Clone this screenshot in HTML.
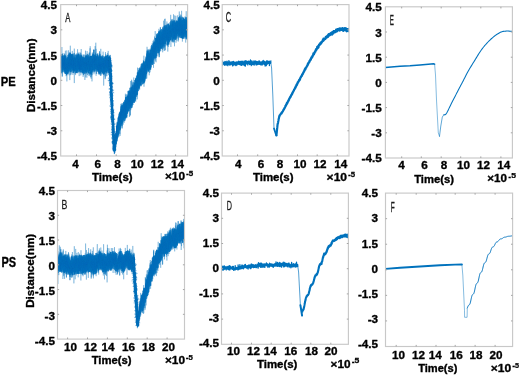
<!DOCTYPE html>
<html><head><meta charset="utf-8"><style>html,body{margin:0;padding:0;background:#fff;overflow:hidden;width:520px;height:376px;}svg{display:block}</style></head>
<body>
<svg width="520" height="376" viewBox="0 0 520 376">
<defs><clipPath id="cA"><rect x="60.7" y="4.6" width="126.9" height="151.4"/></clipPath><clipPath id="cC"><rect x="222.2" y="4.6" width="126.8" height="151.4"/></clipPath><clipPath id="cE"><rect x="385.4" y="6.8" width="127" height="151.2"/></clipPath><clipPath id="cB"><rect x="57.5" y="190.5" width="127" height="148.6"/></clipPath><clipPath id="cD"><rect x="221.5" y="193.1" width="126.9" height="151.2"/></clipPath><clipPath id="cF"><rect x="385.5" y="193.1" width="127.1" height="153.4"/></clipPath></defs>
<rect width="520" height="376" fill="#fff"/>
<g clip-path="url(#cA)"><path d="M60.7 66.5l0.1 2.9 0 -3.1 0 -10.1 0.1 13.6 0 -2.8 0.1 -6.1 0 6.9 0.1 -1.4 0 -0.5 0.1 -1.6 0 3.2 0.1 -8 0 3.5 0.1 -2 0 6.7 0.1 -3.5 0 -2.1 0.1 -3 0 3.2 0.1 1.6 0 -1.8 0.1 9.8 0 -1.9 0.1 -23 0 5 0.1 10.7 0 -1.6 0.1 3.9 0 0 0.1 11.8 0 -20.1 0.1 4.6 0 14.9 0.1 -8.6 0 0 0.1 -7.3 0 -7 0.1 11.2 0 -0.4 0.1 -8.3 0 3.4 0.1 3.7 0 -5.4 0.1 5.2 0 1.2 0.1 -0.4 0 -3.4 0.1 6.8 0 1.8 0.1 -3.5 0 -7.1 0.1 9.6 0 -7.7 0.1 8.6 0 -12.2 0.1 12.3 0 -5.8 0.1 -7.6 0 5.7 0.1 2.3 0 1.4 0.1 -7.7 0 -0.8 0.1 8.2 0 -4.1 0.1 4.4 0 3.3 0.1 -14.9 0 11.9 0.1 6 0 -9.3 0.1 -3.2 0 9.8 0.1 -3.1 0 4 0.1 -7.6 0 -7 0.1 8.6 0 -2.1 0.1 7.6 0 -3.5 0.1 -11.3 0 2.8 0.1 12.9 0 -1.2 0.1 -8.1 0 4 0.1 2.8 0 0.2 0.1 2.5 0 -3.7 0.1 -2.2 0 -0.9 0.1 8.2 0 -20.5 0.1 13.1 0 1.2 0.1 -9 0 10.9 0.1 -6 0 9.4 0.1 -6.1 0 5 0.1 3.4 0 -5.1 0.1 -7.7 0 -4 0.1 20.4 0 -11.6 0.1 -3.5 0 5.2 0.1 -2 0 6.5 0.1 -5 0 -0.1 0.1 -4.5 0 7.4 0.1 -9.2 0 10.5 0.1 5.4 0 -19 0.1 -5.9 0 19.1 0.1 11.9 0 -22 0.1 -1.7 0 11.4 0.1 -8.9 0 2 0.1 0.9 0 5.4 0.1 -5.9 0 4.2 0.1 -2.9 0 -4.2 0.1 3.2 0 -4 0.1 5.9 0 -7.1 0.1 0.2 0 15.7 0.1 -9.4 0 -0.1 0.1 3.5 0 -5.9 0.1 1.2 0 4 0.1 -1 0 -9 0.1 12.3 0 -8.9 0.1 -2.9 0 0.9 0.1 3.1 0 12.4 0.1 -17.4 0 8.2 0.1 -14.3 0 13.2 0.1 5.5 0 -7.1 0.1 -2.5 0 5.3 0.1 2.8 0 -0.3 0.1 8.1 0 -11 0.1 -5 0 2.8 0.1 0.3 0 1 0.1 -0.9 0 1.2 0.1 -11.5 0 15.5 0.1 -8.8 0 -3.8 0.1 11.2 0 4.1 0.1 -5.1 0 -2.1 0.1 -6.7 0 23.6 0.1 -12.3 0 -12.5 0.1 2.2 0 5.4 0.1 -10.1 0 10.7 0.1 -3.9 0 10.5 0.1 -1.6 0 -22.8 0.1 17.1 0 -10.3 0.1 17 0 -5.9 0.1 2.4 0 -10 0.1 18 0 1.2 0.1 -19.1 0 9 0.1 -6.5 0 4 0.1 -7.6 0 19.4 0.1 -17.5 0 4.1 0.1 5 0 -7.1 0.1 2.6 0 -2 0.1 2.7 0 -6.4 0.1 4.5 0 1.5 0.1 -0.8 0 2.5 0.1 -2.2 0 6.5 0.1 -6.6 0 1.2 0.1 -3.3 0 0.9 0.1 -4.6 0 11.1 0.1 -10.3 0 2.5 0.1 6.9 0 0.3 0.1 -5 0 -10 0.1 15.2 0 -1 0.1 -10.3 0 13.5 0.1 -9.1 0 -2.6 0.1 7.6 0 -1.7 0.1 2.4 0 -11.2 0.1 21.2 0 -15 0.1 -5.8 0 13.4 0.1 -6 0 4.2 0.1 -4.1 0 1.7 0.1 1.9 0 -6.1 0.1 8.8 0 -7.1 0.1 -2.5 0 5.9 0.1 2.3 0 -4.2 0.1 -3.9 0 9.2 0.1 -14.7 0 4.5 0.1 6.6 0 -8.6 0.1 8.6 0 -0.5 0.1 5.9 0 -11.2 0.1 1.8 0 5.9 0.1 -17.3 0 34.5 0.1 -23.6 0 -0.1 0.1 9.8 0 -5.5 0.1 -10.8 0 14.9 0.1 1.4 0 -8.1 0.1 1.1 0 4.8 0.1 -8.7 0 8.4 0.1 -1.5 0 -5.4 0.1 -4.4 0 7.2 0.1 -4 0 11.6 0.1 -5.3 0 4 0.1 -4 0 0.8 0.1 -6.5 0 9 0.1 6.9 0 -13 0.1 -1.7 0 2.7 0.1 -2.1 0 -1.3 0.1 5.1 0 -2.6 0.1 10.7 0 -9 0.1 2 0 3.9 0.1 -7.8 0 10.8 0.1 -12.9 0 -1.1 0.1 2.7 0 1.6 0.1 -8 0 8.4 0.1 -10.1 0 18.9 0.1 -9.1 0 -3.5 0.1 -1.7 0 3.2 0.1 1 0 -5.1 0.1 0.7 0 4.6 0.1 -2.1 0 9 0.1 1.2 0 -6.9 0.1 2.8 0 -11.3 0.1 12.2 0 -4.1 0.1 3.2 0 6.9 0.1 -24.1 0 15.7 0.1 -8.4 0 10.4 0.1 -11.8 0 5 0.1 4.4 0 2.5 0.1 -3.4 0 -5.4 0.1 1.5 0 8.9 0.1 -5.6 0 -10.4 0.1 15.7 0 -2.7 0.1 2.8 0 -7.5 0.1 7.2 0 -11.7 0.1 10.1 0 -6.6 0.1 7.2 0 2 0.1 -10.8 0 4.3 0.1 0.5 0 7.2 0.1 -3 0 -12 0.1 10.5 0 1.7 0.1 8.6 0 -23.6 0.1 7.1 0 11.6 0.1 -16.7 0 1 0.1 10.7 0 3.1 0.1 -10.5 0 7.5 0.1 -2.6 0 8.7 0.1 -9.4 0 6.1 0.1 -11.7 0 4.4 0.1 0.6 0 7.7 0.1 -3.5 0 -8.3 0.1 8.9 0 0.6 0.1 -5.5 0 -0.9 0.1 0.4 0 -9.3 0.1 11.7 0 0.3 0.1 -6.8 0 10 0.1 -13.2 0 5.1 0.1 0.5 0 15.3 0.1 -22.2 0 13.4 0.1 2.3 0 -3.5 0.1 5 0 -13.5 0.1 -7.9 0 18.9 0.1 -12.2 0 5.4 0.1 -5.3 0 13.8 0.1 -1.1 0 -9.8 0.1 10 0 -4.8 0.1 -1.6 0 1.2 0.1 -1.6 0 5.1 0.1 -1.9 0 -4 0.1 8.4 0 -10 0.1 5.6 0 0.8 0.1 6.6 0 -12.3 0.1 14 0 -9.7 0.1 -2.3 0 -3 0.1 7.9 0 -3.4 0.1 -7.1 0 -0.1 0.1 3.6 0 -0.8 0.1 11 0 1.8 0.1 -3.1 0 -3.2 0.1 -4.9 0 3.1 0.1 5.1 0 7.8 0.1 -7.6 0 -7.3 0.1 1.9 0 -3.2 0.1 -1.8 0 3.7 0.1 2.4 0 10.2 0.1 -11.1 0 8.1 0.1 2.6 0 -10.4 0.1 9.5 0 -5.6 0.1 -7 0 4.3 0.1 -1.5 0 -1.6 0.1 0.3 0 2.1 0.1 1.8 0 -8.1 0.1 5.4 0 -9.4 0.1 11.1 0 2.3 0.1 -2.9 0 0.8 0.1 1.9 0 -7.7 0.1 2.6 0 4.7 0.1 3 0 -3.8 0.1 13.4 0 -16.4 0.1 6.7 0 1.6 0.1 -8.7 0 -4.2 0.1 -2.3 0 8.3 0.1 5.9 0 -5.2 0.1 -0.6 0 -3.5 0.1 5.8 0 -16.7 0.1 14.7 0 -1.3 0.1 -8.7 0 22 0.1 -22.1 0 1.9 0.1 -0.8 0 14.3 0.1 -12.4 0 9.6 0.1 -0.5 0 -2 0.1 -9.8 0 4.3 0.1 14.2 0 -18.4 0.1 2.8 0 4.2 0.1 6 0 -3.5 0.1 3 0 -11.2 0.1 12.4 0 -2.3 0.1 -13.4 0 19.4 0.1 4.6 0 -19 0.1 5.1 0 8.3 0.1 -17.8 0 -3.2 0.1 4.3 0 4.5 0.1 -0.1 0 7.4 0.1 -2.2 0 -9.4 0.1 11.3 0 8.1 0.1 -4.3 0 -1.3 0.1 -6 0 6 0.1 -12 0 10.7 0.1 -5.2 0 7.6 0.1 -4.1 0 -9.6 0.1 7.6 0 6.8 0.1 -14.5 0 3.6 0.1 -1.3 0 -4.5 0.1 15.3 0 2.2 0.1 -3.1 0 -3.4 0.1 -1.8 0 1.8 0.1 -5.9 0 10.1 0.1 1 0 -0.7 0.1 -9 0 3.8 0.1 -1.5 0 12.2 0.1 -10 0 -12.7 0.1 14.2 0 9.2 0.1 -7.4 0 1.3 0.1 -5.2 0 -12.4 0.1 1 0 3.6 0.1 6.9 0 2.8 0.1 2.4 0 -6.4 0.1 8.1 0 -7.6 0.1 -2.6 0 9.7 0.1 -10.9 0 -11.2 0.1 10.4 0 7.2 0.1 -19.7 0 17 0.1 0.2 0 -6.8 0.1 -0.3 0 6.4 0.1 -0.5 0 11.3 0.1 -5.5 0 -12.1 0.1 4.6 0 9.6 0.1 7.3 0 -9.4 0.1 -0.5 0 9.6 0.1 -11.7 0 -1.9 0.1 -6.9 0 5.6 0.1 16.6 0 -22.3 0.1 8.8 0 -8.9 0.1 9.5 0 4.7 0.1 -7.1 0 6 0.1 -0.1 0 -1.7 0.1 7.8 0 -5.9 0.1 -6.7 0 -2.4 0.1 -1.1 0 8.2 0.1 -5 0 18.8 0.1 -5.5 0 -12.8 0.1 -0.8 0 12.5 0.1 -22.2 0 8.8 0.1 8.7 0 -11.6 0.1 2.6 0 0.8 0.1 6.2 0 -3.3 0.1 1.6 0 1.1 0.1 -3.5 0 6.6 0.1 -11.4 0 -4.4 0.1 -2.2 0 0.9 0.1 6.6 0 9.8 0.1 -5.4 0 -4.8 0.1 -3 0 3.3 0.1 0.7 0 -1 0.1 -5.4 0 5.8 0.1 9.3 0 -19.9 0.1 12 0 -11.7 0.1 14.3 0 -5.8 0.1 -8.3 0 13.6 0.1 10.7 0 -10.6 0.1 6.5 0 -7.6 0.1 -13 0 16.5 0.1 -5.7 0 -6.4 0.1 13.9 0 -3.1 0.1 -5 0 8.6 0.1 -10.8 0 9.4 0.1 -9.8 0 9.2 0.1 -10.2 0 16.1 0.1 -7.6 0 7.3 0.1 -14 0 2.1 0.1 8.2 0 -22.2 0.1 10.4 0 13 0.1 -3.5 0 3.2 0.1 -8 0 5.4 0.1 -8 0 -4 0.1 -2 0 7.1 0.1 0.1 0 -0.5 0.1 -16.6 0 8.1 0.1 9.1 0 5.1 0.1 -5.4 0 -1.8 0.1 -8.9 0 26.8 0.1 -19.3 0 17.3 0.1 -0.8 0 -8 0.1 -5.2 0 4.4 0.1 -8 0 8.8 0.1 -1.6 0 3.3 0.1 2.6 0 4.8 0.1 -13.1 0 8.9 0.1 -11.3 0 -0.6 0.1 1.7 0 -2.2 0.1 12.2 0 -0.3 0.1 2.1 0 -8 0.1 1.9 0 -5.2 0.1 -3.6 0 10 0.1 -1.1 0 -8.5 0.1 10.5 0 -14.4 0.1 9.7 0 -2.7 0.1 0.6 0 -3.4 0.1 12.7 0 -2.4 0.1 3.9 0 -6.5 0.1 -8.9 0 5.8 0.1 -5 0 10.1 0.1 4.7 0 -5.4 0.1 -5.7 0 1.4 0.1 3.6 0 -10.2 0.1 9.9 0 0.3 0.1 -4.5 0 0.8 0.1 3.6 0 -6.1 0.1 0 0 10 0.1 -3.4 0 9 0.1 -16.5 0 -4.9 0.1 16.9 0 0.1 0.1 -10.4 0 -4.5 0.1 8.8 0 -10.6 0.1 8.8 0 -11.4 0.1 12.1 0 -11.7 0.1 11.7 0 10.9 0.1 -11 0 6.4 0.1 -8.8 0 -1.5 0.1 -3.8 0 15.7 0.1 -6.8 0 10.4 0.1 -17.4 0 6 0.1 1.8 0 8.3 0.1 2.5 0 -15.3 0.1 -3 0 -3.8 0.1 19.1 0 -8.8 0.1 -3.5 0 3.7 0.1 -15.6 0 5.2 0.1 16.5 0 -3.4 0.1 -1.5 0 -7.1 0.1 9.8 0 7.4 0.1 -18.6 0 7.7 0.1 -2.8 0 4.9 0.1 -2.2 0 -1 0.1 -4.5 0 5.4 0.1 -3.8 0 2.9 0.1 0.6 0 4.4 0.1 -7.7 0 1.6 0.1 8.7 0 -8 0.1 -0.3 0 7 0.1 -3.7 0 -1.1 0.1 0.8 0 -9 0.1 10.5 0 5.4 0.1 -4.6 0 -13.3 0.1 11.4 0 -7.3 0.1 4.2 0 2.2 0.1 -8.2 0 15.7 0.1 -8.7 0 5.4 0.1 -1 0 4.4 0.1 -0.9 0 -16.5 0.1 9.4 0 -13.5 0.1 10.5 0 7.2 0.1 1.2 0 2.4 0.1 -10.3 0 4.3 0.1 -1.4 0 7.3 0.1 2 0 -12.1 0.1 22.9 0 -20.6 0.1 -2.3 0 6 0.1 1 0 -1.3 0.1 -7.4 0 13.2 0.1 -8.8 0 9.2 0.1 -0.9 0 -16.5 0.1 1.9 0 -0.2 0.1 7.8 0 -1.2 0.1 1.4 0 -6.7 0.1 7.7 0 6 0.1 -16.9 0 7 0.1 2.8 0 -2.3 0.1 -0.4 0 12.2 0.1 -3 0 -2.7 0.1 -10 0 18.6 0.1 -11.6 0 -5.8 0.1 1.5 0 -0.9 0.1 16.1 0 -11.8 0.1 -0.9 0 -13.7 0.1 17.9 0 -11.1 0.1 -0.4 0 10.7 0.1 -9.2 0 10.5 0.1 1.8 0 -18.1 0.1 10.2 0 -8.9 0.1 9.3 0 6 0.1 -14.1 0 19.6 0.1 -13.2 0 -5.4 0.1 6.5 0 5.7 0.1 -13.5 0 8.5 0.1 -8.6 0 16 0.1 -6.6 0 -3.6 0.1 9 0 -14.4 0.1 5.5 0 13.9 0.1 -12.3 0 9.2 0.1 -7.3 0 -5.6 0.1 2.8 0 2 0.1 -3.1 0 -2.6 0.1 0.3 0 -4.4 0.1 9.8 0 1.7 0.1 2.2 0 -15.9 0.1 16.2 0 -5.1 0.1 -8.8 0 9.4 0.1 4.4 0 -1.8 0.1 1.2 0 1.3 0.1 -0.3 0 -5.8 0.1 -12.7 0 8.1 0.1 6.9 0 -5.1 0.1 7.1 0 0.7 0.1 -4.7 0 11.3 0.1 -17.7 0 11.8 0.1 -8.8 0 -1.9 0.1 8.6 0 -7.5 0.1 9.2 0 -12.6 0.1 7.5 0 -5.4 0.1 3.8 0 -0.8 0.1 -4.7 0 11.1 0.1 -11.8 0 1.7 0.1 11.6 0 0.5 0.1 -1.8 0 -2 0.1 12 0 -21.6 0.1 2.9 0 -1.5 0.1 11.7 0 -3.7 0.1 5.1 0 -0.8 0.1 -7.4 0 -3.7 0.1 -1 0 19.8 0.1 -7.6 0 -2.3" fill="none" stroke="#0072BD" stroke-width="0.5" stroke-opacity="0.6" stroke-linejoin="round"/><path d="M60.7 62.7l0 0.6 0.1 -0.7 0 0.1 0 -7.7 0 8.9 0 -1.5 0.1 3.1 0 -0.4 0 3 0 -4 0.1 3.7 0 -12.9 0 4.1 0 13.1 0.1 -13.7 0 4.4 0 4.6 0 -7.4 0.1 7.4 0 -10 0 -2.3 0 2.7 0.1 -1.5 0 7.6 0 -1.4 0 3 0.1 -6.4 0 14.2 0 -9.8 0 0.2 0.1 2.3 0 -3.2 0 -1.9 0 3.4 0.1 3.8 0 -1.2 0 1.3 0 -7 0.1 -1 0 12.9 0 -10.4 0 3.3 0.1 1.2 0 3.2 0 -12.9 0 4 0.1 0.2 0 0.6 0 -7.8 0 8.8 0.1 -8.9 0 10.7 0 1.1 0 0.2 0.1 -8.3 0 10 0 -8.5 0 -1.7 0.1 1.2 0 0.6 0 4.7 0 3 0.1 -13.1 0 6.7 0 6.7 0 -3.2 0.1 1.4 0 -9.3 0 11.4 0 -11.8 0.1 8.2 0 5.4 0 2.4 0 -6.3 0.1 1.7 0 -7 0 0.6 0 7.7 0.1 -5.5 0 -0.6 0 -6 0 7.3 0.1 2.3 0 -6.7 0 1.3 0 9.7 0.1 -6.5 0 -2.2 0 -4 0 2.4 0.1 1.7 0 7.6 0 -9.3 0 11.2 0.1 -12.7 0 2.7 0 5.6 0 -5.1 0.1 -2.8 0 3.3 0 2.7 0 -10.1 0.1 6.8 0 0.6 0 -1.3 0 5.2 0.1 -6 0 0.9 0 1.9 0 3.2 0.1 -4.5 0 8.1 0 -11.3 0 10.2 0.1 -10 0 3.3 0 2.4 0 7.6 0.1 -5.2 0 -6 0 7.9 0 -7 0.1 -2.6 0 5.8 0 -1.7 0 4 0.1 -6.9 0 4.3 0 1.2 0 -1.6 0.1 -1.4 0 -3.1 0 7.5 0 -3.6 0.1 1.7 0 -3.9 0 1.7 0 -4.8 0.1 5.2 0 3.2 0 -3.1 0 3.6 0.1 -2.5 0 4.9 0 -7.2 0 -6.7 0.1 9.6 0 -2.7 0 -3.8 0 7.6 0.1 -1.8 0 0.9 0 -3.6 0 2.5 0.1 0.3 0 7.1 0 -11.4 0 3.1 0.1 1.8 0 -9.7 0 0.6 0 16.8 0.1 -17.5 0 10.9 0 -6.6 0 0.4 0.1 -5.6 0 5 0 7.9 0 -10.1 0.1 9.3 0 -1.3 0 7.8 0 -11.4 0.1 8.1 0 -1.7 0 -5.5 0 -6.4 0.1 14.8 0 -13.3 0 4.1 0 6.4 0.1 1.1 0 -9.1 0 3.8 0 -1 0.1 6.7 0 3.8 0 -17.8 0 12.8 0.1 -13.5 0 9.4 0 -5.2 0 14.4 0.1 -8.4 0 -4.2 0 1.1 0 -0.3 0.1 3.5 0 -1.5 0 3.8 0 4.1 0.1 -3.9 0 -8.9 0 -1.8 0 4 0.1 8.5 0 -6.5 0 -1.5 0 3.8 0.1 -7.2 0 1.3 0 7.7 0 -3.8 0.1 -0.6 0 3.6 0 -4.2 0 -0.5 0.1 1.1 0 5 0 -2.5 0 -5.8 0.1 4.1 0 4.5 0 5.7 0 -14 0.1 6.9 0 -2.7 0 5 0 -1.7 0.1 4.8 0 -4.4 0 -4.9 0 0 0.1 4.4 0 0 0 7.5 0 -1.5 0.1 -13.2 0 7.1 0 -7.9 0 -1.5 0.1 11.1 0 -0.9 0 -7.4 0 12.4 0.1 -12.2 0 -0.9 0 8.4 0 -2 0.1 -1.8 0 0.4 0 1.3 0 -1.7 0.1 -0.2 0 -8 0 2.5 0 9.1 0.1 -6.2 0 5.8 0 3.2 0 -7.5 0.1 3 0 7.9 0 -6.1 0 5.3 0.1 -1.4 0 -3.7 0 -4 0 -3.5 0.1 -1.3 0 7.4 0 -0.1 0 -3 0.1 4.7 0 -6.7 0 7.9 0 -5 0.1 -0.4 0 0.1 0 -0.4 0 9.7 0.1 -16.8 0 8.2 0 5 0 -2.5 0.1 -4.8 0 9.5 0 -13.1 0 -1.1 0.1 8.7 0 -9.5 0 -2.6 0 13.4 0.1 -0.6 0 -0.1 0 -5.7 0 3 0.1 -5.3 0 12.5 0 -4.4 0 -0.3 0.1 -12.5 0 12.8 0 3.1 0 -1.3 0.1 -2 0 -3.7 0 -1.6 0 4.3 0.1 -1 0 -0.7 0 -2.6 0 9.2 0.1 -13.3 0 5.3 0 -2.6 0 7.5 0.1 1.8 0 -0.9 0 -2.3 0 -10.1 0.1 15.8 0 -6.9 0 -2.9 0 0.5 0.1 -1.7 0 3.6 0 -0.6 0 -3.2 0.1 -7.6 0 9.1 0 2.3 0 0.2 0.1 -3.1 0 2.7 0 2.7 0 -7 0.1 9 0 -16 0 3.2 0 1.6 0.1 -5.1 0 4.6 0 10.5 0 -0.1 0.1 -5.3 0 7.5 0 -6.9 0 -3.5 0.1 3.4 0 -1.8 0 4 0 -10.4 0.1 11.6 0 -6.8 0 6.1 0 -11.2 0.1 5.2 0 2.3 0 3.8 0 -9.8 0.1 13.4 0 -5.5 0 -4.7 0 8.1 0.1 -5.1 0 4.9 0 3.9 0 -5.7 0.1 -6 0 0.5 0 4.7 0 -1.4 0.1 -5.2 0 0.8 0 6.2 0 6.2 0.1 -18.6 0 12.7 0 -4.3 0 4.6 0.1 0.4 0 -3.8 0 -4.9 0 -1.8 0.1 -2.2 0 14.4 0 -6.6 0 -1.6 0.1 1.3 0 -4.9 0 7.6 0 4.7 0.1 -0.8 0 -12.6 0 13.7 0 -9.9 0.1 -5.3 0 3.2 0 1.2 0 4.5 0.1 -4.8 0 -2.2 0 5.8 0 10.2 0.1 -12.2 0 5.4 0 -1.7 0 8.9 0.1 -18.1 0 13.9 0 -11 0 3.2 0.1 2.3 0 9.8 0 -12.9 0 -5.2 0.1 14.8 0 -9.9 0 2.8 0 1 0.1 0.6 0 -1.2 0 2 0 0.6 0.1 2.2 0 -6 0 -1.5 0 -1.4 0.1 7.7 0 -3 0 2.8 0 0 0.1 5.3 0 -6.8 0 2.5 0 -9.1 0.1 0.6 0 3.6 0 -4.2 0 8.9 0.1 -9.4 0 6.5 0 -9.6 0 4.2 0.1 3.5 0 0.4 0 -7.1 0 8.9 0.1 4 0 -1.5 0 -6.1 0 0.4 0.1 -2.8 0 8.5 0 3.7 0 -9.1 0.1 -5.4 0 8.8 0 2.4 0 -12.6 0.1 10 0 8.6 0 -5.5 0 -1.2 0.1 -0.7 0 3.1 0 -9.3 0 0.5 0.1 5.8 0 -5.1 0 4.4 0 -10.1 0.1 12.5 0 0.4 0 -3.7 0 0.5 0.1 6.8 0 -12.5 0 0.8 0 -0.9 0.1 3.1 0 -2.7 0 4.9 0 -3.2 0.1 -3.7 0 -0.5 0 12.9 0 -6 0.1 -0.7 0 1.2 0 -0.5 0 3.9 0.1 -0.9 0 -5.4 0 -1.1 0 -1.2 0.1 -0.7 0 12.3 0 -10.8 0 -5 0.1 5.4 0 0.2 0 5.2 0 -5.6 0.1 6.6 0 -0.7 0 4.1 0 3.4 0.1 0 0 -3 0 -11.7 0 3.6 0.1 3 0 8.2 0 -6.2 0 2.5 0.1 -6.4 0 3.5 0 0.6 0 -5.4 0.1 5.7 0 1.4 0 -5.7 0 5.4 0.1 3 0 -7.4 0 -0.3 0 -1.4 0.1 -1.5 0 3.6 0 -2.6 0 0.5 0.1 -2.2 0 -3.5 0 2.8 0 5.9 0.1 -7.1 0 2.5 0 10.7 0 -2.4 0.1 -8.5 0 6.1 0 -5.9 0 10.6 0.1 -10.2 0 3.1 0 6 0 -10.3 0.1 10 0 -9.9 0 4.9 0 -2.5 0.1 1 0 1.2 0 -1.1 0 -4.4 0.1 8.8 0 -0.7 0 2.6 0 0.5 0.1 -12.7 0 12.2 0 0.1 0 -8.5 0.1 7.3 0 2 0 -9.3 0 -3.9 0.1 4.7 0 11 0 -8.2 0 -6.8 0.1 4.5 0 -3.4 0 2.7 0 2.3 0.1 -9.7 0 11 0 4.9 0 -7.5 0.1 -0.9 0 6.9 0 -11 0 0.1 0.1 -0.6 0 5.7 0 2.6 0 -2.3 0.1 3 0 1.3 0 -1.5 0 -6.1 0.1 2.5 0 7.1 0 -10.7 0 3.7 0.1 -0.8 0 1.1 0 -4.1 0 -1.3 0.1 15.5 0 -4.9 0 -7.7 0 3 0.1 3.4 0 -4.7 0 4.4 0 -5.7 0.1 1.2 0 1.3 0 -1.8 0 -7.2 0.1 9.4 0 1.1 0 1 0 -6.8 0.1 6.2 0 -0.6 0 -9.3 0 -1.1 0.1 11.6 0 -6.7 0 9.1 0 4.6 0.1 -12 0 -0.5 0 3.1 0 3.2 0.1 -8.4 0 11 0 -1.2 0 -1.5 0.1 -5.6 0 6.8 0 -0.3 0 -9.6 0.1 14.9 0 -10.7 0 3.1 0 -4.2 0.1 4.2 0 3.6 0 -9.1 0 -4 0.1 5.6 0 -4 0 2.6 0 2.9 0.1 0.3 0 6.3 0 -10.8 0 6.4 0.1 -4 0 8.7 0 2.9 0 -7.9 0.1 6.4 0 -10.3 0 -5 0 1.5 0.1 -1.4 0 2.9 0 3.3 0 6.5 0.1 -2.1 0 -1.2 0 -4.1 0 -1.4 0.1 3.5 0 0.5 0 0.5 0 0.6 0.1 -2.3 0 -8.4 0 3.7 0 1.4 0.1 11.7 0 -9.9 0 5.1 0 3.7 0.1 -5.3 0 -3.4 0 0.5 0 -3.4 0.1 6.1 0 3.8 0 -2.6 0 1 0.1 -0.3 0 6 0 -12.3 0 3.7 0.1 2.5 0 2.5 0 -15.1 0 6.9 0.1 1.4 0 -3.8 0 8.7 0 -2.9 0.1 -2.9 0 -5.8 0 1.5 0 1.5 0.1 6.7 0 -7.8 0 -3.6 0 2.5 0.1 4 0 10.5 0 1.5 0 -11.5 0.1 6.6 0 2.1 0 -0.5 0 -6.5 0.1 -5.6 0 3.8 0 -6.4 0 9.8 0.1 2.5 0 -12.4 0 8.5 0 1.7 0.1 4.4 0 0.6 0 -2.7 0 -6.9 0.1 1.5 0 7.3 0 -8.4 0 2.6 0.1 7.5 0 -6.7 0 -7 0 5 0.1 4.4 0 -3.9 0 6.3 0 0.6 0.1 -9 0 0.7 0 1.8 0 -5.1 0.1 7.4 0 -2.6 0 4.5 0 -6.4 0.1 -1.3 0 12.6 0 -12.6 0 1.3 0.1 -0.6 0 1.9 0 -2.8 0 4.1 0.1 -3.1 0 1.3 0 3.7 0 1.5 0.1 -1.1 0 -5.5 0 5.2 0 -2.4 0.1 0.1 0 -7.5 0 11.1 0 -3.8 0.1 8.6 0 -4.9 0 -8.2 0 -1.2 0.1 11.8 0 -9.5 0 7.3 0 -4.6 0.1 10.7 0 -8.9 0 6.7 0 -0.9 0.1 -8.3 0 0.6 0 8.5 0 -6.9 0.1 -4.1 0 9.7 0 3.6 0 -9.4 0.1 6.7 0 -7.2 0 7.1 0 -7.4 0.1 7.3 0 -3.7 0 -3.3 0 1.9 0.1 -3.6 0 -2.7 0 0.4 0 4.6 0.1 -4.6 0 7 0 0.4 0 -0.3 0.1 -4.5 0 2.6 0 -0.3 0 6.2 0.1 -9.9 0 2 0 0.7 0 0.4 0.1 -2.8 0 0.6 0 7.6 0 -7.6 0.1 7.2 0 4.7 0 -3 0 -14.4 0.1 12 0 -1.3 0 0.3 0 -10.1 0.1 11.1 0 -8.6 0 11.1 0 -1.1 0.1 4 0 -10.8 0 -5.3 0 12 0.1 -0.8 0 -5.8 0 8.1 0 -3.2 0.1 -9.2 0 4.4 0 -0.4 0 1.5 0.1 1.5 0 -4.2 0 2.4 0 3.6 0.1 -3 0 -1 0 -0.1 0 1 0.1 -8.5 0 9.7 0 -5.5 0 5.2 0.1 -7.3 0 11.2 0 -3.2 0 -7.4 0.1 7.4 0 -4.6 0 11.9 0 -6.1 0.1 -6 0 4.8 0 -1.2 0 5.7 0.1 -3.9 0 0.8 0 -7.6 0 8.9 0.1 5.3 0 -6 0 -3.1 0 0.9 0.1 -5.2 0 5.3 0 -5.9 0 5.3 0.1 -2 0 -2 0 6.5 0 -9.6 0.1 6.8 0 -6 0 14.7 0 0.5 0.1 -5.1 0 4.9 0 -6 0 -0.3 0.1 -4.5 0 -2.1 0 4.7 0 -3.1 0.1 0.5 0 5.4 0 -3.9 0 -6.7 0.1 6.3 0 -2.6 0 2.2 0 -3.7 0.1 10.7 0 3.3 0 -14 0 8.1 0.1 -0.2 0 -7.8 0 5.5 0 6.1 0.1 -2.6 0 3.6 0 -13 0 2 0.1 4.8 0 0.3 0 -1.5 0 -1.9 0.1 -0.1 0 -0.9 0 4.9 0 -11.6 0.1 17 0 -9.9 0 -4.2 0 9.2 0.1 -9.1 0 8.3 0 -3.6 0 4.6 0.1 0.9 0 2.4 0 -8.3 0 0.9 0.1 1.3 0 -6.5 0 9.3 0 -2.1 0.1 -6.8 0 11.8 0 0.8 0 -12.5 0.1 8.8 0 3.1 0 -1.9 0 -8.4 0.1 -1.9 0 5.9 0 -1.7 0 2.2 0.1 -0.4 0 2.9 0 -5 0 1.8 0.1 10 0 -9.8 0 4 0 -2 0.1 -0.4 0 -5.2 0 6.7 0 -2.7 0.1 4 0 5.4 0 -8.4 0 2.7 0.1 -8.3 0 5.3 0 6.7 0 -7.5 0.1 -2.7 0 3.9 0 -1.9 0 -0.2 0.1 -0.6 0 10.9 0 -13.3 0 2.1 0.1 -0.7 0 8.4 0 -7.1 0 7.4 0.1 -5.3 0 -0.9 0 -6.7 0 12.4 0.1 -3.1 0 -0.6 0 -2.5 0 -1.4 0.1 -3.9 0 10.3 0 -3.2 0 -2.9 0.1 -1.3 0 3.5 0 -1 0 8 0.1 -4 0 -6.4 0 -2.4 0 4.1 0.1 -3.2 0 4.6 0 1.5 0 1.1 0.1 -1 0 -2.8 0 3.6 0 -6.9 0.1 3.8 0 4.1 0 -2.4 0 -7.3 0.1 0.5 0 -2.1 0 15.9 0 -15.6 0.1 6.5 0 9.2 0 -3.5 0 1.1 0.1 -8.5 0 5.8 0 5.7 0 -9.3 0.1 2.1 0 -3.4 0 1.4 0 1.8 0.1 4.7 0 -10.7 0 -2.4 0 6.7 0.1 0.8 0 5.7 0 -3.3 0 -6.2 0.1 5.5 0 2.6 0 -3.9 0 -2.9 0.1 4.7 0 -4.8 0 -7.1 0 14.9 0.1 -12.2 0 4.4 0 0.1 0 -0.1 0.1 0.2 0 -5.3 0 9.1 0 -2.3 0.1 0 0 4.8 0 0.1 0 1.1 0.1 2.4 0 -6.5 0 -9.3 0 8.1 0.1 -0.9 0 0.3 0 -3.2 0 -1.3 0.1 7.8 0 0.8 0 -9.7 0 7.7 0.1 -3.3 0 -1 0 5 0 -3.5 0.1 -2.3 0 2.8 0 -9.6 0 6.6 0.1 0.7 0 -4.5 0 7.3 0 0.5 0.1 -4.1 0 2.1 0 3.9 0 1.8 0.1 -8.4 0 5.1 0 3.3 0 -5 0.1 -3.4 0 0 0 2.1 0 -3.3 0.1 14.1 0 -11.9 0 4.4 0 -0.9 0.1 2.1 0 -4.7 0 -4.2 0 13.7 0.1 -8 0 0.9 0 0.4 0 5 0.1 -2.3 0 1.9 0 -1.6 0 -3.1 0.1 0.5 0 -4.6 0 -5.6 0 8 0.1 -3.9 0 14.3 0 -2 0 -1.8 0.1 -8 0 11.9 0 -17.2 0 2.3 0.1 2 0 -0.8 0 5.1 0 0.3 0.1 8 0 -4.2 0 1.1 0 -3.8 0.1 -2.6 0 -2.4 0 -3.9 0 3 0.1 2.3 0 5.4 0 -11.4 0 1.5 0.1 7.4 0 -5.9 0 6.5 0 -3.5 0.1 -1.5 0 -2.7 0 5.8 0 -3 0.1 0.6 0 -0.1 0 3.9 0 -0.2 0.1 -8.6 0 7.2 0 2.6 0 3 0.1 -1.2 0 -2.6 0 -6.3 0 1.8 0.1 7.8 0 -7.5 0 8.1 0 1.2 0.1 -10.9 0 7 0 -2.5 0 9.8 0.1 -5.4 0 -6.2 0 4.3 0 -6.2 0.1 3.6 0 1.7 0 -0.2 0 0.7 0.1 -5.6 0 -4.4 0 7 0 -2.5 0.1 0.9 0 12.6 0 -3.8 0 -6.2 0.1 -5.9 0 0.7 0 7.7 0 3.3 0.1 -6.3 0 2 0 0.6 0 3.8 0.1 -13.7 0 9.5 0 1.2 0 2.6 0.1 -2.6 0 -6.9 0 2.4 0 -4.3 0.1 8 0 0 0 1.4 0 -6.9 0.1 -0.8 0 12.4 0 -6.3 0 7.3 0.1 -6.1 0 -8.9 0 10.5 0 2 0.1 -7.9 0 -6.8 0 12 0 -3.8 0.1 1.9 0 -10.6 0 11.4 0 -11.4 0.1 5.2 0 8.1 0 -12.6 0 -0.2 0.1 6.6 0 9.7 0 -0.2 0 -10.4 0.1 7.5 0 -2 0 -1.5 0 0.4 0.1 -5 0 7.1 0 1.1 0 4.4 0.1 -5.1 0 -13.6 0 3.7 0 7.1 0.1 -1.2 0 -9 0 8 0 -1.1 0.1 1.4 0 -0.3 0 4.8 0 2.5 0.1 -3.7 0 -8.3 0 1.1 0 0.9 0.1 2.8 0 -1.7 0 0.3 0 -2.7 0.1 8.7 0 -0.5 0 0.5 0 -4.9 0.1 2.5 0 -6.4 0 -0.5 0 2.2 0.1 5.2 0 -3.4 0 -4.7 0 5.8 0.1 1.5 0 -1.3 0 -3.9 0 3.4 0.1 -2.3 0 0.5 0 1 0 3.9 0.1 5 0 -1.3 0 -4.3 0 -4.8 0.1 0.4 0 0.2 0 6.5 0 -14.6 0.1 10.4 0 -10.5 0 9.3 0 6.1 0.1 -10.4 0 -5.1 0 15.3 0 1 0.1 -4.7 0 3.5 0 -9.6 0 9.1 0.1 2.5 0 -5 0 -1.7 0 4.6 0.1 -0.7 0 -8.8 0 9.8 0 -2.9 0.1 -2.7 0 5.3 0 -1.8 0 -0.8 0.1 -5.9 0 6.2 0 -9 0 4.5 0.1 -7.3 0 -0.1 0 10 0 -2.5 0.1 0.8 0 2.3 0 -1.1 0 -5.8 0.1 4.4 0 -0.7 0 -2.1 0 1.9 0.1 -1.1 0 -1.4 0 1.5 0 2.7 0.1 8.2 0 -13.1 0 6.2 0 -9.2 0.1 14.2 0 -9 0 2.2 0 5.3 0.1 -1.3 0 -11.5 0 9.5 0 -3.7 0.1 4 0 -2.2 0 2.7 0 -2 0.1 -2 0 6.1 0 -12.7 0 5.2 0.1 -2.4 0 3.8 0 -1.4 0 1.3 0.1 -1.5 0 0.1 0 -5.5 0 7.5 0.1 1.6 0 -4.2 0 -0.3 0 0.1 0.1 10.8 0 -7 0 1 0 -3.2 0.1 -1 0 -1.7 0 11.2 0 -15 0.1 9.3 0 -1.5 0 -1.1 0 -6.1 0.1 1.5 0 10.4 0 -7.8 0 7.3 0.1 -1 0 -0.4 0 0.8 0 -9.1 0.1 3.4 0 5.4 0 -9.1 0 13.7 0.1 -10.4 0 2.3 0 -4.4 0 6.4 0.1 -5.1 0 2.3 0 -4.2 0 10.9 0.1 -13.2 0 9.7 0 -1 0 1 0.1 -6.8 0 9.6 0 -0.4 0 -3.7 0.1 0.7 0 -2.2 0 3.8 0 -6.9 0.1 6.5 0 -0.7 0 -8.5 0 -2.7 0.1 8.7 0 -0.2 0 6.5 0 -5.4 0.1 -2.6 0 -4 0 5.9 0 -2.3 0.1 -2.4 0 4.5 0 5.5 0 -4.5 0.1 -5.3 0 6.4 0 -6.6 0 -2.2 0.1 9.6 0 -4.8 0 7.7 0 -3.7 0.1 -5.2 0 4.8 0 5 0 -6.9 0.1 -4.1 0 1.9 0 -0.7 0 -1.7 0.1 -0.6 0 8 0 3.2 0 -6.8 0.1 5.3 0 0.6 0 3.6 0 -8.7 0.1 -0.7 0 3.6 0 -1.5 0 1 0.1 4.6 0 -8 0 3 0 -5.6 0.1 3.9 0 -2.4 0 -0.4 0 2.5 0.1 -1 0 3.8 0 2.1 0 -10.7 0.1 11.6 0 -13.9 0 10.4 0 2.2 0.1 -6.3 0 2 0 -2.6 0 7.8 0.1 -13.4 0 4.8 0 -4.5 0 9.9 0.1 5.2 0 -0.5 0 -2.4 0 -2 0.1 -4.7 0 9.3 0 -2.8 0 -6.8 0.1 -2 0 3 0 8 0 0.8 0.1 1.7 0 -11.1 0 1.9 0 8.2 0.1 -5.4 0 2.5 0 -9.7 0 4.5 0.1 1.6 0 -1.5 0 -0.3 0 -5.6 0.1 15.2 0 -6.9 0 -7.5 0 11.8 0.1 -4.6 0 3 0 -4.2 0 -2.7 0.1 0.1 0 5.2 0 2 0 -1.3 0.1 0.7 0 2.6 0 -4.2 0 3.3 0.1 0.6 0 -3.8 0 -1.7 0 -1.6 0.1 -3.6 0 -1.6 0 13.3 0 -6.1 0.1 -2.5 0 9.9 0 -2.8 0 -4.2 0.1 4.4 0 -5.5 0 2.6 0 6.8 0.1 -3.5 0 -6.2 0 4.5 0 2.3 0.1 -6 0 -1.4 0 10.7 0 -10.1 0.1 -4.7 0 6.9 0 8.3 0 -6 0.1 1.6 0 -14.2 0 7.2 0 8.3 0.1 -7.5 0 8 0 -3.8 0 -0.4 0.1 6 0 -10.1 0 0.2 0 2.7 0.1 0.5 0 -8.9 0 13.7 0 -4.7 0.1 -1.8 0 3.7 0 -4.7 0 7.4 0.1 -5.3 0 3.1 0 -7.5 0 2.9 0.1 3 0 -6.2 0 1.4 0 2.8 0.1 5.4 0 -1.6 0 0.6 0 -2.8 0.1 2.8 0 3 0 -6.4 0 1.2 0.1 0.7 0 -12 0 8.8 0 2.4 0.1 1.6 0 -5 0 6 0 -7.5 0.1 2.1 0 8.7 0 -14.1 0 5.9 0.1 -0.4 0 0.3 0 -2.1 0 5.5 0.1 -8 0 -1.2 0 8.4 0 -7.8 0.1 7.3 0 -1.7 0 -3.3 0 1.6 0.1 1.2 0 2.5 0 -5 0 1.9 0.1 -5.7 0 5.4 0 -7.7 0 8.7 0.1 -1.9 0 11.1 0 -3 0 -6.7 0.1 5.1 0 -3.1 0 -6.7 0 -4.2 0.1 14.7 0 -3.4 0 -10.9 0 12.1 0.1 1.2 0 -7.4 0 6.8 0 -11.6 0.1 6.9 0 1.2 0 3.5 0 -1.8 0.1 -0.8 0 1.5 0 -5.6 0 9.9 0.1 -8.4 0 5.2 0 -3.7 0 -1.1 0.1 3.8 0 -0.6 0 4.2 0 -1.3 0.1 -7.6 0 4.9 0 -1.8 0 -4.2 0.1 -1.4 0 6.3 0 -3.7 0 -3.9 0.1 6 0 1.4 0 -0.5 0 -6.1 0.1 2.9 0 9.1 0 -10 0 2.1 0.1 10.7 0 -7.6 0 -4 0 -6.7 0.1 10.5 0 -7.9 0 6.3 0 -3.9 0.1 -3.7 0 15.4 0 -8.2 0 4.8 0.1 -0.8 0 -6.9 0 3.8 0 -2 0.1 6.1 0 -2.5 0 -3.6 0 9.3 0.1 -5.3 0 -0.2 0 -5.8 0 5.5 0.1 -8.7 0 8.9 0 -6.4 0 5.2 0.1 -2.2 0 2.4 0 0.6 0 -2 0.1 0.1 0 -6.7 0 -1.9 0 14.7 0.1 -3.2 0 -9.5 0 15.7 0 -12.2 0.1 5.7 0 -0.4 0 -1.4 0 2.3 0.1 -9.2 0 6.2 0 -1 0 1.6 0.1 -1.7 0 -1.7 0 -0.4 0 7.5 0.1 -8 0 5.6 0 -0.1 0 -2 0.1 2.4 0 0.5 0 -4.9 0 4 0.1 7.3 0 -13.8 0 3.5 0 -2.1 0.1 12.8 0 -15.8 0 6.6 0 4.3 0.1 -8.4 0 3.5 0 -2.7 0 -2.9 0.1 5.9 0 2.6 0 -4.1 0 2.6 0.1 2.4 0 2.4 0 -11.3 0 8.6 0.1 -5.8 0 -5.8 0 5.1 0 6.6 0.1 -1.5 0 -6.5 0 12.5 0 -5.6 0.1 -2.1 0 -2.2 0 4.4 0 -3.7 0.1 7.1 0 -3.8 0 1.4 0 -4.3 0.1 -5.4 0 9.3 0 -7.2 0 4.2 0.1 0.5 0 -3.6 0 7.8 0 -10.8 0.1 13.6 0 -9.7 0 7.2 0 1.6 0.1 -10 0 0.6 0 7.7 0 -3.5 0.1 -0.4 0 -8.9 0 0.9 0 10.1 0.1 4.1 0 -9.9 0 -0.7 0 5 0.1 1.2 0 0.4 0 -4.6 0 -7 0.1 15.8 0 -9 0 8.1 0 -15 0.1 10.9 0 -4 0 -2.7 0 9.5 0.1 1.4 0 -8.6 0 5.7 0 -8 0.1 2.1 0 1.8 0 -0.5 0 4.6 0.1 -8.6 0 10.1 0 0 0 -5.5 0.1 -4.4 0 -3.9 0 9 0 -3 0.1 3.8 0 -5.4 0 4.9 0 -0.3 0.1 0.3 0 1.2 0 0 0 3.2 0.1 -8.1 0 6.9 0 -2.6 0 -2.7 0.1 -2.7 0 11.3 0 -5.6 0 -3.5 0.1 2.7 0 -0.4 0 -2.4 0 -4 0.1 7.1 0 -1.5 0 -0.5 0 5.8 0.1 -10.6 0 1.6 0 5.1 0 3.1 0.1 -1 0 0.5 0 -12.7 0 11.6 0.1 -0.4 0 1.2 0 -6.3 0 5.5 0.1 2.2 0 2.8 0 -6.2 0 -7.3 0.1 6.3 0 2.7 0 -0.6 0 6.4 0.1 -9.7 0 -3.8 0 1.8 0 5.9 0.1 -6.7 0 -1.2 0 1 0 9.4 0.1 -4.5 0 -2.7 0 5.5 0 -0.8 0.1 -7.7 0 8.3 0 -2.7 0 -10.5 0.1 3.9 0 6.6 0 1.1 0 -3.6 0.1 -3.3 0 5.7 0 -9.5 0 10.9 0.1 -3.2 0 0.5 0 -2.9 0 6.8 0.1 -13.2 0 5.4 0 6.6 0 -5.9 0.1 10 0 -4.8 0 -5.5 0 8.6 0.1 -5.5 0 3.1 0 -5.5 0 0 0.1 6 0 -2.8 0 -3.9 0 -0.6 0.1 7 0 5.1 0 -11.9 0 6.9 0.1 -12.6 0 3.1 0 9.5 0 4.1 0.1 -7 0 2.2 0 -1.3 0 3.4 0.1 -9.6 0 7.9 0 -4.9 0 0.4 0.1 1.5 0 -0.9 0 -2.6 0 2.3 0.1 -3.2 0 11.1 0 -3.6 0 -5.1 0.1 9.2 0 -1.4 0 -3.7 0 -4.7 0.1 3.6 0 1.5 0 3.7 0 -7.2 0.1 -1.7 0 11.6 0 -2.6 0 -5 0.1 -5.6 0 6.5 0 2.9 0 -1.7 0.1 0.3 0 -3.5 0 5 0 -8 0.1 0.8 0 -0.3 0 -0.7 0 12 0.1 -16.8 0 8.9 0 -5.6 0 -1.2 0.1 6.2 0 -7.6 0 6.8 0 9.5 0.1 -9.6 0 2.6 0 -6 0 6.1 0.1 -9 0 7.7 0 -1.5 0 9.8 0.1 -9.6 0 -1.2 0 -1 0 -2.9 0.1 9.1 0 3.1 0 -8.4 0 5 0.1 -4.9 0 3.5 0 0.3 0 -8.7 0.1 3 0 7.9 0 -13.1 0 8.8 0.1 -1.6 0 -2.7 0 4.6 0 1.2 0.1 1.1 0 -11.9 0 17.2 0 -10 0.1 7 0 -5.4 0 -2.1 0 2.4 0.1 9.6" fill="none" stroke="#0072BD" stroke-width="0.45" stroke-opacity="1.0" stroke-linejoin="round"/><path d="M108.8 58l-0.5 0 1.1 0.1 0.6 0 0.7 0.1 -1 0 -0.6 0 -0.2 0.1 1.4 0 0.9 0.1 -1.3 0 -1.5 0 0.3 0.1 2.5 0 -1.4 0.1 -1.8 0 1.6 0 -1.1 0.1 0.5 0 0.2 0.1 -0.2 0 1.2 0 -0.6 0.1 -0.5 0 1 0.1 0.4 0 -2.4 0 1.3 0.1 -0.7 0 0.8 0.1 -1.1 0 1.3 0 0 0.1 -0.3 0 -0.7 0.1 0.6 0 -0.6 0 -0.3 0.1 1.5 0 -1.3 0.1 2.2 0 -0.4 0 -2.6 0.1 2.2 0 -1.3 0.1 1.1 0 0 0 -2 0.1 1.7 0 0 0.1 1.2 0 -2.1 0 1.9 0.1 -1.8 0 0.7 0.1 -0.5 0 2.2 0 -0.8 0.1 1.8 0 -1.7 0.1 0.2 0 0 0 -1.4 0.1 0.5 0 1.4 0.1 -1.7 0 0.6 0 -0.2 0.1 0.6 0 -1 0.1 0.2 0 0.4 0 -0.1 0.1 -0.9 0 1.7 0.1 -2.1 0 0.1 0 -0.1 0.1 2.1 0 -1.2 0.1 -0.6 0 -0.2 0 1.5 0.1 -1.4 0 -0.2 0.1 1.8 0 -1.7 0 0.8 0.1 0.3 0 -0.4 0.1 0.4 0 1.3 0 -1.7 0.1 -0.7 0 -0.6 0.1 1.6 0 -0.2 0 0.6 0.1 -0.7 0 0 0.1 -0.2 0 0.2 0 0.6 0.1 -0.5 0 0.5 0.1 1.7 0 -1.3 0 -2 0.1 3.2 0 -1.4 0.1 -1.2 0 1.8 0 -0.9 0.1 -0.6 0 0 0.1 -0.3 0 1 0 1 0.1 -1.4 0 0.7 0.1 1.4 0 -2.9 0 1.4 0.1 -0.5 0 -0.8 0.1 0.1 0 0.9 0 0.5 0.1 -1 0 0.6 0.1 0.7 0 -0.4 0 0.5 0.1 -0.4 0 0 0.1 1.3 0 -1.1 0 -0.5 0.1 0.6 0 -1.6 0.1 0.6 0 1.1 0 -0.2 0.1 0.9 0 -1.5 0.1 -1.4 0 3.3 0 -0.8 0.1 -2.1 0 2.3 0.1 -1.2 0 -1.8 0 1.3 0.1 -0.1 0 2.1 0.1 -2.3 0 0.5 0 0 0.1 -0.1 0 -0.5 0.1 1.1 0 0.8 0 -0.4 0.1 -1.5 0 -0.2 0.1 1.2 0 -0.8 0 0.1 0.1 -1 0 3.4 0.1 -0.9 0 -1.9 0 1.9 0.1 0.4 0 -3.6 0.1 1.8 0 0.1 0 1 0.1 -0.7 0 -0.1 0.1 0.1 0 1.9 0 0.3 0.1 -2.6 0 -0.4 0.1 3.5 0 -3.5 0 0.4 0.1 0.6 0 0.4 0.1 0.5 0 -0.6 0 -1.2 0.1 1.3 0 -0.2 0.1 1.5 0 -1.8 0 -1.2 0.1 0.3 0 2.3 0.1 -1.9 0 -1.5 0 1.5 0.1 0.6 0 1.1 0.1 -2.1 0 1.6 0 0.1 0.1 -1.4 0 0.5 0.1 1.9 0 -0.1 0 -0.8 0.1 -0.5 0 0.8 0.1 -1.2 0 0 0 -0.7 0.1 0.8 0 -0.1 0.1 2.8 0 -2.9 0 1.4 0.1 0.1 0 -1.5 0.1 1.4 0 -3.3 0 2.2 0.1 0.8 0 -3.2 0.1 1.2 0 2.2 0 -1.3 0.1 -0.8 0 0.7 0.1 -0.2 0 1.3 0 -0.3 0.1 -0.7 0 -0.4 0.1 0.6 0 1.3 0 -0.9 0.1 0.3 0 -0.8 0.1 -1.1 0 0.6 0 1.3 0.1 -0.5 0 -1 0.1 -0.7 0 1.7 0 -0.4 0.1 0 0 0 0.1 0.6 0 0 0 0.6 0.1 0 0 0.4 0.1 -0.5 0 -1.1 0 0.3 0.1 0.5 0 -0.8 0.1 0.9 0 0.5 0 -1.8 0.1 -1 0 2.9 0.1 -1.2 0 0.7 0 -1.9 0.1 2.9 0 -1 0.1 -0.8 0 -0.2 0 0.5 0.1 -0.3 0 -0.1 0.1 -0.8 0 2.3 0 -1.3 0.1 0.1 0 0 0.1 -2.3 0 2.8 0 -0.9 0.1 0.1 0 0.3 0.1 -1 0 1.8 0 -1.5 0.1 -0.2 0 0 0.1 1 0 0.6 0 -1.3 0.1 -0.9 0 2.5 0.1 -2 0 2.1 0 -1.2 0.1 -0.6 0 0.1 0.1 1 0 0.4 0 -1 0.1 1.1 0 1.1 0.1 -2.2 0 -0.9 0 0.1 0.1 -0.3 0 0.7 0.1 -0.1 0 -0.6 0 1.8 0.1 -3 0 1.2 0.1 3.2 0 -0.9 0 -0.5 0.1 0 0 1.2 0.1 -1.2 0 -0.4 0 -1.3 0.1 1.2 0 -0.7 0.1 0.1 0 -0.1 0 0.7 0.1 -0.3 0 1.2 0.1 -2.1 0 1.1 0 1.9 0.1 -1.7 0 1.1 0.1 -0.1 0 0.2 0 -0.5 0.1 -2.1 0 1.1 0.1 -0.1 0 -1.1 0 1 0.1 -0.7 0 -0.4 0.1 1.8 0 -0.3 0 -0.6 0.1 -0.2 0 0.3 0.1 0.2 0 0 0 0.3 0.1 -0.3 0 0.7 0.1 0.2 0 -0.2 0 -1 0.1 0.1 0 1 0.1 -0.6 0 0.1 0 -2.3 0.1 -0.2 0 2.9 0.1 0 0 1 0 -0.6 0.1 -0.5 0 -0.2 0.1 -1.4 0 2.3 0 -1.5 0.1 1.1 0 -0.3 0.1 0.1 0 0.6 0 -1.4 0.1 0.1 0 -0.4 0.1 0.5 0 1.9 0 -1.9 0.1 1.5 0 -0.4 0.1 -0.1 0 0.1 0 -1.7 0.1 1.3 0 1.2 0.1 -2.2 0 0.6 0 -0.6 0.1 0.9 0 -1.3 0.1 2.6 0 -1.9 0 -1.1 0.1 3.2 0 -0.8 0.1 -0.5 0 0.1 0 -0.9 0.1 0.1 0 1 0.1 0.1 0 0.1 0 -0.7 0.1 -0.7 0 0.3 0.1 1.2 0 0.4 0 -1.8 0.1 -0.1 0 1.7 0.1 -0.5 0 -0.1 0 -1.9 0.1 0.9 0 -0.1 0.1 0.7 0 -1.8 0 2.8 0.1 -0.9 0 0.1 0.1 -1.5 0 1.1 0 1.3 0.1 -2.8 0 1.8 0.1 0.4 0 -1.4 0 1.5 0.1 -1.1 0 1.5 0.1 -0.7 0 -0.3 0 1.7 0.1 -1.1 0 0.5 0.1 -2.4 0 0.5 0 1.4 0.1 0.1 0 -0.9 0.1 0.8 0 -1.8 0 1.2 0.1 -1.3 0 1.5 0.1 -0.8 0 -0.2 0 0.7 0.1 1.7 0 -2.7 0.1 0.4 0 1.6 0 -1.5 0.1 2.1 0 -1.4 0.1 -0.2 0 0.3 0 1.3 0.1 -1 0 -0.1 0.1 -0.3 0 -1.7 0 0.6 0.1 2.3 0 -0.6 0.1 -0.3 0 0.1 0 -1.2 0.1 0.9 0 -1.2 0.1 1.2 0 -1 0 0.5 0.1 0.6 0 -0.7 0.1 0.9 0 -0.2 0 -0.1 0.1 1 0 -2.7 0.1 -0.1 0 2.1 0 0.3 0.1 1 0 -1.2 0.1 0.1 0 -1.6 0 1.5 0.1 -0.1 0 -1.6 0.1 0.1 0 0.8 0 0.4 0.1 -3.1 0 2.9 0.1 0.1 0 -0.4 0 0.5 0.1 0.2 0 -1.5 0.1 1.4 0 -0.6 0 -0.7 0.1 1.1 0 1.3 0.1 -2.9 0 -0.2 0 0 0.1 3.5 0 -2.1 0.1 0.2 0 -0.7 0 -0.2 0.1 -1 0 2.1 0.1 0.1 0 -2.1 0 0.8 0.1 0.3 0 0.7 0.1 0.3 0 0.8 0 0.3 0.1 -0.3 0 0.2 0.1 -2.4 0 0.6 0 1.7 0.1 -0.9 0 -0.2 0.1 -1.9 0 0.1 0 2.5 0.1 -0.4 0 -0.6 0.1 -0.1 0 -1.3 0 2 0.1 0.7 0 0.6 0.1 -1.6 0 -0.2 0 -0.9 0.1 2.3 0 0.4 0.1 -2.2 0 0.9 0 -0.2 0.1 -0.7 0 -1.8 0.1 2.1 0 0.9 0 -2 0.1 0.6 0 -2.3 0.1 4.3 0 -0.7 0 -0.4 0.1 -0.3 0 -0.4 0.1 0.5 0 -0.2 0 0.1 0.1 0.2 0 0.1 0.1 1.4 0 -2.9 0 1.7 0.1 -0.9 0 -0.5 0.1 -1.1 0 2.8 0 -1.5 0.1 0.2 0 1.2 0.1 -1.5 0 1.1 0 -0.1 0.1 0.8 0 0.2 0.1 -1.8 0 1.7 0 -0.9 0.1 0.2 0 -0.4 0.1 1 0 -1.9 0 1.4 0.1 0.9 0 -1.4 0.1 2.2 0 -2.6 0 0.9 0.1 -0.7 0 -0.1 0.1 -0.5 0 0.6 0 0.4 0.1 -0.7 0 1.6 0.1 0.6 0 -2.9 0 2.3 0.1 -0.6 0 0 0.1 2.1 0 -1.2 0 -0.8 0.1 -0.1 0 -2.3 0.1 2.8 0 -1.4 0 0.9 0.1 -0.1 0 0.8 0.1 1.1 0 -1 0 0.2 0.1 -1.4 0 0.7 0.1 0.3 0 -2.2 0 3.4 0.1 -2.7 0 -0.5 0.1 2.8 0 0.5 0 -2.7 0.1 0 0 3.6 0.1 -2.9 0 -2 0 1.3 0.1 2.6 0 -1.3 0.1 0.1 0 0.4 0 -0.5 0.1 -1 0 -1.2 0.1 2 0 -1.5 0 1 0.1 1.7 0 -1.1 0.1 -0.5 0 0 0 0.7 0.1 0.1 0 -2.1 0.1 1.4 0 1.5 0 -0.9 0.1 -1.5 0 0.1 0.1 -1.3 0 1.2 0 2.3 0.1 -1.6 0 -0.7 0.1 0.2 0 0.5 0 0 0.1 -0.3 0 -0.3 0.1 1.3 0 0.9 0 -2.1 0.1 0.1 0 1.6 0.1 -2.5 0 0.8 0 0.2 0.1 0.6 0 -0.5 0.1 -0.5 0 1.1 0 -1.4 0.1 -0.6 0 -0.2 0.1 2.6 0 -2.4 0 2.1 0.1 0.3 0 0.1 0.1 -0.9 0 -0.4 0 0.6 0.1 -0.6 0 -0.7 0.1 2.4 0 -2 0 2.6 0.1 -1.3 0 -0.9 0.1 0.9 0 0.7 0 -2.5 0.1 0.5 0 -0.2 0.1 1.2 0 0.2 0 -0.3 0.1 -0.7 0 0.1 0.1 1.7 0 -0.1 0 -0.9 0.1 -1.4 0 1.9 0.1 -0.4 0 0 0 1.4 0.1 -0.8 0 -1.8 0.1 0 0 2.3 0 -1.1 0.1 0.6 0 -0.9 0.1 -0.8 0 1.2 0 1.2 0.1 -1.1 0 -1.4 0.1 0.8 0 -0.2 0 0.6 0.1 0.8 0 1 0.1 -1.7 0 -0.6 0 0.5 0.1 -0.1 0 -0.4 0.1 0.4 0 0 0 -1.1 0.1 1.6 0 -0.8 0.1 -0.6 0 1.4 0 -1 0.1 2.2 0 -1.2 0.1 -0.4 0 -0.8 0 0.3 0.1 1.2 0 -1.5 0.1 1.4 0 -2.7 0 2.2 0.1 0.6 0 -0.5 0.1 -0.3 0 1 0 -1.8 0.1 -0.1 0 1 0.1 1.1 0 -0.8 0 -0.6 0.1 0.5 0 0.1 0.1 -1.6 0 -1.5 0 1.7 0.1 -0.4 0 0.9 0.1 -0.6 0 0.3 0 1.3 0.1 -0.4 0 -0.1 0.1 1.6 0 -2 0 0.1 0.1 1.6 0 -2.3 0.1 -0.5 0 2.8 0 -0.9 0.1 0.2 0 0.1 0.1 0.2 0 -1.3 0 0.4 0.1 -1 0 1.2 0.1 0.1 0 -0.6 0 1 0.1 2.2 0 -3.9 0.1 1.9 0 0.1 0 0.1 0.1 -1.7 0 1.9 0.1 -0.5 0 -0.8 0 -0.2 0.1 0.6 0 0.6 0.1 0 0 1.4 0 -2.6 0.1 1 0 -1 0.1 1.1 0 -0.6 0 -0.7 0.1 -0.7 0 0.5 0.1 1 0 1.2 0 -0.7 0.1 -1.9 0 0.7 0.1 0.5 0 -0.1 0 0.1 0.1 0.7 0 -0.5 0.1 -0.9 0 -1.2 0 1.5 0.1 -1.3 0 1.5 0.1 0.4 0 -1.6 0 1.2 0.1 -0.3 0 2.2 0.1 -1.4 0 -2.3 0 2.3 0.1 -0.1 0 -0.6 0.1 -0.1 0 0.9 0 0.1 0.1 -0.3 0 -1.3 0.1 0.7 0 -1.3 0 0.1 0.1 0.9 0 -0.5 0.1 0.6 0 2.8 0 -1.9 0.1 -1.3 0 -1.3 0.1 1.3 0 -0.6 0 -0.7 0.1 2.8 0 -1.2 0.1 0.9 0 2.6 0 -2.7 0.1 -0.2 0 0.2 0.1 -0.6 0 -0.5 0 0.6 0.1 1.3 0 -1.4 0.1 -1 0 0.1 0 0.2 0.1 1 0 0.5 0.1 0 0 0.7 0 -1.4 0.1 1 0 -0.4 0.1 0.3 0 -2.4 0 3 0.1 -2.7 0 0.4 0.1 1.8 0 -1.1 0 2.1 0.1 -1.5 0 -1.2 0.1 1.2 0 -0.6 0 1.9 0.1 0.1 0 -0.8 0.1 -1.1 0 0.4 0 1 0.1 -1.8 0 0 0.1 1.6 0 -0.1 0 -1 0.1 0 0 -1.6 0.1 3 0 -1.2 0 -1.3 0.1 0.3 0 0.2 0.1 2.5 0 -1 0 -1.9 0.1 3.1 0 -0.5 0.1 -2.3 0 -1.6 0 3.5 0.1 -1.5 0 0.5 0.1 -0.4 0 1.7 0 0.2 0.1 -0.6 0 -0.9 0.1 0.4 0 0.3 0 -2.1 0.1 2.7 0 -1.5 0.1 0.6 0 -0.1 0 0.7 0.1 0.2 0 1.1 0.1 -2.5 0 -0.5 0 1 0.1 -0.8 0 1.5 0.1 -1.6 0 0.9 0 0.8 0.1 0 0 -0.7 0.1 1.1 0 -0.1 0 -2.9 0.1 2 0 -0.1 0.1 -0.5 0 -0.3 0 0.6 0.1 0.4 0 -0.1 0.1 1 0 -0.3 0 -1.6 0.1 -0.1 0 1.5 0.1 -1.5 0 0.9 0 0.3 0.1 0.5 0 -0.5 0.1 0.9 0 -1.8 0 1.1 0.1 -1.3 0 0.8 0.1 -0.1 0 -1 0 -1.6 0.1 3.4 0 -0.5 0.1 -0.2 0 -0.8 0 0.3 0.1 0.8 0 -0.4 0.1 1.1 0 -1 0 -0.9 0.1 1.3 0 -1.2 0.1 0.9 0 -2 0 1.4 0.1 0.9 0 -1.2 0.1 0.6 0 0.6 0 -0.5 0.1 1.7 0 -2 0.1 0.1 0 0 0 -1.7 0.1 0.4 0 2 0.1 -0.9 0 1.7 0 -1.4 0.1 -0.1 0 1.2 0.1 -0.8 0 1.3 0 -2.5 0.1 1.4 0 0.2 0.1 -0.1 0 0.6 0 -0.1 0.1 -1 0 -0.5 0.1 1.4 0 -0.8 0 0.8 0.1 0.4 0 -1.1 0.1 -1 0 0.6 0 1 0.1 -1 0 1.4 0.1 -1.1 0 0.1 0 -0.7 0.1 0.5 0 1.1 0.1 -1.4 0 0.1 0 -0.5 0.1 1.5 0 -2.2 0.1 0.8 0 1.5 0 0.5 0.1 -1.5 0 1.1 0.1 -2.8 0 2.6 0 -0.5 0.1 -1.4 0 -0.5 0.1 1.2 0 0.7 0 0.1 0.1 -0.2 0 0.6 0.1 0 0 -2 0 0.9 0.1 -0.1 0 1.5 0.1 -1.5 0 1.5 0 -0.9 0.1 2.1 0 -2.3 0.1 0.1 0 -0.1 0 0.2 0.1 2.2 0 -2.8 0.1 -0.3 0 0.6 0 0.9 0.1 -1.6 0 1.7 0.1 -0.1 0 -0.8 0 -0.1 0.1 -0.5 0 0.5 0.1 -0.6 0 2 0 0.4 0.1 -1.9 0 0.3 0.1 -1.8 0 1.3 0 0.9 0.1 -0.1 0 -0.2 0.1 0.7 0 -0.7 0 -0.4 0.1 1.9 0 -3.4 0.1 0.7 0 0.4 0 0 0.1 0 0 0.5 0.1 -0.4 0 0.6 0 0.6 0.1 -0.5 0 0.1 0.1 -1.1 0 -0.1 0 0.8 0.1 1.1 0 -0.5 0.1 0.7 0 -0.1 0 0.1 0.1 -1.8 0 1.9 0.1 -0.4 0 1.2 0 -1.4 0.1 -0.2 0 -0.5 0.1 0.3 0 -1.7 0 1.3 0.1 0.2 0 1 0.1 -1.5 0 0.7 0 1.6 0.1 -2.2 0 1.3 0.1 -1.3 0 0.4 0 0.5 0.1 0.4 0 -1.3 0.1 -0.5 0 2.5 0 -1.3 0.1 0.6 0 0.1 0.1 -0.2 0 -0.9 0 0.1 0.1 -1.4 0 1.7 0.1 -0.6 0 0.4 0 1.8 0.1 -1.1 0 -0.6 0.1 -1.4 0 2 0 0.8 0.1 -2.2 0 1.1 0.1 -0.8 0 0.3 0 -0.2 0.1 -1.2 0 1.1 0.1 -1.1 0 2.9 0 -0.4 0.1 -0.9 0 0.2 0.1 -0.2 0 0.2 0 0 0.1 -0.5 0 0.1 0.1 -1.1 0 0.3 0 0.4 0.1 0.8 0 -0.6 0.1 2.2 0 -2 0 -0.1 0.1 0.7 0 0.6 0.1 0.7 0 -0.8 0 -1.4 0.1 0.3 0 1.2 0.1 -0.7 0 0.5 0 -0.9 0.1 1.6 0 -0.1 0.1 -0.3 0 -0.9 0 -1.7 0.1 0.3 0 1.5 0.1 0.4 0 -3.4 0 2.3 0.1 1.5 0 -0.1 0.1 -1.4 0 1.1 0 -0.6 0.1 -0.2 0 1.2 0.1 0 0 -1.5 0 -0.4 0.1 -0.4 0 -0.1 0.1 2.6 0 0.5 0 -1.5 0.1 0.8 0 -1.6 0.1 0.5 0 1 0 -0.6 0.1 -0.3 0 -1.6 0.1 0.2 0 1 0 -0.1 0.1 0.4 0 -0.5 0.1 0.4 0 0.3 0 0.4 0.1 -0.4 0 -0.6 0.1 0.3 0 1.1 0 -1.1 0.1 -0.7 0 0 0.1 1.2 0 0.3 0 0.6 0.1 -1.5 0 1.6 0.1 -1.6 0 0.1 0 -0.3 0.1 1 0 0.5 0.1 -1 0 -0.4 0 -1 0.1 1.6 0 -0.5 0.1 0.2 0 -0.4 0 -0.3 0.1 0.5 0 0.8 0.1 0.5 0 -0.9 0 0.3 0.1 -0.5 0 0.1 0.1 -1.2 0 2.1 0 -0.3 0.1 0.8 0 -1.9 0.1 0.7 0 -1 0 1.1 0.1 -0.3 0 0.7 0.1 -0.7 0 0.7 0 -1.1 0.1 1.1 0 -0.9 0.1 -0.1 0 0.5 0 0.3 0.1 -1.7 0 -0.1 0.1 1.6 0 -0.2 0 -1.9 0.1 0.3 0 0.9 0.1 1 0 -0.1 0 0.8 0.1 0.1 0 1.1 0.1 -3.5 0 1.3 0 1 0.1 -2.1 0 -0.2 0.1 1.5 0 0.9 0 0.1 0.1 -2.8 0 0.5 0.1 1.1 0 -0.4 0 0.8 0.1 -0.2 0 1.5 0.1 -1.7 0 0.3 0 -0.1 0.1 0.9 0 -2 0.1 1.4 0 -1.1 0 -0.6 0.1 2.4 0 -0.6 0.1 0.8 0 -1.1 0 0.4 0.1 -0.5 0 0.5 0.1 -1 0 2 0 -2.4 0.1 2.4 0 -1.7 0.1 1 0 -0.7 0 0.3 0.1 0.9 0 -1.2 0.1 -1 0 1.1 0 0.4 0.1 -2.9 0 3.2 0.1 0.1 0 -2.7 0 1.5 0.1 0.9 0 -1.8 0.1 0.7 0 0.1 0 0.8 0.1 0.5 0 -1 0.1 0.1 0 0.8 0 -0.4 0.1 -0.6 0 1.4 0.1 -2.6 0 1.4 0 -0.5 0.1 -0.1 0 0.7 0.1 -0.2 0 2.3 0 -1.7 0.1 -0.3 0 1.3 0.1 -0.6 0 -2.7 0 1.8 0.1 0.6 0 -1.2 0.1 0.8 0 -0.7 0 0.8 0.1 -1.9 0 -0.3 0.1 1.3 0 0.7 0 1.1 0.1 -1.5 0 -0.5 0.1 1.6 0 -0.8 0 1.7 0.1 -1.8 0 -1.8 0.1 1.1 0 -0.2 0 -0.4 0.1 0.6 0 0.1 0.1 0.4 0 -0.3 0 0.9 0.1 0.1 0 -0.3 0.1 0 0 -1.9 0 0.2 0.1 0.7 0 1.1 0.1 -1.6 0 1 0 0.6 0.1 1.7 0 -1.7 0.1 -0.7 0 1.5 0 -0.8 0.1 -0.5 0 1.3 0.1 -1.9 0 1.1 0 -0.1 0.1 0.7 0 -1.9 0.1 -0.1 0 0.8 0 0.1 0.1 0.3 0 -0.4 0.1 0.8 0 0.2 0 -0.4 0.1 -1.2 0 2.1 0.1 -2.6 0 1.3 0 1 0.1 -1.4 0 1.8 0.1 0.6 0 -0.3 0 -1.1 0.1 0.5 0 -1.4 0.1 0.9 0 0 0 -0.3 0.1 0.1 0 -0.4 0.1 -1.6 0 2.2 0 -0.1 0.1 1.7 0 -1.3 0.1 -0.6 0 0.8 0 -0.3 0.1 -0.6 0 -0.3 0.1 -1.1 0 1.6 0 1.4 0.1 -3.3 0 0.8 0.1 1.7 0 -0.6 0 0.3 0.1 -2.2 0 1.2 0.1 1 0 0.1 0 -0.2 0.1 -1.2 0 1.4 0.1 -1.7 0 0.3 0 -0.2 0.1 2.5 0 -1.8 0.1 0.4 0 -2.1 0 3.1 0.1 -0.6 0 -2 0.1 0.1 0 3.1 0 -2.5 0.1 2.7 0 -2.2 0.1 -2 0 3.5 0 -0.6 0.1 0.2 0 -1.2 0.1 0.3 0 1.1 0 -1.7 0.1 -1.1 0 2.8 0.1 -1.5 0 1.8 0 -1.6 0.1 0 0 0.2 0.1 -2 0 3.4 0 -1.8 0.1 0.5 0 1.5 0.1 -1.2 0 0.7 0 -0.5 0.1 0.4 0 -0.5 0.1 0.9 0 -1.3 0 0.6 0.1 -1.1 0 1.8 0.1 -3.2 0 2.2 0 0.2 0.1 0 0 -0.3 0.1 1.3 0 0.7 0 -2.6 0.1 -1.2 0 0.7 0.1 0.3 0 0.7 0 0 0.1 1.1 0 -1.4 0.1 0.4 0 0.1 0 -0.9 0.1 0.5 0 3 0.1 -2.8 0 -0.8 0 -1.2 0.1 3.1 0 -1.3 0.1 -0.3 0 3 0 -1 0.1 -3 0 1.3 0.1 1.3 0 -0.2 0 -1.8 0.1 2.7 0 0.1 0.1 -2.8 0 -0.7 0 0.4 0.1 2 0 0.4 0.1 -0.9 0 -0.7 0 0.5 0.1 0.6 0 -1.7 0.1 -0.5 0 1.6 0 1.2 0.1 -1 0 0.1 0.1 -0.9 0 1.6 0 -2.6 0.1 1.6 0 -0.5 0.1 0.4 0 -0.7 0 1.6 0.1 -0.8 0 -0.5 0.1 1.1 0 -0.6 0 -0.4 0.1 -0.1 0 1.3 0.1 -1.6 0 0.7 0 -0.1 0.1 0.6 0 -0.5 0.1 2.3 0 -3.8 0 2.3 0.1 -0.6 0 1.1 0.1 -2.7 0 2.8 0 -2.5 0.1 2 0 -0.2 0.1 -0.5 0 -0.7 0 -0.1 0.1 0.9 0 -0.8 0.1 -1.1 0 0.1 0 2.5 0.1 0 0 -0.3 0.1 -0.4 0 0.3 0 0.1 0.1 -0.2 0 -1 0.1 0.1 0 -0.4 0 1.2 0.1 -1.1 0 0.8 0.1 1.4 0 -1.6 0 1.3 0.1 0.6 0 -3.3 0.1 0.4 0 1.8 0 -1.1 0.1 1.2 0 0.2 0.1 -1.2 0 1.3 0 0.9 0.1 -0.8 0 -1.7 0.1 0.7 0 -0.4 0 2 0.1 -1.7 0 -0.4 0.1 0.7 0 0.4 0 -0.8 0.1 0.4 0 -0.1 0.1 0.8 0 0.2 0 -0.7 0.1 -0.7 0 0.9 0.1 -1.3 0 1.9 0 -0.7 0.1 -0.1 0 -2.5 0.1 4.6 0 -0.9 0 -0.2 0.1 -1.1 0 0.5 0.1 2.1 0 -3.3 0 1.3 0.1 -0.1 0 -0.4 0.1 0.2 0 -1.3 0 1.6 0.1 -1.9 0 3 0.1 -1 0 -1.6 0 -1.1 0.1 2.1 0 0.4 0.1 -1.5 0 2.6 0 -1.4 0.1 -0.7 0 -0.9 0.1 1.3 0 -0.1 0 0.8 0.1 0.4 0 -1 0.1 0.5 0 0.9 0 -0.8 0.1 -0.8 0 0.8 0.1 -1.1 0 1 0 -0.4 0.1 -1.1 0 1.6 0.1 -0.5 0 0.6 0 -1.9 0.1 2.3 0 0 0.1 -1.4 0 0.2 0 0.2 0.1 -0.1 0 0.8 0.1 -1.4 0 -0.5 0 0.9 0.1 2.1 0 -2.2 0.1 -0.6 0 0.1 0 1 0.1 1 0 -1.9 0.1 0.9 0 0 0 0.3 0.1 -0.3 0 0.9 0.1 -0.4 0 -1.2 0 2.9 0.1 -3.7 0 0.1 0.1 2.3 0 -0.9 0 -0.4 0.1 0.5 0 0.4 0.1 -1 0 -0.2 0 -0.4 0.1 0.1 0 0.1 0.1 1.9 0 -0.9 0 0.3 0.1 -1.1 0 1.6 0.1 -2.5 0 1.9 0 0.2 0.1 -1.2 0 -0.4 0.1 1.5 0 -1.2 0 -0.2 0.1 0.9 0 -1.1 0.1 1 0 2 0 -2.3 0.1 1.3 0 -1.9 0.1 1.1 0 -0.4 0 0.1 0.1 0.9 0 1.4 0.1 -2.2 0 1.4 0 -0.9 0.1 0.3 0 -1.1 0.1 -0.3 0 0.5 0 -0.5 0.1 0.7 0 -1 0.1 1 0 0.2 0 1.6 0.1 -0.1 0 -1.2 0.1 -0.9 0 1 0 0.2 0.1 -0.9 0 -0.7 0.1 -0.9 0 1.7 0 1.9 0.1 -2 0 0.5 0.1 0 0 0.1 0 0.3 0.1 -2.7 0 1.8 0.1 0.5 0 -0.4 0 1.3 0.1 -1.6 0 1.3 0.1 0.8 0 -1.9 0 0.2 0.1 -0.3 0 1 0.1 -2.7 0 0.6 0 1.1 0.1 1.2 0 -0.3 0.1 -1.4 0 2.4 0 -1.5 0.1 -0.7 0 1.1 0.1 0.8 0 -1.3 0 -1.4 0.1 0.9 0 0.6 0.1 0.9 0 -1.9 0 1.2 0.1 -1.4 0 1.2 0.1 -1.3 0 0.8 0 -1 0.1 0.5 0 -0.6 0.1 -0.3 0 3.1 0 -0.1 0.1 -0.7 0 -0.8 0.1 1.8 0 -1.7 0 0.7 0.1 0.7 0 -0.9 0.1 1.2 0 -1.5 0 0 0.1 0.2 0 -1.2 0.1 0.1 0 1.8 0 -2.4 0.1 2.7 0 -0.8 0.1 0.9 0 -0.4 0 -0.2 0.1 1.1 0 -1.7 0.1 0 0 1.1 0 -1.7 0.1 1.8 0 -0.5 0.1 -1.1 0 -0.8 0 -0.7 0.1 3.8 0 -3.3 0.1 0.3 0 2 0 -0.4 0.1 -0.2 0 -0.1 0.1 -0.5 0 -0.5 0 0.2 0.1 1.3 0 0.4 0.1 0.1 0 -1.1 0 -2.2 0.1 2.7 0 -0.6 0.1 -2.5 0 3.9 0 -1.1 0.1 -0.2 0 0.2 0.1 -0.1 0 0.1 0 -0.1 0.1 -0.1 0 0.6 0.1 -0.2 0 2 0 -2.2 0.1 -0.7 0 0 0.1 0.9 0 -0.2 0 0.1 0.1 -0.4 0 0 0.1 0.9 0 0.6 0 -1 0.1 -0.4 0 -1 0.1 0 0 1.1 0 -0.3 0.1 0.2 0 -1 0.1 1 0 -1.8 0 0.7 0.1 0.4 0 1.3 0.1 -1.1 0 -0.3 0 1.1 0.1 -0.3 0 1 0.1 -0.6 0 -0.1 0 -0.4 0.1 0.8 0 -1.3 0.1 -0.8 0 2.3 0 -1.3 0.1 0.5 0 0.6 0.1 0.3 0 -3.7 0 1.8 0.1 2.2 0 -2.9 0.1 2.1 0 -0.8 0 -0.5 0.1 0.8 0 -1.5 0.1 2 0 0.7 0 -2.5 0.1 0.7 0 1.8 0.1 -0.7 0 -0.7 0 1.7 0.1 -3 0 1.3 0.1 0.4 0 -0.4 0 1.1 0.1 -2.4 0 1.7 0.1 -0.8 0 1.9 0 -0.2 0.1 -1.7 0 -0.3 0.1 1 0 -0.8 0 0.3 0.1 0.9 0 -0.8 0.1 2.2 0 -1.7 0 -0.6 0.1 -0.5 0 0.5 0.1 1.6 0 -0.5 0 0.8 0.1 -0.1 0 -0.7 0.1 -1.2 0 0.5 0 0.2 0.1 -1.6 0 1.9 0.1 -1.3 0 0.9 0 -0.4 0.1 1 0 2 0.1 -3.7 0 1.2 0 2 0.1 -2.9 0 0.7 0.1 0.1 0 0.4 0 -1.9 0.1 1.9 0 0.3 0.1 1.9 0 -2.6 0 -0.4 0.1 0.6 0 -2.6 0.1 2.8 0 1.2 0 -1.5 0.1 0 0 -0.2 0.1 0.4 0 -1.4 0 2.7 0.1 -1.9 0 0 0.1 2.1 0 -1.6 0 -0.4 0.1 2 0 -1.5 0.1 0.8 0 -1.5 0 -1.1 0.1 1.9 0 1.2 0.1 -1.9 0 0.8 0 0.4 0.1 -0.4 0 -0.2 0.1 0.7 0 -0.6 0 -0.7 0.1 1.5 0 -0.2 0.1 -0.4 0 0.3 0 -3.2 0.1 2.8 0 -0.2 0.1 -2 0 3.9 0 -1.6 0.1 -0.8 0 0.1 0.1 0.6 0 -0.3 0 -1.5 0.1 1.2 0 0.8 0.1 0.2 0 0.2 0 -1.9 0.1 0.5 0 0.9 0.1 -0.9 0 0.8 0 -1 0.1 1.4 0 -0.5 0.1 0.5 0 -0.6 0 -0.7 0.1 -0.5 0 1.3 0.1 -0.7 0 -0.8 0 0.9 0.1 1.3 0 0.4 0.1 -0.4 0 0.6 0 -1.7 0.1 0.2 0 -0.8 0.1 0.2 0 2.3 0 -1.1 0.1 0.2 0 1.9 0.1 -0.7 0 -2.7 0 1.8 0.1 -1.6 0 1.6 0.1 -2.7 0 0.9 0 0 0.1 2.8 0 -3.6 0.1 2.8 0 -0.1 0 -0.9 0.1 0.7 0 1.7 0.1 -2.2 0 -0.5 0 1.5 0.1 -0.5 0 -1.9 0.1 1.3 0 0.1 0 -1.4 0.1 0.2 0 0.3 0.1 -0.5 0 1.6 0 -0.2 0.1 -2.4 0 1.7 0.1 0.6 0 -1.5 0 1.1 0.1 0.5 0 -1.9 0.1 1.3 0 -2 0 3.1 0.1 -1.5 0 -0.7 0.1 -0.4 0 0.2 0 2.9 0.1 -2.1 0 0.3 0.1 0.1 0 -1 0 2.2 0.1 -3.2 0 3.3 0.1 -1.6 0 0.8 0 0.2 0.1 0.5 0 -2 0.1 1.8 0 -0.6 0 -0.1 0.1 -0.1 0 1.3 0.1 -0.6 0 0.8 0 -0.4 0.1 -2.8 0 1.8 0.1 1.1 0 -1.8 0 -0.8 0.1 -0.6 0 4.2 0.1 -2.9 0 1.1 0 -1.2 0.1 1.5 0 1.2 0.1 -3.1 0 1.4 0 -0.7 0.1 -1.1 0 1 0.1 0.9 0 1.2 0 0 0.1 -1.2 0 -1.6 0.1 2.2 0 -0.6 0 0 0.1 -1.1 0 0.9 0.1 2.1 0 -0.4 0 -0.2 0.1 -0.6 0 -1.1 0.1 0.4 0 0.2 0 0.2 0.1 -0.7 0 -0.5 0.1 1.9 0 -1.4 0 1.2 0.1 -1 0 0.8 0.1 -0.2 0 0.3 0 -0.1 0.1 -1.6 0 -0.4 0.1 1.3 0 1.7 0 -2.5 0.1 -0.1 0 3.2 0.1 -3.8 0 1 0 0.2 0.1 -0.3 0 0 0.1 1.7 0 -0.8 0 0 0.1 -1.8 0 2.4 0.1 -0.7 0 0 0 0.7 0.1 -0.5 0 -0.3 0.1 0.4 0 -1.1 0 -0.2 0.1 -0.4 0 2.2 0.1 -1.5 0 0.8 0 0.9 0.1 0.7 0 -2.1 0.1 0.5 0 -0.1 0 -1.4 0.1 0.9 0 3.2 0.1 -2.8 0 1.8 0 -1 0.1 1 0 -0.5 0.1 -1 0 -1.5 0 2.6 0.1 -0.7 0 -0.2 0.1 0.4 0 -1.6 0 0.9 0.1 -0.1 0 -1.5 0.1 0.3 0 1 0 -2 0.1 2.9 0 0 0.1 -0.8 0 0.3 0 -2 0.1 1.9 0 0.6 0.1 -0.2 0 0.4 0 -1 0.1 2 0 -1.5 0.1 0.4 0 0.3 0 -1.9 0.1 -0.3 0 1.9 0.1 -2 0 0.6 0 1.6 0.1 -2.1 0 0.2 0.1 -0.3 0 0.2 0 2.8 0.1 -1.2 0 0.4 0.1 -2.9 0 -0.4 0 1.2 0.1 2.1 0 0.2 0.1 -3.1 0 0.2 0 2.4 0.1 -0.4 0 0.2 0.1 0.2 0 -1.7 0 1.2 0.1 -0.4 0 1.4 0.1 -1.5 0 -1.5 0 3.1 0.1 0.5 0 -0.8 0.1 -1.3 0 -0.6 0 1.9 0.1 -1.5 0 1.1 0.1 0.2 0 -0.9 0 -1.8 0.1 2.5 0 -1.5 0.1 -0.6 0 1.5 0 0.2 0.1 -0.2 0 0.7 0.1 -2.5 0 2.4 0 1.1 0.1 -1.7 0 -0.4 0.1 0.3 0 1.4 0 -1.4 0.1 -0.6 0 -0.9 0.1 3.1 0 0 0 -1.4 0.1 2 0 -2.4 0.1 1.1 0 -2 0 0.3 0.1 1 0 0.5 0.1 0.1 0 -1.4 0 0.3 0.1 0.4 0 -0.1 0.1 0 0 1 0 0.4 0.1 -2.9 0 3 0.1 -1.1 0 0.2 0 0 0.1 0.6 0 -0.2 0.1 -2.2 0 2.3 0 -1.9 0.1 1.5 0 -0.2 0.1" fill="none" stroke="#0072BD" stroke-width="0.45" stroke-opacity="0.5" stroke-linejoin="round"/><path d="M108.7 58l0.9 0 -0.2 0.1 -0.2 0 1.6 0.1 -1.1 0 -0.3 0 1.3 0.1 -1.1 0 -0.1 0.1 -1.1 0 1.6 0 0.2 0.1 0.6 0 -1.8 0.1 1.3 0 0.2 0 -0.4 0.1 -0.4 0 -1.1 0.1 1.2 0 -0.5 0 -0.7 0.1 1.4 0 -0.4 0.1 -0.1 0 1.4 0 -1.6 0.1 -0.9 0 0 0.1 1.6 0 -0.5 0 -0.3 0.1 -0.8 0 0.8 0.1 -0.2 0 0.6 0 -0.4 0.1 0 0 0.5 0.1 -0.5 0 0.7 0 -1.5 0.1 0.6 0 1.4 0.1 -0.6 0 -0.7 0 0.5 0.1 -0.2 0 0.1 0.1 1.1 0 -1.1 0 0.4 0.1 -0.7 0 0.1 0.1 -0.5 0 0.5 0 0.2 0.1 0.1 0 0.2 0.1 0 0 0.3 0 -0.5 0.1 1 0 -0.5 0.1 0.5 0 -0.9 0 0.8 0.1 -0.7 0 -1 0.1 1 0 -0.1 0 -0.8 0.1 0.3 0 0.2 0.1 1.7 0 -1.1 0 0.9 0.1 -0.5 0 0.1 0.1 -0.2 0 -1.4 0 1.7 0.1 -1.4 0 0.9 0.1 -0.3 0 1 0 -0.2 0.1 0.3 0 -0.8 0.1 -0.3 0 0.5 0 0.9 0.1 -1 0 -0.3 0.1 -0.8 0 0.3 0 0.4 0.1 0.5 0 -0.1 0.1 -0.4 0 0.2 0 0.8 0.1 0.2 0 -0.4 0.1 0.2 0 -0.2 0 0.4 0.1 -1.9 0 0.5 0.1 0.5 0 0 0 0.6 0.1 -1.9 0 1.2 0.1 0.1 0 -0.6 0 0.3 0.1 0.7 0 -0.3 0.1 -0.3 0 0.2 0 -0.2 0.1 0.6 0 -0.6 0.1 0.6 0 -0.9 0 0.3 0.1 -0.6 0 0.5 0.1 0.7 0 -1.1 0 0.4 0.1 0.2 0 -0.2 0.1 0.7 0 -1.3 0 1.3 0.1 0.3 0 0.2 0.1 -1 0 -0.5 0 -0.4 0.1 1.3 0 0.1 0.1 -0.3 0 0 0 0.2 0.1 -0.6 0 -0.7 0.1 0.1 0 0.4 0 -0.1 0.1 -0.4 0 0.7 0.1 -0.4 0 1 0 -0.4 0.1 0.5 0 -1.2 0.1 0.1 0 -0.3 0 1.1 0.1 1.2 0 -1.2 0.1 -0.4 0 0.4 0 -0.1 0.1 0.6 0 -0.6 0.1 -0.5 0 -0.7 0 1.4 0.1 0.4 0 -0.5 0.1 -0.6 0 0.2 0 0.1 0.1 0.6 0 -0.4 0.1 0.7 0 -0.8 0 -0.3 0.1 1.5 0 -1.7 0.1 0.2 0 1.7 0 -1.1 0.1 0.9 0 -2.4 0.1 2.1 0 -0.8 0 0.1 0.1 0.3 0 -1.7 0.1 0.8 0 0.8 0 1.1 0.1 -1.8 0 1.8 0.1 -0.9 0 0.2 0 -1.2 0.1 1 0 -0.9 0.1 -0.2 0 1.5 0 -1.2 0.1 0.1 0 0.7 0.1 -0.9 0 -0.3 0 0.9 0.1 0.1 0 0.7 0.1 -1.6 0 1.2 0 0 0.1 -0.7 0 0.1 0.1 0.1 0 -0.6 0 -0.2 0.1 1.3 0 -1.1 0.1 0 0 1.1 0 -0.8 0.1 0.1 0 -0.6 0.1 0.1 0 -0.1 0 0 0.1 1.6 0 -1.3 0.1 -0.8 0 0.7 0 1.1 0.1 -1.1 0 0.6 0.1 -0.5 0 -0.5 0 0.7 0.1 -0.3 0 0.8 0.1 0.3 0 -0.5 0 1.4 0.1 -2 0 1.5 0.1 -0.6 0 0.6 0 -0.5 0.1 -1.6 0 1.1 0.1 0.8 0 -0.6 0 -0.8 0.1 0.5 0 0.5 0.1 0.5 0 -1.1 0 0.4 0.1 -0.6 0 -0.1 0.1 0.4 0 1.1 0 -0.4 0.1 -0.6 0 0.2 0.1 0.3 0 -0.4 0 -0.2 0.1 0.1 0 0.6 0.1 -0.6 0 0.7 0 -1.6 0.1 0.6 0 0.2 0.1 0.7 0 -1 0 0.3 0.1 0.5 0 -0.3 0.1 -0.3 0 0.2 0 -0.4 0.1 1.1 0 -0.2 0.1 0.2 0 0.9 0 -0.6 0.1 -0.5 0 -0.3 0.1 1.4 0 -1.2 0 -0.3 0.1 0.9 0 -0.5 0.1 -0.4 0 0.4 0 1 0.1 -1.1 0 0.1 0.1 -0.7 0 0.2 0 0.9 0.1 -0.6 0 0.1 0.1 0.6 0 -0.8 0 1.1 0.1 -1.3 0 -0.1 0.1 0 0 -0.4 0 1.2 0.1 -0.3 0 0.8 0.1 -1.3 0 0.9 0 0.4 0.1 -1 0 0.1 0.1 -1.3 0 2.5 0 -1.2 0.1 0.5 0 -0.7 0.1 0.5 0 -0.9 0 1.1 0.1 -0.4 0 -0.3 0.1 0.5 0 -1.3 0 1.2 0.1 -0.4 0 1.1 0.1 -0.4 0 -0.5 0 -0.1 0.1 1.5 0 -1.9 0.1 1.7 0 -0.6 0 -0.1 0.1 -1.6 0 1.7 0.1 -0.8 0 -0.3 0 0.9 0.1 -0.7 0 0.7 0.1 -0.9 0 0.9 0 -0.1 0.1 -0.7 0 -0.1 0.1 0.2 0 0.1 0 -0.1 0.1 1.5 0 -0.9 0.1 -0.4 0 0 0 -0.3 0.1 0.7 0 -0.3 0.1 -0.3 0 0 0 0.1 0.1 -0.3 0 0.7 0.1 -0.7 0 0.9 0 -0.5 0.1 0.5 0 -0.6 0.1 -0.8 0 0.3 0 0.6 0.1 0.4 0 0.1 0.1 0 0 0.1 0 -0.2 0.1 0.1 0 -0.4 0.1 0.5 0 -0.4 0 0 0.1 0.2 0 1.2 0.1 -2.2 0 0.6 0 0.1 0.1 0.4 0 -0.2 0.1 0.9 0 -1.9 0 2 0.1 -1.8 0 0.3 0.1 0.8 0 -0.3 0 0 0.1 0 0 0.2 0.1 0.4 0 -0.4 0 -1 0.1 0.3 0 1.3 0.1 0.3 0 -0.6 0 0.1 0.1 -0.4 0 1 0.1 -1.6 0 0.2 0 -0.3 0.1 1.4 0 -1.2 0.1 0.6 0 -1.1 0 -0.1 0.1 1.5 0 -0.2 0.1 0.1 0 -0.4 0 -0.3 0.1 0 0 -0.4 0.1 0.4 0 1 0 -0.9 0.1 -0.7 0 0.7 0.1 -0.5 0 -0.1 0 0.7 0.1 -0.4 0 -0.3 0.1 1.6 0 0.2 0 -1 0.1 0.8 0 -1.1 0.1 0.2 0 0.8 0 -0.6 0.1 0.3 0 -1.8 0.1 1.5 0 -0.4 0 0.2 0.1 -0.9 0 0.5 0.1 0.8 0 0 0 0.1 0.1 0.1 0 0.1 0.1 -0.4 0 -0.4 0 -0.2 0.1 0.1 0 -0.3 0.1 0 0 0.5 0 -1.3 0.1 0.6 0 0.3 0.1 0.8 0 0.3 0 -0.4 0.1 -0.3 0 -0.2 0.1 0.9 0 -0.2 0 -0.8 0.1 0.4 0 0.2 0.1 0.3 0 -0.7 0 1.1 0.1 -0.2 0 -1 0.1 0.2 0 -0.4 0 0 0.1 0.7 0 0.7 0.1 0 0 -0.8 0 -0.3 0.1 -0.2 0 0.7 0.1 -0.5 0 0.7 0 -0.5 0.1 0.2 0 -0.5 0.1 1.6 0 -0.6 0 -0.6 0.1 -0.6 0 0.9 0.1 0.1 0 -1.1 0 0.7 0.1 1.2 0 -1.1 0.1 -0.4 0 0.6 0 0.8 0.1 -1.4 0 0 0.1 0.1 0 0.2 0 0.7 0.1 -0.5 0 -1.5 0.1 1.6 0 -0.1 0 0.2 0.1 -0.2 0 -0.3 0.1 0.4 0 -0.7 0 -0.6 0.1 0.8 0 -0.4 0.1 1.6 0 -1 0 1 0.1 -1.8 0 0.1 0.1 1 0 -1.3 0 0.6 0.1 -0.7 0 1.4 0.1 -1.3 0 0.9 0 -0.9 0.1 1.3 0 0.4 0.1 -0.6 0 -0.7 0 0.9 0.1 0.3 0 -0.1 0.1 0.3 0 0.4 0 -1 0.1 -0.3 0 -0.3 0.1 0.4 0 -0.1 0 -0.2 0.1 0.5 0 1 0.1 -1.6 0 0.1 0 0.1 0.1 -0.4 0 1.3 0.1 -0.8 0 0.5 0 -1.3 0.1 1.3 0 -0.4 0.1 -0.8 0 1.3 0 0.1 0.1 -0.4 0 0.1 0.1 -0.8 0 1.2 0 -0.8 0.1 0.4 0 0.1 0.1 -0.1 0 -0.7 0 0.6 0.1 -0.1 0 0.7 0.1 -1.2 0 1 0 -0.3 0.1 -0.2 0 1.1 0.1 -0.6 0 -0.9 0 0.6 0.1 -0.7 0 -0.2 0.1 0.4 0 0 0 1.3 0.1 -0.5 0 -1.8 0.1 1.2 0 -0.3 0 0.3 0.1 0.2 0 -0.1 0.1 0.2 0 -0.7 0 1.3 0.1 -0.9 0 0.8 0.1 -0.8 0 0.4 0 -0.9 0.1 1.3 0 -0.5 0.1 -0.4 0 0.4 0 0.1 0.1 -1.2 0 0.5 0.1 -0.2 0 1.1 0 -0.4 0.1 -0.5 0 0 0.1 0.4 0 -1.3 0 1.2 0.1 1.1 0 -1.8 0.1 0.1 0 0 0 1 0.1 -0.7 0 1.6 0.1 -1.3 0 -0.2 0 -0.3 0.1 1 0 0.3 0.1 -0.6 0 0.7 0 0 0.1 -0.5 0 -0.2 0.1 -0.4 0 0.5 0 -0.3 0.1 1 0 -0.4 0.1 -0.5 0 -0.2 0 0.5 0.1 0.4 0 -0.5 0.1 0.5 0 -0.9 0 0.4 0.1 0.3 0 -0.3 0.1 0.1 0 0.4 0 -0.6 0.1 0.6 0 -0.9 0.1 0.6 0 -0.5 0 0 0.1 0.6 0 0.4 0.1 -0.8 0 0.1 0 0.7 0.1 -1.2 0 1 0.1 -1.2 0 -0.5 0 1.4 0.1 -0.4 0 -0.2 0.1 -1 0 1.6 0 -0.5 0.1 -0.4 0 0.6 0.1 -0.7 0 0.3 0 0 0.1 1 0 -0.6 0.1 0.8 0 -1.2 0 -0.3 0.1 1.8 0 -1.9 0.1 1.6 0 -1.4 0 1.1 0.1 -0.9 0 1.4 0.1 0.3 0 -0.6 0 -0.4 0.1 -0.4 0 0.7 0.1 0.7 0 -1.5 0 -0.4 0.1 1.8 0 -1.2 0.1 0.5 0 -0.3 0 0.1 0.1 -0.4 0 0.1 0.1 -0.9 0 0.7 0 -0.2 0.1 1.2 0 -0.9 0.1 0.3 0 -1.1 0 1.1 0.1 0.8 0 -0.8 0.1 0.5 0 -0.8 0 -0.1 0.1 0.9 0 -0.8 0.1 -0.4 0 0.6 0 -0.2 0.1 0.9 0 -0.2 0.1 -1.3 0 1.2 0 -1.2 0.1 1 0 0.2 0.1 -0.7 0 0 0 0.8 0.1 -0.6 0 -0.5 0.1 1.6 0 -0.4 0 -0.2 0.1 -0.1 0 0.4 0.1 -0.6 0 0.5 0 -0.3 0.1 -0.6 0 1 0.1 -0.5 0 -0.6 0 0.2 0.1 -1.1 0 0.4 0.1 0.1 0 1.3 0 0 0.1 0.3 0 -0.5 0.1 0.8 0 -1.3 0 -0.2 0.1 -0.1 0 0.7 0.1 -0.5 0 -0.2 0 0.3 0.1 0.4 0 -0.9 0.1 0.8 0 0 0 1 0.1 -0.9 0 -0.9 0.1 0.9 0 0 0 -0.9 0.1 -0.5 0 1.7 0.1 -0.5 0 -0.3 0 0.3 0.1 0.9 0 0.2 0.1 -1.3 0 1.2 0 -0.9 0.1 0 0 -0.1 0.1 0.1 0 -0.1 0 -0.3 0.1 0.4 0 -0.6 0.1 0.9 0 -0.7 0 0.7 0.1 -0.4 0 -1 0.1 1.8 0 -0.5 0 -0.2 0.1 -0.2 0 1.3 0.1 -1.2 0 0.7 0 -0.5 0.1 -0.9 0 1.3 0.1 -1.4 0 1.2 0 0 0.1 -0.1 0 -0.6 0.1 1.3 0 0.2 0 -1.6 0.1 0.3 0 1.2 0.1 -1.2 0 0.8 0 -1.1 0.1 0.2 0 0.5 0.1 0.1 0 -1.1 0 0.2 0.1 1 0 0.4 0.1 -0.4 0 -0.1 0 0 0.1 -1 0 1 0.1 0.3 0 -0.2 0 -1 0.1 0.1 0 1.2 0.1 -1.5 0 0.2 0 1.6 0.1 -1.5 0 0.1 0.1 0.9 0 0.1 0 -0.6 0.1 -0.8 0 0.6 0.1 0.4 0 -0.7 0 0 0.1 1.3 0 -0.4 0.1 0.2 0 0 0 -1.1 0.1 0.9 0 0.4 0.1 -0.3 0 -1.1 0 -0.2 0.1 0.4 0 0.8 0.1 -0.4 0 0.3 0 -0.9 0.1 1.2 0 -0.9 0.1 1.1 0 -0.7 0 -1.3 0.1 1.2 0 -0.4 0.1 0 0 0.4 0 0.8 0.1 -0.2 0 0.4 0.1 -0.9 0 -1.1 0 0.8 0.1 -0.2 0 0.1 0.1 1.8 0 -0.9 0 -1 0.1 1.3 0 -0.9 0.1 -0.7 0 1.6 0 -1 0.1 0.3 0 1.3 0.1 -1.9 0 1.2 0 -0.8 0.1 -0.5 0 0.5 0.1 0.3 0 0 0 -1 0.1 1.4 0 -1 0.1 0.7 0 -0.1 0 -0.5 0.1 0.7 0 -0.7 0.1 -0.2 0 -0.3 0 -0.2 0.1 0.7 0 -0.9 0.1 1.1 0 -0.1 0 1.3 0.1 -1.7 0 1.4 0.1 -0.5 0 0 0 -0.6 0.1 -0.1 0 0.3 0.1 0.2 0 0.4 0 -0.7 0.1 1.2 0 0.1 0.1 -2.3 0 1.4 0 -0.2 0.1 -0.5 0 -0.7 0.1 0.3 0 0.9 0 0.5 0.1 -0.1 0 0 0.1 -0.4 0 0.7 0 -0.3 0.1 0.4 0 -0.7 0.1 -0.4 0 -0.5 0 1.9 0.1 -1.3 0 -0.3 0.1 -0.6 0 1.6 0 -1.2 0.1 0.9 0 0.1 0.1 0.7 0 -1.3 0 -0.7 0.1 1.7 0 -0.4 0.1 -0.5 0 0.3 0 1.2 0.1 -1.1 0 -0.4 0.1 0.3 0 0.4 0 -0.1 0.1 0 0 0 0.1 -0.9 0 1.1 0 0.2 0.1 -0.2 0 -0.4 0.1 -0.1 0 0.2 0 -0.1 0.1 -1 0 0.9 0.1 0.9 0 -1 0 -0.1 0.1 0.7 0 -0.3 0.1 -0.5 0 0.5 0 1 0.1 0 0 -1 0.1 -0.2 0 0.9 0 -0.5 0.1 0.1 0 -0.4 0.1 -0.7 0 -0.1 0 0.8 0.1 -0.6 0 1.1 0.1 0.1 0 0.3 0 -0.8 0.1 1.1 0 -0.4 0.1 -0.5 0 0.2 0 -0.8 0.1 -1 0 2 0.1 -0.3 0 0.7 0 -0.7 0.1 -0.4 0 -0.2 0.1 -0.1 0 0.5 0 -1.2 0.1 0.4 0 1.2 0.1 -1.7 0 0.3 0 0.5 0.1 0.1 0 0.3 0.1 0.5 0 -0.3 0 0.2 0.1 -0.8 0 0.4 0.1 -0.4 0 0.3 0 0.5 0.1 -0.1 0 -1.4 0.1 0.4 0 1.9 0 -2.4 0.1 1.3 0 -0.8 0.1 0.6 0 -0.2 0 0.4 0.1 -0.7 0 1.3 0.1 0.6 0 -2.6 0 0.8 0.1 -0.4 0 1 0.1 0.8 0 0 0 -0.1 0.1 -0.6 0 -0.5 0.1 1 0 -1 0 -0.1 0.1 0.5 0 -0.8 0.1 0.6 0 -0.4 0 0.6 0.1 0.5 0 -0.9 0.1 0.7 0 0.2 0 -1 0.1 0.4 0 -0.1 0.1 1.3 0 -1.4 0 0.4 0.1 -1 0 0.3 0.1 0.9 0 -0.5 0 0.6 0.1 -0.4 0 1.3 0.1 -1.4 0 0.7 0 -1 0.1 0.1 0 -0.6 0.1 2.2 0 -2.5 0 1.3 0.1 -0.3 0 0.7 0.1 -0.8 0 1.5 0 -0.5 0.1 -0.3 0 -0.1 0.1 0.4 0 -0.4 0 0.7 0.1 -0.4 0 -0.6 0.1 0.3 0 -0.1 0 0.6 0.1 -0.9 0 0.3 0.1 -0.9 0 1.2 0 -0.2 0.1 -0.6 0 1.4 0.1 -1 0 -0.7 0 1.4 0.1 -0.8 0 -1.3 0.1 1.6 0 -0.2 0 0.1 0.1 -0.2 0 -0.4 0.1 0.6 0 -1.1 0 0.9 0.1 0.7 0 0 0.1 -0.9 0 1.5 0 -1 0.1 -0.4 0 0.3 0.1 -0.5 0 1 0 -1.1 0.1 0.1 0 -0.2 0.1 0.2 0 0.3 0 1.3 0.1 -1 0 0.6 0.1 -0.7 0 0.5 0 -1.2 0.1 0 0 1.8 0.1 -0.9 0 -1.2 0 1.3 0.1 -0.4 0 -0.1 0.1 0.7 0 -1.2 0 1.4 0.1 -0.5 0 -0.5 0.1 -0.5 0 1.9 0 -1.3 0.1 -0.6 0 0.7 0.1 0.4 0 0.1 0 0.5 0.1 -0.6 0 -0.3 0.1 1.3 0 -0.1 0 -1.9 0.1 1.3 0 -0.9 0.1 1.2 0 -1.4 0 0.7 0.1 0.8 0 -0.8 0.1 0.5 0 -1.1 0 -0.3 0.1 0 0 1.1 0.1 -0.7 0 1.2 0 -1.1 0.1 1.1 0 -0.6 0.1 -0.9 0 0.7 0 0.3 0.1 0 0 -0.4 0.1 0.7 0 0 0 -0.1 0.1 -1 0 -0.8 0.1 1.6 0 -0.8 0 0.2 0.1 0.1 0 0.4 0.1 -1.3 0 1 0 0.9 0.1 -1.7 0 0.7 0.1 1.1 0 -0.4 0 -0.1 0.1 -0.3 0 -0.9 0.1 0.9 0 -0.7 0 0.7 0.1 -0.5 0 -0.3 0.1 0.7 0 0.7 0 -1 0.1 0.4 0 0.4 0.1 -0.2 0 -1 0 0.4 0.1 0.6 0 -0.2 0.1 1 0 -0.7 0 -0.9 0.1 1 0 0.2 0.1 -0.2 0 -0.1 0 -1.2 0.1 0.8 0 0.4 0.1 -0.6 0 0.1 0 0.4 0.1 -0.6 0 -0.2 0.1 0.5 0 0 0 0.6 0.1 -0.6 0 -0.6 0.1 1 0 -0.8 0 0.9 0.1 -0.8 0 0.7 0.1 -0.1 0 -0.3 0 -0.7 0.1 0.6 0 1 0.1 -0.7 0 0.6 0 -0.7 0.1 0 0 -0.6 0.1 0.8 0 -0.7 0 0 0.1 1.1 0 -1.2 0.1 1.9 0 -1.3 0 -0.3 0.1 1.1 0 -1.4 0.1 0.7 0 0 0 0.5 0.1 0.5 0 -0.9 0.1 -0.9 0 -0.1 0 0.5 0.1 0.8 0 -0.4 0.1 0.1 0 -0.3 0 1 0.1 -1.5 0 1.8 0.1 -0.4 0 -0.3 0 -0.4 0.1 -0.2 0 0.2 0.1 -0.4 0 0.1 0 -0.2 0.1 0.9 0 -0.4 0.1 0.2 0 -0.7 0 -0.3 0.1 0.2 0 0.7 0.1 -0.8 0 1 0 -0.9 0.1 0.3 0 0.4 0.1 -0.8 0 -0.6 0 2 0.1 -0.8 0 -0.3 0.1 1.4 0 0.3 0 -1.3 0.1 0.2 0 1.1 0.1 -1.7 0 1.1 0 -0.1 0.1 -0.9 0 -0.3 0.1 0.2 0 0.5 0 0.1 0.1 1.1 0 -1.9 0.1 0.7 0 -0.5 0 1 0.1 -0.3 0 -1 0.1 0.5 0 0.3 0 0.4 0.1 -0.1 0 0.1 0.1 -0.4 0 0.3 0 -0.3 0.1 0.6 0 -0.3 0.1 -0.9 0 0.6 0 -0.5 0.1 0.4 0 0.4 0.1 -0.3 0 -0.1 0 -0.3 0.1 1.3 0 -0.9 0.1 -0.6 0 0.3 0 0.9 0.1 0.6 0 -0.4 0.1 -1 0 0.7 0 -1.5 0.1 1.5 0 -0.6 0.1 0.3 0 -0.9 0 1 0.1 -1 0 -0.2 0.1 1.8 0 -1.6 0 1.3 0.1 -0.9 0 0.3 0.1 0 0 0.7 0 -0.4 0.1 -0.8 0 0.2 0.1 1.1 0 0.1 0 -1.1 0.1 0.8 0 -0.6 0.1 0.7 0 -1.2 0 1.1 0.1 -0.9 0 -0.4 0.1 1.1 0 0 0 -1.2 0.1 -0.5 0 1.3 0.1 0.3 0 -0.5 0 0.3 0.1 -0.3 0 -0.1 0.1 0.6 0 0.5 0 -0.4 0.1 -0.5 0 -0.2 0.1 0.5 0 -1.4 0 1.4 0.1 -0.2 0 0.1 0.1 -0.2 0 0.1 0 -0.8 0.1 1.3 0 -0.6 0.1 0.2 0 -0.3 0 -0.6 0.1 1.3 0 -0.5 0.1 0 0 0.3 0 0.8 0.1 -1 0 0.4 0.1 0.7 0 -1.3 0 1 0.1 -0.7 0 0.5 0.1 -0.5 0 0.5 0 -1 0.1 0.2 0 -0.1 0.1 0.2 0 0.8 0 -0.4 0.1 0.2 0 -0.6 0.1 0.2 0 0.2 0 0 0.1 -0.6 0 0.1 0.1 -0.4 0 1.1 0 0.2 0.1 0.5 0 -2.5 0.1 1.9 0 -0.2 0 1 0.1 -1.6 0 -0.2 0.1 0.6 0 -1 0 0.1 0.1 1.1 0 -1.3 0.1 0.3 0 1.4 0 -0.3 0.1 -1.2 0 1.6 0.1 -0.7 0 -0.3 0 0.3 0.1 -0.1 0 0.7 0.1 -0.3 0 -0.9 0 0.2 0.1 0.8 0 -0.8 0.1 -0.3 0 -0.7 0 1.8 0.1 -0.5 0 -0.1 0.1 -0.4 0 0.2 0 0.3 0.1 -0.6 0 0.7 0.1 1 0 -1.4 0 0.4 0.1 0.9 0 -0.9 0.1 0.9 0 -0.3 0 -0.1 0.1 -0.6 0 -0.2 0.1 1.1 0 -0.7 0 -0.2 0.1 -1.2 0 1.2 0.1 1.4 0 -0.9 0 0.7 0.1 -1 0 -0.9 0.1 0.9 0 1 0 -1 0.1 -0.3 0 0.1 0.1 -0.6 0 0.5 0 0.3 0.1 0.5 0 -0.1 0.1 -1.1 0 -0.5 0 0.9 0.1 -0.2 0 0.9 0.1 -1.1 0 1 0 -0.6 0.1 0.9 0 -0.6 0.1 -1.2 0 -0.2 0 1.5 0.1 -0.8 0 1.2 0.1 -0.6 0 1.1 0 -1.1 0.1 -0.4 0 -0.8 0.1 1.5 0 -0.4 0 0 0.1 1.5 0 -0.9 0.1 -1 0 1 0 -1.4 0.1 0.6 0 0.9 0.1 -1.3 0 0.8 0 0 0.1 0.1 0 -0.7 0.1 -0.3 0 0.9 0 0.4 0.1 -1 0 1.1 0.1 0.2 0 -0.5 0 0.4 0.1 0 0 0.1 0.1 -0.5 0 0 0 0 0.1 0.5 0 -1 0.1 1.2 0 -1.4 0 1.7 0.1 -0.8 0 0.9 0.1 -1.1 0 0.3 0 -1.4 0.1 0.8 0 0.3 0.1 0.1 0 0.2 0 -0.4 0.1 -0.1 0 0.6 0.1 -1.4 0 0.6 0 0.7 0.1 -0.5 0 0.8 0.1 -1.1 0 0.1 0 0.7 0.1 0.7 0 -1.9 0.1 -0.2 0 0.3 0 -0.1 0.1 0.9 0 0.5 0.1 -0.6 0 0.1 0 0.3 0.1 -0.2 0 0 0.1 -0.1 0 0.6 0 -1.4 0.1 0.4 0 0.5 0.1 1.1 0 -1.8 0 1 0.1 -0.9 0 0.3 0.1 -0.3 0 1.6 0 -0.9 0.1 -0.6 0 0.9 0.1 -1 0 0.6 0 -1 0.1 0.7 0 0.4 0.1 0 0 -0.8 0 0.1 0.1 -0.6 0 -0.2 0.1 1.1 0 0.8 0 -0.4 0.1 0.1 0 -0.3 0.1 0 0 -0.1 0 1.1 0.1 -1.2 0 0.9 0.1 -1.6 0 0.2 0 0.6 0.1 -0.8 0 1.8 0.1 -0.8 0 0.2 0 -0.6 0.1 0.6 0 -0.7 0.1 1.2 0 0 0 -1.2 0.1 -0.1 0 -0.4 0.1 0.1 0 1.6 0 -0.3 0.1 0.5 0 -0.6 0.1 0.2 0 -0.1 0 -0.7 0.1 0.4 0 0.5 0.1 -0.5 0 -0.7 0 0 0.1 1.8 0 -1.7 0.1 0.1 0 0.5 0 -0.1 0.1 0.6 0 -0.8 0.1 0.6 0 -0.3 0 0 0.1 -0.2 0 -0.4 0.1 0.2 0 -0.3 0 0.4 0.1 0.3 0 0.1 0.1 -0.8 0 0.2 0 0.2 0.1 1 0 -0.6 0.1 0.1 0 0.5 0 -0.4 0.1 -0.6 0 1.3 0.1 -1.1 0 0.8 0 -0.5 0.1 0.2 0 0.4 0.1 -1.1 0 -0.6 0 1.1 0.1 -0.3 0 -0.1 0.1 0.2 0 -1 0 1 0.1 -0.2 0 0.4 0.1 -0.3 0 -0.1 0 0.6 0.1 0.2 0 -0.7 0.1 -0.4 0 0.1 0 1.1 0.1 -1.7 0 1 0.1 0.1 0 0.1 0 -1.5 0.1 1.4 0 -1.5 0.1 1 0 -0.3 0 -0.6 0.1 2.2 0 -1.2 0.1 -0.8 0 0.3 0 0.6 0.1 0.5 0 -0.4 0.1 -0.8 0 1.7 0 -0.7 0.1 0.8 0 -0.2 0.1 -0.6 0 0.6 0 -0.8 0.1 0.7 0 -1.6 0.1 -0.1 0 0.4 0 1 0.1 -0.3 0 -0.5 0.1 0.1 0 0 0 0.4 0.1 0.6 0 0 0.1 -0.7 0 0.1 0 0.3 0.1 -1 0 0.7 0.1 0.3 0 0 0 -0.6 0.1 -0.2 0 0 0.1 1.4 0 -0.9 0 -0.7 0.1 -0.5 0 1.2 0.1 0.9 0 -1 0 -0.4 0.1 1 0 -0.7 0.1 0.2 0 0.2 0 -0.4 0.1 0.6 0 0.1 0.1 -0.5 0 -0.3 0 0.5 0.1 -1.5 0 1.1 0.1 -0.1 0 0.8 0 -1.1 0.1 1.3 0 -0.7 0.1 0.3 0 0.5 0 -0.6 0.1 -0.5 0 0.5 0.1 0.1 0 0.9 0 -1.1 0.1 0.5 0 0.3 0.1 -0.1 0 -0.8 0 -0.6 0.1 1.3 0 0.4 0.1 -0.6 0 0.3 0 -0.6 0.1 0.5 0 0.3 0.1 -0.8 0 0.7 0 -0.7 0.1 -0.6 0 0.8 0.1 -0.3 0 0.4 0 0 0.1 -0.4 0 0.3 0.1 -0.5 0 0.8 0 -1 0.1 -0.3 0 1.4 0.1 -1.8 0 1 0 0.1 0.1 0.6 0 -0.6 0.1 0 0 -1 0 1.7 0.1 -1.2 0 0.6 0.1 -0.5 0 1.2 0 -1.3 0.1 -0.2 0 1.6 0.1 -1.2 0 0.5 0 0.1 0.1 -1.1 0 1.5 0.1 -1.2 0 0.6 0 0.3 0.1 -0.3 0 -0.5 0.1 1.1 0 -1.1 0 -0.3 0.1 1.5 0 0.1 0.1 -1.9 0 1 0 0.1 0.1 -1.3 0 1 0.1 1 0 -1.3 0 1.4 0.1 0.4 0 -1.3 0.1 -0.3 0 0.5 0 -0.9 0.1 1.6 0 -0.4 0.1 -1.2 0 0.4 0 0.3 0.1 0.8 0 -0.1 0.1 -0.9 0 0.5 0 -0.4 0.1 0.6 0 -0.5 0.1 1.5 0 -1 0 -0.5 0.1 -0.5 0 -0.2 0.1 1.3 0 0.1 0 0.4 0.1 -1.5 0 1.1 0.1 -1.2 0 1.1 0 0 0.1 -0.2 0 -0.4 0.1 -0.1 0 0.1 0 -0.9 0.1 1.5 0 -1.1 0.1 0.8 0 -0.1 0 0.5 0.1 -0.4 0 0 0.1 0.1 0 0.4 0 -0.8 0.1 -0.3 0 0.6 0.1 -0.1 0 0.5 0 -0.2 0.1 -0.1 0 0.6 0.1 -0.5 0 0.2 0 -0.6 0.1 1.1 0 -0.5 0.1 -1 0 0.1 0 1.6 0.1 -0.9 0 0.9 0.1 0.2 0 -1.2 0 0.1 0.1 0.3 0 -1 0.1 -0.5 0 2.2 0 -1.6 0.1 0.4 0 1 0.1 -0.9 0 0.5 0 -0.3 0.1 -1 0 0.3 0.1 0.5 0 -0.6 0 1.2 0.1 -0.4 0 -1.2 0.1 1.3 0 -0.6 0 0.1 0.1 0.6 0 -1.5 0.1 0.5 0 0.8 0 -1.1 0.1 1.7 0 -2.2 0.1 2 0 -0.2 0 -0.8 0.1 0.4 0 -0.5 0.1 1.6 0 -1.1 0 0.3 0.1 -0.1 0 -1 0.1 -0.4 0 1.3 0 0.8 0.1 -0.5 0 -0.5 0.1 0.4 0 -0.5 0 1 0.1 -0.4 0 -0.2 0.1 1.1 0 -1.6 0 -0.2 0.1 0.4 0 -0.2 0.1 0 0 0.7 0 0 0.1 -1.4 0 0.6 0.1 0.1 0 -0.8 0 1.5 0.1 -0.3 0 0.2 0.1 -0.7 0 0.1 0 0.5 0.1 -0.1 0 -0.3 0.1 0.5 0 -0.7 0 1 0.1 -0.3 0 -0.6 0.1 -0.4 0 0.9 0 0.5 0.1 -0.6 0 0.8 0.1 -0.4 0 0.3 0 -1.6 0.1 0.5 0 0.4 0.1 0.1 0 -0.2 0 -0.2 0.1 -1 0 2 0.1 -0.3 0 -0.7 0 0.3 0.1 -0.4 0 1 0.1 -0.7 0 0.8 0 -1 0.1 -0.3 0 -0.4 0.1 1.3 0 -0.7 0 0.7 0.1 0.4 0 -0.5 0.1 0.7 0 -1.1 0 -0.3 0.1 0.7 0 -0.3 0.1 1.1 0 -2 0 0.4 0.1 1.4 0 -1.2 0.1 0.3 0 -0.2 0 0.3 0.1 1.3 0 -0.6 0.1 -0.6 0 1.1 0 -1.7 0.1 0.7 0 1 0.1 -1.9 0 0.2 0 0 0.1 0.4 0 0.6 0.1 0.5 0 -0.2 0 0.1 0.1 -0.6 0 -0.5 0.1 -0.3 0 0.6 0 -0.5 0.1 -0.2 0 1 0.1 -0.8 0 0.3 0 1.5 0.1 -1 0 0 0.1 -0.4 0 -0.4 0 0.9 0.1 -0.6 0 0.1 0.1 -0.3 0 0.7 0 -0.1 0.1 -1.5 0 0.7 0.1 0.5 0 1.2 0 -1.7 0.1 0.8 0 0.5 0.1 0 0 -1 0 0.9 0.1 -0.4 0 -0.1 0.1 -0.3 0 -0.8 0 0.7 0.1 -0.6 0 1.5 0.1 -0.3 0 0.8 0 -1.9 0.1 -0.1 0 0.8 0.1 0.3 0 0.4 0 -1.2 0.1 -0.4 0 0.4 0.1 2 0 -2 0 0.3 0.1 0.9 0 -0.2 0.1 -0.6 0 -1 0 1.6 0.1 -0.7 0 1.1 0.1 -0.7 0 0.3 0 -1.5 0.1 1.2 0 -0.1 0.1 -0.2 0 0.5 0 0.1 0.1 -0.6 0 0.7 0.1 0.5 0 -0.6 0 -0.4 0.1 0.3 0 -0.3 0.1 0.3 0 0.3 0 -0.7 0.1 0.7 0 0.6 0.1 -1.2 0 -0.3 0 0.2 0.1 0.7 0 -0.2 0.1 -0.6 0 -0.9 0 1.6 0.1 -0.1 0 0 0.1 -0.6 0 -0.9 0 1.1 0.1 -0.3 0 0.8 0.1 0.6 0 -0.4 0 -0.7 0.1 0.7 0 -0.8 0.1 0.8 0 -0.4 0 -0.4 0.1 0.6 0 -0.2 0.1 0.8 0 -0.9 0 0 0.1 0.9 0 -0.6 0.1 -0.1 0 1.1 0 -2.6 0.1 0.5 0 0.5 0.1 1.2 0 0.2 0 -0.8 0.1 -0.5 0 -0.5 0.1 1.2 0 -0.1 0 -0.5 0.1 0.9 0 0.4 0.1 -1.5 0 0.7 0 -0.9 0.1 0.9 0 -0.9 0.1 0.8 0 1.1 0 -1.5 0.1 1.2 0 0 0.1 -0.1 0 -1 0 -0.6 0.1 0.9 0 0.3 0.1 -0.7 0 -0.2 0 -0.2 0.1 1.9 0 -2.4 0.1 1.7 0 -0.8 0 1 0.1 0.1 0 -1.4 0.1 0.6 0 -0.2 0 0.6 0.1 -0.4 0 0.5 0.1 -0.2 0 -0.6 0 1 0.1 -0.4 0 0.1 0.1 -0.6 0 0.7 0 -0.7 0.1 1 0 -0.5 0.1 -1.6 0 1.7 0 0 0.1 -0.3 0 0.5 0.1 -1.4 0 1.1 0 -0.7 0.1 0.6 0 -0.6 0.1 -0.3 0 0.6 0 -0.8 0.1 1 0 0.4 0.1 0.4 0 -0.6 0 -0.5 0.1 0.2 0 0 0.1 0.8 0 -1.3 0 0.3 0.1 -0.9 0 1.9 0.1 -1.4 0 -0.1 0 -0.4 0.1 1.4 0 -0.4 0.1 0 0 -0.6 0 0.5 0.1 1 0 -1.6 0.1 1 0 0.7 0 -1.5 0.1 1.1 0 0 0.1 -0.9 0 0.4 0 0.5 0.1 0.1 0 -0.9 0.1 -0.5 0 1 0 0 0.1 0.3 0 0.4 0.1 -0.1 0 -0.2 0 -0.7 0.1 1 0 -0.1 0.1 -0.9 0 -0.1 0 -0.5 0.1 0.6 0 0.3 0.1 -0.2 0 0.5 0 -0.3 0.1 -0.6 0 1.3 0.1 -1.7 0 1.6 0 -0.6 0.1 0.1 0 -0.5 0.1 0.5 0 0.9 0 -1.4 0.1 0.6 0 -0.1 0.1 -1.5 0 1 0 0.6 0.1 -0.6 0 0.3 0.1 -0.6 0 1.7 0 -0.8 0.1 -0.3 0 -0.3 0.1 1 0 -0.5 0 0.4 0.1 -0.1 0 -1.2 0.1 1.1 0 -1.7 0 0.1 0.1 1.1 0 1.2 0.1 -0.7 0 0 0 -0.8 0.1 0.4 0 0.4 0.1 -1.6 0 0.8 0 0.2 0.1 0.8 0 0.2 0.1" fill="none" stroke="#0072BD" stroke-width="0.45" stroke-opacity="1.0" stroke-linejoin="round"/><path d="M114.3 149.8l0.1 3.9 0 -0.6 0 -6 0.1 0.4 0 -1.1 0.1 3.5 0 -2.5 0.1 2.7 0 -10.1 0.1 12.7 0 -6.7 0.1 2.8 0 -3.6 0.1 -1.3 0 3.2 0.1 1.3 0 -4.7 0.1 -0.1 0 3.4 0.1 -7.3 0 -3.3 0.1 8.5 0 -5.4 0.1 -6.3 0 4.9 0.1 1.4 0 -4 0.1 -2 0 7.5 0.1 4.2 0 -6.3 0.1 -3 0 5.7 0.1 1.6 0 -5.9 0.1 4.3 0 2.4 0.1 -7.2 0 -3.7 0.1 6.2 0 -0.9 0.1 4.4 0 -13.6 0.1 3.2 0 -1.3 0.1 -5.4 0 10.2 0.1 1.9 0 -7.4 0.1 11.6 0 -3.4 0.1 -1.5 0 -1.5 0.1 2.8 0 -13.3 0.1 10.7 0 -0.3 0.1 -13.9 0 11.8 0.1 -3.7 0 5.6 0.1 -7.2 0 2.2 0.1 1.8 0 -7.3 0.1 8.3 0 -4.3 0.1 3.2 0 -6.1 0.1 9.1 0 -3.1 0.1 -4.8 0 4.5 0.1 3.5 0 2.9 0.1 -19.9 0 14.2 0.1 -2.6 0 -3.5 0.1 -5.6 0 13.3 0.1 -15.2 0 10.7 0.1 4.2 0 -17.5 0.1 7.6 0 -6.2 0.1 9.1 0 7.4 0.1 2.9 0 -23 0.1 7 0 7.6 0.1 5.1 0 -7.2 0.1 -7.2 0 6.1 0.1 -2.1 0 -1.3 0.1 -3.4 0 6.6 0.1 -0.6 0 -2.7 0.1 -0.9 0 -6.7 0.1 4.7 0 10.2 0.1 -8.8 0 -7.9 0.1 17 0 -5.1 0.1 9.6 0 -12.9 0.1 -3.4 0 -6.4 0.1 17.1 0 7.6 0.1 -21.3 0 0.9 0.1 7.6 0 -9.1 0.1 3.3 0 -0.7 0.1 3.2 0 5.5 0.1 -7 0 5.5 0.1 -8.7 0 4.6 0.1 -15.9 0 4.2 0.1 14.1 0 -9 0.1 7.3 0 -0.4 0.1 5 0 -3.4 0.1 1.3 0 -7.3 0.1 -3.8 0 -0.3 0.1 1.5 0 -4.2 0.1 3.6 0 2.9 0.1 2.1 0 -3.8 0.1 -10.3 0 11.8 0.1 1.8 0 5.5 0.1 -3.3 0 -7.9 0.1 -0.6 0 17.4 0.1 -8.1 0 6.8 0.1 1.9 0 -19 0.1 7.7 0 0.4 0.1 0.5 0 -0.2 0.1 -2.2 0 -0.3 0.1 -10.7 0 8.4 0.1 -3.8 0 5.6 0.1 -3.9 0 6.9 0.1 1.2 0 -3.4 0.1 0 0 -1.5 0.1 -3.5 0 1.7 0.1 -2.2 0 5.6 0.1 -2.4 0 3.5 0.1 -12.4 0 14.1 0.1 -10.7 0 0.1 0.1 3.3 0 -2.4 0.1 5.3 0 -5.6 0.1 -3.3 0 1.3 0.1 13.7 0 -8.2 0.1 -7.9 0 7.4 0.1 -10.1 0 21.3 0.1 -21.3 0 12.7 0.1 0.3 0 -12.9 0.1 11.1 0 4.3 0.1 -3.5 0 -1.4 0.1 4.3 0 -5.2 0.1 1 0 -3 0.1 4.7 0 -10.2 0.1 11 0 -8.4 0.1 -3.9 0 9.2 0.1 8.4 0 -4.8 0.1 -9.5 0 7.6 0.1 -7.5 0 2 0.1 1.3 0 -15.5 0.1 15.9 0 -7.9 0.1 2 0 -5.1 0.1 -0.4 0 3.6 0.1 11.2 0 5.2 0.1 -10.9 0 7 0.1 -8.7 0 -10.7 0.1 13.1 0 1.8 0.1 -5.7 0 4.5 0.1 1.6 0 -9.3 0.1 -4 0 7.9 0.1 0 0 -1 0.1 8.4 0 4.6 0.1 -13.8 0 7 0.1 1.5 0 -1.6 0.1 2 0 -9.3 0.1 7.1 0 8.1 0.1 -7.9 0 -9.2 0.1 7.8 0 4 0.1 -5.8 0 -6 0.1 13.3 0 -17.9 0.1 11 0 -3.4 0.1 -7.6 0 15.3 0.1 -5.7 0 -9.8 0.1 11.2 0 -6.7 0.1 -9.5 0 7.6 0.1 6 0 2.3 0.1 -3.2 0 -0.8 0.1 2.6 0 -4.5 0.1 8.8 0 -6.7 0.1 0.8 0 1.5 0.1 -10.3 0 2.1 0.1 14.1 0 -7.7 0.1 -4 0 3.8 0.1 -5.3 0 4.7 0.1 -6.1 0 5.9 0.1 -12 0 18.5 0.1 -11.9 0 -7 0.1 8.6 0 -1.1 0.1 3.2 0 -8.3 0.1 9.7 0 14.7 0.1 -25.5 0 10.3 0.1 -4.2 0 3.1 0.1 -12.8 0 4.1 0.1 10.2 0 -3.2 0.1 10.6 0 -15 0.1 5.6 0 16 0.1 -22.2 0 -0.9 0.1 5.5 0 -0.2 0.1 5.6 0 -4.6 0.1 -5.7 0 6.1 0.1 15.4 0 -8.7 0.1 -25.4 0 16.2 0.1 -4.7 0 9.5 0.1 -5.2 0 13.4 0.1 -6.5 0 -0.3 0.1 -4.5 0 -1.5 0.1 2.3 0 6 0.1 -4.9 0 -5.7 0.1 10.3 0 -6.9 0.1 -1.8 0 -4.6 0.1 1.4 0 -0.6 0.1 -13.2 0 23.6 0.1 -2.9 0 -5 0.1 7.9 0 -3.9 0.1 -0.5 0 -18.2 0.1 14.2 0 4.9 0.1 6.8 0 1.4 0.1 -2.7 0 -16.6 0.1 -6.6 0 17.5 0.1 -3.6 0 5.8 0.1 -7 0 2.1 0.1 -11.1 0 12.3 0.1 -5.8 0 4.9 0.1 0.6 0 -3.8 0.1 2.6 0 -2.2 0.1 4.8 0 -1.7 0.1 -6.8 0 -0.4 0.1 14.7 0 -11.8 0.1 6.8 0 -3.9 0.1 -6.2 0 -1.3 0.1 5.5 0 0.7 0.1 2.2 0 -12.1 0.1 4.2 0 3.1 0.1 10.6 0 -25.3 0.1 17.7 0 -6.3 0.1 6.1 0 -6 0.1 5.3 0 7.6 0.1 -7.8 0 0.4 0.1 -0.5 0 -7.3 0.1 8.1 0 -4.9 0.1 -3.9 0 4.8 0.1 -1.3 0 6.1 0.1 -5.1 0 -3.2 0.1 12.5 0 -3.1 0.1 1.7 0 -4.3 0.1 -4.7 0 -2.1 0.1 0.8 0 7.7 0.1 -5.4 0 -10.3 0.1 9.1 0 -8.9 0.1 9.9 0 -8.8 0.1 -0.5 0 8.7 0.1 -1.4 0 -10.2 0.1 15.2 0 8.8 0.1 -23.3 0 20.9 0.1 -16.1 0 1.1 0.1 1.9 0 -8.2 0.1 17.3 0 -5.2 0.1 -8.1 0 2.9 0.1 -8 0 7.3 0.1 8 0 -16.9 0.1 8 0 3.5 0.1 5.6 0 1.8 0.1 -11.6 0 -1.9 0.1 7.4 0 -5.3 0.1 0.2 0 8.7 0.1 3.8 0 -9.2 0.1 -3 0 4.7 0.1 -15.8 0 11.8 0.1 -6.8 0 21.8 0.1 -10.7 0 -3.8 0.1 -2.3 0 -14.9 0.1 20.4 0 5.7 0.1 -15.1 0 8.8 0.1 0.1 0 -14.5 0.1 15.6 0 2.6 0.1 -7.3 0 -2 0.1 5.3 0 -14.9 0.1 10.2 0 6 0.1 -14.7 0 14 0.1 -9 0 -10.7 0.1 12.4 0 -5.6 0.1 8.1 0 -9.6 0.1 14 0 -11.5 0.1 6.9 0 -6.2 0.1 1.6 0 9.5 0.1 -6.3 0 -4 0.1 -5.5 0 15.2 0.1 -2.9 0 -6.8 0.1 3.5 0 -8.2 0.1 0 0 1.1 0.1 7.3 0 -0.5 0.1 -6.7 0 9.3 0.1 0.2 0 -4 0.1 5.4 0 -8.5 0.1 0.9 0 3.6 0.1 -3.3 0 5.1 0.1 -13 0 16.8 0.1 -14.1 0 3.8 0.1 -7.8 0 12.4 0.1 4.2 0 -1.4 0.1 -1.6 0 -15.3 0.1 4.8 0 1.9 0.1 -3.1 0 12.9 0.1 -6.1 0 -1.4 0.1 3.1 0 -9.2 0.1 0.2 0 0 0.1 8.7 0 -1.1 0.1 1.3 0 3.1 0.1 -15.5 0 5 0.1 4.4 0 -9.5 0.1 5.1 0 9.8 0.1 0.5 0 -0.2 0.1 -6.6 0 -1.7 0.1 8.1 0 -9.2 0.1 4.4 0 6.3 0.1 -10.8 0 -1.6 0.1 3.8 0 3.8 0.1 -0.8 0 -2.1 0.1 2.5 0 -13.7 0.1 4.6 0 6.4 0.1 -6.9 0 -2.7 0.1 0.8 0 1.8 0.1 4.6 0 -5.4 0.1 8 0 9.2 0.1 -11.8 0 9 0.1 -6.3 0 -9 0.1 5.5 0 -4.7 0.1 11.1 0 -12.3 0.1 15.7 0 -4.8 0.1 -16.5 0 17.7 0.1 4.9 0 -14.9 0.1 11.2 0 -17.7 0.1 12.9 0 -12.1 0.1 13.5 0 -14.4 0.1 -5.4 0 19.1 0.1 11.9 0 -18.3 0.1 9 0 -4.6 0.1 -2.8 0 5.9 0.1 6.5 0 -18.4 0.1 11.2 0 -1.6 0.1 -11.3 0 19 0.1 2 0 -18.6 0.1 16.9 0 -10.8 0.1 -1.6 0 10.4 0.1 -8.3 0 0.4 0.1 7.4 0 -1.6 0.1 -2.7 0 -14.7 0.1 -1.2 0 16.9 0.1 -13.2 0 6.6 0.1 -7.9 0 5.5 0.1 -7.1 0 18.2 0.1 -16.9 0 5.5 0.1 -0.6 0 8.6 0.1 -16.8 0 8.6 0.1 -1.3 0 4.5 0.1 -0.5 0 -6.1 0.1 4.3 0 -4.1 0.1 5.2 0 -3.8 0.1 -3.7 0 3.8 0.1 2.3 0 11.9 0.1 -17.6 0 4.8 0.1 7.2 0 -22.6 0.1 2 0 3.3 0.1 6.6 0 16 0.1 -13.2 0 5 0.1 -9.2 0 -14.3 0.1 0.7 0 20.9 0.1 -5.4 0 -9.6 0.1 15.1 0 -16.8 0.1 16.9 0 1.9 0.1 -14 0 -2.2 0.1 12.3 0 -12.3 0.1 12.3 0 -13 0.1 12.6 0 -4.5 0.1 -3.4 0 -2.9 0.1 7.1 0 -13.5 0.1 10.2 0 -0.8 0.1 6.7 0 -12.2 0.1 18.7 0 -12.8 0.1 -5.3 0 15.9 0.1 1.7 0 -11.7 0.1 -4.5 0 5.7 0.1 -4.5 0 2.4 0.1 11.8 0 -7.4 0.1 -1.6 0 1.2 0.1 -2.6 0 5.7 0.1 0.2 0 -8 0.1 3 0 14.5 0.1 -12.6 0 -3.9 0.1 14.1 0 -12.9 0.1 -7 0 11.1 0.1 -10 0 2.5 0.1 5.2 0 -2.9 0.1 -4.1 0 1.3 0.1 -0.3 0 11.1 0.1 -12 0 0.9 0.1 16.5 0 -16.4 0.1 12.8 0 -1.1 0.1 -9.3 0 -8.1 0.1 11.7 0 1.2 0.1 1.8 0 -5.8 0.1 7 0 1.1 0.1 -15.5 0 15.5 0.1 -8 0 -4.8 0.1 1.4 0 13.8 0.1 -5.8 0 -17.6 0.1 11.7 0 -1.5 0.1 -0.3 0 -2.3 0.1 -6.1 0 14.6 0.1 -11.5 0 3.5 0.1 -1.6 0 -0.9 0.1 9.1 0 -2.3 0.1 -6.8 0 -1.9 0.1 2.9 0 9 0.1 -5.4 0 0.5 0.1 -3.6 0 0.3 0.1 2.9 0 -13.1 0.1 21.7 0 -15.3 0.1 1.3 0 11.9 0.1 -7.1 0 -1.3 0.1 -4 0 -6.3 0.1 10.9 0 6.3 0.1 -13.3 0 14.1 0.1 -15.8 0 2.4 0.1 7.7 0 -3.3 0.1 4.3 0 -9.2 0.1 -1.9 0 -5.4 0.1 4.1 0 0.7 0.1 -2.3 0 10.8 0.1 -6.2 0 -8.5 0.1 28.1 0 -21.1 0.1 -2.7 0 15.6 0.1 -0.6 0 -14.7 0.1 -2.2 0 2.9 0.1 13.3 0 -9.2 0.1 -3.2 0 4.8 0.1 7.6 0 -16.4 0.1 6.2 0 -6.4 0.1 22.3 0 -2.4 0.1 -5.6 0 -6.9 0.1 4.9 0 -17.5 0.1 14.8 0 -10.2 0.1 -0.1 0 3.8 0.1 2.1 0 5.7 0.1 0.7 0 -2.9 0.1 -7.7 0 10.1 0.1 -5.1 0 8.1 0.1 -13.4 0 -11.3 0.1 13.9 0 16.4 0.1 -10.7 0 -4.3 0.1 6.7 0 -2.5 0.1 -0.4 0 -6.3 0.1 3.6 0 0.7 0.1 -5.4 0 -3.1 0.1 7.8 0 5.1 0.1 -2.1 0 -1.1 0.1 -0.1 0 13 0.1 -14.7 0 4.8 0.1 5.6 0 -12.1 0.1 1.3 0 4.8 0.1 4 0 -8.8 0.1 0.3 0 -1.8 0.1 -8.3 0 14.6 0.1 -8.7 0 -9.3 0.1 9.8 0 -10.1 0.1 4.5 0 6.4 0.1 -6 0 12.4 0.1 -16 0 10.8 0.1 1.8 0 5.6 0.1 -3.5 0 -4.4 0.1 -1.1 0 -0.9 0.1 7.4 0 -11.3 0.1 7.3 0 -4 0.1 2.1 0 -3.3 0.1 15 0 -17.6 0.1 5.6 0 0.1 0.1 2 0 -1 0.1 -0.2 0 3.4 0.1 -15.7 0 9.5 0.1 -7.9 0 9.2 0.1 -8.9 0 1.3 0.1 5.6 0 9.1 0.1 -5.2 0 -1.8 0.1 6.9 0 -14.8 0.1 -7.3 0 10.5 0.1 0.8 0 9.5 0.1 5.6 0 -21.8 0.1 23.9 0 -5.8 0.1 -4.6 0 -3 0.1 12.9 0 -14.8 0.1 -3.5 0 3.8 0.1 -9.5 0 11.5 0.1 -3.7 0 2.8 0.1 0.1 0 -9 0.1 14.9 0 -14.6 0.1 11.9 0 -15.6 0.1 12.3 0 -7.6 0.1 5.4 0 -4.4 0.1 -9.6 0 6.7 0.1 7.4 0 3.4 0.1 -13.2 0 -4.1 0.1 7.8 0 4.1 0.1 -2.7 0 -1.1 0.1 10.4 0 0.7 0.1 -1.5 0 -10.6 0.1 6.4 0 -1.8 0.1 -7.7 0 14.4 0.1 -5 0 -3.6 0.1 11.9 0 -4.2 0.1 0.6 0 2.1 0.1 -3.1 0 -12.4 0.1 5.4 0 8.7 0.1 -11.1 0 5 0.1 2.2 0 6.5 0.1 -0.9 0 -2.5 0.1 -6.9 0 6.9 0.1 -2.5 0 -4.3 0.1 9.5 0 -5.5 0.1 -7.9 0 12.6 0.1 -9.6 0 5.3 0.1 -13.4 0 9.4 0.1 -5.9 0 -0.2 0.1 -6 0 25.4 0.1 -14.5 0 2.4 0.1 5.4 0 -7.8 0.1 3.9 0 -11.8 0.1 9.7 0 -3.9 0.1 5.6 0 -2 0.1 -9.9 0 -3 0.1 5.2 0 10.9 0.1 -2 0 -0.2 0.1 -15.3 0 -4.3 0.1 12.9 0 1.8 0.1 -1.8 0 5.9 0.1 -3.3 0 -6.5 0.1 1.9 0 6.3 0.1 -0.5 0 -1 0.1 14.6 0 -15.9 0.1 2.3 0 -7 0.1 3.9 0 5.4 0.1 0.2 0 -4.6 0.1 3.4 0 -2.2 0.1 -12.2 0 -5.2 0.1 31.4 0 -9.4 0.1 -5.6 0 -10.6 0.1 2.8 0 16.4 0.1 -25.5 0 14.9 0.1 7.4 0 -4.7 0.1 3.8 0 -5.6 0.1 15.8 0 -21.5 0.1 -2.1 0 10.2 0.1 7.2 0 -9.3 0.1 6.9 0 -9.9 0.1 -4.2 0 16.2 0.1 1 0 -0.2 0.1 -12.4 0 -4.5 0.1 -0.1 0 5.9 0.1 5.1 0 -0.5 0.1 -12.2 0 10.2 0.1 -1.1 0 0.5 0.1 -0.8 0 -1.1 0.1 5 0 -2.9 0.1 0.6 0 -5.8 0.1 6.8 0 -3.2 0.1 -12.5 0 16.3 0.1 -4.7 0 7.4 0.1 -6.8 0 0.4 0.1 2 0 -1.4 0.1 -2.8 0 -8.4 0.1 22.8 0 -21.5 0.1 7.8 0 6.2 0.1 -1.7 0 1.1 0.1 1.3 0 3.1 0.1 -6.1 0 15.1 0.1 -23.3 0 7.8 0.1 -3.7 0 -1.2 0.1 5.3 0 7.3 0.1 -13.6 0 0 0.1 9 0 -1.2 0.1 8.8 0 -5.9 0.1 -5.1 0 -3.5 0.1 3.3 0 -2.5 0.1 -7.5 0 8.5 0.1 -1.2 0 -0.4 0.1 -1.3 0 13.2 0.1 -6.3 0 1.5 0.1 -9.7 0 -2.7 0.1 4.6 0 3.2 0.1 -3.7 0 0.9 0.1 7.1 0 -4.2 0.1 -8.1 0 3.4 0.1 -1.5 0 5.2 0.1 -8.5 0 6.1 0.1 5.4 0 -4.2 0.1 -5.9 0 1.8 0.1 4.5 0 2.2 0.1 2.2 0 -6.2 0.1 -7.4 0 17.1 0.1 -7.1 0 0.6 0.1 -0.7 0 -8.5 0.1 4.5 0 3.5 0.1 4.8 0 -6.2 0.1 -17.3 0 15.3 0.1 3.7 0 5.8 0.1 -3.7 0 11.1 0.1 -6.8 0 -0.5 0.1 -2.6 0 -14.6 0.1 13.9 0 -1.6 0.1 -7.1 0 6.9 0.1 -1 0 -5.5 0.1 2.1 0 -0.9 0.1 3.1 0 -4.1 0.1 6.1 0 -15.4 0.1 10.2 0 -8.7 0.1 7.5 0 6.2 0.1 -3.1 0 -0.8 0.1 1.1 0 9.4 0.1 -16.7 0 12.4 0.1 -15 0 6.6 0.1 3.9 0 -6.3 0.1 6.6 0 3.2 0.1 -12 0 7 0.1 -1.9 0 -9.7 0.1 10.9 0 -3.8 0.1 13.4 0 -13.9 0.1 16.1 0 -13.9 0.1 15.4 0 -8.7 0.1 -0.6 0 2.2 0.1 0.6 0 3.2 0.1 2 0 -13 0.1 -5.6 0 -8.9 0.1 14.3 0 7.2 0.1 -2.4 0 -1.7 0.1 -2.9 0 -1.8 0.1 2.2 0 4.2 0.1 -13.4 0 15.6 0.1 -13.6 0 8.1 0.1 -2.9 0 1.6 0.1 -4.2 0 -0.7 0.1 5.7 0 -5.4 0.1 22.1 0 -18 0.1 -1.5 0 0.6 0.1 -3.3 0 -8.7 0.1 13.7 0 3.5 0.1 -11.3 0 9.3 0.1 -7.6 0 7.3 0.1 2.4 0 0.8 0.1 -0.4 0 -7.1 0.1 9.8 0 -8.3 0.1 4.9 0 2.2 0.1 -6.4 0 -6.1 0.1 11.8 0 -10.8 0.1 1.3 0 -1.3 0.1 12.1 0 -6.4 0.1 -13 0 18.6 0.1 8.3 0 -1.8 0.1 -14.8 0 4 0.1 2.6 0 2.4 0.1 -5.4 0 -7.1 0.1 11.5 0 -0.9 0.1 -12.2 0 6 0.1 3.9 0 -1.7 0.1 3.2 0 1.7 0.1 -1.6 0 -4.2 0.1 -7.7 0 12.2 0.1 4.9 0 3.5 0.1 -12.6 0 0 0.1 9.2 0 -0.1 0.1 -6.9 0 2.3 0.1 -9.2 0 8.3 0.1 -8.8 0 4.3 0.1 0.1 0 -2.2 0.1 -10.3 0 8 0.1 7.2 0 -2.5 0.1 -2.1 0 5.1 0.1 1.6 0 1 0.1 -10.3 0 5.1 0.1 -2.2 0 -3.4 0.1 -3.9 0 8.7 0.1 -4.9 0 18.8 0.1 -14 0 -0.8 0.1 -1.1 0 14.1 0.1 -17.5 0 4.8 0.1 -3.8 0 4 0.1 0.5 0 7.1 0.1 -15.7 0 8.6 0.1 10.2 0 -13.3 0.1 2.1 0 -4.4 0.1 -10.8 0 15.6 0.1 7.9 0 -10.2 0.1 -8.6 0 13.1 0.1 -1.2 0 5.7 0.1 -0.6 0 -7.3 0.1 4.1 0 -13.7 0.1 18.1 0 -5.8 0.1 5.6 0 -0.2 0.1 -8.4 0 0.8 0.1 -4.5 0 -7.4 0.1 12 0 1.8 0.1 -7.7 0 11.1 0.1 -3.8 0 2.3 0.1 -7.6 0 -6.2 0.1 15.8 0 -1 0.1 -4.5 0 -1.9 0.1 0.9 0 0.8 0.1 -2.3 0 -9.3 0.1 17.4 0 -14.2 0.1 7.3 0 0.1 0.1 3.6 0 -11.7 0.1 17.6 0 -3.5 0.1 0.8 0 3.1 0.1 -12.9 0 -11.7 0.1 18.8 0 6.1 0.1 -0.9 0 -10.6 0.1 2.8 0 2.4 0.1 -13 0 7.1 0.1 0.2 0 13.8 0.1 -13.9 0 13.9 0.1 -9.7 0 -10.5 0.1 24.3 0 -19.8 0.1 9.9 0 6.8 0.1 -13.9 0 -4.3 0.1 14.1 0 -6 0.1 -8.1 0 1 0.1 4.3 0 8.4 0.1 -7.7 0 5.8 0.1 6.3 0 -2.4 0.1 1.1 0 -1.3 0.1 -17.6 0 17.6 0.1 -5.6 0 -2.8 0.1 -6 0 -3.1 0.1 3 0 6.7 0.1 -7.2 0 2.3 0.1 1.2 0 8 0.1 -6 0 0.9 0.1 9.2 0 -10.3 0.1 5.7 0 -10.3 0.1 8.7 0 -1.3 0.1 0.3 0 -4 0.1 -3.5 0 4.5 0.1 -1 0 9.3 0.1 -0.8 0 -13.1 0.1 11.4 0 -6.9 0.1 5.8 0 -5.8 0.1 -6.2 0 15.5 0.1 -3.5 0 -10.5 0.1 -4.1 0 8.4 0.1 -4 0 5.1 0.1 6.1 0 5.3 0.1 -11.4 0 10.8 0.1 -1.3 0 -10 0.1 -7.6 0 15.6 0.1 -1.5 0 10.8 0.1 -5.7 0 -4 0.1 5.6 0 -17 0.1 7.7 0 -2.9 0.1 12.5 0 -7.3 0.1 -20.3 0 25.3 0.1 -14.1 0 10.5 0.1 -7.8 0 4.5 0.1 2.4 0 -2.7 0.1 -7.1 0 14.6 0.1 -6.2 0 -2.5 0.1 4.5 0 -7.7 0.1 15.1 0 -10.3 0.1 0.9 0 -0.1 0.1 -7.8 0 -1.6 0.1 8.6 0 0.9 0.1 6.1 0 -5.5 0.1 -9.5 0 10 0.1 1.9 0 1.1 0.1 -4.1 0 -9.7 0.1 14.8 0 -11.7 0.1 8.1" fill="none" stroke="#0072BD" stroke-width="0.5" stroke-opacity="0.6" stroke-linejoin="round"/><path d="M114.3 145.5l0 6.1 0.1 -4.3 0 5 0 1.8 0 -1.8 0.1 -6.8 0 0.5 0 0 0 4.3 0.1 -1 0 -0.7 0 0.3 0 0.7 0.1 0.1 0 3.1 0 -5.6 0 0.6 0.1 -6.7 0 1.5 0 1.9 0 -1.8 0.1 4.5 0 2.6 0 -5.1 0 -0.4 0.1 -0.2 0 2 0 -2.5 0 3.3 0.1 -0.6 0 0 0 1.4 0 -2.8 0.1 0.2 0 5.8 0 -6.8 0 3 0.1 -2.9 0 -2.1 0 -0.2 0 -1.6 0.1 3.1 0 -2.6 0 0.5 0 6.4 0.1 -5.5 0 5 0 -3.7 0 2.3 0.1 -6.3 0 3 0 7.7 0 -5.1 0.1 0.6 0 -3.4 0 2.5 0 -8.9 0.1 1.2 0 5.4 0 1.6 0 -5.6 0.1 0.8 0 -1 0 0.7 0 -4.8 0.1 -1.3 0 6.1 0 -8 0 3.4 0.1 1.4 0 -2 0 5.8 0 -3.3 0.1 1.5 0 -4.5 0 1.1 0 5.7 0.1 -0.8 0 -4.1 0 3.8 0 -1 0.1 -0.3 0 6.6 0 -9.6 0 3.7 0.1 -0.1 0 -3.3 0 -4.6 0 8.7 0.1 -2.2 0 -1.2 0 -0.3 0 -0.1 0.1 -4.6 0 5.5 0 -10.2 0 8.4 0.1 -7.2 0 5.3 0 4.9 0 -4.8 0.1 -1.2 0 4.6 0 -3.9 0 -0.9 0.1 0 0 9 0 -4.3 0 -1 0.1 -8.3 0 8.6 0 -9.4 0 8.4 0.1 -7.9 0 14.8 0 -17.8 0 13.9 0.1 -2.2 0 -12.7 0 7.3 0 8.1 0.1 -1.6 0 -13.8 0 5.5 0 -3.4 0.1 0.6 0 1.8 0 12 0 -8.5 0.1 -1.8 0 -0.7 0 4.8 0 0 0.1 -8.1 0 11.7 0 -12.7 0 3.8 0.1 3.5 0 6.1 0 -10.3 0 3 0.1 5 0 -3.5 0 2.4 0 -0.6 0.1 -4 0 1.7 0 1.3 0 -4.8 0.1 8.1 0 -17.8 0 5 0 11.7 0.1 -5.1 0 -5.5 0 5 0 3.5 0.1 -8.4 0 6.6 0 -4.5 0 -0.1 0.1 0.1 0 5.9 0 -11.3 0 3.7 0.1 5.1 0 -9.6 0 -2 0 10.8 0.1 -2.9 0 -0.9 0 1.4 0 -5.8 0.1 15.4 0 -15.6 0 2.7 0 -5.1 0.1 5 0 9.8 0 -7.8 0 2.9 0.1 -5.6 0 11.6 0 -8.5 0 -7.3 0.1 10.2 0 -5.9 0 4.9 0 -2.5 0.1 0.6 0 -0.8 0 -5.4 0 -3.2 0.1 12.7 0 -5.8 0 2.1 0 -4 0.1 -7.7 0 3.3 0 13.8 0 -11.4 0.1 2 0 -5.8 0 4.8 0 0.7 0.1 0.7 0 0.7 0 -3 0 0.2 0.1 2.8 0 1.7 0 -2.5 0 9.7 0.1 -8.1 0 -0.3 0 -4.4 0 8.8 0.1 -10.9 0 -3.2 0 3.3 0 8.3 0.1 -9.4 0 12.7 0 -7 0 -8 0.1 6.7 0 10.6 0 -14.1 0 -2.5 0.1 9.6 0 4.1 0 -1.6 0 -7.2 0.1 2.6 0 0.7 0 4.4 0 4.7 0.1 -11.7 0 7.4 0 -8.9 0 4.9 0.1 -8.2 0 0.8 0 6.2 0 -7.1 0.1 9.4 0 -7.8 0 3.3 0 -0.9 0.1 -1.5 0 2.4 0 5 0 5.3 0.1 -17.7 0 7.9 0 -2.6 0 -4.1 0.1 6.4 0 -6.4 0 4.2 0 7 0.1 -17.2 0 11.7 0 1 0 -7.7 0.1 7.9 0 -1 0 -3.9 0 8.4 0.1 -13.7 0 10.5 0 -4.8 0 -4.5 0.1 4.8 0 -1 0 6.3 0 -12.6 0.1 7 0 -1.4 0 11 0 -14.7 0.1 11.8 0 -15.3 0 11.3 0 -2.6 0.1 2.8 0 -6 0 -6.6 0 2 0.1 15.5 0 -6 0 -5.9 0 9.5 0.1 -9 0 0 0 -2.6 0 13 0.1 4.2 0 -16 0 6.8 0 3.7 0.1 6 0 -21.8 0 11.1 0 2.7 0.1 -11.5 0 10.2 0 -1.2 0 2.8 0.1 -7.1 0 5.4 0 -5.6 0 6.5 0.1 -2.4 0 -3 0 -5.7 0 16.6 0.1 -2.9 0 -1.3 0 -8.4 0 1.6 0.1 11 0 -5.1 0 -8.7 0 4.9 0.1 0.4 0 -1.9 0 -4 0 11.9 0.1 -3.7 0 -4.3 0 -7.5 0 5.4 0.1 3.1 0 4.7 0 -6.8 0 8 0.1 -5.3 0 -4.8 0 -6.4 0 4 0.1 -1.7 0 7.2 0 2.6 0 5.7 0.1 -7.6 0 -6.3 0 17.6 0 -9.7 0.1 -3.1 0 -0.1 0 -5.9 0 10.8 0.1 -1.5 0 6.6 0 -2.7 0 -1.3 0.1 2.1 0 -8.4 0 -0.9 0 2.1 0.1 -6.6 0 6 0 -1.1 0 5.4 0.1 -3.8 0 -10.3 0 10.4 0 7.5 0.1 -17.7 0 5.8 0 4.2 0 -7.4 0.1 4.2 0 3.2 0 -7.5 0 8.7 0.1 0.6 0 -9.2 0 7 0 5.7 0.1 -6.9 0 3.3 0 1 0 -4.8 0.1 6.6 0 -3.3 0 -7.5 0 8.1 0.1 1.8 0 -0.3 0 -8 0 6 0.1 4.9 0 -6.3 0 5.2 0 0.5 0.1 -7.3 0 3.8 0 -5.2 0 7.3 0.1 -6.4 0 -2.5 0 2.8 0 -0.3 0.1 2.4 0 0.4 0 -8.9 0 2.7 0.1 5.5 0 0.6 0 -2.2 0 10.4 0.1 -4.9 0 -6.6 0 4.4 0 3.2 0.1 -5.3 0 -11.5 0 9.9 0 -0.3 0.1 10.6 0 -20.9 0 18.3 0 -9.3 0.1 5.9 0 -6.7 0 2.5 0 5.1 0.1 -5.7 0 5.2 0 -6.2 0 -1.9 0.1 1 0 -1.6 0 2 0 8 0.1 -13.8 0 -2.7 0 8.9 0 9.2 0.1 -3.5 0 1.4 0 -0.4 0 -10.8 0.1 4.5 0 -11.6 0 7.6 0 6.5 0.1 -11.8 0 -2.5 0 3.8 0 8.2 0.1 5.1 0 4.3 0 -3 0 -16 0.1 -2.8 0 11.7 0 4.9 0 -14.5 0.1 5.9 0 0.3 0 2.6 0 -1.2 0.1 3.7 0 2.9 0 -5.4 0 3.7 0.1 6.4 0 -16.2 0 -0.1 0 8.4 0.1 7.2 0 -9.2 0 5 0 -7.7 0.1 6.6 0 -8.4 0 7 0 -1.5 0.1 -0.1 0 5.3 0 -1.7 0 -9.1 0.1 8 0 -14.1 0 14.6 0 4.9 0.1 -7.5 0 -0.2 0 -2.4 0 4.1 0.1 -7 0 6.1 0 -5.2 0 -0.9 0.1 3 0 -1.1 0 -9.1 0 19.6 0.1 -9.5 0 -10 0 15 0 -6.1 0.1 1.2 0 2.7 0 -8.8 0 -6.7 0.1 10.9 0 1.8 0 4.1 0 -9.6 0.1 2.6 0 3.6 0 -4 0 0.3 0.1 2.7 0 -6.8 0 13.9 0 -13.6 0.1 5.1 0 -2 0 -2.1 0 6.7 0.1 2.5 0 2.3 0 -4.8 0 -5.6 0.1 7 0 -12.5 0 8 0 2.5 0.1 0.2 0 -9.4 0 -1.9 0 17.1 0.1 -11.9 0 -6.2 0 2.1 0 6.8 0.1 6.2 0 -6.5 0 6.5 0 -5.3 0.1 1.2 0 2.7 0 -7.4 0 3.6 0.1 -3.8 0 -1.4 0 6.9 0 -8 0.1 4.8 0 -4.8 0 3.7 0 -2.4 0.1 8.7 0 -5.5 0 -0.1 0 8.4 0.1 -20.2 0 5.1 0 -5.2 0 11.1 0.1 2.3 0 1.1 0 -2.1 0 -6.3 0.1 14.2 0 -7.9 0 -3.2 0 -4.7 0.1 8.3 0 -5 0 0.1 0 3.5 0.1 0 0 -5.7 0 11.2 0 -12.3 0.1 -0.7 0 7.7 0 -1 0 -0.4 0.1 -2.7 0 2.4 0 -3.3 0 -6 0.1 12.9 0 -9.6 0 4.2 0 5.2 0.1 -3.9 0 10.5 0 -18.4 0 3.5 0.1 4.4 0 6.8 0 -8.7 0 -6.5 0.1 13.9 0 -11.2 0 3.9 0 5.8 0.1 -8.4 0 1.1 0 5.1 0 -3.8 0.1 2.6 0 -6.7 0 4.5 0 -5.3 0.1 -2.6 0 17.9 0 -7.1 0 2.5 0.1 -10.2 0 5 0 -1 0 -6.6 0.1 10.6 0 -6.9 0 2.8 0 -7.2 0.1 13.6 0 -1.3 0 -2 0 -7.1 0.1 2 0 9.5 0 -8.2 0 3 0.1 -0.8 0 -6.8 0 14.3 0 -19.1 0.1 12 0 -1.8 0 -8.3 0 10.6 0.1 0.9 0 -2.5 0 -4.8 0 6.9 0.1 3.5 0 -4.8 0 8.1 0 -4.7 0.1 -0.6 0 3.4 0 -11.2 0 0.8 0.1 5.5 0 0 0 5.4 0 -2 0.1 -5.3 0 0.2 0 -2.7 0 -0.5 0.1 -0.5 0 7.3 0 -7.5 0 0.6 0.1 2.8 0 -3.7 0 1.5 0 -9.7 0.1 13 0 -3.7 0 2.6 0 1 0.1 -12.1 0 20.7 0 -9.8 0 0.1 0.1 -10.6 0 13.1 0 -1.1 0 -4.2 0.1 3.3 0 5.6 0 -8.7 0 -3.1 0.1 12.1 0 -5.7 0 -2.4 0 11 0.1 -9.3 0 -1.8 0 2.4 0 -3.7 0.1 3.3 0 -0.4 0 -4.4 0 2.1 0.1 3.1 0 0.3 0 1.1 0 1 0.1 -2.9 0 1.4 0 -4.9 0 0.6 0.1 7 0 -16.3 0 12.6 0 8.1 0.1 -20.2 0 18.1 0 -17.7 0 11.4 0.1 6.8 0 -0.9 0 -13 0 -2.2 0.1 -0.8 0 11.6 0 -6 0 2.1 0.1 1.3 0 0.7 0 0.6 0 -2.3 0.1 -9.4 0 16.5 0 -19 0 17.7 0.1 -10.1 0 2.2 0 -1.9 0 0.8 0.1 1.8 0 -1.4 0 -4.5 0 10.4 0.1 -7.7 0 10.3 0 -8.2 0 -3 0.1 6.1 0 2.4 0 -9.9 0 3.4 0.1 9.2 0 -13.2 0 0.8 0 5.4 0.1 -7.5 0 -4.5 0 1.9 0 11 0.1 1.5 0 -0.4 0 -1.1 0 -8.9 0.1 10.3 0 2.5 0 -10 0 8.8 0.1 -7.2 0 3 0 0.9 0 -10.1 0.1 16 0 -12.7 0 4.1 0 -2.2 0.1 5.1 0 -0.2 0 -2.3 0 7.5 0.1 -6.2 0 -3.7 0 -8.9 0 9.4 0.1 -0.1 0 -3.2 0 0 0 7.8 0.1 2.4 0 4.6 0 -4.1 0 -10.1 0.1 5.2 0 -8.9 0 11.3 0 -2.1 0.1 -5.2 0 2.6 0 -0.8 0 -2.1 0.1 10.5 0 3.4 0 -6.2 0 1.2 0.1 -4.9 0 -2.8 0 12.4 0 -12.6 0.1 4.1 0 -2.9 0 3.8 0 -3.5 0.1 3.4 0 -10.1 0 6.3 0 7.9 0.1 -13.1 0 1.9 0 11 0 -5.3 0.1 3.6 0 -16.9 0 11.8 0 -7.8 0.1 -0.7 0 9.7 0 4.1 0 -14.5 0.1 2 0 2.8 0 2.4 0 -6.5 0.1 17.7 0 -7.5 0 -5.1 0 -1 0.1 13.4 0 -0.1 0 -13.3 0 4.5 0.1 4.9 0 -13.3 0 3.2 0 10.4 0.1 -11.1 0 1.3 0 -5 0 3.1 0.1 7.8 0 -8.3 0 -2.7 0 3.7 0.1 12.9 0 -8.7 0 -4.1 0 3.8 0.1 1.5 0 -1.8 0 -10.5 0 11.3 0.1 -2.8 0 5.6 0 -12 0 13 0.1 -8.4 0 -6.7 0 16.4 0 -10.1 0.1 4.8 0 -3 0 6.8 0 0 0.1 0 0 -2.3 0 -12.7 0 -0.5 0.1 10.2 0 -6.3 0 7.6 0 -1.7 0.1 -8.6 0 1.9 0 -0.6 0 1.3 0.1 3.7 0 4.7 0 3.5 0 -12.6 0.1 2.1 0 11.5 0 -3.6 0 -3.7 0.1 -12.1 0 5.2 0 6.3 0 -4.2 0.1 14 0 -10.4 0 1 0 -7.6 0.1 0.2 0 2 0 0.2 0 2.1 0.1 3.2 0 -0.8 0 4.1 0 -12.9 0.1 8.5 0 0 0 7.3 0 -9.9 0.1 2.9 0 -6.3 0 6.7 0 -0.2 0.1 -5.6 0 0.9 0 2.2 0 3.3 0.1 -9.5 0 11 0 -6.7 0 12.1 0.1 -2.5 0 -10.2 0 -1.3 0 14.2 0.1 -7.5 0 -0.4 0 -5.4 0 1.5 0.1 5 0 -1.1 0 -7.9 0 11.2 0.1 -5.1 0 -7 0 10.6 0 -6.5 0.1 5.2 0 -7.3 0 4.9 0 -10.9 0.1 10.8 0 -10.4 0 9.1 0 -11.7 0.1 10.4 0 4.2 0 -1.4 0 3.8 0.1 -12.4 0 14.3 0 0.2 0 -15.4 0.1 2.2 0 1.1 0 2.9 0 1.1 0.1 -11.8 0 13.9 0 -4.7 0 -4.2 0.1 10.6 0 -7.1 0 8 0 -3.3 0.1 -4.7 0 8 0 -2 0 -7.2 0.1 -6.1 0 5.8 0 6.2 0 -4.7 0.1 10.9 0 -8.3 0 -0.4 0 1.1 0.1 -7.1 0 4.1 0 -3 0 -7.2 0.1 1 0 13.6 0 -6.4 0 1.7 0.1 -7.5 0 4.8 0 7.4 0 -3.8 0.1 -3.4 0 11.1 0 -8.7 0 -1.7 0.1 8.1 0 -15.7 0 12.4 0 -9.1 0.1 1.7 0 0.5 0 4.3 0 -0.1 0.1 1 0 -0.6 0 6.4 0 1.5 0.1 -5.3 0 0.2 0 -6.3 0 -3.9 0.1 9.1 0 -3.1 0 4.4 0 -14.6 0.1 20.7 0 -17.8 0 7 0 5.2 0.1 -13 0 4.5 0 -7.9 0 3 0.1 -2.8 0 11 0 1 0 -3.4 0.1 8.5 0 0.6 0 -7.6 0 -1.2 0.1 -0.4 0 -1 0 9.5 0 -5.8 0.1 -3.2 0 0.5 0 4.2 0 -5.2 0.1 3.8 0 -2 0 7.5 0 -1.1 0.1 -14 0 6.7 0 4.7 0 -6.4 0.1 6.8 0 -2.6 0 1.3 0 -3.6 0.1 1.9 0 1.2 0 -10.9 0 3 0.1 -0.7 0 14.6 0 -7.5 0 0.3 0.1 -1.1 0 -3.8 0 -1.3 0 8.6 0.1 -6.7 0 10.5 0 -7.5 0 -0.7 0.1 -1.7 0 0.7 0 0.6 0 8 0.1 2.4 0 -17.1 0 7.6 0 2.4 0.1 -8.8 0 1.5 0 0.9 0 -8.4 0.1 14.2 0 -3.8 0 -0.3 0 0.9 0.1 0.9 0 9.3 0 -9.8 0 3.5 0.1 -7.4 0 4.7 0 -3.6 0 0.9 0.1 -4.1 0 0.4 0 6.9 0 1.5 0.1 -1.5 0 -6.2 0 5.4 0 -12.6 0.1 15.9 0 -5.3 0 1.6 0 4.8 0.1 -8.6 0 7.5 0 -7.6 0 5.3 0.1 -5.2 0 3.9 0 6.1 0 -11.3 0.1 0.2 0 1.5 0 3.4 0 9 0.1 -13.8 0 -7.8 0 7.3 0 -5 0.1 5.5 0 3.1 0 -5.3 0 1.5 0.1 -6.5 0 11.1 0 -5.1 0 9.9 0.1 -0.2 0 -10.4 0 2.7 0 2.3 0.1 3.8 0 -13.2 0 8.6 0 10.5 0.1 -10.6 0 1.7 0 -1.2 0 -6.5 0.1 11.5 0 -3.7 0 -0.5 0 3 0.1 0.3 0 -14.5 0 12.8 0 -5.8 0.1 4 0 -4.7 0 -0.9 0 9.8 0.1 -5.2 0 -1.5 0 0 0 2 0.1 -0.6 0 -11 0 6.4 0 3.4 0.1 5.3 0 3.3 0 -12.4 0 15.4 0.1 -9.9 0 2.1 0 -5.5 0 -0.4 0.1 11 0 -9 0 0.6 0 6.8 0.1 3.1 0 -17.4 0 7 0 1 0.1 9.8 0 0.5 0 -10.6 0 2.3 0.1 2.6 0 1.5 0 -7.9 0 6.3 0.1 -8.4 0 -7.5 0 3.8 0 8.6 0.1 3 0 -15.5 0 1.5 0 9.6 0.1 -11.2 0 14.4 0 2.5 0 -16.9 0.1 15.5 0 -5.2 0 8.6 0 -6.1 0.1 -2.8 0 1.9 0 4.4 0 -4 0.1 -0.9 0 -8 0 10.4 0 -2.5 0.1 9.6 0 -10 0 -0.5 0 -3 0.1 7.2 0 -5.1 0 -2.8 0 12.4 0.1 0.9 0 -12.2 0 -3.1 0 11.5 0.1 -10.7 0 14.4 0 -10.8 0 5.9 0.1 -12.3 0 6.7 0 6 0 -3.6 0.1 -5.3 0 12.7 0 -6 0 -5.3 0.1 -2.1 0 1.7 0 8.6 0 -11.5 0.1 4.2 0 -4.6 0 11.1 0 -7.8 0.1 5.5 0 -1.7 0 -6.3 0 6.8 0.1 1.3 0 -11.4 0 9.9 0 6 0.1 -11.6 0 5 0 -10.8 0 9.7 0.1 -5.8 0 7.2 0 -4.5 0 -6.1 0.1 12.2 0 -7.2 0 -4.4 0 5.7 0.1 -5.6 0 7.2 0 -2.5 0 -1.8 0.1 5.5 0 -10.6 0 12.1 0 -16.2 0.1 19.5 0 -7.8 0 -2.5 0 -2.7 0.1 6.9 0 -3.9 0 -0.2 0 6.5 0.1 -8.1 0 1 0 3.5 0 3.4 0.1 -6.7 0 1.6 0 -0.7 0 3.7 0.1 4 0 -13.3 0 4.3 0 0.4 0.1 3.3 0 4.9 0 -8.3 0 1.1 0.1 4.9 0 -13 0 2.5 0 1.7 0.1 2.3 0 1.2 0 -4.2 0 12.3 0.1 -13.5 0 2.7 0 6.9 0 -1.8 0.1 -4.4 0 2.1 0 2.3 0 -4.6 0.1 3.5 0 -8.6 0 5.3 0 -9.5 0.1 4 0 -1.4 0 12.9 0 -9.4 0.1 4 0 -6.7 0 3.8 0 -0.5 0.1 -3.2 0 9.2 0 -13.8 0 12.4 0.1 6.5 0 -14.6 0 4.5 0 -8.7 0.1 8.4 0 -9.4 0 12.9 0 -6.2 0.1 -7.4 0 3 0 -1.7 0 7.1 0.1 6.2 0 -6.9 0 -4.3 0 1.9 0.1 5.1 0 -11.8 0 14.3 0 -1 0.1 -13.4 0 17.6 0 -15.5 0 7.8 0.1 7.6 0 -15.5 0 -1.2 0 4 0.1 0.1 0 5.2 0 -2.1 0 0.1 0.1 0 0 1.7 0 -3.8 0 6.5 0.1 -1.8 0 -5.6 0 15.6 0 -17 0.1 11 0 -8.2 0 6.1 0 0.9 0.1 1.8 0 3.1 0 -12.4 0 15 0.1 -8.2 0 -6.7 0 -3 0 17.9 0.1 -1.4 0 -9.2 0 4.3 0 3 0.1 -6.6 0 -2.9 0 2.1 0 4.8 0.1 -4.5 0 -6.9 0 10.9 0 -13.7 0.1 5.4 0 10.9 0 -5.5 0 -0.1 0.1 -0.7 0 5.1 0 -6 0 -10.4 0.1 12 0 -12.5 0 0 0 19.8 0.1 -3 0 -8.3 0 2.1 0 0.9 0.1 5 0 -9.8 0 -0.6 0 1.4 0.1 4.2 0 0.6 0 -3.6 0 6.3 0.1 -9.8 0 5.2 0 -3.4 0 -1.8 0.1 12.3 0 -8.6 0 -3.7 0 5.7 0.1 -5.8 0 8.8 0 1.4 0 0.9 0.1 -11.4 0 4.9 0 10.9 0 -11.3 0.1 8.1 0 1.4 0 -15.9 0 14.2 0.1 -2.6 0 0.7 0 4.4 0 -6.7 0.1 -2.1 0 2.9 0 -5.3 0 4.6 0.1 -13.8 0 20.5 0 -12.4 0 5.9 0.1 -1.3 0 -1.2 0 0 0 -0.3 0.1 -9.4 0 6 0 9.4 0 -12.2 0.1 -0.2 0 16.1 0 -3.8 0 1.9 0.1 -8.7 0 1.5 0 2.6 0 -1.2 0.1 -3.6 0 -7.6 0 4 0 -4.3 0.1 16.8 0 -10.9 0 1.1 0 2.5 0.1 -1.5 0 2.7 0 -6.4 0 -5 0.1 17.9 0 -13.5 0 1.2 0 -1.8 0.1 1.3 0 3 0 3.9 0 -9.9 0.1 7.3 0 -5.3 0 10.1 0 -13.3 0.1 7.2 0 3.3 0 -11.4 0 8 0.1 0.1 0 -5.2 0 3.1 0 6.5 0.1 -4.1 0 -3.7 0 1.1 0 3.5 0.1 4.4 0 -2.6 0 -0.4 0 4.4 0.1 -16.9 0 0.5 0 -3.1 0 15.3 0.1 -15.4 0 10.5 0 4.3 0 -11.7 0.1 3.9 0 2.1 0 5.3 0 -12.2 0.1 9.8 0 2 0 -3 0 0 0.1 5.8 0 -5.6 0 -1.4 0 -1.7 0.1 5.3 0 -5.2 0 5.1 0 -3.1 0.1 5.5 0 -10.4 0 4.6 0 1.4 0.1 0.3 0 3.9 0 -4.1 0 2.7 0.1 5.7 0 -6.1 0 -10.3 0 -2 0.1 11.2 0 -5.7 0 3.5 0 -2.5 0.1 7.9 0 -0.6 0 -12.6 0 7.5 0.1 -3.2 0 -5.4 0 10.4 0 -4.3 0.1 3.1 0 8.3 0 -3.6 0 -1.3 0.1 -8.2 0 -4.2 0 13 0 -8.4 0.1 1.9 0 -2.4 0 2.5 0 10.2 0.1 -12.5 0 0.1 0 2.6 0 0.4 0.1 -8.1 0 -3.1 0 6.3 0 2 0.1 -3.2 0 -1.2 0 0.2 0 2.9 0.1 1.4 0 -8.2 0 5.8 0 4.8 0.1 -2.7 0 -6.7 0 5.3 0 1.8 0.1 4.2 0 -12.9 0 12.3 0 -6.2 0.1 3.5 0 2.5 0 -8.4 0 0.3 0.1 3.6 0 4.5 0 -6.9 0 -4.7 0.1 3.8 0 5.7 0 4.1 0 -9 0.1 0.9 0 0.7 0 0.2 0 -4.4 0.1 2.6 0 3.5 0 -0.7 0 -0.5 0.1 -5.5 0 2.4 0 -1 0 9.4 0.1 2.1 0 -6 0 6.6 0 -10.1 0.1 0 0 -5.5 0 8.1 0 -3.7 0.1 2.9 0 2 0 -3.9 0 -4.8 0.1 5.7 0 -0.2 0 0.5 0 3.4 0.1 -4.8 0 -0.3 0 10.6 0 -3.6 0.1 -6.2 0 -4.6 0 2.6 0 4.3 0.1 2.4 0 6.3 0 -12.2 0 2.1 0.1 -2.7 0 2.2 0 -2.5 0 -3.7 0.1 11.1 0 -4.8 0 6.1 0 -9.6 0.1 4 0 2.1 0 -13.5 0 2.9 0.1 10.9 0 -3.5 0 -10.3 0 5.8 0.1 -1.7 0 2.9 0 10.7 0 -11.2 0.1 13.6 0 -12 0 -2.6 0 12.1 0.1 -3.3 0 2.2 0 2.9 0 -4.7 0.1 0.8 0 -15.6 0 4.7 0 6.6 0.1 -1.3 0 2.7 0 -6.3 0 8.3 0.1 4.6 0 -7.5 0 1.3 0 -1.8 0.1 2.2 0 -3.8 0 -3.9 0 3.7 0.1 -0.5 0 -8.7 0 9.2 0 -1.1 0.1 0.9 0 -4.1 0 5.4 0 0.7 0.1 -7.1 0 5.4 0 2.4 0 -0.2 0.1 -8.9 0 -0.6 0 5.5 0 -5.7 0.1 16 0 -14.9 0 0 0 7.6 0.1 -6 0 -8.3 0 9.9 0 -4.5 0.1 2.4 0 -5.9 0 3.7 0 3.9 0.1 0.4 0 -5.6 0 2.1 0 -0.8 0.1 5.2 0 -1.6 0 -5.9 0 9.9 0.1 -7.1 0 5.7 0 -6.9 0 6.3 0.1 -2.2 0 0.8 0 2.3 0 -0.3 0.1 -1.5 0 -0.1 0 -7.6 0 6.3 0.1 -10.1 0 0 0 8.7 0 0.4 0.1 9 0 -4.4 0 2.3 0 -7.5 0.1 3.9 0 3.8 0 -3.4 0 -0.9 0.1 -1.4 0 -5.4 0 0.1 0 -2.9 0.1 9.7 0 -3.6 0 -2.2 0 5.4 0.1 -4.9 0 8.5 0 4.5 0 -7.7 0.1 -6.1 0 -4.3 0 18.5 0 -8.2 0.1 -8.6 0 11.8 0 -14.5 0 6.5 0.1 1 0 -0.7 0 -4.1 0 16.8 0.1 -12.9 0 4.1 0 -1.9 0 -8.7 0.1 5.6 0 4 0 3.8 0 -6.8 0.1 3.7 0 -3.7 0 4.8 0 -13.7 0.1 13.8 0 -6.5 0 0.2 0 -7.6 0.1 5 0 8.8 0 7.5 0 -14.5 0.1 0.2 0 6.1 0 -1.1 0 -4.7 0.1 2.2 0 -1.1 0 5.2 0 0.9 0.1 5.2 0 -4.5 0 -1.4 0 -2.7 0.1 4.1 0 -10.2 0 15.9 0 -9.2 0.1 5.9 0 -11.7 0 9.7 0 -3.4 0.1 -3.1 0 -2.6 0 -1.2 0 14.2 0.1 -3.1 0 -5.8 0 0.4 0 -5 0.1 -5.9 0 0.3 0 6.2 0 2.4 0.1 -5.4 0 10.4 0 -1.5 0 -1.9 0.1 -10.2 0 8.2 0 1 0 -6.6 0.1 -4 0 20.9 0 -6.9 0 -5.4 0.1 10.5 0 -2.6 0 -3.5 0 -1.2 0.1 2.9 0 3.6 0 -7.4 0 -1.6 0.1 4.3 0 -13.8 0 11.1 0 -2.7 0.1 2.1 0 -0.9 0 2.8 0 -1.3 0.1 -0.2 0 -1.1 0 3.1 0 -5.1 0.1 7.9 0 -14.2 0 10 0 1.3 0.1 -9.2 0 4.5 0 9.3 0 -7.8 0.1 -4 0 -6 0 12.5 0 -1.3 0.1 2.7 0 7.4 0 -10.7 0 0.7 0.1 -4.4 0 3.3 0 0.2 0 4.2 0.1 -1.1 0 -7.1 0 1.5 0 9.9 0.1 -12.5 0 9.1 0 4.7 0 -5.2 0.1 -2.2 0 5.9 0 -5.4 0 -1.9 0.1 -1.1 0 7.2 0 -2.4 0 4.5 0.1 -10.1 0 0.1 0 -0.6 0 3.8 0.1 -5.2 0 8.6 0 -3.2 0 -7 0.1 -5.5 0 0.9 0 17.4 0 -8 0.1 1.1 0 -3.1 0 4.4 0 -12.4 0.1 -0.4 0 1.9 0 9 0 3.4 0.1 -1.2 0 -3.2 0 -6.2 0 11 0.1 -5.7 0 1.4 0 -0.4 0 -2.1 0.1 -1.4 0 0.7 0 -3.7 0 8.2 0.1 -2.3 0 6.3 0 -15.1 0 15.9 0.1 -6.6 0 -0.5 0 -3.5 0 -0.1 0.1 -3.6 0 12.8 0 -6 0 4.9 0.1 0.6 0 -7.1 0 1.3 0 -0.6 0.1 7.3 0 -4.8 0 0.2 0 2.9 0.1 -4.3 0 11.1 0 -15.7 0 11.6 0.1 0.8 0 -13.6 0 10.6 0 -3.1 0.1 3.1 0 -11.1 0 7.7 0 -6.6 0.1 3.5 0 9.3 0 -8.4 0 -9.9 0.1 3.1 0 1.4 0 11.4 0 -9.1 0.1 -4.7 0 14.3 0 -4.7 0 0.5 0.1 -6.1 0 11.8 0 -8.3 0 -9.9 0.1 4.4 0 1.6 0 3.6 0 4.9 0.1 -8 0 0.6 0 13.8 0 -10.2 0.1 -3.3 0 2.9 0 -6.8 0 9.5 0.1 2.2 0 -8.3 0 8.4 0 -6.9 0.1 3.1 0 -5.6 0 -0.3 0 -3.8 0.1 9.2 0 -2.8 0 0.2 0 -4.7 0.1 -0.3 0 2.9 0 5.8 0 -0.9 0.1 -5.3 0 5.2 0 7.7 0 -8.8 0.1 10 0 -8.3 0 4.7 0 -9.9 0.1 9 0 -12.6 0 7.6 0 -3.1 0.1 -8.9 0 3.3 0 13.3 0 -3.5 0.1 4.3 0 -5.9 0 -11.7 0 11.9 0.1 -4.4 0 0.3 0 0.3 0 -1.8 0.1 -1 0 11.7 0 -4.3 0 -5.9 0.1 1.2 0 7.4 0 -3.2 0 -1 0.1 -7.6 0 4.2 0 -3.8 0 -4.2 0.1 14.9 0 -6.5 0 -0.5 0 -3 0.1 9.2 0 6.6 0 -7.6 0 1.8 0.1 -11.7 0 7.6 0 0.2 0 6.7 0.1 -7.9 0 -5.1 0 4.6 0 -2 0.1 10 0 -4.2 0 -1.8 0 -0.8 0.1 3.5 0 -7.1 0 -2.3 0 -5.2 0.1 16.3 0 -3.6 0 0.7 0 -3.2 0.1 8.6 0 -14.1 0 11.6 0 -10.9 0.1 2.1 0 -4.1 0 6.9 0 -2 0.1 3.8 0 -5.4 0 -4.4 0 10.5 0.1 3.8 0 -3 0 -4.2 0 2.4 0.1 -11.2 0 7.3 0 7.9 0 -3.7 0.1 -7 0 9.1 0 -5.3 0 4.6 0.1 -11.4 0 4.7 0 4.5 0 -0.1 0.1 1.3 0 -3 0 -1 0 3.6 0.1 2.1 0 -12.7 0 6.4 0 0.6 0.1 1.9 0 4.6 0 -12.5 0 9.9 0.1 -12 0 5.2 0 1.2 0 1.3 0.1 -1.8 0 0.5 0 0.9 0 0.4 0.1 -8.3 0 2.3 0 5.1 0 5.1 0.1 2.6 0 5.4 0 -10.2 0 -4.7 0.1 5.1 0 2.6 0 -2.8 0 -6.4 0.1 5.1 0 0.3 0 -7.2 0 1 0.1 12.8 0 -16.9 0 11.4 0 -2.3 0.1 8.8 0 -4.2 0 -7.8 0 11.3 0.1 -9.7 0 13.5 0 -1.7 0 -9.2 0.1 4.5 0 -3.1 0 -5.8 0 10.4 0.1 -3.3 0 2.2 0 1.2 0 1.8 0.1 -2 0 -5.9 0 0.9 0 1.7 0.1 -2.8 0 -0.6 0 11.1 0 -7.3 0.1 7.4 0 -14 0 3.8 0 -2.1 0.1 0.3 0 0.5 0 0.9 0 -1.7 0.1 11.8 0 -5.9 0 -7.5 0 1.1 0.1 6.8 0 -1.1 0 -6.1 0 8.1 0.1 -12.4 0 5 0 11.6 0 -19.7 0.1 9.5 0 6.2 0 -6 0 -3.3 0.1 -0.6 0 -6 0 3.6 0 7.3 0.1 -3.4 0 2.9 0 -0.7 0 2.2 0.1 -10.2 0 7 0 -0.1 0 0.1 0.1 -3.1 0 -6 0 13.9 0 1 0.1 6.3 0 -6.8 0 4.7 0 -5.5 0.1 -5.2 0 4.6 0 -8.8 0 7.4 0.1 -1.9 0 -5 0 12 0 -0.6 0.1 -3.5 0 1.9 0 4.3 0 -9.4 0.1 -6.4 0 2 0 8.7 0 -2.5 0.1 -9.1 0 14.8 0 -5.9 0 7.4 0.1 -2.6 0 -8.3 0 2.8 0 -4.4 0.1 -0.6 0 2.8 0 4.2 0 4.6 0.1 -12 0 8.4 0 -3.5 0 -1.4 0.1 7.1 0 -7.9 0 9.2 0 -9.1 0.1 -3.1 0 8.9 0 -11.8 0 1.4 0.1 5.3 0 0.9 0 -1.4 0 -9.1 0.1 3.4 0 9.7 0 0.1 0 -8.2 0.1 6.7 0 -0.3 0 4.2 0 -9.2 0.1 11.5 0 -9.3 0 9.2 0 -2.8 0.1 -10.2 0 3.6 0 3.2 0 3.8 0.1 -12.7 0 4.6 0 5.9 0 -0.8 0.1 -8.1 0 0.8 0 7 0 -7.7 0.1 6.6 0 3.6 0 -4.8 0 -11 0.1 17 0 -0.1 0 1.4 0 -3 0.1 -13.5 0 16.4 0 -5.7 0 3.1 0.1 -5.9 0 -0.4 0 0 0 9.6 0.1 -7 0 -2.5 0 -5.8 0 9.3 0.1 -2.5 0 0.7 0 4.4 0 -1.4 0.1 -3.9 0 1.1 0 -0.7 0 3.4 0.1 -0.2 0 -2.9 0 -5.3 0 9 0.1 0.3 0 -10.4 0 7.7 0 -4.1 0.1 -8.7 0 10.5 0 5.3 0 -8.9 0.1 0.1 0 9.1 0 -11.2 0 0.8 0.1 3.3 0 5 0 0 0 -6.1 0.1 1.2 0 2.1 0 -2.6 0 -2.5 0.1 -1.2 0 9.6 0 -5 0 11.7 0.1 -7.2 0 -7.3 0 4 0 1.8 0.1 0.3 0 0.3 0 0 0 -3.1 0.1 4.1 0 7.1 0 -12.8 0 0.3 0.1 5.8 0 2.8 0 -2.3 0 2.1 0.1 -6.7 0 -0.9 0 4.7 0 0.1 0.1 5.3 0 -0.6 0 -17.9 0 13.7 0.1 -7.6 0 -7.2 0 12.8 0 -3 0.1 -0.9 0 -5 0 1.4 0 4.2 0.1 -6.7 0 7.3 0 1.2 0 -1.4 0.1 2.3 0 -1.9 0 -5.8 0 0.7 0.1 6.2 0 4.4 0 -4.4 0 -3.4 0.1 3.5 0 -10.4 0 4.3 0 3.2 0.1 1.7 0 -1.4 0 0.3 0 -4.9 0.1 3.3 0 4.3 0 -11 0 3.4 0.1 4.5 0 9.7 0 -4.3 0 4.7 0.1 -1.2 0 -9.5 0 2 0 -5.8 0.1 12.4 0 -2.3 0 -0.8 0 0.4 0.1 -1 0 -1.4 0 0.4 0 4.9 0.1 -10.5 0 -1.4 0 5.5 0 6.2 0.1 -4.9 0 -2.4 0 5.5 0 -3.8 0.1 -10.6 0 4.7 0 -5.2 0 9.4 0.1 -1.2 0 4.7 0 8.3 0 -13.7 0.1 3.2 0 -2 0 -8.7 0 6.6 0.1 0.2 0 5.3 0 -5.9 0 -2.4 0.1 9.9 0 -3.5 0 -4.4 0 0.7 0.1 2.4 0 5.9 0 3.2 0 -14.5 0.1 13.1 0 -5.9 0 1.6 0 3.2 0.1 -10.3 0 9.7 0 -11.5 0 4.4 0.1 -2 0 13.3 0 -0.2 0 -4.7 0.1 -1.3 0 -5.5 0 11.9 0 -1.8 0.1 -2.6 0 -5.4 0 -1.3 0 1.4 0.1 7.5 0 -12 0 5.5 0 8 0.1 -3.9 0 4.5 0 -7 0 0 0.1 5 0 -3.8 0 -1.7 0 -4.5 0.1 -5.1 0 15.6 0 -10 0 -1.8 0.1 8.5 0 -9.2 0 -2.5 0 4.1 0.1 2.7 0 1.7 0 1.3 0 2.3 0.1 -5.7 0 2.5 0 -2.5 0 -2.8 0.1 5.5 0 -0.3 0 7.9 0 -6.6 0.1 -6.9 0 6.8 0 -4.5 0 9.6 0.1 -17.2 0 5.4 0 0 0 4.1 0.1 -1.3 0 -7.7 0 -1.5 0 10.7 0.1 6.7 0 0 0 -9.8 0 4.5 0.1 -6.9 0 -3.1 0 14 0 -2.9 0.1 -5.3 0 -0.3 0 6.8 0 -3.2 0.1 -3.4 0 3.2 0 -1.5 0 -2.1 0.1 -1.7 0 8.6 0 -7.3 0 -3.8 0.1 15.6 0 -2.9 0 -3.8 0 -3.1 0.1 1.3 0 -8.6 0 7.5 0 1.5 0.1 -2.5 0 3.3 0 -6.3 0 4.9 0.1 -9.2 0 8.1 0 -3.1 0 -3.8 0.1 4.8 0 2.2 0 -3.2 0 7.9 0.1 -8.5 0 8.5 0 -1.1 0 -7 0.1 10.6 0 -14.6 0 9.9 0 -2.5 0.1 3.7 0 -12.2 0 2 0 1.8 0.1 4.4 0 0.3 0 -0.4 0 -1.4 0.1 -2.4 0 -3.4 0 4.9 0 4.9 0.1 2.5 0 -7.9 0 8.2 0 -12.6 0.1 11 0 -9.7 0 6.9 0 -6.2 0.1 -0.1 0 2.2 0 10.2 0 -10.9 0.1 6.7 0 -2.4 0 0.7 0 0.1 0.1 1.6 0 -9.5 0 6.4 0 1.6 0.1 -4.8 0 4.8 0 -7.1 0 9 0.1 -7.4 0 2.2 0 5.5 0 1.5 0.1 -8.5 0 -0.4 0 8.4 0 -15.8 0.1 17.6 0 -0.3 0 -12.2 0 11.7 0.1 -4.3 0 0.5 0 -13.1 0 8.1 0.1 1.6 0 -1.2 0 0.1 0 0.5 0.1 -9.1 0 9.6 0 -2.6 0 3.1 0.1 -2.1 0 2.5 0 1.5 0 7.7 0.1 -13.5 0 13 0 -10 0 -3.4 0.1 -2.8 0 11.9 0 -12.3 0 12.5 0.1 -2.9 0 -4.8 0 -0.5 0 6 0.1 -1.7 0 3 0 -3.9 0 -2.6 0.1 5.4 0 -9 0 10.6 0 -4.2 0.1 -6 0 0.5 0 3.5 0 -7.7 0.1 16.6 0 -2.2 0 -10.7 0 5.1 0.1 9.4 0 -6.8 0 -7.3 0 -5.4 0.1 2.1 0 14.7 0 -4.6 0 -8.4 0.1 10.4 0 -5.5 0 -1.6 0 0.7 0.1 0.3 0 11.1 0 -13.6 0 2.8 0.1 9 0 0.9 0 -13 0 15.7 0.1 -4.8 0 -13.5 0 17.1 0 -17.1 0.1 11.3 0 -9.6 0 -3.3 0 13.8 0.1 -2.3 0 -2.6 0 1.4 0 -1.5 0.1 -0.8 0 -4.2 0 8.6 0 -2.9 0.1 -1.4 0 -1.7 0 1.5 0 -6.5 0.1 6.4 0 -3.6 0 11.9 0 -11.7 0.1 2.6 0 2.5 0 4.1 0 -1.8 0.1 -2.3 0 10.5 0 -10.7 0 1.8 0.1 8.9 0 -15.2 0 9.7 0 -2.7 0.1 -9.3 0 3.7 0 7.6 0 -12 0.1 6.7 0 5.8 0 -6.1 0 2.7 0.1 -5 0 0.3 0 0 0 1.4 0.1 5.2 0 -2.9 0 9.9 0 -7.4 0.1 -1.5 0 9.1 0 -11.1 0 -3.6 0.1 5 0 -6.5 0 8.4 0 4.5 0.1 -3.9 0 -5.4 0 1.4 0 3.2 0.1 3.7 0 -8.3 0 -0.1 0 7.9 0.1 -4.5 0 0.6 0 0.8 0 -6.6 0.1 3.3 0 6.3 0 -6.3 0 -0.2 0.1 2.6 0 0.5 0 8.5 0 -14.8 0.1 5 0 9.8 0 -10.3 0 1.8 0.1 -9.6 0 12.7 0 -0.5 0 -0.3 0.1 -5.2 0 2.9 0 -2.3 0 4.8 0.1 -4.5 0 4.2 0 -11.1 0 5.3 0.1 -8.9 0 9.9 0 4.8 0 -5.4 0.1 11.9 0 -15.7 0 3.4 0 -3 0.1 2.2 0 0.2 0 -5.3 0 2.6 0.1 15.7 0 -11.9 0 6.2 0 -11.5 0.1 6.1 0 3.4 0 -3.7 0 -1.8 0.1 1.8 0 1.1 0 4.2 0 2 0.1 -13.2 0 -3.7 0 9.6 0 1 0.1 3.7 0 1.9 0 -9.1 0 14 0.1 -9.2 0 -10.6 0 14.3 0 -3.6 0.1 0.1 0 -9.9 0 6.8 0 2.4 0.1 -1.6 0 4.4 0 3 0 1.4 0.1 -1.5 0 -7.3 0 9.8 0 -7.7 0.1 3.1 0 -5.7 0 -6.1 0 -3.2 0.1 11.5 0 -4.5 0 3.5 0 4.7 0.1 -12.7 0 -1.2 0 10.6 0 0.6 0.1 -3.4 0 -1.3 0 -5.6 0 7.9 0.1 -3.5 0 6.2 0 2.7 0 -7.9 0.1 5.1 0 -1.2 0 2.7 0 4.4 0.1 -4.6 0 0.2 0 0.5 0 -6.4 0.1 2.2 0 1.8 0 4.7 0 0.3 0.1 3.7 0 -16.2 0 5.5 0 -8.9 0.1 6.3 0 -5.8 0 14.7 0 -2.2 0.1 -9.6 0 7.4 0 2.2 0 5.2 0.1 -4.8 0 -3.7 0 -1.1 0 3.8 0.1 -1.7 0 -4.1 0 -3.9 0 11.9 0.1 -9.3 0 2.3 0 5.7 0 -4.5 0.1 6.2 0 -11.8 0 9.9 0 -11 0.1 -0.9 0 2.4 0 6.1 0 -4.2 0.1 -3.7 0 13.5 0 -11.3 0 4.4 0.1 2 0 -3.9 0 4.4 0 1.4 0.1 -3.8 0 6 0 -8.6 0 -2.4 0.1 6.6 0 -6.2 0 7.1 0 -2.5 0.1 -1.9 0 5.5 0 -0.3 0 -13.4 0.1 8.9 0 2.4 0 1.9 0 -5.5 0.1 -3.1 0 6.6 0 3 0 -14.2 0.1 2.7 0 4.8 0 -7.5 0 7.4 0.1 7.5 0 -9.9 0 6.3 0 -5.4 0.1 6.9 0 1.2 0 3.4 0 -6.4 0.1 5.1 0 -3.4 0 -4.6 0 10.3 0.1 -10.9 0 4 0 9.7 0 -6 0.1 -8.8 0 5.8 0 -4.4 0 2.1 0.1 -7.1 0 9.1 0 -9.3 0 10.1 0.1 0 0 2.5 0 6.1 0 -19.2 0.1 2.4 0 1 0 2.3 0 7.6 0.1 -6.4 0 -1.3 0 -2.8 0 2.6 0.1 1 0 1.8 0 -7 0 7.1 0.1 3.4 0 -1.1 0 -8.4 0 10.9 0.1 -0.1 0 -2.6 0 -8.1 0 -1.2 0.1 7.9 0 -5.6 0 -1.6 0 11.7 0.1 0.1 0 -1.4 0 3.6 0 -2.2 0.1 -10.8 0 12.1 0 -5.4 0 1.7 0.1 5.9 0 -5.9 0 6" fill="none" stroke="#0072BD" stroke-width="0.45" stroke-opacity="1.0" stroke-linejoin="round"/></g>
<g clip-path="url(#cC)"><path d="M222.2 63.6l0.1 -0.8 0.1 0.1 0.1 -2.1 0.1 4.4 0.1 -0.7 0.1 -1.5 0.1 1.1 0.1 -0.5 0.1 -0.9 0.1 1.6 0.1 -1.3 0.1 -0.1 0.1 -0.5 0.1 1.4 0.1 -0.6 0.1 0.6 0.1 -1.2 0.1 0.8 0.1 -1.1 0.1 1.8 0.1 -0.7 0.1 0.2 0.1 0.1 0.1 -1.5 0.1 1.8 0.1 1.4 0.1 -3.9 0.1 -0.1 0.1 0.2 0.1 2.5 0.1 -0.8 0.1 1 0.1 -0.3 0.1 -0.6 0.1 0.1 0.1 -0.5 0.1 1.1 0.1 -2.1 0.1 0.7 0.1 0.7 0.1 1.7 0.1 -2.7 0.1 -0.4 0.1 0.6 0.1 1.6 0.1 -1.3 0.1 1.7 0.1 -3.4 0.1 3.1 0.1 -0.1 0.1 -2.5 0.1 1.6 0.1 1.1 0.1 -1.1 0.1 0.9 0.1 1.5 0.1 -2.2 0.1 -0.6 0.1 -0.5 0.1 1.4 0.1 -0.8 0.1 0 0.1 0.1 0.1 0.8 0.1 -1.8 0.1 -0.5 0.1 -1 0.1 3.8 0.1 -1.1 0.1 1.5 0.1 -1.6 0.1 -0.8 0.1 1.3 0.1 -0.6 0.1 -1.2 0.1 0.4 0.1 2.8 0.1 -1.5 0.1 0 0.1 -0.7 0.1 -0.4 0.1 1.7 0.1 -1.1 0.1 -0.7 0.1 0.7 0.1 -0.8 0.1 1.1 0.1 1 0.1 -2 0.1 2.3 0.1 -2.2 0.1 0.9 0.1 -1 0.1 0.6 0.1 0.3 0.1 -0.5 0.1 -0.3 0.1 0.1 0.1 -0.2 0.1 -0.8 0.1 1.4 0.1 0.7 0.1 0.6 0.1 -0.3 0.1 1.9 0.1 -2.3 0.1 -0.8 0.1 2.5 0.1 -3.1 0.1 2.1 0.1 -2 0.1 1.4 0.1 -2.4 0.1 3 0.1 -1.1 0.1 -0.9 0.1 2.8 0.1 -0.9 0.1 -0.8 0.1 -0.8 0.1 0.7 0.1 -0.1 0.1 0.9 0.1 0.1 0.1 -1.5 0.1 0.1 0.1 0 0.1 -0.8 0.1 0.8 0.1 0.5 0.1 0.8 0.1 0.7 0.1 -2.2 0.1 1.4 0.1 -1 0.1 2.6 0.1 -2.2 0.1 0.6 0.1 -1.6 0.1 0.2 0.1 1 0.1 -0.6 0.1 0.8 0.1 -2 0.1 2.3 0.1 -1.6 0.1 2.7 0.1 -2.1 0.1 1.5 0.1 -2.6 0.1 1.9 0.1 -1.4 0.1 0.4 0.1 0.6 0.1 -0.4 0.1 0.6 0.1 0.5 0.1 -0.1 0.1 -0.8 0.1 -1.3 0.1 0.6 0.1 0.6 0.1 -2 0.1 3 0.1 -1 0.1 0 0.1 1.2 0.1 -0.3 0.1 -0.4 0.1 -1.3 0.1 1.3 0.1 0.1 0.1 -1.3 0.1 2 0.1 -0.6 0.1 -2.6 0.1 2.2 0.1 -1.4 0.1 2.5 0.1 -0.4 0.1 -2 0.1 0.3 0.1 1 0.1 -0.4 0.1 1.9 0.1 -0.9 0.1 -1 0.1 0.9 0.1 -2.8 0.1 2.5 0.1 0.5 0.1 -1.1 0.1 -0.5 0.1 1.3 0.1 1.5 0.1 -1.9 0.1 -1.4 0.1 2.7 0.1 -3.5 0.1 2.5 0.1 -1.1 0.1 1.6 0.1 -1.9 0.1 2.3 0.1 -1.1 0.1 -2.2 0.1 -0.2 0.1 1.7 0.1 1.7 0.1 -1.2 0.1 -0.1 0.1 -0.3 0.1 1 0.1 -0.4 0.1 -0.1 0.1 -1.4 0.1 2.3 0.1 0.2 0.1 -2.8 0.1 3.8 0.1 -1.7 0.1 -1.3 0.1 -1.5 0.1 2.7 0.1 -0.1 0.1 -1.2 0.1 -1.3 0.1 3.1 0.1 -1.8 0.1 0.1 0.1 3.5 0.1 -0.8 0.1 -1.2 0.1 -1.5 0.1 1.1 0.1 -3.1 0.1 2.5 0.1 -0.9 0.1 -0.5 0.1 -0.3 0.1 2.2 0.1 -0.5 0.1 0.1 0.1 0.7 0.1 -1.8 0.1 -0.4 0.1 -0.6 0.1 1.5 0.1 1.2 0.1 -1 0.1 0.8 0.1 -1.9 0.1 0.8 0.1 -0.4 0.1 -0.5 0.1 3.3 0.1 -1.1 0.1 -1.7 0.1 0 0.1 0.7 0.1 -1.4 0.1 2 0.1 -1.9 0.1 1 0.1 -0.7 0.1 0.6 0.1 -0.9 0.1 -0.3 0.1 0.7 0.1 0.3 0.1 0.4 0.1 0.3 0.1 1.6 0.1 -0.8 0.1 -1.1 0.1 1 0.1 -1.5 0.1 2.3 0.1 -1 0.1 -2 0.1 2.2 0.1 0.1 0.1 -3.7 0.1 2.1 0.1 0.2 0.1 -1.5 0.1 0.9 0.1 0.1 0.1 1.6 0.1 -0.2 0.1 2.4 0.1 -3.2 0.1 1.6 0.1 -1.1 0.1 0.2 0.1 -1.5 0.1 -0.8 0.1 1.2 0.1 1.6 0.1 0.9 0.1 -1 0.1 -0.1 0.1 -1.4 0.1 2.5 0.1 -0.2 0.1 -2 0.1 0.5 0.1 -1 0.1 2.6 0.1 -1.1 0.1 -0.5 0.1 0.5 0.1 0 0.1 -0.9 0.1 -0.8 0.1 -0.1 0.1 -0.5 0.1 2.4 0.1 1.8 0.1 -4.1 0.1 1.9 0.1 0.3 0.1 -1.4 0.1 1.2 0.1 -1.4 0.1 2.5 0.1 -1.9 0.1 0.7 0.1 0.6 0.1 -1.1 0.1 -1.5 0.1 1.4 0.1 1.3 0.1 -0.9 0.1 0.4 0.1 -1.4 0.1 1.3 0.1 0.6 0.1 -0.7 0.1 2 0.1 -2.3 0.1 -0.8 0.1 -0.6 0.1 2.9 0.1 -1.3 0.1 1.1 0.1 -0.5 0.1 1.2 0.1 -0.4 0.1 -1.7 0.1 0.7 0.1 0.8 0.1 -2.4 0.1 2.8 0.1 -0.2 0.1 -0.3 0.1 -1.2 0.1 0.5 0.1 -1.5 0.1 1.3 0.1 -0.7 0.1 0.7 0.1 -0.6 0.1 0.8 0.1 1 0.1 -2.6 0.1 2.3 0.1 -3 0.1 -0.2 0.1 2.1 0.1 0.2 0.1 0.4 0.1 -2.2 0.1 1.7 0.1 0.2 0.1 1.2 0.1 -1.5 0.1 0.7 0.1 -1.6 0.1 0.9 0.1 -0.3 0.1 1.2 0.1 -1.8 0.1 0.2 0.1 1.5 0.1 1.2 0.1 -1.4 0.1 -0.1 0.1 -0.7 0.1 1.5 0.1 -0.6 0.1 1.3 0.1 -1.5 0.1 -1.4 0.1 0.4 0.1 -0.4 0.1 -0.3 0.1 2.7 0.1 -0.5 0.1 -2.2 0.1 3.2 0.1 -1.6 0.1 -1.3 0.1 1.4 0.1 -0.5 0.1 -0.7 0.1 -1.2 0.1 2.1 0.1 0.2 0.1 -3 0.1 3.3 0.1 0 0.1 -1.1 0.1 0.6 0.1 -0.4 0.1 -0.6 0.1 0.5 0.1 1.8 0.1 -3 0.1 1.8 0.1 0 0.1 -1 0.1 0.3 0.1 -1 0.1 0.5 0.1 0.9 0.1 0.4 0.1 -1.3 0.1 4.1 0.1 -3.8 0.1 0.7 0.1 -0.4 0.1 -0.1 0.1 1.7 0.1 -1.8 0.1 1.9 0.1 -0.3 0.1 -2.3 0.1 2.2 0.1 -1.8 0.1 3.6 0.1 -3.3 0.1 -0.6 0.1 -1 0.1 0.6 0.1 0.7 0.1 -0.4 0.1 -0.3 0.1 0.6 0.1 0.5 0.1 1.7 0.1 -3.3 0.1 1.2 0.1 -0.4 0.1 -0.6 0.1 0.2 0.1 0.4 0.1 1.7 0.1 -1 0.1 -0.4 0.1 1.2 0.1 -0.4 0.1 -0.5 0.1 0.6 0.1 -1.3 0.1 1.6 0.1 -0.2 0.1 -1 0.1 -0.8 0.1 2.8 0.1 -1.5 0.1 3.1 0.1 -3.9 0.1 1.6 0.1 -1.4 0.1 0.7 0.1 0.6 0.1 -1.7 0.1 0.7 0.1 0.3 0.1 -0.1 0.1 0.5 0.1 0.4 0.1 -0.2 0.1 -0.6 0.1 -0.7 0.1 -0.8 0.1 0.4" fill="none" stroke="#0072BD" stroke-width="1.3" stroke-opacity="1.0" stroke-linejoin="round"/><path d="M270.8 62.5 L271.6 68 L272.8 95 L274 128.5" fill="none" stroke="#0072BD" stroke-width="0.9" stroke-opacity="0.75" stroke-linejoin="round" stroke-linecap="round"/><path d="M274 128.5 L276.4 135.7" fill="none" stroke="#0072BD" stroke-width="1.8" stroke-opacity="1.0" stroke-linejoin="round" stroke-linecap="round"/><path d="M276.4 135.9l0.1 -0.8 0.1 -1.6 0.1 -0.3 0.1 -1.3 0.1 -1.1 0.1 -1 0.1 -1 0.1 -0.8 0.1 -0.8 0.1 -1 0.1 -1 0.1 -0.9 0.1 -0.5 0.1 0.1 0.1 -0.6 0.1 -0.2 0.1 -0.7 0.1 -1 0.1 0 0.1 -0.6 0.1 -0.6 0.1 -0.7 0.1 -0.4 0.1 -0.5 0.1 -0.3 0.1 -0.6 0.1 -0.2 0.1 -1 0.1 -0.3 0.1 -0.1 0.1 -0.4 0.1 -0.3 0.1 0.4 0.1 -0.3 0.1 -0.3 0.1 0 0.1 -0.4 0.1 0.1 0.1 -0.3 0.1 0 0.1 0 0.1 -0.4 0.1 0.1 0.1 -0.6 0.1 0.1 0.1 -0.4 0.1 0.2 0.1 -0.1 0.1 -0.1 0.1 -0.2 0.1 0.3 0.1 -0.1 0.1 -0.7 0.1 0.4 0.1 -0.8 0.1 0.1 0.1 0.1 0.1 -0.1 0.1 -0.5 0.1 -0.1 0.1 0 0.1 -0.3 0.1 -0.2 0.1 0.1 0.1 -0.1 0.1 -0.4 0.1 -0.2 0.1 -0.2 0.1 -0.3 0.1 -0.2 0.1 -0.3 0.1 0.2 0.1 -0.3 0.1 -0.2 0.1 -0.1 0.1 -0.2 0.1 0.1 0.1 -0.6 0.1 -0.3 0.1 0 0.1 -0.4 0.1 0.3 0.1 -0.3 0.1 -0.2 0.1 -0.4 0.1 0 0.1 -0.1 0.1 -0.3 0.1 -0.4 0.1 -0.6 0.1 0.5 0.1 -0.5 0.1 -0.3 0.1 0.3 0.1 -0.4 0.1 -0.6 0.1 0.1 0.1 -0.2 0.1 0.2 0.1 -1 0.1 0.2 0.1 -0.1 0.1 0.2 0.1 -0.8 0.1 -0.7 0.1 0.2 0.1 0.3 0.1 -0.1 0.1 0.1 0.1 -0.6 0.1 -0.5 0.1 0.3 0.1 -0.5 0.1 -0.2 0.1 -0.1 0.1 0.1 0.1 -0.8 0.1 -0.2 0.1 0.1 0.1 -0.2 0.1 -0.4 0.1 -0.2 0.1 0.2 0.1 0.1 0.1 -0.4 0.1 -0.2 0.1 0 0.1 -1.1 0.1 -0.1 0.1 0 0.1 -0.3 0.1 -0.1 0.1 0.1 0.1 -0.6 0.1 0.1 0.1 -0.7 0.1 0.1 0.1 0.5 0.1 -0.7 0.1 0 0.1 0 0.1 -0.6 0.1 0.2 0.1 -0.3 0.1 -0.1 0.1 -0.6 0.1 -0.4 0.1 -0.1 0.1 0 0.1 0.1 0.1 -0.4 0.1 -0.2 0.1 -0.2 0.1 0.2 0.1 -0.7 0.1 0.5 0.1 -1 0.1 0 0.1 0.2 0.1 -0.3 0.1 -0.6 0.1 0 0.1 -0.3 0.1 0.3 0.1 -0.3 0.1 -0.6 0.1 0.2 0.1 -0.5 0.1 -0.1 0.1 -0.1 0.1 -0.4 0.1 0.1 0.1 -0.2 0.1 -0.2 0.1 0.1 0.1 -0.7 0.1 -0.5 0.1 0.1 0.1 0 0.1 -0.2 0.1 -0.1 0.1 -0.1 0.1 -0.5 0.1 -0.1 0.1 -0.5 0.1 0.4 0.1 -0.6 0.1 -0.4 0.1 -0.2 0.1 0 0.1 0.5 0.1 -0.5 0.1 -0.9 0.1 0.3 0.1 -0.1 0.1 0 0.1 -0.3 0.1 -0.5 0.1 0.1 0.1 -0.5 0.1 -0.7 0.1 0.3 0.1 -0.2 0.1 0.4 0.1 -0.2 0.1 -0.9 0.1 0.3 0.1 -0.3 0.1 -0.7 0.1 -0.3 0.1 0.4 0.1 -0.1 0.1 -0.4 0.1 -0.9 0.1 0.7 0.1 -0.4 0.1 -0.3 0.1 0 0.1 -0.4 0.1 0.4 0.1 -0.4 0.1 -0.4 0.1 0.1 0.1 -0.3 0.1 -0.7 0.1 0.3 0.1 -0.3 0.1 -0.6 0.1 0.2 0.1 0.2 0.1 -0.6 0.1 0.5 0.1 -0.1 0.1 -0.8 0.1 0.1 0.1 0.3 0.1 -1 0.1 -0.4 0.1 0 0.1 -0.5 0.1 -0.2 0.1 0.4 0.1 -0.5 0.1 0.1 0.1 -0.1 0.1 -0.6 0.1 0 0.1 -0.2 0.1 -0.4 0.1 -0.2 0.1 0.2 0.1 -0.3 0.1 0 0.1 0 0.1 -0.2 0.1 -0.9 0.1 -0.1 0.1 0 0.1 0 0.1 0.1 0.1 -0.9 0.1 0 0.1 0.1 0.1 0.1 0.1 -0.1 0.1 -1 0.1 0.1 0.1 -0.4 0.1 0.4 0.1 -0.4 0.1 -0.4 0.1 -0.3 0.1 0.1 0.1 0.1 0.1 -0.8 0.1 -0.1 0.1 0 0.1 -0.2 0.1 -0.1 0.1 -0.7 0.1 0 0.1 -0.7 0.1 0.6 0.1 0.2 0.1 -1.4 0.1 0.4 0.1 0.4 0.1 -0.6 0.1 -0.9 0.1 1 0.1 -1.2 0.1 0.9 0.1 -0.9 0.1 -0.2 0.1 0 0.1 -0.2 0.1 0.1 0.1 -0.2 0.1 -0.5 0.1 0.4 0.1 -0.4 0.1 -0.4 0.1 -0.2 0.1 -0.3 0.1 -0.1 0.1 0.1 0.1 -0.3 0.1 -0.4 0.1 0.2 0.1 -0.6 0.1 0 0.1 0 0.1 -0.9 0.1 0.1 0.1 0.6 0.1 -1.2 0.1 0.6 0.1 -1 0.1 0.4 0.1 -0.8 0.1 0 0.1 -0.1 0.1 -0.3 0.1 0.5 0.1 -0.3 0.1 -0.2 0.1 -0.4 0.1 0.4 0.1 -0.4 0.1 -0.5 0.1 -0.7 0.1 0.5 0.1 -0.2 0.1 -0.4 0.1 0 0.1 -0.1 0.1 -0.7 0.1 0.2 0.1 -0.3 0.1 -0.1 0.1 -0.5 0.1 -0.2 0.1 0.1 0.1 0.3 0.1 0.2 0.1 -1.3 0.1 -0.4 0.1 0.1 0.1 -0.4 0.1 0 0.1 0.2 0.1 -0.7 0.1 0.4 0.1 -0.1 0.1 0.2 0.1 -0.1 0.1 -0.5 0.1 0.4 0.1 -1.4 0.1 0.2 0.1 -0.2 0.1 -0.1 0.1 0.1 0.1 -0.7 0.1 0.6 0.1 -0.3 0.1 -0.6 0.1 -0.1 0.1 -0.8 0.1 -0.8 0.1 0.8 0.1 0 0.1 -0.2 0.1 -0.7 0.1 0.1 0.1 0.8 0.1 -0.6 0.1 -0.3 0.1 -0.5 0.1 0.2 0.1 0.1 0.1 -0.4 0.1 -0.6 0.1 0.1 0.1 -0.7 0.1 0.1 0.1 0.2 0.1 -0.7 0.1 0 0.1 0.5 0.1 -0.8 0.1 0.2 0.1 -0.6 0.1 -0.6 0.1 0.4 0.1 -0.4 0.1 -0.8 0.1 0.1 0.1 0.2 0.1 0.6 0.1 -1 0.1 0 0.1 0.2 0.1 -0.4 0.1 -0.4 0.1 0.7 0.1 -0.3 0.1 -1.8 0.1 1.4 0.1 -0.3 0.1 0 0.1 -0.5 0.1 0.2 0.1 0.4 0.1 -0.3 0.1 -0.1 0.1 -0.4 0.1 -0.2 0.1 -0.1 0.1 -1.1 0.1 1.4 0.1 -1 0.1 -0.1 0.1 -0.3 0.1 0.1 0.1 -1.3 0.1 0.9 0.1 -0.8 0.1 0 0.1 -0.5 0.1 -0.1 0.1 0.9 0.1 -0.6 0.1 0 0.1 -0.1 0.1 -0.6 0.1 0 0.1 -0.3 0.1 0.3 0.1 -1 0.1 0.7 0.1 0.4 0.1 0 0.1 -0.1 0.1 -0.5 0.1 -0.8 0.1 0.7 0.1 -0.3 0.1 -0.2 0.1 -0.8 0.1 0.6 0.1 0.3 0.1 -0.4 0.1 -0.6 0.1 0.2 0.1 -0.4 0.1 0 0.1 0.2 0.1 -0.4 0.1 -0.3 0.1 0 0.1 -0.6 0.1 -0.3 0.1 0.6 0.1 -0.6 0.1 0.4 0.1 -1.2 0.1 1.3 0.1 -0.7 0.1 0.8 0.1 -2.1 0.1 0.3 0.1 1.4 0.1 -0.7 0.1 0 0.1 -0.2 0.1 -0.1 0.1 0.1 0.1 -0.8 0.1 0.3 0.1 0.6 0.1 -0.6 0.1 -0.5 0.1 0.3 0.1 0.3 0.1 -0.7 0.1 -0.1 0.1 0.3 0.1 0.1 0.1 0.2 0.1 -0.9 0.1 0.1 0.1 0.3 0.1 -1.5 0.1 0.9 0.1 0 0.1 -0.3 0.1 -0.5 0.1 0.6 0.1 0.2 0.1 -0.7 0.1 -0.3 0.1 0.1 0.1 0.7 0.1 -0.2 0.1 -0.7 0.1 -0.6 0.1 -0.2 0.1 0.4 0.1 -0.1 0.1 0.2 0.1 -0.8 0.1 0.4 0.1 0.2 0.1 -1.1 0.1 1.8 0.1 -0.9 0.1 -0.1 0.1 -1 0.1 0 0.1 1 0.1 -0.2 0.1 -1.7 0.1 1.6 0.1 -0.3 0.1 -0.1 0.1 -0.9 0.1 0.6 0.1 -0.5 0.1 0.6 0.1 0.5 0.1 -0.6 0.1 0.1 0.1 -0.7 0.1 -0.4 0.1 0.4 0.1 0.5 0.1 0.2 0.1 -0.9 0.1 0.1 0.1 -0.4 0.1 -0.7 0.1 0.9 0.1 0 0.1 -0.4 0.1 0.1 0.1 -0.9 0.1 0.9 0.1 0.6 0.1 -0.8 0.1 0.3 0.1 -0.2 0.1 -0.6 0.1 0.4 0.1 -0.6 0.1 1.9 0.1 -1.5 0.1 -0.7 0.1 -0.3 0.1 1.5 0.1 -0.5 0.1 -0.2 0.1 -0.9 0.1 0.3 0.1 -0.4 0.1 1.1 0.1 -0.8 0.1 1.2 0.1 -0.8 0.1 -0.5 0.1 0.8 0.1 -1.9 0.1 0.6 0.1 0.2 0.1 0.7 0.1 0 0.1 -0.5 0.1 -1.1 0.1 0.6 0.1 -0.4 0.1 1.2 0.1 -1 0.1 0.5 0.1 0.6 0.1 -1.1 0.1 0.4 0.1 -0.6 0.1 0.1 0.1 0 0.1 -0.1 0.1 0 0.1 -0.3 0.1 1.1 0.1 -1.4 0.1 0.5 0.1 -0.4 0.1 -1.1 0.1 1.7 0.1 -0.5 0.1 -0.9 0.1 0.3 0.1 -0.5 0.1 0.9 0.1 0.7 0.1 -0.3 0.1 -1.4 0.1 -0.3 0.1 1.2 0.1 0.6 0.1 -1 0.1 0.5 0.1 -1.4 0.1 0.7 0.1 0.2 0.1 -0.5 0.1 0 0.1 0.5 0.1 -0.8 0.1 -0.2 0.1 0.8 0.1 -0.3 0.1 -0.7 0.1 0.8 0.1 -0.5 0.1 0.6 0.1 -0.3 0.1 -0.2 0.1 -0.3 0.1 0.6 0.1 -0.2 0.1 1.1 0.1 -1.1 0.1 -0.7 0.1 1.9 0.1 -2.3 0.1 2 0.1 -1.4 0.1 1.3 0.1 -0.9 0.1 0.4 0.1 -0.3 0.1 -0.1 0.1 0.4 0.1 -0.7 0.1 0.6 0.1 -0.9 0.1 0.2 0.1 0.2 0.1 0.2 0.1 0.7 0.1 -1.1 0.1 -0.1 0.1 -0.1 0.1 0.4 0.1 0.5 0.1 -0.7 0.1 0.2 0.1 -0.2 0.1 0.4 0.1 -1.2 0.1 1.5 0.1 0.2 0.1 -1 0.1 0.4 0.1 -0.5 0.1 1.1 0.1 -0.2 0.1 1.3 0.1 -1.8 0.1 -0.4 0.1 0.3 0.1 -0.5 0.1 0.9 0.1 0 0.1 0.4 0.1 -0.3 0.1 -0.4 0.1 0.9 0.1 -0.4 0.1 0.2 0.1 -1.2 0.1 0.2 0.1 0.2 0.1 0.1 0.1 -1 0.1 2 0.1 -0.9 0.1 0.7 0.1 -0.1 0.1 0.5 0.1 -0.6 0.1 -0.1 0.1 -0.6 0.1 0.5 0.1 0.9 0.1 -2 0.1 0.6 0.1 0.6 0.1 0.8 0.1 -1.6 0.1 0.4 0.1 0.4 0.1 1.7 0.1 -2.3 0.1 0.4 0.1 0.5 0.1 -0.8 0.1 0.6 0.1 0.1 0.1 -0.5 0.1 0.5 0.1 0.8 0.1 -1 0.1 -0.3 0.1 -0.2 0.1 0.6 0.1 0.5 0.1 -0.5 0.1 0.1 0.1 1.4 0.1 -2 0.1 -0.2 0.1 0.8 0.1 -0.3 0.1 0.5 0.1 0.4 0.1 -0.5 0.1 -0.4 0.1 0.5 0.1 0 0.1 -0.4" fill="none" stroke="#0072BD" stroke-width="2.2" stroke-opacity="1.0" stroke-linejoin="round"/></g>
<g clip-path="url(#cE)"><path d="M385.4 67.4 L400 66.3 L410 65.8 L420 65 L433.8 63.8 L434.6 64.2" fill="none" stroke="#0072BD" stroke-width="1.5" stroke-opacity="1.0" stroke-linejoin="round" stroke-linecap="round"/><path d="M434.6 64.2 L435.5 75 L436.5 100 L438.3 133 L439.5 136.3" fill="none" stroke="#0072BD" stroke-width="0.8" stroke-opacity="0.6" stroke-linejoin="round" stroke-linecap="round"/><path d="M439.5 136.3 L440.8 126 L442.3 117.1 L443.9 114.7" fill="none" stroke="#0072BD" stroke-width="0.9" stroke-opacity="0.7" stroke-linejoin="round" stroke-linecap="round"/><path d="M443.9 114.7 L444.06 114.68 L444.25 114.74 L444.48 114.82 L444.74 114.86 L445.05 114.81 L445.41 114.62 L445.83 114.23 L446.3 113.6 L446.85 112.68 L447.48 111.51 L448.17 110.14 L448.91 108.63 L449.68 107.04 L450.46 105.41 L451.24 103.82 L452 102.3 L452.76 100.81 L453.55 99.28 L454.35 97.72 L455.16 96.16 L455.96 94.62 L456.74 93.11 L457.49 91.67 L458.2 90.3 L458.87 89.03 L459.49 87.84 L460.09 86.7 L460.67 85.61 L461.25 84.53 L461.82 83.45 L462.4 82.35 L463 81.2 L463.6 80.02 L464.2 78.85 L464.79 77.66 L465.39 76.46 L466 75.25 L466.63 74.02 L467.3 72.77 L468 71.5 L468.75 70.19 L469.54 68.85 L470.35 67.49 L471.19 66.11 L472.05 64.72 L472.91 63.33 L473.76 61.96 L474.6 60.6 L475.43 59.24 L476.27 57.87 L477.11 56.49 L477.94 55.12 L478.78 53.77 L479.62 52.46 L480.46 51.2 L481.3 50 L482.14 48.86 L482.98 47.77 L483.82 46.72 L484.66 45.71 L485.49 44.74 L486.33 43.8 L487.17 42.89 L488 42 L488.83 41.14 L489.66 40.31 L490.48 39.52 L491.31 38.75 L492.13 38.02 L492.95 37.31 L493.78 36.64 L494.6 36 L495.43 35.38 L496.28 34.79 L497.13 34.22 L497.98 33.68 L498.81 33.19 L499.63 32.74 L500.43 32.34 L501.2 32 L501.93 31.73 L502.62 31.53 L503.29 31.38 L503.94 31.28 L504.58 31.21 L505.24 31.17 L505.9 31.13 L506.6 31.1 L507.36 31.08 L508.2 31.1 L509.07 31.14 L509.94 31.19 L510.76 31.26 L511.51 31.32 L512.13 31.37 L512.6 31.4" fill="none" stroke="#0072BD" stroke-width="1.05" stroke-opacity="1.0" stroke-linejoin="round" stroke-linecap="round"/></g>
<g clip-path="url(#cB)"><path d="M57.5 276.5l0.1 -28.5 0 18.4 0 -6.2 0.1 0.7 0 1.5 0.1 -11.3 0 11.1 0.1 -3.9 0 25.7 0.1 -19 0 -3.7 0.1 0.5 0 -2.5 0.1 -2.4 0 4.1 0.1 5.4 0 -4.5 0.1 7.4 0 -7.2 0.1 1.3 0 9.4 0.1 -6.2 0 -6.5 0.1 1.9 0 4.5 0.1 8.6 0 -13.7 0.1 0.1 0 7.7 0.1 -11.7 0 3.7 0.1 7.2 0 -1.9 0.1 -3.1 0 3.6 0.1 -21.7 0 23.8 0.1 -12.3 0 -4.4 0.1 12 0 2.6 0.1 -7.1 0 -3.9 0.1 6.8 0 -0.6 0.1 9.1 0 -4.2 0.1 -3.4 0 5.7 0.1 -8.2 0 -4.5 0.1 9.3 0 0 0.1 -5 0 -3.6 0.1 6.3 0 -16.9 0.1 19.7 0 -1.3 0.1 -13.2 0 10.6 0.1 -6.4 0 10.7 0.1 -17.3 0 7 0.1 10.1 0 2.8 0.1 -20.6 0 10.4 0.1 5.1 0 -5.8 0.1 13.7 0 -17.2 0.1 9.6 0 -8.7 0.1 15.2 0 -8.8 0.1 -2.2 0 -8.3 0.1 21.1 0 -5.7 0.1 0 0 2.4 0.1 -4.9 0 -6.1 0.1 -0.9 0 0 0.1 13.5 0 -17.6 0.1 5.4 0 1.7 0.1 3.5 0 2.1 0.1 -11.2 0 -3 0.1 10.7 0 7.6 0.1 -2.8 0 -3.3 0.1 -3.3 0 3.8 0.1 -3.3 0 6.6 0.1 -10 0 5.8 0.1 -1.5 0 4.1 0.1 -2 0 14.4 0.1 -6.4 0 0 0.1 -21.9 0 10.5 0.1 -1.6 0 7.1 0.1 -17.4 0 21.4 0.1 -0.6 0 -14.7 0.1 2 0 1.1 0.1 5.3 0 3.7 0.1 8.7 0 -13.9 0.1 6 0 -3.8 0.1 10 0 -6.3 0.1 3.8 0 -15.1 0.1 5.5 0 -3.9 0.1 14.4 0 -5.2 0.1 -6 0 -0.9 0.1 5.8 0 -7.3 0.1 -1.4 0 8.7 0.1 12.3 0 -16.8 0.1 -1.9 0 -3.8 0.1 -1 0 11.5 0.1 2.1 0 -5.2 0.1 2 0 -1.4 0.1 0.2 0 -10.3 0.1 6.6 0 3.5 0.1 -5.5 0 1.9 0.1 -2.1 0 3 0.1 7.4 0 -7.8 0.1 1.5 0 6.1 0.1 -1.1 0 6.5 0.1 -23.4 0 18.2 0.1 -8.2 0 3.8 0.1 4.4 0 1.5 0.1 -0.3 0 -5.5 0.1 9.1 0 -11.8 0.1 0.9 0 5.9 0.1 -8.4 0 16.8 0.1 -7 0 7.2 0.1 -13.7 0 -2.1 0.1 3.4 0 3.6 0.1 -8.2 0 6 0.1 -2.4 0 10.2 0.1 -14.1 0 10.6 0.1 -10.5 0 -1.9 0.1 1.6 0 -2.9 0.1 8.3 0 5.5 0.1 -5.3 0 2.8 0.1 6.3 0 -8.4 0.1 -0.4 0 -2.9 0.1 -8.2 0 14.7 0.1 -15.6 0 15 0.1 -4.1 0 7.1 0.1 -7.4 0 -4.6 0.1 7.3 0 -5.6 0.1 2.3 0 1.5 0.1 -1.1 0 -0.3 0.1 -4 0 4.1 0.1 -12.1 0 12.3 0.1 -6.4 0 14.4 0.1 1 0 -20 0.1 13.1 0 -1.7 0.1 -5.7 0 9.9 0.1 -6.2 0 -8 0.1 9.3 0 0.8 0.1 1.6 0 -8.3 0.1 11.5 0 0.8 0.1 -11.6 0 3 0.1 3.6 0 -3 0.1 14.3 0 -9.5 0.1 -7.5 0 1.3 0.1 4.6 0 14.6 0.1 -15.4 0 1.9 0.1 2.4 0 -3.4 0.1 14.4 0 -17.5 0.1 7.9 0 -3.6 0.1 2.9 0 -11.2 0.1 18.3 0 -11.7 0.1 0.9 0 -6 0.1 1.3 0 8 0.1 2.6 0 -1.4 0.1 2.8 0 -3 0.1 -4.3 0 5 0.1 -1.5 0 -4.3 0.1 5.1 0 3.5 0.1 -6.5 0 -3.7 0.1 6.7 0 7.3 0.1 -13.1 0 0.8 0.1 -0.3 0 8.4 0.1 -19 0 13.7 0.1 5.1 0 -12.4 0.1 14.3 0 -5.9 0.1 -6.8 0 4.7 0.1 -10.8 0 6 0.1 14.9 0 -16.9 0.1 17 0 -12 0.1 6.7 0 -5.9 0.1 -14.2 0 10.4 0.1 4.7 0 -8.3 0.1 -1.3 0 10.6 0.1 -6.3 0 -6.5 0.1 6.3 0 9.5 0.1 -8.3 0 8.7 0.1 3.7 0 -9.3 0.1 -7.2 0 -1.1 0.1 7.9 0 5.6 0.1 -3.8 0 1.7 0.1 -6.2 0 4.6 0.1 -4.8 0 0.9 0.1 -6 0 -1.8 0.1 6.8 0 -3.9 0.1 0.9 0 10.1 0.1 -4.9 0 18.7 0.1 -12.3 0 -9.7 0.1 8.7 0 -2.6 0.1 -6.5 0 11.1 0.1 -11.7 0 -14.2 0.1 23.9 0 -8.8 0.1 13 0 -13.2 0.1 -3.3 0 16.9 0.1 -16.3 0 7.9 0.1 7.7 0 -8.3 0.1 -1.2 0 1.1 0.1 4.5 0 -10.2 0.1 8.8 0 -0.2 0.1 10.8 0 -16.6 0.1 -3.6 0 10.3 0.1 -7.1 0 4.2 0.1 -0.9 0 6.4 0.1 -11.3 0 3.5 0.1 -15.3 0 10.3 0.1 15.1 0 -13.8 0.1 -0.1 0 -3.2 0.1 11.1 0 -2.5 0.1 -8.4 0 11.5 0.1 -2.6 0 3.1 0.1 -8.6 0 14.7 0.1 -8.2 0 -3.3 0.1 -2.5 0 1.7 0.1 6.9 0 -7 0.1 8.3 0 -3.1 0.1 4.8 0 -3.3 0.1 -5.5 0 -11.4 0.1 13.7 0 3 0.1 -3.9 0 2.5 0.1 -6.4 0 0.6 0.1 -3.5 0 14.3 0.1 -7.5 0 -4 0.1 -5.2 0 7.3 0.1 9.9 0 -6.1 0.1 -7.4 0 13.4 0.1 0 0 -2.8 0.1 -1.2 0 2.3 0.1 -3.8 0 1.4 0.1 -9.6 0 14.1 0.1 -7.8 0 11.1 0.1 -25.2 0 17 0.1 1.7 0 -8.2 0.1 4.9 0 1.9 0.1 -1.1 0 -6.9 0.1 2.4 0 7.2 0.1 1.6 0 -7.3 0.1 -0.1 0 0.7 0.1 5.2 0 -13 0.1 -1.7 0 9 0.1 -7.6 0 3.2 0.1 4.2 0 2.4 0.1 -9.6 0 11.6 0.1 -16 0 14.4 0.1 -13.2 0 1.9 0.1 11.9 0 -6.5 0.1 -2.5 0 2.2 0.1 5.7 0 -3.3 0.1 0.2 0 6.7 0.1 -11 0 1.5 0.1 -0.3 0 10.5 0.1 -1.1 0 1.8 0.1 -8.2 0 -0.8 0.1 6.3 0 -7.8 0.1 7.6 0 -0.7 0.1 -8.8 0 3.8 0.1 -0.2 0 11.5 0.1 5.3 0 -16.7 0.1 0.7 0 -14.3 0.1 15.5 0 -1.4 0.1 -6.6 0 11.5 0.1 -14.6 0 8.4 0.1 2.2 0 -8.6 0.1 13 0 1.3 0.1 -15.2 0 -0.1 0.1 12.5 0 -4 0.1 -7.3 0 5.7 0.1 1.2 0 -0.3 0.1 6.1 0 -2.8 0.1 8.6 0 -2.5 0.1 -4.3 0 2.5 0.1 1.5 0 -3.8 0.1 -12 0 13 0.1 -4.9 0 9.6 0.1 -9.5 0 2.7 0.1 -1.2 0 8.3 0.1 -9.3 0 -2.7 0.1 3.5 0 -4.6 0.1 3.7 0 -1 0.1 1.7 0 10.3 0.1 -14.5 0 2.8 0.1 -1.5 0 5.4 0.1 -11.5 0 3 0.1 4.1 0 3.6 0.1 -3.7 0 -2.8 0.1 -2.2 0 8.5 0.1 5.8 0 -7 0.1 -0.8 0 1.6 0.1 -8.6 0 3.9 0.1 0.3 0 3.5 0.1 -2.1 0 -7.3 0.1 14.5 0 3.5 0.1 -12.1 0 4.1 0.1 -0.8 0 3.2 0.1 -14.1 0 19.2 0.1 -12.9 0 10.7 0.1 -7.4 0 -2.9 0.1 1.5 0 6.4 0.1 -10.9 0 3 0.1 -0.7 0 -7.6 0.1 18.6 0 -4.4 0.1 -3.8 0 7.3 0.1 -13.1 0 5.4 0.1 11.2 0 -4.7 0.1 -19.9 0 -6.6 0.1 14 0 13 0.1 -9.6 0 1.6 0.1 5.1 0 -9.3 0.1 6.8 0 3.6 0.1 -2 0 -0.5 0.1 -6.2 0 6.9 0.1 -5.9 0 10.8 0.1 7.8 0 -20.6 0.1 -8.9 0 10.9 0.1 4.9 0 4.2 0.1 0.1 0 -11.5 0.1 -0.1 0 12.7 0.1 -14.6 0 13.5 0.1 -8.2 0 6.2 0.1 -0.4 0 0.4 0.1 0.3 0 -11.3 0.1 8 0 -1.8 0.1 1.8 0 5.7 0.1 -9.3 0 -2.8 0.1 -0.1 0 2.6 0.1 6.5 0 -9.7 0.1 12.2 0 -5.4 0.1 -3.2 0 -6.9 0.1 9.8 0 2.7 0.1 -15.2 0 18.3 0.1 2.8 0 -8.2 0.1 1 0 11.9 0.1 -7.4 0 -13.2 0.1 5.4 0 -0.9 0.1 0.1 0 -13.8 0.1 19.4 0 -8.7 0.1 4.9 0 -1.8 0.1 6.2 0 -7.3 0.1 -3.1 0 8.2 0.1 5.4 0 -10.7 0.1 10.4 0 -6.8 0.1 -5 0 12.7 0.1 -14.5 0 11.3 0.1 -9.4 0 5.9 0.1 -10.5 0 2.5 0.1 11.7 0 -5.4 0.1 -1 0 -2.9 0.1 5.4 0 -11.4 0.1 1.7 0 5.9 0.1 -4.2 0 0.8 0.1 3.9 0 -0.4 0.1 -0.6 0 11.7 0.1 -4.1 0 1.4 0.1 -7.9 0 -2.9 0.1 -5.8 0 6.9 0.1 -10.7 0 9.4 0.1 8.4 0 5.4 0.1 -4 0 -11.3 0.1 8.5 0 -7.9 0.1 10 0 -5.7 0.1 6.1 0 10.6 0.1 -10.1 0 8.8 0.1 -13.3 0 -3.1 0.1 10.4 0 2.4 0.1 -14 0 3.9 0.1 -9.3 0 7.7 0.1 6.8 0 -5.9 0.1 -3 0 -5.1 0.1 11.1 0 2.7 0.1 -1.2 0 -2.1 0.1 -9.4 0 18.9 0.1 -11.2 0 -0.5 0.1 5.5 0 -17.9 0.1 13.1 0 -0.4 0.1 3.2 0 6.1 0.1 -5.4 0 -14.2 0.1 9.3 0 3.5 0.1 -0.3 0 -8.8 0.1 -2.4 0 13.8 0.1 -1.2 0 -2.2 0.1 -10.5 0 21.8 0.1 -29 0 15.8 0.1 15.3 0 -13.9 0.1 2.5 0 -8.8 0.1 15.7 0 -16.5 0.1 9.6 0 -0.8 0.1 -7.4 0 12 0.1 -14.3 0 4.5 0.1 4 0 -2.4 0.1 5.5 0 2.7 0.1 -7.5 0 -1.6 0.1 0.1 0 0.9 0.1 7.3 0 -6.4 0.1 3.8 0 -3.1 0.1 -4.7 0 10.5 0.1 -11.8 0 6.5 0.1 9.1 0 -16 0.1 6.4 0 -9.5 0.1 6.6 0 -6.1 0.1 6.9 0 -1.1 0.1 4.1 0 9 0.1 -8.1 0 2.3 0.1 -4.4 0 -1.3 0.1 -3.6 0 -6.1 0.1 11.6 0 9.6 0.1 -7.2 0 -6.3 0.1 13.5 0 -12.9 0.1 -1.2 0 -3.7 0.1 1.5 0 4.4 0.1 13.9 0 -13.7 0.1 -5.1 0 2.6 0.1 2.3 0 -9.3 0.1 11.4 0 3.5 0.1 -2.4 0 1.7 0.1 -11.7 0 -2.6 0.1 18.4 0 -1.2 0.1 -16.4 0 10.8 0.1 -1.2 0 3.1 0.1 -2.1 0 -4.5 0.1 4.3 0 -0.3 0.1 -1.3 0 -11.3 0.1 -7.1 0 13.6 0.1 -5.3 0 11.7 0.1 2.8 0 -2.9 0.1 -3.9 0 2.6 0.1 6.8 0 -11.8 0.1 10.1 0 -1.3 0.1 -2.9 0 7.4 0.1 -13.5 0 10.2 0.1 -11.7 0 1 0.1 -1.9 0 9.3 0.1 -8.7 0 6.1 0.1 -7.4 0 13.6 0.1 4.7 0 -10 0.1 8.7 0 -6.7 0.1 9.9 0 -12.9 0.1 -10.4 0 18.9 0.1 -10.1 0 -5.7 0.1 2.3 0 -6 0.1 9 0 -5.7 0.1 15.8 0 -5.2 0.1 -14.4 0 0.9 0.1 5.7 0 -8.4 0.1 11.2 0 0.4 0.1 -4.5 0 1.5 0.1 6.5 0 5.7 0.1 0.5 0 -9 0.1 5.1 0 -9.8 0.1 7.1 0 -8.5 0.1 10.6 0 -12.2 0.1 1.7 0 6 0.1 3.5 0 -12.3 0.1 5.6 0 4.2 0.1 0.6 0 -6.6 0.1 5.9 0 -2.3 0.1 10.4 0 -5.2 0.1 -11.6 0 -5.4 0.1 14.3 0 6.7 0.1 -6.2 0 4.4 0.1 -8.4 0 -5.4 0.1 13.1 0 -4 0.1 3.6 0 -12.7 0.1 9.7 0 -5 0.1 8.9 0 -8.5 0.1 -0.2 0 0.2 0.1 11.5 0 -7.6 0.1 -4.9 0 -1.6 0.1 -0.1 0 15.6 0.1 -20.3 0 6 0.1 9.3 0 3.4 0.1 -8.2 0 5.8 0.1 -0.1 0 1.4 0.1 -5.8 0 10 0.1 -8.9 0 8.3 0.1 -16.3 0 12.7 0.1 -13.6 0 -1.5 0.1 12.5 0 -8.2 0.1 7.9 0 -9.4 0.1 16.7 0 -9.9 0.1 -7 0 8.1 0.1 4.4 0 -10.2 0.1 8 0 9.5 0.1 -7.3 0 -5.4 0.1 -3.4 0 7.1 0.1 -12.9 0 -9.4 0.1 14.7 0 -2.6 0.1 17.6 0 -9.9 0.1 -7 0 -1.1 0.1 10.4 0 -8.2 0.1 1.5 0 3.1 0.1 1.1 0 0.1 0.1 0.2 0 7.3 0.1 2.6 0 -20.8 0.1 26.2 0 -15.1 0.1 6.9 0 -12.3 0.1 6.7 0 -0.7 0.1 -0.6 0 4.6 0.1 -1.3 0 -10.2 0.1 5.6 0 5.2 0.1 -0.2 0 -6.3 0.1 0.3 0 0.9 0.1 -5.9 0 -1.1 0.1 17.7 0 -12.2 0.1 3.1 0 -5.2 0.1 12.6 0 2.8 0.1 -12.3 0 4.6 0.1 -7.9 0 15.6 0.1 -5.3 0 -10.9 0.1 12.9 0 -5.5 0.1 0.3 0 -0.4 0.1 -6.4 0 0.8 0.1 7.1 0 -4.2 0.1 -5.6 0 18.5 0.1 -13.9 0 -2.2 0.1 -0.9 0 8.6 0.1 1.7 0 -4.6 0.1 3.9 0 -14.7 0.1 6.9 0 -0.6 0.1 2.9 0 3 0.1 -15.7 0 32 0.1 -24.8 0 7.5 0.1 2.9 0 0.1 0.1 -3.8 0 -19.6 0.1 11.3 0 11.4 0.1 -10.4 0 -0.9 0.1 -8.1 0 22.1 0.1 -4.4 0 -8.8 0.1 4.7 0 0.2 0.1 -6.4 0 5.2 0.1 3.3 0 1.8 0.1 4.4 0 -7.7 0.1 -3.1 0 5.3 0.1 -6.4 0 -3.9 0.1 14.8 0 -9.5 0.1 3.1 0 3.3 0.1 -10.9 0 10.8 0.1 -1.2 0 -3.4 0.1 3 0 -7.1 0.1 -9 0 11.9 0.1 -3.9 0 11 0.1 -3.7 0 -5 0.1 3.6 0 8.1 0.1 -1.4 0 -4.7 0.1 0.3 0 -4.4 0.1 0.9 0 4.5 0.1 -4.4 0 2.6 0.1 -8.8 0 -3.5 0.1 -0.2 0 7.8 0.1 11 0 -0.9 0.1 -13.6 0 -3.4 0.1 14.5 0 -2 0.1 -11.4 0 15 0.1 -5.5 0 7.2 0.1 -6.1 0 3.3 0.1 -3.5 0 -7.9 0.1 4.4 0 -2.7 0.1 9.3 0 -11.3 0.1 -3.4 0 13.8 0.1 2.8 0 1.9 0.1 -2.2 0 -16.2 0.1 5.1 0 0.9 0.1 3.2 0 -13.2 0.1 13.3 0 1.7 0.1 -7.6 0 6.6 0.1 6.7 0 -7.2 0.1 6.3 0 -0.3 0.1 -3.7 0 -0.2 0.1 -4.7 0 10 0.1 -10.7 0 -1.4 0.1 8.7 0 -8.9 0.1 7.1 0 3.9 0.1 -6 0 0.1 0.1 5.1 0 -1.1 0.1 -14.2 0 1.4 0.1 16.4 0 -5.9 0.1 -15.3 0 4.5 0.1 8.5 0 -6.2 0.1 9 0 -2.5 0.1 2.6 0 -10.3 0.1 11.1 0 8.2 0.1 -17 0 13 0.1 -2 0 -2.2 0.1 -4.4 0 -6.8 0.1 1.8 0 10.1 0.1 1.4 0 1.5 0.1 -1.7 0 -0.3 0.1 -8.3 0 -4.9 0.1 8.8 0 1.8 0.1 -2.6 0 -9.9 0.1 6.1 0 -5.9 0.1 10 0 -7.4 0.1 5.5 0 3 0.1 -1.2 0 7.7 0.1 -15.4 0 -6.6 0.1 19.4 0 2.9 0.1 0.3 0 -7.1 0.1 1.6 0 -2.5 0.1 -8.7 0 4.5 0.1 6.7 0 -6.6 0.1 15.4 0 -21.3 0.1 6.9 0 9.6 0.1 -10.5 0 -3.3 0.1 -1.3 0 4 0.1 13.9 0 -6.8 0.1 0.7 0 -6.3 0.1 8.5 0 -4.6 0.1 -6.3 0 3 0.1 4.1 0 6.1 0.1 -7.6 0 3.5 0.1 9.5 0 -17.4 0.1 -2.7 0 13.8 0.1 -3.3 0 -3.3 0.1 2.3 0 -3.6 0.1 5.3 0 -5.3 0.1 7.1 0 -12.1 0.1 2.2 0 5.8 0.1 -3.5 0 7.2 0.1 -4.5 0 -3 0.1 4.7 0 -4.5 0.1 -6.4 0 2.7 0.1 2.1 0 2.1 0.1 3.6 0 5.1 0.1 -2.2 0 7.7 0.1 -3.1 0 -9.1 0.1 11.4 0 -3 0.1 -10.2 0 4.7 0.1 4.8 0 -5.4 0.1 4.8 0 -3.9 0.1 1.8 0 -6.4 0.1 4.3 0 -4.7 0.1 6.4 0 -14.7 0.1 12.5 0 5.6 0.1 -4.2 0 -3.8 0.1 3.4 0 -8.6 0.1 0 0 2.9 0.1 1.2 0 6.9 0.1 -11.6 0 11.7 0.1 -16.1 0 4.9 0.1 4.5 0 7.4 0.1 -11.1 0 -9.5 0.1 15.8 0 -2.8 0.1 -6.6 0 0.2 0.1 2.1 0 4.8 0.1 3.5 0 -13.4 0.1 23.3 0 -14.4 0.1 -2.2 0 6.4 0.1 -3.5 0 13.7 0.1 -7.7 0 -9.2 0.1 -0.2 0 -0.7 0.1 0.9 0 6.3 0.1 -8.3 0 14 0.1 -10.6 0 -0.5 0.1 6.8 0 -18.3 0.1 6.5 0 9.5 0.1 -3.6 0 0 0.1 2.5 0 -6.1 0.1 2.7 0 -7.3 0.1 -3.1 0 19.5 0.1 -13.6 0 1.4 0.1 13.2 0 -2 0.1 -9.8 0 0 0.1 2.9 0 -5.4 0.1 9.4 0 -2.5 0.1 0 0 3.9 0.1 -0.1 0 7 0.1 -2 0 -19.9 0.1 16.2 0 -12.4 0.1 -1.9 0 13.3 0.1 -8.7 0 2.5 0.1 8.6 0 -10.7 0.1 -1.3 0 7.6 0.1 5.6 0 -4.2 0.1 -12.9 0 5.7 0.1 3.1 0 13 0.1 -6.4 0 -0.2 0.1 2.3 0 -9.4 0.1 5 0 0.1 0.1 -9 0 6 0.1 3.6 0 -10.1 0.1 11.8 0 -0.3 0.1 1.8 0 -11.2 0.1 5.6 0 8.4 0.1 -4.1 0 -9.7 0.1 6.3 0 7.4 0.1 -9.4 0 2.8 0.1 13.5 0 -16.2 0.1 -0.5 0 -5.7 0.1 2.1 0 13.2 0.1 -10.1 0 -6.6 0.1 1.6 0 5.7 0.1 4.6 0 -9.4 0.1 9 0 -7.5 0.1 5.1 0 1 0.1 0.4 0 -6.5 0.1 1.6 0 4.1 0.1 -11.2 0 9 0.1 2 0 3.2 0.1 -6.8 0 -0.9 0.1 1.9 0 -5.5 0.1 3.2 0 3.7 0.1 -0.8 0 -8.3 0.1 4.4 0 -11.2 0.1 18 0 -8.3 0.1 4.7 0 -8.4 0.1 6.2 0 3.3 0.1 3.2 0 -14.6 0.1 13.6 0 -6.3 0.1 -3.9 0 7.7 0.1 -4.8 0 -0.1 0.1 -2.6 0 5.7 0.1 -1.3 0 -1.3 0.1 -4.9 0 2.6 0.1 5.6 0 5.4 0.1 -8.2 0 9 0.1 -8.8 0 -6.7 0.1 10.7 0 -9.9 0.1 8.5 0 4.2 0.1 -8.6 0 1.4 0.1 15.9 0 -13.8 0.1 0.1 0 3.3 0.1 -5.5 0 0.1 0.1 2.9 0 -17.1 0.1 23.6 0 -15.4 0.1 0 0 10 0.1 -3.2 0 -7.9 0.1 9.1 0 -8.3 0.1 2.7 0 -5 0.1 4.2 0 7.6 0.1 -1.6 0 1.1 0.1 3.8 0 -5.9 0.1 -3.8 0 2.3 0.1 12 0 -10 0.1 1.8 0 -2.6 0.1 2.2 0 1.1 0.1 -2.7 0 -0.9 0.1 -3.8 0 -0.4 0.1 7.8 0 2.1 0.1 1.1 0 -5.4 0.1 -5.4 0 9 0.1 -0.1 0 -13.1 0.1 14.3 0 -1.3 0.1 6.7 0 -17.3 0.1 -0.9 0 12.8 0.1 -15.9 0 6.6 0.1 -2.2 0 0.5 0.1 -5.5 0 10.3 0.1 7.6 0 -3.3 0.1 0.1 0 -5 0.1 11.2 0 -5.6 0.1 3.2 0 -16 0.1 11.7 0 -9.1 0.1 9.2 0 -0.9 0.1 -8.1 0 8.1 0.1 6.1 0 -4.1 0.1 0.6 0 -8.9 0.1 1.1 0 -2.6 0.1 7.7 0 6.6 0.1 -4.7 0 -2.6 0.1 -6.9 0 9.7 0.1 -4.2 0 -10.3 0.1 1.2 0 8.6 0.1 -3.4 0 15.7 0.1 -9.9 0 -6.6 0.1 3.4 0 12.9 0.1 -15.7 0 10.7 0.1 -2.1 0 6.4 0.1 -5.7 0 -5.8 0.1 5.8 0 -2.8 0.1 5.6 0 -6.3 0.1 12.6 0 -12.8 0.1 3.4 0 -6.8 0.1 4.9 0 -0.6 0.1 0.9 0 4.6 0.1 -8.9 0 -1.9 0.1 12.1 0 -8.6 0.1 -2.4 0 11.3 0.1 -2.3 0 -21.2 0.1 14 0 7.2 0.1 0.3 0 -8.3 0.1 12.8 0 -14.5 0.1 3.4 0 2.3 0.1 -0.9 0 5 0.1 1.4 0 -6.6 0.1 8.9 0 -12.9 0.1 3 0 11.9 0.1 -10 0 6 0.1 -9.3 0 1.1 0.1 0.9 0 1.7 0.1 -3.1 0 2.2 0.1 4 0 3.3 0.1 -6.7 0 3.3 0.1 1.6" fill="none" stroke="#0072BD" stroke-width="0.5" stroke-opacity="0.6" stroke-linejoin="round"/><path d="M57.5 259l0 -2.3 0.1 14.7 0 -1.3 0 -5.9 0 1.4 0 -6 0.1 -2.1 0 7.8 0 -8.3 0 11.1 0.1 -7.4 0 4.5 0 7.6 0 -0.3 0.1 -10 0 6.2 0 -9.7 0 2 0.1 4.4 0 4.7 0 -9.1 0 5.2 0.1 -2.1 0 -6.3 0 5.2 0 7.5 0.1 -7.3 0 2.7 0 1.5 0 -7.3 0.1 9.1 0 1.3 0 0.4 0 -1.3 0.1 -8.3 0 -0.6 0 -0.9 0 -0.6 0.1 0.5 0 8.3 0 2.2 0 -9.8 0.1 6.7 0 -9.6 0 4.3 0 -3.1 0.1 -3 0 7.8 0 0.1 0 -2.3 0.1 -0.5 0 -2.2 0 4 0 -2.2 0.1 3.8 0 -6.7 0 6.7 0 1.3 0.1 3.3 0 -0.9 0 -4 0 -4.1 0.1 -5.3 0 8.5 0 6.5 0 1.2 0.1 -17.1 0 5.8 0 1.9 0 -3.2 0.1 5.6 0 -0.7 0 -2.6 0 2.3 0.1 -7.3 0 2.9 0 0.3 0 8.3 0.1 -11.7 0 6.6 0 4.5 0 -3.8 0.1 4 0 -6.8 0 5 0 2.2 0.1 5 0 -5.9 0 3.3 0 -6.6 0.1 0.4 0 6.8 0 -4.6 0 3.9 0.1 -3.3 0 5.9 0 0 0 -13.2 0.1 12.6 0 -6.7 0 0.2 0 -2.8 0.1 3.9 0 -8.5 0 1.8 0 -0.2 0.1 4.9 0 2.9 0 -0.9 0 -1.7 0.1 -4.5 0 -5.4 0 10.1 0 -1.3 0.1 1 0 5 0 -7.5 0 -0.1 0.1 -8.5 0 12 0 -2.8 0 -3.2 0.1 5.2 0 -6.6 0 2.3 0 11.7 0.1 -5.6 0 0.8 0 -0.8 0 -0.5 0.1 -2.1 0 8.3 0 -9.5 0 3.7 0.1 -4.4 0 -0.6 0 -7.8 0 0.5 0.1 16.2 0 -0.3 0 -8.9 0 1.8 0.1 3.1 0 -7.5 0 12.8 0 -13 0.1 1.5 0 -6 0 16.4 0 -6.8 0.1 7.3 0 -12.2 0 6.3 0 -1.3 0.1 0.6 0 8.3 0 0.1 0 -2.8 0.1 -8.3 0 6 0 2.1 0 -3.6 0.1 0 0 -0.4 0 -6.4 0 5.4 0.1 6.3 0 -12.1 0 5 0 3.5 0.1 -10.2 0 5.7 0 -7.2 0 5.1 0.1 -3.7 0 2.3 0 1.9 0 1 0.1 0.4 0 -8.4 0 16.7 0 -8.6 0.1 -3.8 0 2.1 0 4.4 0 -6.1 0.1 2.8 0 -0.3 0 4.7 0 -6 0.1 5.6 0 -0.4 0 -2.3 0 6.4 0.1 -5.6 0 -5.6 0 6.9 0 -0.8 0.1 -0.8 0 1.3 0 8.2 0 -8.2 0.1 1.1 0 -3.3 0 7.3 0 -6.4 0.1 -3.4 0 -2 0 8.2 0 1 0.1 -10.8 0 4 0 6.4 0 1.8 0.1 -10.9 0 4.2 0 5.8 0 -6.3 0.1 0.3 0 -0.4 0 -3.5 0 6.3 0.1 1.2 0 -7.9 0 7 0 4.7 0.1 -4.2 0 3.4 0 -6.9 0 8.9 0.1 -10 0 12.5 0 -10.9 0 -1.2 0.1 -0.8 0 2.2 0 -0.4 0 -0.9 0.1 1.7 0 4.7 0 1 0 -5.7 0.1 7.3 0 -10.4 0 -0.1 0 -0.5 0.1 8.1 0 -10 0 0.7 0 12.5 0.1 2 0 -1.7 0 -13.2 0 7 0.1 3.8 0 -3.4 0 -8 0 5.9 0.1 -6.3 0 2.2 0 15.1 0 -6.2 0.1 -10 0 -0.1 0 9.1 0 -5 0.1 5.5 0 -5.7 0 2.1 0 2.1 0.1 -5.9 0 -4.2 0 3.4 0 2.3 0.1 2.3 0 0.7 0 0 0 2.7 0.1 -6.6 0 10.7 0 2.8 0 -7.6 0.1 -0.8 0 4.9 0 -2.8 0 -2.1 0.1 -1.7 0 -2.6 0 -2 0 8.5 0.1 2.4 0 -10.4 0 4.6 0 1.3 0.1 -3 0 -1.5 0 1.7 0 -7.3 0.1 8.8 0 -1 0 10.7 0 -5 0.1 -6 0 1.6 0 8 0 -0.5 0.1 -6.6 0 -1.4 0 -6.2 0 5.2 0.1 0.8 0 -2.6 0 11.4 0 -16.7 0.1 8.1 0 2.5 0 0.1 0 5.8 0.1 -14.3 0 3 0 4 0 0.1 0.1 -2.4 0 -1.7 0 8.5 0 -9.9 0.1 2.3 0 9.3 0 1.4 0 -4 0.1 -8.1 0 0.1 0 -0.2 0 -1.1 0.1 3.3 0 7.9 0 -4.9 0 -4.6 0.1 -0.1 0 -1.8 0 11.1 0 -14.8 0.1 10.4 0 -7.9 0 1.7 0 -2 0.1 11.4 0 -4.8 0 9.8 0 -14.3 0.1 -0.2 0 7.8 0 -0.1 0 -3.9 0.1 -7.9 0 15.9 0 -4.1 0 -0.8 0.1 -4.6 0 5.7 0 -5.5 0 2.8 0.1 -1.1 0 6.8 0 -8.1 0 0.6 0.1 6.8 0 -4.1 0 -1.1 0 -1 0.1 5.5 0 -7.4 0 5.2 0 7.3 0.1 -7.6 0 -5.5 0 -1.9 0 6.3 0.1 -6.4 0 -1.7 0 3.9 0 -1.6 0.1 9.2 0 -10.8 0 14.1 0 -10.8 0.1 4 0 2.6 0 -2 0 2.3 0.1 -8 0 -4.3 0 8 0 -6.9 0.1 5.2 0 7.1 0 -5.3 0 -1.8 0.1 -2.5 0 3.9 0 0.6 0 -6.6 0.1 8.8 0 -6.4 0 6 0 -3.1 0.1 6.7 0 -0.6 0 -3.9 0 -0.5 0.1 2.6 0 4.4 0 -1.5 0 -4.2 0.1 0.8 0 5.9 0 -14.9 0 10.2 0.1 -6.7 0 10.5 0 -8.6 0 1.8 0.1 -4.5 0 5.2 0 3.6 0 4.2 0.1 -13.7 0 3.9 0 11.5 0 -5 0.1 -4.4 0 2.5 0 -11.7 0 16.8 0.1 -6.7 0 -7.4 0 12.1 0 -8.3 0.1 -1.9 0 7.3 0 -0.6 0 -3.9 0.1 1.8 0 -5.9 0 -0.5 0 10.9 0.1 2 0 -4.1 0 -0.2 0 -3.6 0.1 1.2 0 -3.7 0 12.6 0 -10.8 0.1 4.5 0 -1.9 0 -6.5 0 15.6 0.1 -10.8 0 -1.8 0 4.1 0 -4.6 0.1 4.3 0 -4.6 0 7.1 0 -2.3 0.1 -6.6 0 11.2 0 -3.9 0 -6.1 0.1 6.9 0 0.3 0 6.7 0 -12.7 0.1 8.1 0 -4.4 0 3.3 0 -4.1 0.1 1 0 2.6 0 -7.9 0 -3.8 0.1 9.3 0 -2 0 2.5 0 2.6 0.1 -4 0 6.6 0 -5.8 0 0.7 0.1 3.4 0 -1.1 0 -3.2 0 1 0.1 -4.1 0 0.7 0 3.3 0 3.4 0.1 -5.9 0 6 0 5.1 0 0.1 0.1 -9 0 4.8 0 -2 0 0.8 0.1 0.2 0 -1.4 0 1.4 0 -2.9 0.1 -2.1 0 2.4 0 1.1 0 3.4 0.1 -4 0 1.7 0 3.2 0 -11 0.1 3.2 0 3.7 0 -2.4 0 -4.8 0.1 9.3 0 -4.9 0 -4.4 0 13.5 0.1 -14.8 0 5.9 0 -3.1 0 3.7 0.1 2.1 0 -6.4 0 3.3 0 -0.1 0.1 -4.1 0 10.1 0 -4.6 0 -2.2 0.1 -1.8 0 1.6 0 2.2 0 -2.8 0.1 8 0 -15.4 0 0 0 8.3 0.1 -7.4 0 8.3 0 -2.7 0 5.7 0.1 -0.7 0 4.1 0 -1.8 0 1.6 0.1 -3.4 0 2.5 0 -2.6 0 -5.1 0.1 -3.1 0 0.2 0 7.9 0 -11.8 0.1 10.4 0 -4.4 0 7 0 -2.5 0.1 -4.5 0 3.6 0 -9.6 0 10.8 0.1 0.9 0 -10.7 0 12.5 0 -4.5 0.1 1.4 0 -7.5 0 9.5 0 -0.1 0.1 -2.8 0 -4.5 0 8.1 0 2.3 0.1 -4 0 2.8 0 -7.3 0 3.4 0.1 1.1 0 -1.1 0 8.3 0 -7 0.1 -4.6 0 6.5 0 -8.9 0 6.8 0.1 1.9 0 -5.9 0 0.8 0 -2.8 0.1 4.9 0 -3.7 0 11.2 0 -5 0.1 -4.1 0 -5.6 0 15.5 0 -2.8 0.1 -3.9 0 -1.3 0 -0.1 0 -3 0.1 11 0 -7.8 0 -7.7 0 3.6 0.1 -6.7 0 12.8 0 0.5 0 4.7 0.1 0.5 0 -12.4 0 5.7 0 2.5 0.1 -0.9 0 -6.1 0 6.1 0 -1.5 0.1 4.1 0 -6.5 0 -1 0 -1.3 0.1 0.6 0 -1.8 0 1.9 0 4 0.1 -0.3 0 4 0 -1 0 -2.2 0.1 -8.3 0 8 0 2.7 0 -11.5 0.1 0.9 0 0.7 0 -0.4 0 3.5 0.1 -3.1 0 6.2 0 -7.5 0 5 0.1 -1.7 0 -2.2 0 9.3 0 -4.7 0.1 2.4 0 -4.1 0 4.8 0 -0.4 0.1 -3.6 0 -7.6 0 12.1 0 -0.6 0.1 -2.4 0 0.3 0 -0.6 0 0.3 0.1 -5.5 0 4.4 0 1.7 0 -4.3 0.1 -1.7 0 13.1 0 -5.8 0 -4.3 0.1 -0.8 0 -7.3 0 2.9 0 5.5 0.1 7.1 0 -15.6 0 6.3 0 12.2 0.1 -5.8 0 -1.2 0 3.6 0 -6.1 0.1 -0.3 0 4.2 0 0.6 0 -8.9 0.1 12 0 -15.2 0 4.9 0 12.2 0.1 -11.4 0 5.4 0 -7.7 0 3.2 0.1 -1.9 0 1.5 0 4.9 0 5 0.1 -4 0 3.1 0 -9.6 0 9.2 0.1 -4.2 0 3.7 0 -8.3 0 0.8 0.1 7.5 0 -3.6 0 -2.3 0 -3.7 0.1 2.7 0 2.7 0 1.1 0 -6 0.1 1 0 3.5 0 -7.1 0 9.5 0.1 -4.4 0 -0.6 0 -8.9 0 2 0.1 2.6 0 2.1 0 -2.4 0 6.8 0.1 -1.1 0 -1.9 0 -8.1 0 15.8 0.1 -7.8 0 4.1 0 -5.9 0 3.1 0.1 3.3 0 -2.2 0 3.4 0 -5.3 0.1 10.1 0 -18.1 0 6.2 0 7.2 0.1 -5.8 0 -0.9 0 -6.2 0 13.9 0.1 -14.4 0 11.1 0 -1.4 0 3.1 0.1 2.8 0 -10.1 0 -0.5 0 2.3 0.1 -6.5 0 11.8 0 -5.7 0 2.6 0.1 -6 0 5.3 0 -3 0 2.5 0.1 -4.7 0 9.9 0 -7.8 0 -6.2 0.1 12.2 0 -4.4 0 -2.8 0 13.6 0.1 -9.7 0 -6 0 3.4 0 4.6 0.1 -2.8 0 6.8 0 -0.8 0 -8.6 0.1 3.8 0 2.8 0 -4.9 0 -0.2 0.1 6.2 0 -2 0 -8.6 0 4 0.1 0.6 0 1.4 0 -2.8 0 9.6 0.1 -10.8 0 -0.5 0 6 0 -10.1 0.1 4.3 0 7.7 0 -9 0 2.2 0.1 9 0 -2.9 0 -1.9 0 0.9 0.1 -4.3 0 4.6 0 -2.4 0 10.4 0.1 -6.9 0 -4.1 0 1.3 0 0.5 0.1 -6.6 0 2.6 0 10.9 0 -13.6 0.1 3.8 0 7.5 0 2.2 0 -11.7 0.1 11.5 0 -8.5 0 9.4 0 -5.3 0.1 -3.7 0 4.7 0 -0.8 0 -6.1 0.1 12.9 0 -10.9 0 6.9 0 -7.6 0.1 -6.2 0 3.2 0 4.8 0 3.6 0.1 5.1 0 -7.9 0 -1.7 0 -4.4 0.1 5.5 0 1.6 0 -10.6 0 15.3 0.1 -0.8 0 4.1 0 -13.6 0 4.4 0.1 -0.1 0 -6.3 0 2.3 0 -0.7 0.1 7 0 -0.4 0 4.3 0 -8.2 0.1 -4.6 0 8.5 0 -0.3 0 1.4 0.1 2.7 0 -8.6 0 6.5 0 -8.4 0.1 5.4 0 2.5 0 -3.8 0 1.6 0.1 -7.6 0 3.5 0 3.7 0 -6.3 0.1 1.6 0 13.4 0 -8.2 0 -5 0.1 -1 0 11.2 0 -15.6 0 7.4 0.1 4.4 0 -5.5 0 5 0 -7.4 0.1 4.8 0 0.3 0 -0.2 0 0.6 0.1 -0.5 0 5 0 -6.4 0 -1.5 0.1 1.4 0 -0.1 0 -5.7 0 -1.6 0.1 2.4 0 7.6 0 -4.5 0 1.2 0.1 11.8 0 -4.6 0 -6.3 0 -1.9 0.1 9.3 0 -10 0 9.4 0 -3.1 0.1 3.7 0 -9.8 0 7.6 0 -12.7 0.1 7.7 0 5.8 0 -1.8 0 -11.8 0.1 11.7 0 -1 0 -2.5 0 -3 0.1 2 0 -1.4 0 7.1 0 -2.2 0.1 2.8 0 -1.8 0 -9.2 0 6.6 0.1 9.3 0 -15.1 0 6.5 0 -5 0.1 -0.5 0 5.1 0 3.3 0 -0.7 0.1 -1.4 0 2.3 0 -12 0 11.3 0.1 -1.9 0 -2.7 0 0.8 0 -4 0.1 9.4 0 -8.9 0 -3.4 0 6.9 0.1 -2.7 0 2.4 0 7.3 0 -7.7 0.1 1.3 0 9.3 0 -16.5 0 8.3 0.1 3.7 0 1.6 0 2.9 0 -13 0.1 5.9 0 -3.3 0 -1.6 0 -1.3 0.1 -3.4 0 8.4 0 1.9 0 -8.5 0.1 8.6 0 -6.2 0 -2.1 0 -4 0.1 13.9 0 -1.8 0 -4.8 0 -0.4 0.1 -4.3 0 8.5 0 -2.7 0 2.9 0.1 -1.7 0 -7.4 0 -0.7 0 9.2 0.1 -9.8 0 9.2 0 2.9 0 -10.2 0.1 9.2 0 -3 0 2.4 0 -5.5 0.1 2.9 0 2.1 0 6.6 0 -5.1 0.1 -1.1 0 -8.4 0 7.7 0 -4.8 0.1 2.9 0 1.6 0 3.3 0 -1.8 0.1 -1.9 0 -1.1 0 6.6 0 -10.5 0.1 4.4 0 6.3 0 -7.4 0 4.8 0.1 0.3 0 5.1 0 -4 0 -13 0.1 7.7 0 1.4 0 2.5 0 -2.1 0.1 7 0 -3.7 0 -10.7 0 2.6 0.1 -6.1 0 17.1 0 -8.7 0 -0.1 0.1 -6.8 0 5.3 0 4 0 -3.9 0.1 0 0 -1.1 0 12.2 0 -11.9 0.1 -4.3 0 4.4 0 0.7 0 1.2 0.1 -0.7 0 -4.2 0 4.3 0 2.8 0.1 -8.4 0 15.9 0 -1.3 0 -16.5 0.1 6.7 0 6.5 0 1.6 0 2.1 0.1 -16.9 0 3.2 0 2.8 0 5 0.1 -7.6 0 7.1 0 0.1 0 1.3 0.1 -9.5 0 7 0 -0.5 0 -2.3 0.1 8.1 0 -7.5 0 8.3 0 -9.7 0.1 10.9 0 -0.2 0 -11.7 0 5.5 0.1 -0.1 0 -6.1 0 8.4 0 -0.9 0.1 -6.9 0 4.6 0 3.7 0 -4.9 0.1 -2.6 0 11.1 0 -12.4 0 6.3 0.1 3.7 0 -1.6 0 -12.4 0 7.1 0.1 1 0 -0.4 0 4 0 -0.4 0.1 -1.9 0 0.6 0 3.5 0 1.2 0.1 -14.9 0 18.5 0 -12.1 0 6.3 0.1 -11.4 0 5.3 0 -3.5 0 11 0.1 -0.9 0 -4.2 0 -0.8 0 2.6 0.1 -6.3 0 1.6 0 -0.8 0 7.5 0.1 -3.7 0 -6.2 0 7.7 0 0.8 0.1 4.1 0 -9.2 0 4.5 0 7.5 0.1 -11 0 -0.1 0 4.1 0 -4.8 0.1 2.3 0 -2.4 0 -1.3 0 7.8 0.1 -5.9 0 -3 0 3.4 0 0.7 0.1 2.1 0 2.9 0 4 0 -14.2 0.1 4.6 0 -7.4 0 9.6 0 1.4 0.1 -5.6 0 -1.2 0 -0.4 0 -2.4 0.1 10 0 6 0 -14.4 0 13.1 0.1 -8.3 0 -6 0 9.2 0 0.9 0.1 -1.8 0 -3.1 0 9.1 0 -9.2 0.1 4.3 0 0 0 -7.2 0 -4.6 0.1 0.6 0 6.2 0 3.6 0 -10.1 0.1 5 0 10.6 0 -15.7 0 10.6 0.1 -0.5 0 2 0 -10.7 0 8.6 0.1 -8.2 0 12.8 0 -10.4 0 5.9 0.1 -5.6 0 4.4 0 -7.9 0 8.6 0.1 1.5 0 -2.9 0 7.6 0 -5.8 0.1 1.9 0 -1.3 0 6.4 0 -11.9 0.1 1.8 0 0.2 0 4 0 -1.7 0.1 2.7 0 -2.5 0 -3.9 0 2.2 0.1 2.3 0 -10.9 0 15.4 0 -9.2 0.1 1 0 2.9 0 -2.4 0 -5.7 0.1 5.8 0 7.6 0 -1.6 0 0.9 0.1 -8.5 0 1.6 0 6 0 2.1 0.1 -6.9 0 -4.7 0 -4.5 0 15.8 0.1 -13.9 0 9.2 0 2.2 0 5.2 0.1 -8.5 0 -1.5 0 2.8 0 0.2 0.1 4 0 -3.1 0 -7 0 -5.6 0.1 10.7 0 -4.6 0 9.9 0 -13 0.1 7.2 0 -4.4 0 -0.7 0 12.1 0.1 -7.2 0 -1.6 0 4.4 0 -7.3 0.1 1.9 0 -1.3 0 12.4 0 -7.7 0.1 1.4 0 2.3 0 -6.2 0 0.1 0.1 -7.1 0 10.1 0 -1.1 0 -3.2 0.1 7.8 0 -14.4 0 10.6 0 -8.7 0.1 1.1 0 4.5 0 7.4 0 -12.1 0.1 0.9 0 -1.1 0 15.2 0 -6.8 0.1 -0.6 0 7.3 0 -8.1 0 -10.5 0.1 6.9 0 -3.4 0 15.1 0 -16.2 0.1 8.3 0 -3.9 0 0.3 0 2.2 0.1 -0.7 0 -2.7 0 -2.7 0 2.8 0.1 -1.9 0 0.7 0 4.9 0 -1.3 0.1 3 0 -3.5 0 10.5 0 -12.9 0.1 -1.3 0 9.8 0 -8.4 0 4 0.1 4.1 0 -5.2 0 -1.2 0 6.4 0.1 -3.1 0 -4.2 0 -3.2 0 3.9 0.1 -6.2 0 3.8 0 -1.1 0 6.7 0.1 2.3 0 -6.9 0 1 0 -3.2 0.1 -1.4 0 4.6 0 4.8 0 -0.5 0.1 0.6 0 -4.2 0 -7.9 0 13.7 0.1 1.9 0 -2 0 0 0 1 0.1 4.1 0 -7.8 0 6 0 -3.5 0.1 -0.6 0 -3.9 0 -1 0 -3.8 0.1 8.3 0 -4.3 0 -4.2 0 2.1 0.1 -2 0 13.5 0 -8.9 0 1.7 0.1 -6.3 0 0.9 0 10.1 0 -6.2 0.1 2.2 0 7.9 0 0.4 0 -5.9 0.1 -1 0 -1.1 0 -2.5 0 10.7 0.1 -15.2 0 5.5 0 -8.8 0 3.2 0.1 8.1 0 0.3 0 -0.6 0 -3.1 0.1 -1.9 0 0.9 0 0.8 0 7.1 0.1 1.8 0 -4.9 0 -4.7 0 -1.9 0.1 6.1 0 -2.6 0 -7.7 0 15.5 0.1 -6.6 0 -1.5 0 -2.6 0 0 0.1 8.6 0 -8.9 0 5.1 0 2.6 0.1 5.9 0 -6 0 -3.1 0 -1.9 0.1 6.3 0 0.8 0 -6.9 0 4.9 0.1 -3.5 0 -7.1 0 3 0 8.8 0.1 3.1 0 -3.7 0 -4.2 0 -2.5 0.1 6.1 0 -1 0 -9.3 0 11 0.1 -6.6 0 6.7 0 -0.6 0 0.9 0.1 1.7 0 -1.7 0 -8.5 0 0.2 0.1 10 0 -2.7 0 -9.9 0 -1.6 0.1 13.6 0 5 0 -5.2 0 -5.2 0.1 2.5 0 -10.6 0 4.6 0 9.7 0.1 -0.7 0 -13.4 0 15 0 -3.1 0.1 2 0 -5.5 0 1 0 -5.2 0.1 6.8 0 2.8 0 -8.8 0 6.3 0.1 -4.3 0 7.7 0 -0.3 0 -14 0.1 11.5 0 2.8 0 -7.6 0 1.7 0.1 0.3 0 -4.8 0 5 0 8 0.1 -5.2 0 5.1 0 -2.6 0 1 0.1 -5.3 0 3.2 0 5.5 0 -2.2 0.1 -5.6 0 -4.9 0 -1.1 0 5.6 0.1 0.9 0 -11 0 9.9 0 0.6 0.1 -0.2 0 -4.1 0 11.9 0 -5.1 0.1 -10.8 0 3.1 0 7.3 0 -1.4 0.1 -1.9 0 -0.8 0 -0.9 0 -1.1 0.1 -2.9 0 7.8 0 -12.1 0 5.7 0.1 9.5 0 -9.8 0 -2 0 14.8 0.1 -4.1 0 -5.8 0 -2.1 0 1.7 0.1 -0.6 0 0.5 0 -2.4 0 6.1 0.1 -5.3 0 -6.1 0 2.5 0 6.2 0.1 -4.9 0 -4.2 0 16.3 0 -4.9 0.1 -4.7 0 -0.3 0 5 0 4.1 0.1 -9.6 0 4.9 0 -5 0 4.6 0.1 -7.1 0 -3.4 0 9.3 0 -0.8 0.1 3.8 0 -6.7 0 9.8 0 -6.2 0.1 7 0 -9.1 0 8.9 0 -7.6 0.1 0.9 0 4 0 -13.2 0 3.4 0.1 13.9 0 -16.1 0 4.9 0 5 0.1 4.4 0 -9.5 0 3 0 -6.1 0.1 3.6 0 6.8 0 -3.4 0 -1.7 0.1 2.2 0 -1.4 0 0.1 0 -2.5 0.1 -3 0 7.9 0 -8.8 0 10.5 0.1 4.6 0 -2.3 0 2.3 0 -14.6 0.1 6.2 0 -5.2 0 0.4 0 -4.7 0.1 2.4 0 10 0 -0.8 0 2.4 0.1 -0.4 0 -1.6 0 -7.6 0 3.3 0.1 4 0 2.5 0 -7.8 0 -0.6 0.1 0.3 0 9.7 0 -4.9 0 -4.3 0.1 -2.2 0 5.8 0 -10.2 0 7 0.1 -1.7 0 -0.1 0 3.7 0 1 0.1 7.4 0 -8.9 0 2.8 0 -7.2 0.1 -4.1 0 13.4 0 3.8 0 -14.1 0.1 4.4 0 5.7 0 -4.9 0 -9.8 0.1 14.1 0 -5.5 0 4.1 0 -8.1 0.1 8.8 0 0.7 0 -8.4 0 5.8 0.1 -5.5 0 0.6 0 -1.9 0 2.2 0.1 -1.2 0 8.8 0 -6.7 0 -4.3 0.1 11.9 0 -4 0 2.1 0 -5 0.1 3.6 0 -3.8 0 -4.1 0 5 0.1 0.2 0 -0.1 0 3.3 0 -12.3 0.1 9.7 0 -5.3 0 2.5 0 3.4 0.1 -1.8 0 -3.5 0 6.8 0 -3.9 0.1 4.7 0 1.4 0 -7.6 0 -3.6 0.1 5.6 0 3.5 0 -2.4 0 -7.1 0.1 -2.5 0 3.5 0 0 0 7.4 0.1 -2.6 0 3.8 0 -4.6 0 8.3 0.1 -7.9 0 2.6 0 -4.6 0 4 0.1 3 0 -1.5 0 2.4 0 -9 0.1 5.1 0 5.9 0 -7 0 -2 0.1 -0.3 0 -1.4 0 3.1 0 5.9 0.1 -4.5 0 -2.3 0 -3.6 0 -1.7 0.1 14.3 0 -11.2 0 2.7 0 -2.8 0.1 3 0 -2.8 0 2.5 0 6.3 0.1 -10.4 0 6 0 -2.9 0 3.7 0.1 -6.7 0 5.1 0 -6.6 0 -4 0.1 2.4 0 1.7 0 -0.9 0 3.7 0.1 6.7 0 -10.6 0 7.4 0 -1.4 0.1 -4.1 0 -1.1 0 6.4 0 0.3 0.1 -3.9 0 0.9 0 0.7 0 -6.1 0.1 6.7 0 0.9 0 6.9 0 -14.3 0.1 1.9 0 4.5 0 -3.1 0 0.9 0.1 1.9 0 -1.4 0 1.3 0 2.2 0.1 -9.6 0 10.2 0 -11.9 0 17.3 0.1 -3.6 0 -7.2 0 7.6 0 -5.4 0.1 2.7 0 1.6 0 -1.9 0 -1.6 0.1 2.9 0 -3.8 0 -0.8 0 -2.7 0.1 -4 0 15.9 0 -3.7 0 -10.2 0.1 8.4 0 -0.9 0 -10.3 0 5.5 0.1 3.4 0 8.6 0 -2.9 0 0.8 0.1 -4.4 0 3.2 0 -10.1 0 8.3 0.1 0.6 0 -9.3 0 7.1 0 5.9 0.1 2 0 -2.4 0 -9.9 0 2.9 0.1 -2 0 8.2 0 -9.6 0 -1 0.1 -2.6 0 8.5 0 1.1 0 -4.8 0.1 -0.7 0 2.7 0 7.1 0 -12.5 0.1 6.1 0 1.2 0 0.8 0 4.1 0.1 -2 0 -2.5 0 5.5 0 -1.4 0.1 -4 0 -0.2 0 -6.6 0 6.1 0.1 -4.2 0 -1.7 0 4.1 0 -6.8 0.1 3.9 0 1.8 0 3.9 0 -3 0.1 3.3 0 5.6 0 -3.6 0 -9.2 0.1 -2.9 0 4 0 0.2 0 -5.1 0.1 1.2 0 0 0 5.2 0 9.4 0.1 1.3 0 -12.7 0 2.6 0 -4.3 0.1 -1.2 0 7.2 0 0.6 0 -3.2 0.1 5.9 0 -4.5 0 6.6 0 -7.4 0.1 6.3 0 -4.9 0 1.5 0 2.4 0.1 -9.2 0 2.8 0 3.2 0 -1 0.1 2.5 0 -5 0 -2.4 0 5.7 0.1 1.9 0 -5.1 0 9.4 0 -2.4 0.1 0.7 0 -0.2 0 -7.6 0 13.6 0.1 -12.9 0 5.1 0 1.7 0 -1.8 0.1 -0.6 0 -4.6 0 2 0 2 0.1 6 0 -9.1 0 6.3 0 -1.1 0.1 -1.6 0 -2.9 0 1.9 0 -7.3 0.1 8.5 0 1.1 0 -3.9 0 4.9 0.1 -0.9 0 -4.9 0 7.3 0 -6.3 0.1 11.4 0 -13.7 0 1.1 0 0.8 0.1 4.1 0 4.3 0 -5 0 -2.3 0.1 10.7 0 -4.1 0 -6 0 0.8 0.1 -6.6 0 7.3 0 7.8 0 -13.4 0.1 -1.2 0 7.2 0 -10.2 0 16.1 0.1 -13.5 0 3.6 0 2.6 0 6.4 0.1 -3.8 0 -10.7 0 1 0 8.8 0.1 -10.4 0 8 0 -2.5 0 7.6 0.1 1.8 0 -14.9 0 11.3 0 1 0.1 -6.5 0 0.7 0 -2.8 0 4 0.1 3.5 0 4.3 0 0.5 0 -8 0.1 -2.6 0 8.6 0 -13.8 0 2.6 0.1 9.5 0 6.5 0 -13.1 0 4.1 0.1 -5.6 0 4.8 0 0 0 -3.1 0.1 5.3 0 -2.6 0 3.2 0 -3.3 0.1 -4.6 0 6.3 0 3.3 0 -7.6 0.1 9.9 0 -4.1 0 -3.8 0 1.9 0.1 -2.1 0 -2.2 0 8.4 0 0 0.1 -6.3 0 1.3 0 -0.2 0 4.3 0.1 3.6 0 -9.9 0 4.5 0 -1.5 0.1 2.7 0 4.1 0 -10.7 0 -5.3 0.1 8.5 0 -6.7 0 15.3 0 -11.1 0.1 2 0 2.4 0 -0.2 0 -2.9 0.1 1.9 0 4.4 0 -5.8 0 10 0.1 -6.9 0 -11.1 0 13.5 0 -12.3 0.1 9.8 0 7.6 0 -4.2 0 -10.3 0.1 1.5 0 3.8 0 6.7 0 -10.2 0.1 8.6 0 -3.8 0 -1.9 0 -0.3 0.1 8.6 0 -14.9 0 1.8 0 9.4 0.1 0.4 0 -10.7 0 1.8 0 -1.1 0.1 7.9 0 -5.6 0 9.7 0 -3.1 0.1 -2.4 0 -0.3 0 1.6 0 1.4 0.1 -3.9 0 1.1 0 2.5 0 -4 0.1 4.9 0 -5.3 0 -2.9 0 4.4 0.1 6.8 0 -0.7 0 -14.5 0 8.9 0.1 -3.8 0 0.8 0 -0.1 0 0.5 0.1 -1.4 0 1.1 0 2.4 0 -6.7 0.1 -0.2 0 0.6 0 -0.1 0 8 0.1 -7.9 0 4.7 0 0.7 0 3 0.1 -3.2 0 4.8 0 -5.2 0 1.4 0.1 2.3 0 -10.3 0 8.6 0 5.2 0.1 -6.5 0 -1.7 0 10 0 -8.4 0.1 5.2 0 -15 0 9.8 0 -2.9 0.1 4.1 0 3.7 0 -6.2 0 -0.3 0.1 -8.3 0 12.9 0 2.6 0 -5.5 0.1 -3 0 3.9 0 3.1 0 -1.8 0.1 6.3 0 -11.9 0 -3.7 0 8.5 0.1 3.7 0 -8.1 0 2.1 0 -3 0.1 -2.9 0 2.5 0 -5.9 0 10.5 0.1 0.9 0 1.9 0 -8 0 0.9 0.1 -4.9 0 1.1 0 10.9 0 5.2 0.1 -14.3 0 3.1 0 6.1 0 -7.5 0.1 5.9 0 -4.1 0 0 0 5.6 0.1 -5.4 0 -4.7 0 9.7 0 -3.7 0.1 -2.7 0 -1.2 0 6.4 0 -6 0.1 3.9 0 4.1 0 -5.2 0 5.6 0.1 -11.5 0 9.2 0 -0.3 0 6.2 0.1 -8.6 0 4.1 0 -4.9 0 -4.2 0.1 0.8 0 0.8 0 6.9 0 -7.3 0.1 3.9 0 3.9 0 1.6 0 -1.4 0.1 2.6 0 -12.2 0 3 0 3.7 0.1 3.7 0 -2.8 0 -5.9 0 2.6 0.1 -6.8 0 11.5 0 -12.1 0 9.3 0.1 4 0 -0.8 0 -11.7 0 8.5 0.1 -2.6 0 0.2 0 9 0 -6.3 0.1 -8 0 1.6 0 8.3 0 -2.2 0.1 -6.4 0 -2.5 0 5.2 0 0.5 0.1 5.9 0 -6.7 0 6 0 2.5 0.1 -13.1 0 4.7 0 9.9 0 -9.3 0.1 2 0 4.6 0 -8.1 0 1.6 0.1 -5.8 0 10.3 0 -4.9 0 0.6 0.1 -7.5 0 13.7 0 -1.3 0 -7 0.1 9.4 0 -14.8 0 8.8 0 -7.6 0.1 17.4 0 -18.6 0 3.3 0 2.2 0.1 7.2 0 0.1 0 -2 0 -3 0.1 10.7 0 -12.9 0 4.8 0 6.7 0.1 -14 0 2 0 8.9 0 -3 0.1 -8.3 0 6.3 0 8.8 0 -10.2 0.1 5 0 -3.2 0 -3.8 0 10.7 0.1 -3 0 1.1 0 -6.3 0 1.2 0.1 0.5 0 1 0 -3.7 0 -0.7 0.1 8.4 0 -11.2 0 3 0 0.3 0.1 -0.6 0 -3.3 0 2.1 0 7.3 0.1 -5.4 0 -1.8 0 11.2 0 -14 0.1 11.1 0 -3.2 0 -8 0 4.4 0.1 0.1 0 7.8 0 -1.8 0 -5.5 0.1 -4.2 0 -2.5 0 7.1 0 -5.7 0.1 5.7 0 -0.1 0 2.7 0 2.9 0.1 -4.2 0 1.7 0 -3 0 5.6 0.1 -1 0 3.6 0 -1 0 -9.9 0.1 -3.4 0 9.8 0 2.4 0 -8.5 0.1 10.1 0 -6.5 0 -0.9 0 2 0.1 -8.2 0 -1.1 0 6 0 -3.9 0.1 5.4 0 0.1 0 -8.8 0 5 0.1 6.2 0 -11.3 0 7.2 0 -4.7 0.1 -2.5 0 13.9 0 -0.1 0 -7.1 0.1 -0.3 0 8.8 0 -0.9 0 -5.7 0.1 4.1 0 -3.6 0 -1.9 0 4.3 0.1 -4.9 0 4.8 0 -4 0 -0.9 0.1 -0.6 0 4.8 0 2.2 0 -2.4 0.1 -6 0 6.9 0 -7.1 0 -1 0.1 4.3 0 4.7 0 -0.6 0 -0.6 0.1 3.8 0 -2.4 0 -5.6 0 5.3 0.1 -4.9 0 3.1 0 0.9 0 -3.1 0.1 -6.5 0 6.2 0 -0.7 0 0.9 0.1 -1.5 0 -3.2 0 -2.2 0 10.5 0.1 0.6 0 -1.9 0 -2 0 9.3 0.1 -6 0 -3 0 3.8 0 -4.2 0.1 3.6 0 -2 0 1.2 0 -2.2 0.1 -2.3 0 4.4 0 2.8 0 -9.4 0.1 1.8 0 -2.6 0 9.1 0 -5 0.1 5.2 0 -7.8 0 7.5 0 -6.4 0.1 0.5 0 4.7 0 -4.3 0 -0.9 0.1 6.9 0 -4.4 0 6.1 0 3.8 0.1 -12.1 0 1.1 0 -5.5 0 1.6 0.1 8.3 0 -1.4 0 -0.1 0 0.9 0.1 -6 0 -3.8 0 12.8 0 -3.9 0.1 4.2 0 -5.4 0 3.7 0 -5.9 0.1 2.4 0 -0.7 0 2.5 0 4.8 0.1 -3.5 0 -12.1 0 8.7 0 0.6 0.1 3.7 0 -3.1 0 -3.8 0 -0.4 0.1 2.1 0 -1.7 0 9.9 0 -3.8 0.1 -2.5 0 4.3 0 5 0 -10.4 0.1 0.9 0 -1.3 0 -4.2 0 2.8 0.1 -1.4 0 6.5 0 -0.1 0 2 0.1 -7.5 0 8.1 0 -9 0 3.7 0.1 6.8 0 -0.3 0 -0.6 0 4.4 0.1 -4.5 0 -6 0 0.2 0 -2.5 0.1 4.7 0 -4.6 0 0.7 0 -1.7 0.1 -3.2 0 17.2 0 -5.3 0 -13.3 0.1 11.3 0 -4.5 0 -6.7 0 8.3 0.1 2 0 1.7 0 2.4 0 -8.9 0.1 3.7 0 3.3 0 -0.5 0 -0.7 0.1 -1.3 0 5.2 0 -11.4 0 -1.1 0.1 14.9 0 -6 0 3.2 0 -4 0.1 -2.7 0 -0.4 0 2.8 0 -2.8 0.1 1.9 0 0 0 4.2 0 -0.1 0.1 3.7 0 -10.6 0 3.1 0 4.7 0.1 -2.8 0 -11 0 11.2 0 -1.7 0.1 -2.1 0 0.3 0 -1.4 0 8.7 0.1 -2.1 0 -2.2 0 4.2 0 -0.9 0.1 -8.1 0 -1 0 0.1 0 8.1 0.1 -3.5 0 5.6 0 -3.2 0 -3.3 0.1 -4.9 0 4.5 0 10.1 0 -12 0.1 -0.7 0 2.8 0 7.1 0 -6.4 0.1 -4.9 0 2.3 0 2.1 0 1 0.1 4.2 0 4.2 0 -2.7 0 -3.3 0.1 -3.1 0 -3.6 0 6.3 0 3.2 0.1 -2.1 0 -4.4 0 3.6 0 -4.1 0.1 0.3 0 -0.4 0 1.4 0 -0.8 0.1 5 0 -4.7 0 -0.5 0 5.2 0.1 -1.6 0 1.9 0 -8.6 0 9.4 0.1 -6.1 0 -4.8 0 4.1 0 -5 0.1 1.1 0 2.6 0 6.1 0 -10.4 0.1 7.3 0 -2.5 0 8.2 0 -6.2 0.1 1.8 0 3.6 0 -11.4 0 3.4 0.1 -5.2 0 2.9 0 5.2 0 -2.3 0.1 2.6 0 -3.7 0 -1.4 0 2.5 0.1 -3.4 0 -1.1 0 -2.2 0 6.5 0.1 2.5 0 -7.5 0 3.3 0 -7.2 0.1 3.8 0 5.6 0 -6.2 0 7.8 0.1 -3.8 0 3.4 0 -4.2 0 -4 0.1 6.3 0 3.3 0 -5.6 0 4 0.1 -4.9 0 1.6 0 7.1 0 -5.7 0.1 -4.2 0 6.7 0 -2.3 0 -2.6 0.1 5.5 0 -12.2 0 11.6 0 5.9 0.1 -7.2 0 -9.9 0 14.6 0 3.4 0.1 -7 0 -7.4 0 1.8 0 2.4 0.1 1.4 0 4.4 0 -2.8 0 -11.6 0.1 7.7 0 0.7 0 9 0 -11 0.1 -3.7 0 4.8 0 2.7 0 -9.5 0.1 13.2 0 -5.5 0 4.4 0 -0.6 0.1 -0.7 0 4 0 1.2 0 -9.3 0.1 1.5 0 5.1 0 -4 0 -3.3 0.1 3.1 0 -4.2 0 1.6 0 -6.9 0.1 9.8 0 7.8 0 -5 0 -0.1 0.1 -2.3 0 -4.2 0 5.7 0 -2 0.1 -0.8 0 1.7 0 -3.6 0 3.2 0.1 2.4 0 1.6 0 -3.8 0 3 0.1 -2.8 0 -10.1 0 0.6 0 7.8 0.1 -4.1 0 7.7 0 -8.5 0 4.1 0.1 -0.6 0 -0.8 0 0.7 0 2.6 0.1 0.5 0 -2.7 0 3.2 0 1.6 0.1 -3.2 0 -2.2 0 0 0 1 0.1 -0.2 0 2.8 0 9 0 -4.2 0.1 -4.9 0 2.5 0 0.1 0 3.1 0.1 0.7 0 -10.8 0 13.7 0 -13.1 0.1 4.3 0 -4.1 0 -3.9 0 -0.4 0.1 17.1 0 -2.1 0 -11.2 0 -0.6 0.1 11.9 0 -11.1 0 6.5 0 7.1 0.1 -5.7 0 3.4 0 -5.8 0 -8.7 0.1 4.1 0 -4.4 0 9.6 0 -7.4 0.1 6.5 0 -2.8 0 -0.9 0 5.5 0.1 -4.4 0 -1.6 0 8.3 0 -4.7 0.1 -6.5 0 12.2 0 -11.9 0 7.5 0.1 1.4 0 -3.6 0 -2.5 0 2.3 0.1 -0.1 0 -3.4 0 9 0 -6.7 0.1 -0.5 0 9.6 0 -9.6 0 -3.6 0.1 6.7 0 0.4 0 0.1 0 9.2 0.1 -11.8 0 8.7 0 -2.1 0 2.7 0.1 -7.1 0 -0.9 0 0.5 0 2.3 0.1 3 0 3.1 0 -15.7 0 13 0.1 -3.2 0 -1.5 0 -5 0 6.3 0.1 -10 0 14 0 -10 0 3.7 0.1 -0.2 0 3.4 0 -8.8 0 9.9 0.1 -2 0 5.2 0 -5.8 0 -2 0.1 -8.1 0 7 0 9.2 0 -9.7 0.1 -0.2 0 1.6 0 4.5 0 -12 0.1 16.3 0 -5.6 0 0.6 0 -3.4 0.1 9 0 -11 0 5.7 0 -3.3 0.1 -6.3 0 5.1 0 3.9 0 -4.6 0.1 -0.6 0 1.7 0 -3.9 0 -1.1 0.1 5.4 0 -4.7 0 6.9 0 0.6 0.1 2.6 0 -1.5 0 -5.7 0 3.1 0.1 -7.2 0 7.2 0 -4.3 0 8.5 0.1 -9.5 0 4 0 -4.3 0 6.3 0.1 0 0 -7.5 0 13.5 0 -6.7 0.1 -8.8 0 2.3 0 -4.3 0 -0.8 0.1 8.5 0 -8.8 0 11.1 0 -9.3 0.1 5.7 0 9.6 0 -9.5 0 1.4 0.1 5.8 0 -7.1 0 3.8 0 -6.2 0.1 2 0 2.3 0 -0.6 0 -3.6 0.1 4.5 0 1.7 0 0.1 0 -2.8 0.1 -4.5 0 7.4 0 0.8 0 -8.5 0.1 -4.9 0 8.5 0 5.5 0 -0.7 0.1 -9.5 0 11.5 0 -10.3 0 8.4 0.1 -6.3 0 6.4 0 -2.2 0 -3.4 0.1 4.3 0 -6.4 0 1.3 0 0.2 0.1 -2.5 0 8.2 0 0 0 -4.3 0.1 -4.5 0 6.5 0 -0.9 0 1.6 0.1 -3 0 -1 0 7.4 0 -9.2 0.1 2 0 -7.4 0 6.5 0 -0.5 0.1 0.7 0 4.2 0 -5.5 0 4.8 0.1 -3.7 0 -0.3 0 -6.5 0 10.4 0.1 1 0 -7.4 0 1.8 0 -5.6 0.1 6.6 0 -3.4 0 6.8 0 -2.4 0.1 3.3 0 -6.6 0 -3.9 0 7.4 0.1 -2.3 0 11 0 -7.3 0 5.5 0.1 -4.1 0 -3.9 0 -5.5 0 5.9 0.1 4 0 -2.5 0 1.2 0 -0.1 0.1 -7.5 0 7.5 0 -5.1 0 3.5 0.1 6.4 0 -15 0 7.6 0 2.8 0.1 3.4 0 -4.6 0 -4.1 0 7.4 0.1 -1 0 -10.7 0 8.4 0 -8.1 0.1 -1 0 4.3 0 0.3 0 -4.6 0.1 17.5 0 -14.6 0 7.8 0 1.6 0.1 6.3 0 -11.1 0 9 0 -12.6 0.1 5.1 0 -1.6 0 -2.8 0 6.2 0.1 7.3 0 0.6 0 -6.3 0 -8.3 0.1 1.5 0 6.5 0 -0.1 0 0 0.1 -3.9 0 -2.9 0 6.3 0 -2.2 0.1 6.7 0 -9.8 0 7.2 0 2.3 0.1 2.9 0 -0.1 0 -13.8 0 -0.7 0.1 6.2 0 -4.7 0 -5.2 0 16.1 0.1 -4.5 0 2.4 0 -3.9 0 4.6 0.1 -4.2 0 -0.5 0 8.2 0 -14.2 0.1 7.9 0 -9.9 0 14.3 0 -8 0.1 -4.5 0 -2.9 0 7.5 0 10.1 0.1 -6.8 0 -9.6 0 -2 0 18.6 0.1 -12 0 -4.2 0 7.6 0 2 0.1 4.7 0 -8.3 0 -2.4 0 6.5 0.1 -6.9 0 5.4 0 -0.8 0 3.8 0.1 -7.9 0 0.1 0 4.6 0 0.8 0.1 -9 0 3.1 0 4.6 0 -2.6 0.1 11.2 0 -6 0 2.5 0 -6.2 0.1 0.7 0 0.2 0 4.4 0 -6.4 0.1 8.9 0 -10.8 0 8.1 0 -3.4 0.1 -2.9 0 9.1 0 -2.8 0 -5.4 0.1 -2.8 0 7.5 0 -7.6 0 6.3 0.1 -6.7 0 4.7 0 -4.5 0 3.1 0.1 8.7 0 0.4 0 -10.3 0 0.9 0.1 -6.5 0 9.2 0 3.9 0 -9.2 0.1 -0.3 0 5.9 0 -4.3 0 3.6 0.1 6.4 0 -5.1 0 1 0 5.7 0.1 -7.6 0 2.1 0 -3 0 -3.8 0.1 11.1 0 -14 0 6.9 0 -5.8 0.1 1.6 0 -2.2 0 4.9 0 3.4 0.1 3.9 0 -14.9 0 9.9 0 -2.9 0.1 -1 0 2.3 0 1.5 0 -1.4 0.1 0.5 0 9.4 0 -8.8 0 1.1 0.1 -7 0 10.5 0 -7.5 0 2 0.1 -3.2 0 3.2 0 -3.9 0 -1.6 0.1 -0.5 0 4.7 0 1.9 0 3.3 0.1 4.4 0 0.9 0 -11.5 0 -0.4 0.1 6.9 0 -7.6 0 9.3 0 -0.3 0.1 -9.3 0 8 0 3.2 0 -4.5 0.1 -3.5 0 0.6 0 3 0 -5.6 0.1 5 0 -2.6 0 -2.3 0 -1.1 0.1 7.1 0 -6.7 0 5.2 0 -9.6 0.1 7.7 0 1.4 0 1.2 0 2.7 0.1 -1.9 0 0.2 0 -3.9 0 -3.5 0.1 -0.6 0 1.9 0 4.6 0 3.6 0.1 -3.1 0 -0.7 0 2.6 0 -5 0.1 2.3 0 -1.3 0 1.5 0 -2 0.1 -5 0 4.2 0 -2 0 11.8 0.1 -1.4 0 -9.5 0 -1.1 0 4 0.1 -7 0 12.7 0 -6 0 -2 0.1 7 0 1.1 0 -5.2 0 3.9 0.1 -12.3 0 4.1 0 -0.3 0 -3.6 0.1 11.4 0 5.2 0 -15.3 0 3.5 0.1 7.5 0 -6.3 0 1.3 0 -3.6 0.1 5.2 0 -6 0 7.9 0 -1 0.1 -0.7 0 -5.3 0 2.6 0 3.1 0.1 -6.3 0 -0.4 0 -4.8 0 6.9 0.1 1.7 0 5.1 0 -9.9 0 -1.2 0.1 12.2 0 -0.5 0 -10.2 0 2.9 0.1 -6.1 0 8.1 0 6.2 0 -2.3 0.1 -8.5 0 6.2 0 -4.6 0 4.7 0.1 -3.9 0 5.4" fill="none" stroke="#0072BD" stroke-width="0.45" stroke-opacity="1.0" stroke-linejoin="round"/><path d="M134.3 258l0.8 0 -4.5 0.1 2.5 0 1.2 0.1 0.3 0 -0.7 0 0.9 0.1 -1.3 0 0.3 0.1 -0.4 0 -1.3 0 0.3 0.1 1.2 0 -1 0.1 2 0 0 0 0.5 0.1 -1.9 0 1.5 0.1 -2.4 0 0.1 0 1 0.1 0.2 0 -2 0.1 -0.1 0 2.2 0 -1.3 0.1 2.1 0 -0.8 0.1 -0.1 0 -0.1 0 0.7 0.1 -1.1 0 1.3 0.1 -1.6 0 0.3 0 -0.5 0.1 1.3 0 -0.5 0.1 -1 0 3 0 -2.4 0.1 0.2 0 0.6 0.1 1.4 0 -2 0 0.9 0.1 -0.6 0 -1.7 0.1 2.4 0 0.2 0 -1.3 0.1 0.3 0 -1.6 0.1 0 0 1.2 0 1 0.1 -1.1 0 0.8 0.1 0.7 0 -0.9 0 0.5 0.1 0.9 0 -2.8 0.1 2.1 0 -2.7 0 2.4 0.1 -0.3 0 -0.7 0.1 -0.6 0 1.1 0 -0.4 0.1 0.5 0 -1 0.1 1.5 0 -1.6 0 0.7 0.1 -0.1 0 1.8 0.1 -2.9 0 1.1 0 1.7 0.1 -1.9 0 -0.6 0.1 1.6 0 -0.6 0 1.1 0.1 -1.8 0 1.2 0.1 0.5 0 0.4 0 -2.3 0.1 2.7 0 -2.4 0.1 -0.7 0 0.6 0 1.2 0.1 -0.5 0 0.8 0.1 0 0 -0.1 0 -0.6 0.1 2.1 0 -4.2 0.1 0.5 0 1.3 0 -0.8 0.1 -1.3 0 1.8 0.1 0.1 0 -1.8 0 3.5 0.1 0.4 0 -0.1 0.1 -1.8 0 0.7 0 -1.3 0.1 1.4 0 -0.9 0.1 1.1 0 -0.8 0 1.5 0.1 -0.2 0 0.4 0.1 -3 0 -0.2 0 2.3 0.1 -1 0 1 0.1 -0.1 0 -0.1 0 0.8 0.1 -0.4 0 -0.1 0.1 -1.4 0 2.7 0 -1.6 0.1 1 0 -0.8 0.1 1 0 -1.2 0 0.1 0.1 -0.1 0 -0.9 0.1 0.2 0 0.4 0 0 0.1 -0.8 0 3.4 0.1 -3.4 0 0.7 0 2.8 0.1 -3.2 0 1.5 0.1 -0.1 0 -0.9 0 -1.3 0.1 -0.1 0 1.6 0.1 0.4 0 -2.6 0 2.4 0.1 -0.9 0 1.7 0.1 -0.8 0 -1 0 0.4 0.1 0.5 0 1.3 0.1 1.8 0 -2.8 0 -0.2 0.1 0.6 0 -0.7 0.1 0.7 0 -0.2 0 -0.4 0.1 -0.9 0 1 0.1 0.8 0 -0.8 0 1.5 0.1 -0.6 0 -1.1 0.1 1.9 0 -3 0 2.4 0.1 0.7 0 -2.2 0.1 0.2 0 1.1 0 0.5 0.1 -1 0 -0.2 0.1 0.7 0 -0.7 0 -1.5 0.1 1.1 0 0.1 0.1 -1.5 0 2 0 -1.2 0.1 1.5 0 -2.3 0.1 0.6 0 -0.5 0 2.8 0.1 0 0 0.2 0.1 0 0 -0.6 0 0 0.1 -2.7 0 2.1 0.1 -0.8 0 0.2 0 -1 0.1 2.7 0 -1.2 0.1 -1.7 0 2.1 0 -0.7 0.1 -1 0 0.8 0.1 -0.5 0 -1.6 0 0.8 0.1 2.1 0 -0.2 0.1 -0.1 0 -1.5 0 0.6 0.1 0.7 0 0.7 0.1 -1.6 0 -0.2 0 2.2 0.1 -1.1 0 -0.4 0.1 -0.4 0 0.1 0 2.3 0.1 -0.6 0 -1.5 0.1 -0.8 0 3 0 -0.1 0.1 -0.4 0 -0.3 0.1 -2.9 0 0.7 0 1.9 0.1 -0.9 0 0.6 0.1 -0.8 0 -0.2 0 1.3 0.1 -1 0 0.4 0.1 0.3 0 0 0 0.9 0.1 0.3 0 -2.9 0.1 1.2 0 -0.4 0 1.4 0.1 -1.9 0 2 0.1 -0.1 0 -0.1 0 -1.7 0.1 0.8 0 -0.9 0.1 1.6 0 0.6 0 -2.6 0.1 0.7 0 0.7 0.1 -0.4 0 2.1 0 -1.7 0.1 0.4 0 -1.4 0.1 2.8 0 -1.4 0 0.6 0.1 -0.7 0 -2.3 0.1 0.5 0 0.4 0 1.8 0.1 -1 0 1 0.1 -0.2 0 0 0 0.7 0.1 -0.8 0 -1.9 0.1 1 0 2.5 0 -2.9 0.1 2.6 0 0.3 0.1 -2.4 0 1 0 -1.8 0.1 2.3 0 -1.7 0.1 -0.5 0 1 0 -0.1 0.1 -0.1 0 0.8 0.1 -0.4 0 -0.5 0 1.7 0.1 1.5 0 -2.4 0.1 -0.8 0 -0.3 0 1.6 0.1 -0.9 0 0.3 0.1 -2.1 0 0.9 0 0 0.1 2.2 0 -1.3 0.1 -2.3 0 3.1 0 0.7 0.1 0.2 0 -4.3 0.1 3.1 0 0.7 0 -0.2 0.1 -0.9 0 -1.6 0.1 1.4 0 0.1 0 0.9 0.1 0.1 0 -0.9 0.1 1.1 0 -1.9 0 0.3 0.1 0.7 0 0.7 0.1 -1 0 1.6 0 -0.8 0.1 -1.4 0 1.1 0.1 -1 0 -0.1 0 -0.5 0.1 2.9 0 -0.5 0.1 -2.6 0 2.9 0 -0.2 0.1 -1.4 0 0.9 0.1 1.8 0 -2 0 0.2 0.1 0.7 0 -2.3 0.1 -0.2 0 -0.1 0 1.3 0.1 1 0 -1.8 0.1 -0.5 0 1.7 0 -0.6 0.1 1 0 -0.8 0.1 0 0 0.1 0 0.1 0.1 -1 0 -0.2 0.1 2.9 0 1.5 0 -2 0.1 -2.9 0 1.8 0.1 1.2 0 -3 0 1.2 0.1 0.1 0 -0.5 0.1 0.1 0 1.9 0 -1.5 0.1 0.2 0 2 0.1 -2.6 0 -1.1 0 2.6 0.1 1.5 0 -1.9 0.1 0.1 0 -1.7 0 0.4 0.1 2.5 0 -0.2 0.1 -0.7 0 -1.3 0 -0.6 0.1 0.2 0 -0.1 0.1 1.8 0 -1.4 0 0.3 0.1 1.2 0 0 0.1 -0.7 0 0.5 0 -0.5 0.1 -2 0 1.9 0.1 -0.4 0 0.1 0 0.6 0.1 -0.8 0 1.9 0.1 -1.5 0 0.4 0 0.1 0.1 -0.5 0 0.9 0.1 0.1 0 -0.1 0 -1.4 0.1 -0.2 0 0.3 0.1 0.6 0 -2 0 1.1 0.1 -0.3 0 0.5 0.1 -0.3 0 1.8 0 -0.3 0.1 0.5 0 -2 0.1 0.2 0 0.5 0 2 0.1 0.1 0 -2.4 0.1 1.3 0 1.6 0 -3.3 0.1 0.8 0 1.6 0.1 -0.6 0 -1.8 0 2.6 0.1 -0.5 0 -0.3 0.1 -2 0 1.1 0 1.5 0.1 -0.8 0 0.3 0.1 -1.1 0 1.9 0 -1.9 0.1 1.3 0 -0.7 0.1 -1.3 0 2.5 0 -2.8 0.1 0.5 0 1 0.1 -1.7 0 -0.4 0 1.8 0.1 -0.3 0 0.1 0.1 0.8 0 1.9 0 -2.8 0.1 3 0 -2.3 0.1 -0.4 0 -2.7 0 1.2 0.1 1.9 0 0.3 0.1 -1.4 0 1.1 0 0.7 0.1 -1.6 0 -1.1 0.1 0.7 0 0.7 0 0.6 0.1 0.5 0 -1.7 0.1 1 0 -0.3 0 0.3 0.1 1.1 0 0.2 0.1 -1.8 0 -0.2 0 -0.1 0.1 0.2 0 0.1 0.1 0.3 0 -0.4 0 -0.5 0.1 -0.1 0 1.2 0.1 2.5 0 -1.9 0 0.1 0.1 -0.3 0 -0.6 0.1 2.3 0 -2.4 0 -0.7 0.1 -0.3 0 1.5 0.1 -1.2 0 0.1 0 0 0.1 -0.4 0 1.5 0.1 -1.9 0 4.1 0 -5.2 0.1 1.4 0 1.5 0.1 0.4 0 -0.8 0 0.7 0.1 -0.2 0 0 0.1 0.5 0 -0.4 0 -0.3 0.1 -0.1 0 1.1 0.1 -1.1 0 0.8 0 1.1 0.1 -1.3 0 0.9 0.1 -1.7 0 0.7 0 0.3 0.1 -0.3 0 0.2 0.1 1 0 -1.8 0 -0.4 0.1 1.1 0 -1.9 0.1 1.5 0 1.3 0 -1.3 0.1 0.6 0 -0.1 0.1 0.8 0 -0.7 0 -0.3 0.1 -3.6 0 2.8 0.1 1.3 0 -0.9 0 -0.6 0.1 1.7 0 -1.9 0.1 0.6 0 1.1 0 -1.3 0.1 0.7 0 -0.2 0.1 -1.2 0 0.7 0 0.2 0.1 -0.3 0 1.8 0.1 -1.2 0 -0.6 0 -0.8 0.1 1.1 0 1.7 0.1 -1.7 0 1.1 0 -0.3 0.1 -1 0 -0.4 0.1 1.5 0 -2.3 0 2.4 0.1 -1.9 0 2.2 0.1 -1.3 0 0.3 0 1.2 0.1 -2.1 0 1.1 0.1 -0.4 0 0.8 0 0.3 0.1 -0.5 0 -0.1 0.1 -0.6 0 1.1 0 -0.9 0.1 0.4 0 0 0.1 -1.6 0 0.3 0 1.4 0.1 -0.3 0 1.4 0.1 -3.9 0 2.8 0 0.9 0.1 -1 0 0.7 0.1 -0.8 0 -0.1 0 1 0.1 -2.3 0 -0.9 0.1 2.8 0 -0.4 0 0 0.1 0.2 0 0.4 0.1 -1.2 0 1 0 -0.2 0.1 -1.5 0 1.1 0.1 0.4 0 -1.1 0 1.9 0.1 -1.4 0 1.2 0.1 0.6 0 -3 0 0.2 0.1 2 0 -0.8 0.1 0.7 0 1.3 0 -2.3 0.1 1.4 0 -1.2 0.1 -0.4 0 1.2 0 -0.2 0.1 0.8 0 -0.8 0.1 0.6 0 -0.4 0 -2.3 0.1 1.4 0 0.1 0.1 1.2 0 -2 0 1.3 0.1 -0.6 0 -1.5 0.1 1.8 0 0.8 0 -1 0.1 1.3 0 -0.6 0.1 0 0 -0.9 0 0.4 0.1 0.6 0 -0.4 0.1 -1.3 0 1.1 0 0.6 0.1 0.7 0 -0.3 0.1 -1.8 0 1.7 0 -2.4 0.1 1 0 -0.2 0.1 2.5 0 -0.9 0 -0.4 0.1 -0.9 0 1.9 0.1 -1.6 0 0.8 0 0.7 0.1 -1.5 0 0.9 0.1 -2.6 0 2.6 0 -2.3 0.1 2.2 0 -0.2 0.1 0.2 0 1.9 0 -4.9 0.1 3 0 -0.9 0.1 1.2 0 -0.4 0 -0.2 0.1 -0.7 0 -0.2 0.1 1.1 0 -1.9 0 2.7 0.1 -1.7 0 1.1 0.1 -1.7 0 1.7 0 -0.7 0.1 1 0 0.5 0.1 -1.9 0 0.7 0 0.2 0.1 1.2 0 -2.8 0.1 1.9 0 -0.6 0 -1.2 0.1 0.9 0 -0.4 0.1 1.9 0 -2.1 0 2 0.1 -1.5 0 1.2 0.1 -2.5 0 1 0 0.9 0.1 -1.1 0 -0.6 0.1 1.6 0 0.8 0 -0.8 0.1 -0.2 0 0.6 0.1 -0.9 0 1.4 0 0.2 0.1 -2.4 0 2.4 0.1 -0.4 0 -0.4 0 0.4 0.1 0.8 0 0.5 0.1 -0.3 0 -1.9 0 1.6 0.1 -3.1 0 2.7 0.1 -0.2 0 0.3 0 -2 0.1 2.5 0 -0.2 0.1 -1.1 0 -1.7 0 1.8 0.1 -1.2 0 -0.8 0.1 0.9 0 3.2 0 -4 0.1 1.2 0 0.6 0.1 0.7 0 -2 0 0 0.1 2 0 -0.7 0.1 1 0 -2.5 0 1.1 0.1 1.1 0 -0.8 0.1 -1.3 0 1.3 0 -2.1 0.1 1.2 0 1.6 0.1 0.1 0 -0.5 0 0.3 0.1 -2.3 0 0.9 0.1 1.7 0 1.3 0 -1.9 0.1 -1.4 0 0 0.1 2.2 0 -0.1 0 -2.4 0.1 1.4 0 1.3 0.1 0.1 0 -2 0 0.3 0.1 0.7 0 -1.6 0.1 -0.6 0 1 0 2 0.1 -0.2 0 -0.6 0.1 -1.7 0 -0.8 0 0.9 0.1 1.1 0 1.1 0.1 -2 0 1 0 -2 0.1 -0.3 0 2.2 0.1 -1.3 0 0.2 0 -1.3 0.1 3.2 0 -2.7 0.1 1.9 0 -1.6 0 1.2 0.1 1.7 0 -1.1 0.1 -0.1 0 0.8 0 -0.4 0.1 0.9 0 -3 0.1 3 0 -1.4 0 -1.1 0.1 1.7 0 -0.1 0.1 -0.5 0 0.9 0 -2.3 0.1 -0.3 0 1.1 0.1 1.8 0 -0.6 0 -0.6 0.1 -0.6 0 0.6 0.1 1.3 0 -1.8 0 0 0.1 1 0 0.2 0.1 -0.5 0 1.4 0 -1.3 0.1 -1.2 0 -1.3 0.1 3.5 0 -1.3 0 0.5 0.1 0.1 0 1 0.1 -0.4 0 0 0 -0.7 0.1 -0.5 0 0.5 0.1 -1.1 0 1.2 0 0.7 0.1 -0.3 0 -0.6 0.1 -1.1 0 0 0 0.2 0.1 0.3 0 0.9 0.1 0 0 0.1 0 0.5 0.1 -2.1 0 0.8 0.1 0.8 0 0.3 0 -1.5 0.1 -0.1 0 1.9 0.1 -0.4 0 -0.3 0 -0.7 0.1 -0.7 0 0.9 0.1 0.4 0 0.2 0 0.4 0.1 -0.8 0 1.2 0.1 -1.7 0 0.7 0 -0.2 0.1 -2 0 0.5 0.1 0.9 0 0.7 0 0.1 0.1 1 0 -1.3 0.1 -0.3 0 0.6 0 -1.5 0.1 1 0 -0.8 0.1 1.1 0 -0.8 0 0.3 0.1 2.4 0 -0.8 0.1 1.4 0 -2.4 0 -0.4 0.1 -0.6 0 0.8 0.1 -1.8 0 1.9 0 -0.7 0.1 -0.8 0 -0.4 0.1 0.9 0 0.5 0 0.4 0.1 -1.6 0 1.6 0.1 0.4 0 1.9 0 -1.9 0.1 0.6 0 -1.7 0.1 0.8 0 -0.8 0 -0.1 0.1 1.4 0 -0.8 0.1 1.8 0 -1.5 0 0.4 0.1 -1.7 0 0.3 0.1 1.7 0 -1.4 0 2 0.1 -2.1 0 -0.1 0.1 2.9 0 -3.7 0 1.2 0.1 1.1 0 0 0.1 -1.7 0 3.4 0 -2.7 0.1 -1.5 0 2.9 0.1 -1.5 0 0.6 0 0.7 0.1 -1.7 0 0.2 0.1 0.7 0 0.9 0 -2.2 0.1 2.9 0 -1.2 0.1 -1.5 0 1.2 0 0.6 0.1 0.7 0 -0.4 0.1 0.2 0 -1.3 0 0.9 0.1 -3.5 0 3.8 0.1 -1 0 1.7 0 -2.3 0.1 0.1 0 0.6 0.1 0.8 0 -0.5 0 0.7 0.1 -1 0 1 0.1 1.8 0 -1.6 0 -0.6 0.1 -2.2 0 2.2 0.1 0.5 0 -1.3 0 1.2 0.1 -3.3 0 1.6 0.1 -0.3 0 1.5 0 -1.4 0.1 -0.1 0 2.5 0.1 -3 0 2 0 0.6 0.1 -1.4 0 -0.7 0.1 0.8 0 -0.4 0 -0.2 0.1 1 0 -0.2 0.1 3.2 0 -1.8 0 -1.2 0.1 0.4 0 1.2 0.1 -0.6 0 -1.1 0 -0.9 0.1 2.7 0 -1.9 0.1 0.3 0 1.2 0 -1.3 0.1 1.2 0 -1.6 0.1 0.5 0 -0.4 0 2.3 0.1 -3.6 0 1.3 0.1 -0.8 0 0.2 0 -0.6 0.1 0.5 0 2.1 0.1 0.3 0 -2.2 0 -0.6 0.1 0.8 0 2.2 0.1 -1.8 0 -2.2 0 3.1 0.1 -1 0 0.8 0.1 -0.2 0 -1.8 0 2.4 0.1 -0.3 0 -1.4 0.1 -1.7 0 1.2 0 0 0.1 1.9 0 -1.3 0.1 0.1 0 0.5 0 -0.5 0.1 0.9 0 -0.1 0.1 0.7 0 -2.3 0 1.7 0.1 -0.7 0 2.5 0.1 -0.7 0 -1.9 0 1.4 0.1 -2.8 0 0.7 0.1 0.8 0 0.6 0 -1.4 0.1 1.2 0 1.2 0.1 -2.9 0 0.2 0 -0.5 0.1 3.1 0 -2.3 0.1 0.7 0 -0.5 0 0.9 0.1 -0.3 0 0.5 0.1 0 0 1.5 0 -2.6 0.1 1.1 0 -0.2 0.1 -0.9 0 1.8 0 1.1 0.1 -3.1 0 3.7 0.1 -2.7 0 0.1 0 -2.6 0.1 2.7 0 -0.2 0.1 -0.1 0 1 0 -0.9 0.1 0.6 0 -1.1 0.1 -0.5 0 1.3 0 0.5 0.1 0.1 0 -0.6 0.1 -0.9 0 0.8 0 -0.3 0.1 -1 0 1.6 0.1 -0.5 0 -0.9 0 0.8 0.1 0.9 0 1 0.1 -3.5 0 1.5 0 1 0.1 0.6 0 -0.8 0.1 -1.4 0 0.5 0 0.5 0.1 -0.8 0 -0.3 0.1 -0.2 0 4 0 -2.6 0.1 -0.3 0 1 0.1 -0.7 0 -0.2 0 0.4 0.1 -1 0 0.4 0.1 1.3 0 -0.3 0 -1.7 0.1 2.7 0 -2 0.1 -1.2 0 2.4 0 -0.1 0.1 -0.3 0 -1.4 0.1 2.3 0 -0.7 0 -0.2 0.1 -0.1 0 0.1 0.1 2 0 -2.9 0 0.9 0.1 0.9 0 -0.4 0.1 -1.6 0 0.7 0 -0.3 0.1 -1.1 0 1.3 0.1 1.2 0 -0.7 0 0.9 0.1 -0.7 0 -1.2 0.1 1.3 0 -2.4 0 3.1 0.1 -1.7 0 2.2 0.1 -3.2 0 0.4 0 0.6 0.1 0.2 0 -1.4 0.1 0.3 0 1.8 0 -1.3 0.1 1.7 0 0.8 0.1 -3.2 0 1.1 0 2.2 0.1 -0.6 0 -2.6 0.1 1.8 0 1.4 0 -4 0.1 2.6 0 0.8 0.1 -1.6 0 -0.2 0 1.5 0.1 -2.5 0 2.3 0.1 0.7 0 -1.2 0 -1.7 0.1 3.3 0 -1.7 0.1 0.6 0 -1.5 0 0.8 0.1 1.3 0 -2.8 0.1 0.2 0 -0.8 0 2.7 0.1 0 0 -1.4 0.1 1.3 0 -0.4 0 2 0.1 -3.2 0 1.5 0.1 -0.7 0 2.3 0 -1.4 0.1 -1.7 0 1.7 0.1 -0.6 0 -0.9 0 1.4 0.1 -0.2 0 -1.4 0.1 0.8 0 1.6 0 -0.1 0.1 -1.2 0 -0.2 0.1 0.6 0 -0.4 0 -1.1 0.1 1.9 0 -1.5 0.1 2.4 0 -0.9 0 0.1 0.1 -1.1 0 0.5 0.1 -0.7 0 0.2 0 -0.7 0.1 2.6 0 -2.7 0.1 3 0 -1 0 -1.8 0.1 2.4 0 -1 0.1 -1.2 0 1.1 0 -0.6 0.1 -0.5 0 0.8 0.1 0.3 0 -0.6 0 0.3 0.1 0.9 0 -1 0.1 -0.2 0 -1 0 1.3 0.1 -0.4 0 0.2 0.1 1.1 0 0.1 0 -0.9 0.1 -0.6 0 0.7 0.1 0.2 0 -0.1 0 -1.7 0.1 1.8 0 -1.4 0.1 1.4 0 0.1 0 -0.2 0.1 1 0 -1.2 0.1 0.3 0 -1.2 0 0.8 0.1 -0.1 0 0.3 0.1 -0.3 0 -2.2 0 3.3 0.1 -0.2 0 -2.8 0.1 2.4 0 0.8 0 -0.3 0.1 0 0 -1 0.1 -0.3 0 2.5 0 -1.5 0.1 1.3 0 -1.8 0.1 1 0 -0.1 0 0 0.1 -2.1 0 3.7 0.1 -2.1 0 -0.6 0 0.6 0.1 -2.1 0 3.2 0.1 -1.8 0 0.7 0 -0.1 0.1 -2 0 1.5 0.1 1.6 0 -2.1 0 1.1 0.1 0.8 0 0.6 0.1 -2.5 0 1.9 0 -0.3 0.1 -0.2 0 0.5 0.1 -0.2 0 -1.8 0 1.5 0.1 -1.1 0 1 0.1 -0.8 0 2 0 -0.6 0.1 -0.5 0 -1.2 0.1 1.2 0 -1.6 0 0.2 0.1 -0.8 0 2.7 0.1 -1.5 0 1.5 0 0.2 0.1 -0.1 0 -1.5 0.1 2 0 -0.3 0 -2.5 0.1 1.7 0 -1.2 0.1 0.7 0 1.3 0 -0.9 0.1 1.3 0 -1 0.1 0.2 0 0.9 0 -0.4 0.1 -0.5 0 0.6 0.1 -0.1 0 -2.7 0 0.4 0.1 1.1 0 1.1 0.1 -1.9 0 -1 0 1.7 0.1 -0.6 0 2.2 0.1 -4 0 3.3 0 -0.2 0.1 -3.4 0 1.7 0.1 0.8 0 0.6 0 -0.4 0.1 0.7 0 -0.5 0.1 -1 0 2.6 0 -1.5 0.1 -1.1 0 1.4 0.1 -0.7 0 -0.3 0 -0.2 0.1 -0.9 0 0.6 0.1 -0.4 0 -0.7 0 2.6 0.1 -0.2 0 -0.6 0.1 -0.9 0 0.3 0 2.5 0.1 -2.5 0 1.8 0.1 -0.6 0 0.2 0 -1 0.1 0.2 0 0.2 0.1 -1 0 2.5 0 -2.3 0.1 1.1 0 1.6 0.1 -0.3 0 -2.1 0 1.1 0.1 0.6 0 -3.1 0.1 4.1 0 -1.5 0 -0.9 0.1 0.2 0 -2.2 0.1 3.1 0 0.9 0 -1.9 0.1 1.9 0 -1 0.1 -2 0 1.9 0 -2.7 0.1 0.2 0 2.6 0.1 -0.1 0 -0.6 0 -0.1 0.1 -1.4 0 2.6 0.1 -1.1 0 -0.1 0 3.4 0.1 -2.9 0 -0.3 0.1 2.1 0 -1.8 0 -0.8 0.1 2.1 0 -1.7 0.1 -0.7 0 0.5 0 0.4 0.1 0.9 0 0.4 0.1 -2.6 0 2.6 0 -2 0.1 0.2 0 -2.2 0.1 4.4 0 -1.1 0 -0.8 0.1 0 0 1.2 0.1 -1 0 -3.1 0 3.4 0.1 -0.3 0 0.1 0.1 0 0 0.8 0 -1.7 0.1 3.2 0 -2.2 0.1 -0.9 0 0.8 0 -1.9 0.1 1.7 0 -0.7 0.1 -0.2 0 1.9 0 -0.6 0.1 -1.3 0 0.4 0.1 1 0 2 0 -2.5 0.1 0 0 0.6 0.1 -1.8 0 1.2 0 0.9 0.1 -0.3 0 -0.1 0.1 -1.6 0 1.3 0 1.5 0.1 1.3 0 -1.8 0.1 -1.6 0 0.1 0 0.3 0.1 2.4 0 -3.6 0.1 1.2 0 -1.5 0 1.3 0.1 0.1 0 1.3 0.1 -0.1 0 -0.7 0 -0.5 0.1 -0.1 0 2.1 0.1 -1.8 0 -1 0 0.3 0.1 0.9 0 -0.9 0.1 -0.8 0 2.6 0 -1.7 0.1 0.6 0 0.2 0.1 -0.4 0 0.1 0 -2.5 0.1 2.8 0 -0.3 0.1 -0.2 0 0.3 0 2.4 0.1 -0.5 0 -1 0.1 0.9 0 -2.1 0 0.4 0.1 0.5 0 0.5 0.1 -0.1 0 1.1 0 -2.1 0.1 1.6 0 -2.1 0.1 1.3 0 -1.6 0 2.3 0.1 -1.9 0 2 0.1 -3.4 0 3.9 0 -1.9 0.1 0.5 0 -0.2 0.1 -2.1 0 1.2 0 -0.1 0.1 0.6 0 -1.6 0.1 1 0 0.8 0 1.1 0.1 -0.4 0 -2 0.1 2.1 0 0.8 0 -0.9 0.1 -1.2 0 -0.5 0.1 0.5 0 2.1 0 -2.7 0.1 -1.6 0 3.6 0.1 -1.7 0 0.7 0 -0.4 0.1 1.6 0 -1.6 0.1 -0.3 0 -0.1 0 2.7 0.1 -0.3 0 -1.9 0.1 -0.2 0 0.5 0 0.7 0.1 -1.5 0 2.5 0.1 -1.3 0 -3.1 0 1.7 0.1 0.8 0 2.8 0.1 -0.8 0 -1.5 0 -1.4 0.1 1.1 0 0.1 0.1 -0.5 0 0.6 0 0.6 0.1 -1.2 0 -0.7 0.1 1.3 0 -1.8 0 1.2 0.1 1.7 0 -1.1 0.1 -1.5 0 1.2 0 -0.2 0.1 0.4 0 0.9 0.1 -1.6 0 -0.7 0 2.9 0.1 -2.5 0 1.5 0.1 -0.2 0 -0.7 0 0.9 0.1 -0.2 0 -0.2 0.1 0.6 0 -1.5 0 1.7 0.1 -1.9 0 2 0.1 0.4 0 -2.3 0 2.9 0.1 -2.7 0 0.6 0.1 -0.8 0 0.5 0 0.4 0.1 -0.7 0 1.7 0.1 -1.9 0 1.2 0 -1.5 0.1 0.2 0 1.1 0.1 0.2 0 -0.7 0 0.7 0.1 0.1 0 -1.1 0.1 0.7 0 -0.9 0 -0.5 0.1 0.7 0 0.4 0.1 1.5 0 -0.7 0 -0.4 0.1 -2.4 0 1.3 0.1 1.5 0 0.1 0 -0.6 0.1 -1.2 0 -0.8 0.1 0.3 0 1.9 0 0.3 0.1 1.4 0 -2.5 0.1 1 0 -1.1 0 0.6 0.1 0.3 0 -0.7 0.1" fill="none" stroke="#0072BD" stroke-width="0.45" stroke-opacity="0.5" stroke-linejoin="round"/><path d="M134.1 258l-1.6 0 1.2 0.1 -0.6 0 -0.2 0.1 1 0 -1.1 0 0.6 0.1 -0.2 0 0.5 0.1 -1.2 0 0.9 0 0.2 0.1 -0.8 0 -0.2 0.1 0 0 0.6 0 -0.4 0.1 0.8 0 -0.4 0.1 -0.1 0 0.2 0 0 0.1 0.1 0 0.3 0.1 0.3 0 -0.4 0 0 0.1 0.7 0 0 0.1 -0.9 0 -0.8 0 1.5 0.1 -1.3 0 0.1 0.1 -0.1 0 0.3 0 -1.2 0.1 1.1 0 1.1 0.1 0.7 0 -1.1 0 0.2 0.1 0.1 0 -1 0.1 -0.2 0 0.9 0 0.4 0.1 -0.6 0 0.2 0.1 -0.3 0 -0.1 0 -0.2 0.1 1.1 0 -0.2 0.1 -0.6 0 0.2 0 0.3 0.1 0.3 0 0.5 0.1 -0.1 0 -1.1 0 0.2 0.1 -0.4 0 0.7 0.1 0.2 0 -1.7 0 1.1 0.1 0.9 0 -1.9 0.1 1.9 0 -0.2 0 -1.1 0.1 -0.3 0 1.8 0.1 -1.4 0 -0.6 0 0.9 0.1 -1 0 0.3 0.1 1.8 0 -1.4 0 0.1 0.1 -0.9 0 0.5 0.1 1.2 0 -0.4 0 0.4 0.1 0 0 -0.5 0.1 -0.4 0 -1.2 0 2.1 0.1 -0.6 0 1.3 0.1 -1.5 0 0.1 0 -0.3 0.1 -0.5 0 0.9 0.1 0.2 0 -0.1 0 -0.3 0.1 -0.4 0 1.3 0.1 -0.1 0 -1.1 0 -0.4 0.1 0.4 0 0 0.1 1.2 0 -1.3 0 0.8 0.1 -0.9 0 0.6 0.1 1.5 0 -1.8 0 0.7 0.1 -0.6 0 1.1 0.1 -0.5 0 -0.2 0 0.9 0.1 -0.4 0 -0.1 0.1 -1.2 0 0.2 0 1.5 0.1 -1.7 0 1.8 0.1 0 0 -1.2 0 -0.4 0.1 -0.2 0 1.3 0.1 -0.2 0 -0.9 0 -0.1 0.1 1 0 -0.8 0.1 0.4 0 -0.9 0 1.2 0.1 -0.2 0 -0.4 0.1 -0.4 0 0.7 0 0.3 0.1 0 0 -0.2 0.1 -0.5 0 0.9 0 0.3 0.1 -1.1 0 -0.4 0.1 1.7 0 -0.8 0 -1.4 0.1 1.8 0 -0.4 0.1 -0.6 0 0.5 0 -0.7 0.1 0.1 0 -0.5 0.1 1.8 0 -1.1 0 0.5 0.1 0.1 0 -1.6 0.1 1.5 0 -0.9 0 1.5 0.1 -1.5 0 1.3 0.1 0.5 0 -0.9 0 0.5 0.1 0.2 0 -0.7 0.1 -0.3 0 -0.8 0 2.2 0.1 -0.6 0 -0.2 0.1 -1.5 0 1.8 0 -0.9 0.1 0.3 0 0.2 0.1 0.5 0 -1 0 -0.2 0.1 0.8 0 -0.2 0.1 -0.5 0 1.7 0 -0.6 0.1 -1.8 0 -0.3 0.1 0.1 0 1 0 0.6 0.1 0.8 0 -1 0.1 -0.5 0 0.5 0 -0.1 0.1 -0.6 0 0.7 0.1 -1.3 0 1 0 0.5 0.1 -0.4 0 0.5 0.1 0.4 0 -0.4 0 0.1 0.1 0 0 -0.5 0.1 0.7 0 -0.4 0 -0.8 0.1 1.2 0 -0.6 0.1 -1.4 0 2.6 0 -1.1 0.1 -0.5 0 1 0.1 -0.3 0 0 0 0.9 0.1 -0.4 0 -0.8 0.1 -0.3 0 -0.4 0 1.1 0.1 -0.2 0 0.7 0.1 -0.6 0 0.3 0 0.5 0.1 -1.2 0 -0.3 0.1 0.6 0 -0.8 0 0.7 0.1 -0.1 0 1.1 0.1 -1.1 0 1 0 -1 0.1 0.2 0 -0.3 0.1 0.3 0 -0.4 0 -0.3 0.1 -0.1 0 1.4 0.1 -0.5 0 1 0 -0.1 0.1 -1.6 0 1.9 0.1 -1.5 0 -0.8 0 0.3 0.1 0.4 0 -1.2 0.1 1.8 0 -0.5 0 0.7 0.1 -0.2 0 -0.1 0.1 0.3 0 -0.1 0 -1.2 0.1 1.9 0 -1.3 0.1 0.3 0 0.4 0 -0.9 0.1 0.1 0 -0.8 0.1 1.6 0 0 0 -0.7 0.1 -0.2 0 -1 0.1 1.8 0 -0.9 0 0.2 0.1 0.1 0 0 0.1 0.3 0 0.3 0 -0.2 0.1 -0.9 0 0.7 0.1 0 0 -0.6 0 0.5 0.1 0.7 0 0 0.1 -0.2 0 0.1 0 -1.6 0.1 1.3 0 0.9 0.1 -1.2 0 0 0 -0.2 0.1 0.6 0 -0.2 0.1 -0.6 0 0.7 0 0 0.1 0.2 0 0 0.1 -0.7 0 0.7 0 -0.3 0.1 0 0 -0.2 0.1 0.3 0 -0.4 0 -0.3 0.1 1.4 0 -1.5 0.1 0.9 0 0.3 0 -0.3 0.1 -0.3 0 0.1 0.1 -0.9 0 1.2 0 -0.8 0.1 0.5 0 -0.5 0.1 1.1 0 -0.8 0 0.2 0.1 1 0 -1.5 0.1 0.4 0 -1.2 0 1.2 0.1 -0.1 0 -0.1 0.1 0.8 0 0.5 0 -0.4 0.1 -0.1 0 0.2 0.1 -1 0 -0.1 0 0.7 0.1 0.9 0 -1.4 0.1 -0.6 0 1 0 0.6 0.1 -0.2 0 -0.2 0.1 -0.3 0 0.5 0 -0.7 0.1 1 0 0.1 0.1 -0.3 0 0.7 0 0.2 0.1 -1.9 0 0.4 0.1 -0.5 0 -0.5 0 0.4 0.1 0.6 0 0.4 0.1 -0.1 0 -1.7 0 1.4 0.1 -0.6 0 1.1 0.1 -0.9 0 1.1 0 0.5 0.1 0.1 0 -1.3 0.1 0.2 0 -0.3 0 0.2 0.1 1.1 0 -2.2 0.1 0.7 0 0.5 0 -0.4 0.1 -0.4 0 1.4 0.1 -0.7 0 -0.3 0 -0.6 0.1 0.8 0 0.7 0.1 -0.7 0 0.8 0 -0.9 0.1 -0.3 0 0.6 0.1 -0.7 0 -0.3 0 1.3 0.1 0.3 0 0.4 0.1 -2.3 0 1.9 0 -0.2 0.1 -0.3 0 0.2 0.1 0.1 0 -0.1 0 0 0.1 -0.5 0 1.3 0.1 -1.1 0 0.7 0 -0.9 0.1 0.2 0 -0.1 0.1 0.2 0 0.8 0 -1.9 0.1 1.8 0 -1.2 0.1 1.7 0 -1.9 0 0.7 0.1 0.3 0 -1.4 0.1 1 0 0.1 0 0.2 0.1 -0.4 0 -0.5 0.1 -0.6 0 0.9 0 0.1 0.1 0 0 0.8 0.1 -0.5 0 -1.1 0 0.5 0.1 1.3 0 -0.3 0.1 -0.3 0 -0.4 0 1 0.1 -1.2 0 0 0.1 1.2 0 -1.9 0 1.9 0.1 -1 0 0.5 0.1 -0.5 0 -0.9 0 1.4 0.1 -0.6 0 0.3 0.1 0.4 0 -0.2 0 0 0.1 0.3 0 -1.3 0.1 2.3 0 -2.4 0 0.9 0.1 0.1 0 -0.3 0.1 0.8 0 -0.8 0 0.4 0.1 1.4 0 -1.7 0.1 1.7 0 -2.3 0 1.2 0.1 -0.2 0 0.3 0.1 -1.9 0 0.1 0 1.8 0.1 0.1 0 -0.1 0.1 -0.7 0 0.6 0 -0.1 0.1 -0.6 0 1.6 0.1 -1.2 0 -0.3 0 0.5 0.1 -0.5 0 0.5 0.1 -0.8 0 0.1 0 0.2 0.1 1 0 -0.8 0.1 1.2 0 -0.1 0 -1.3 0.1 0 0 1.1 0.1 -1 0 0 0 1.4 0.1 -0.3 0 -0.5 0.1 -1.5 0 1.3 0 -1.2 0.1 1.2 0 0.1 0.1 1 0 -2.1 0 1 0.1 0.1 0 0.1 0.1 0.1 0 0.4 0 -0.4 0.1 -0.6 0 0.1 0.1 0.8 0 -0.9 0 -1 0.1 0.2 0 0.2 0.1 0 0 1 0 0 0.1 -1.3 0 0.5 0.1 0.9 0 0 0 -0.3 0.1 1.4 0 -1.9 0.1 1.3 0 -0.6 0 -1.5 0.1 0.6 0 0.8 0.1 -0.6 0 0.3 0 0.1 0.1 0.3 0 -0.4 0.1 0.7 0 -0.6 0 -0.5 0.1 0.4 0 -0.6 0.1 1.4 0 -1.5 0 0.6 0.1 0.1 0 0.6 0.1 0.6 0 -1.7 0 0.5 0.1 -0.1 0 -0.1 0.1 -0.6 0 1.1 0 -1.3 0.1 2.2 0 -0.4 0.1 0.2 0 0.5 0 -1.3 0.1 -0.4 0 -0.8 0.1 2 0 -0.2 0 -0.8 0.1 -0.4 0 0.9 0.1 0 0 -1 0 1.8 0.1 -1.4 0 0.8 0.1 -1.6 0 0.5 0 0.8 0.1 -0.8 0 1.9 0.1 -2.5 0 1 0 -0.9 0.1 0.9 0 1.1 0.1 -0.6 0 -0.3 0 0.9 0.1 -1.8 0 0.2 0.1 -0.2 0 1.7 0 -1.8 0.1 2 0 -1.4 0.1 0.4 0 -0.1 0 0.8 0.1 -0.9 0 0.1 0.1 0.1 0 0.1 0 -0.5 0.1 0.6 0 -0.7 0.1 1 0 -0.7 0 1.3 0.1 -1.8 0 1 0.1 -0.2 0 1.2 0 -0.8 0.1 -0.4 0 0 0.1 -0.4 0 1.8 0 0.1 0.1 -1.5 0 -0.4 0.1 0.8 0 0.2 0 -1.1 0.1 0.3 0 -0.1 0.1 0.2 0 0.5 0 -1 0.1 -0.5 0 2.6 0.1 -1.6 0 0.5 0 -0.6 0.1 0.4 0 0.1 0.1 -0.3 0 1.6 0 -1.1 0.1 -0.6 0 0.3 0.1 -0.1 0 -0.1 0 0.8 0.1 0 0 -0.7 0.1 0.2 0 -1 0 1.2 0.1 -0.4 0 -0.5 0.1 0.3 0 1.2 0 -1.6 0.1 0.1 0 0.8 0.1 0.1 0 -0.4 0 -0.6 0.1 0.3 0 1.7 0.1 -2.2 0 1 0 0.5 0.1 -0.1 0 1 0.1 -1.2 0 -0.6 0 -0.2 0.1 0.3 0 1.1 0.1 -1.6 0 0.9 0 -0.7 0.1 0.5 0 1.3 0.1 -1.1 0 0.1 0 -0.6 0.1 -0.7 0 0.5 0.1 0.2 0 0.3 0 -1.2 0.1 1.2 0 1 0.1 -1.3 0 0.9 0 -0.4 0.1 -0.2 0 -0.1 0.1 0.7 0 0.6 0 -2.3 0.1 1.9 0 -1 0.1 0.5 0 0.5 0 -0.6 0.1 1.2 0 -0.6 0.1 -0.9 0 0.8 0 -1.5 0.1 1.1 0 -0.5 0.1 -0.2 0 1.2 0 -0.5 0.1 -0.5 0 0.6 0.1 -0.3 0 0 0 -1 0.1 0.7 0 0.7 0.1 -0.1 0 -0.2 0 -0.8 0.1 0.3 0 -0.9 0.1 0.7 0 1.5 0 0.3 0.1 -1 0 -0.1 0.1 -0.9 0 1.1 0 -0.5 0.1 1.7 0 -1 0.1 -0.4 0 -1 0 2 0.1 -0.9 0 1.3 0.1 -0.9 0 -0.5 0 0.6 0.1 0 0 -0.9 0.1 1.3 0 0.4 0 -1.8 0.1 -1 0 2 0.1 -0.4 0 -0.1 0 -0.6 0.1 1.6 0 -2.4 0.1 2.2 0 -1.1 0 -1.1 0.1 0.9 0 0.5 0.1 1.3 0 -0.5 0 -0.9 0.1 0.1 0 0.9 0.1 -0.3 0 0.8 0 -1.8 0.1 0.7 0 -0.6 0.1 0.4 0 -1 0 1 0.1 -1 0 1.2 0.1 0.7 0 -0.8 0 0 0.1 -0.2 0 -0.8 0.1 0.4 0 0.2 0 -0.4 0.1 1.4 0 -2 0.1 0.6 0 0.1 0 0.4 0.1 -0.6 0 -0.2 0.1 0.1 0 0.4 0 -0.5 0.1 1.7 0 -0.7 0.1 0.8 0 -1.2 0 0.8 0.1 -0.5 0 0.2 0.1 0.9 0 -0.5 0 -0.3 0.1 -0.3 0 -1.1 0.1 1.1 0 -0.3 0 1.6 0.1 -1.5 0 0.4 0.1 -0.2 0 -0.3 0 1.1 0.1 -1.4 0 1.1 0.1 -1.6 0 0.9 0 1.4 0.1 -1.2 0 0.3 0.1 0 0 -0.1 0 -1.5 0.1 0.4 0 1.6 0.1 -0.5 0 -1 0 0.1 0.1 1.7 0 -1.2 0.1 0.2 0 -0.1 0 -0.3 0.1 0.8 0 0.1 0.1 -0.5 0 0.1 0 -0.5 0.1 1.4 0 -1.8 0.1 1.2 0 0.2 0 0.3 0.1 -0.7 0 0.3 0.1 -0.4 0 -0.4 0 0.6 0.1 0.6 0 -0.2 0.1 -1.3 0 0.8 0 0.9 0.1 -0.6 0 0.7 0.1 -0.9 0 -0.2 0 -1.3 0.1 2.3 0 -1.9 0.1 0.7 0 -0.3 0 0.2 0.1 1 0 -1.6 0.1 1.3 0 -1.1 0 0.8 0.1 0.3 0 -0.4 0.1 0 0 0.1 0 0 0.1 0.5 0 -0.2 0.1 -0.5 0 1.7 0 -1.9 0.1 1.7 0 -1.3 0.1 1 0 -0.2 0 -0.9 0.1 0.7 0 0.8 0.1 -2.3 0 0.2 0 0.3 0.1 1.7 0 -0.8 0.1 -0.8 0 0.3 0 0.3 0.1 -0.7 0 0.4 0.1 0.2 0 0.3 0 0.3 0.1 -0.9 0 0.1 0.1 -0.7 0 0.8 0 0.2 0.1 -0.2 0 0.4 0.1 -1 0 1.4 0 -0.6 0.1 0.7 0 -1.4 0.1 0.5 0 0.2 0 -0.5 0.1 1.1 0 -0.7 0.1 -0.9 0 1.5 0 -1 0.1 0.6 0 0.4 0.1 -1.2 0 1.5 0 -0.4 0.1 -1.5 0 1.8 0.1 -1.3 0 0.1 0 1.5 0.1 -2 0 -0.5 0.1 1.6 0 -0.3 0 -0.4 0.1 1.2 0 -1.6 0.1 0.3 0 1.2 0 -1 0.1 -0.2 0 0.4 0.1 -0.5 0 -0.1 0 0.8 0.1 -0.3 0 0.3 0.1 -0.5 0 0.7 0 0.1 0.1 0.3 0 -0.9 0.1 -0.1 0 -0.3 0 1 0.1 0.4 0 0 0.1 -0.1 0 0.2 0 0.4 0.1 -1 0 0.3 0.1 -0.9 0 0.8 0 0.3 0.1 -0.9 0 1.6 0.1 -0.9 0 0.2 0 -0.3 0.1 1 0 -1.1 0.1 0.5 0 -0.4 0 -0.5 0.1 0.2 0 -0.2 0.1 0.1 0 0.8 0 -1.1 0.1 0.3 0 0.7 0.1 0.3 0 -0.7 0 -0.3 0.1 -0.6 0 1.2 0.1 -0.9 0 0.2 0 0.8 0.1 -0.8 0 0.7 0.1 0 0 -0.8 0 0.4 0.1 0.8 0 -0.5 0.1 -0.1 0 -1 0 0.8 0.1 0.9 0 -1 0.1 0.4 0 0.4 0 0.8 0.1 -2.5 0 1.7 0.1 0.1 0 -0.7 0 1.2 0.1 -2 0 -0.2 0.1 0.9 0 0.5 0 -1.1 0.1 0.7 0 -0.3 0.1 1.6 0 -1.7 0 1.3 0.1 -2.2 0 1.3 0.1 0 0 -0.8 0 0.6 0.1 0.4 0 -0.4 0.1 -0.1 0 0.3 0 0.3 0.1 0.1 0 -0.8 0.1 1 0 -0.6 0 1.5 0.1 -1.5 0 0.2 0.1 -0.8 0 1.6 0 -1.1 0.1 0.4 0 0.4 0.1 -0.9 0 0.4 0 -0.4 0.1 -0.3 0 -0.3 0.1 -0.4 0 0.6 0 -0.6 0.1 1.7 0 -1.2 0.1 2.2 0 -1.6 0 -0.3 0.1 1.4 0 -0.8 0.1 -0.3 0 0 0 1.1 0.1 -1.4 0 -0.3 0.1 0.7 0 0.3 0 -1.6 0.1 0.5 0 0.3 0.1 0.3 0 0.2 0 -1.2 0.1 1 0 -0.9 0.1 1.7 0 -0.7 0 0.7 0.1 0.4 0 -0.7 0.1 -0.1 0 -0.5 0 0.1 0.1 0.7 0 0.2 0.1 0.6 0 -1.6 0 -0.2 0.1 1.9 0 -1.2 0.1 -0.7 0 1.3 0 -0.7 0.1 -0.2 0 -0.5 0.1 1.3 0 0.1 0 0.5 0.1 -1 0 -0.3 0.1 0.3 0 0.1 0 -0.4 0.1 -0.7 0 0.2 0.1 0.6 0 -0.1 0 1.3 0.1 -1 0 -0.2 0.1 -0.3 0 0.8 0 -0.5 0.1 0.8 0 -0.6 0.1 0.7 0 -0.8 0 0.5 0.1 0.4 0 -1.1 0.1 1.2 0 -0.9 0 1.4 0.1 -0.4 0 -0.3 0.1 0 0 0.5 0 -1.5 0.1 1 0 -0.7 0.1 0.3 0 0.1 0 0.4 0.1 -1.2 0 -0.2 0.1 -0.3 0 1.3 0 -0.6 0.1 0.7 0 0.3 0.1 0 0 -2 0 1.4 0.1 0 0 -0.8 0.1 -0.4 0 1.3 0 1.1 0.1 -2.1 0 0.6 0.1 0.5 0 -1.8 0 2.6 0.1 -1.7 0 1.3 0.1 0.7 0 -1.3 0 -0.8 0.1 0.7 0 -0.3 0.1 0.7 0 -1.1 0 1.4 0.1 -1.2 0 1.9 0.1 -2.4 0 1.6 0 -1.5 0.1 1.7 0 -0.8 0.1 -1.3 0 0.7 0 0.2 0.1 -0.5 0 0.9 0.1 -0.7 0 0.6 0 0.4 0.1 -0.3 0 -0.3 0.1 0 0 0.6 0 -0.6 0.1 0.3 0 -1.4 0.1 0.8 0 0.9 0 -0.4 0.1 0.2 0 0 0.1 0.8 0 -1.3 0 -0.7 0.1 1.9 0 -0.7 0.1 -0.6 0 -0.3 0 -0.5 0.1 0.7 0 0.5 0.1 1 0 -1.2 0 0.1 0.1 -0.3 0 -0.4 0.1 1.1 0 -0.1 0 -0.2 0.1 0.6 0 -1.5 0.1 1 0 -0.2 0 0.6 0.1 -0.9 0 0.2 0.1 0 0 0.4 0 -0.3 0.1 -0.1 0 -0.4 0.1 0.1 0 0.9 0 -0.8 0.1 1.2 0 0.5 0.1 -0.2 0 -0.6 0 -0.1 0.1 0.2 0 -0.4 0.1 -0.2 0 0.1 0 -0.5 0.1 0.2 0 1.5 0.1 -2 0 0.1 0 -0.5 0.1 1.7 0 0.8 0.1 -0.5 0 -0.9 0 0.7 0.1 -0.2 0 0.1 0.1 -1 0 1.2 0 -1.1 0.1 0.8 0 0.2 0.1 0.1 0 0.6 0 -0.2 0.1 -1.1 0 1.6 0.1 -2.5 0 0.7 0 0.5 0.1 0.3 0 -0.4 0.1 0 0 1 0 -2.1 0.1 0.9 0 -0.3 0.1 0.4 0 -0.3 0 0.7 0.1 0.5 0 0.3 0.1 -2.5 0 1.1 0 1.1 0.1 -0.7 0 -0.3 0.1 0.2 0 0.7 0 -0.7 0.1 0.2 0 -0.3 0.1 0.2 0 0.1 0 1.1 0.1 -0.8 0 -0.3 0.1 0.6 0 -1.7 0 0.8 0.1 0.3 0 -0.9 0.1 0.7 0 -0.1 0 -0.1 0.1 -0.1 0 0.4 0.1 0.6 0 -0.9 0 0.5 0.1 0.1 0 -0.6 0.1 0.2 0 0.8 0 -1.6 0.1 1 0 -0.1 0.1 -0.3 0 -1.1 0 1.9 0.1 0.9 0 -1.5 0.1 0.7 0 -0.4 0 0 0.1 -0.3 0 0.4 0.1 -0.9 0 0.6 0 0.1 0.1 0 0 -0.6 0.1 1.1 0 -1.5 0 0.1 0.1 1 0 -1.3 0.1 2.6 0 -2.3 0 0.5 0.1 1.2 0 -1.7 0.1 1.9 0 -0.1 0 -0.2 0.1 -0.7 0 0.9 0.1 -1 0 0.7 0 -1.2 0.1 1.2 0 -0.1 0.1 -0.1 0 0.2 0 -1.2 0.1 1.3 0 -0.8 0.1 0.2 0 0.3 0 -0.7 0.1 0.9 0 -0.7 0.1 0.6 0 -0.4 0 -0.6 0.1 1.2 0 -0.7 0.1 0.4 0 -0.6 0 -0.8 0.1 1.6 0 -1.9 0.1 0.9 0 -0.7 0 1.4 0.1 -1.6 0 1.8 0.1 1 0 -2 0 1.3 0.1 0.5 0 -2 0.1 0.8 0 -0.4 0 0.4 0.1 -0.2 0 1.5 0.1 -1.1 0 1.2 0 0 0.1 -0.5 0 -1.1 0.1 0 0 -0.2 0 1 0.1 -0.5 0 0.1 0.1 0 0 1.2 0 -1.4 0.1 -0.1 0 0.5 0.1 0 0 0.6 0 0 0.1 -1.4 0 0.9 0.1 -0.6 0 0.6 0 -0.6 0.1 -0.3 0 0.4 0.1 0.4 0 -1 0 1 0.1 -0.3 0 -0.2 0.1 0.5 0 0.2 0 -0.6 0.1 -1.4 0 1 0.1 1.3 0 -1.6 0 1 0.1 -1.3 0 2.5 0.1 -1.9 0 1 0 -0.8 0.1 0.4 0 0.7 0.1 -0.8 0 -0.6 0 1.6 0.1 -1.1 0 1.1 0.1 -1.4 0 0.2 0 0.7 0.1 0.2 0 -0.2 0.1 -0.9 0 0.8 0 -1.3 0.1 1.6 0 -0.5 0.1 0.4 0 -0.8 0 0.2 0.1 0.5 0 -1.3 0.1 0.6 0 0.9 0 -0.2 0.1 -0.6 0 -0.2 0.1 -0.3 0 0.6 0 0.6 0.1 -0.3 0 -0.9 0.1 0.2 0 1 0 -1.9 0.1 2.5 0 -2.5 0.1 1.4 0 -0.4 0 -0.1 0.1 0 0 0.7 0.1 -0.3 0 -0.1 0 1.3 0.1 -0.8 0 -0.3 0.1 -1 0 0.9 0 0.1 0.1 0.4 0 -0.3 0.1 -0.1 0 -0.3 0 0.9 0.1 -1.7 0 1.2 0.1 0.8 0 -2.3 0 2.3 0.1 -0.5 0 -0.1 0.1 -0.8 0 0 0 -0.1 0.1 2.1 0 -2 0.1 2 0 -1.6 0 -0.5 0.1 1.1 0 -0.6 0.1 -0.4 0 0.3 0 0.8 0.1 -0.7 0 -0.2 0.1 0.5 0 0.2 0 -1.2 0.1 1.8 0 -1.6 0.1 0.7 0 0.7 0 -0.3 0.1 -0.5 0 -0.1 0.1 0.3 0 0.8 0 -0.8 0.1 0.8 0 -0.9 0.1 1.5 0 -1.2 0 0.7 0.1 -1.7 0 0.8 0.1 0.5 0 -1.7 0 0.8 0.1 -0.3 0 1.1 0.1 -1 0 0.7 0 -0.2 0.1 0 0 -1 0.1 1.5 0 -1.7 0 2 0.1 -0.7 0 -0.6 0.1 0.5 0 -1.1 0 0.8 0.1 0.4 0 1.4 0.1 -2.3 0 0.8 0 -0.5 0.1 0.9 0 0.6 0.1 -1.6 0 0.8 0 0.6 0.1 -0.9 0 0.1 0.1 -0.1 0 0.3 0 0.1 0.1 -0.6 0 0.3 0.1 -0.6 0 0.9 0 0 0.1 0.6 0 -0.8 0.1 -0.1 0 -0.8 0 1.5 0.1 -0.4 0 -0.4 0.1 0.5 0 0.5 0 -0.3 0.1 -0.1 0 0.2 0.1 -1.1 0 0.5 0 0.4 0.1 -1.2 0 0.7 0.1 1.1 0 -1.6 0 0.4 0.1 0.2 0 0.7 0.1 -1.4 0 1.3 0 0.5 0.1 -0.9 0 -0.7 0.1 1.7 0 -0.7 0 0 0.1 0.6 0 -0.6 0.1 -0.5 0 -0.9 0 2.2 0.1 -1.1 0 -0.2 0.1 0.6 0 0.2 0 -1.3 0.1 0.7 0 -0.4 0.1 -0.3 0 0.3 0 0 0.1 0.3 0 -0.8 0.1 0.3 0 1.1 0 -1.5 0.1 0.9 0 -0.8 0.1 0.5 0 0.4 0 0.4 0.1 0.1 0 -1.1 0.1 1.4 0 -1.7 0 1.7 0.1 -1.7 0 0.3 0.1 1 0 -0.6 0 0.8 0.1 -0.4 0 -0.1 0.1 0.6 0 -0.9 0 0 0.1 0.5 0 -0.2 0.1 0.2 0 0.1 0 0.3 0.1 -1.1 0 -0.6 0.1 1.1 0 0.4 0 -0.2 0.1 -1 0 -0.3 0.1 0 0 1.3 0 -0.7 0.1 1.2 0 0.6 0.1 -0.8 0 -0.3 0 -0.1 0.1 0.2 0 1 0.1 -1.5 0 -0.6 0 1.2 0.1 0.5 0 -1.6 0.1 -0.1 0 -0.3 0 1 0.1 -0.8 0 1.9 0.1 -1.7 0 1.6 0 -0.7 0.1 -1.5 0 1.5 0.1 0.9 0 -0.5 0 -0.8 0.1 0.1 0 0.2 0.1 0.1 0 -0.2 0 -0.5 0.1 -0.1 0 -0.6 0.1 1.3 0 -0.1 0 -0.6 0.1 1.4 0 -1.2 0.1 1.4 0 -1.2 0 -0.1 0.1 0.7 0 -1 0.1 1.5 0 0.3 0 -1.2 0.1 0.4 0 -1 0.1 1 0 0.5 0 -1.1 0.1 0.6 0 -0.1 0.1" fill="none" stroke="#0072BD" stroke-width="0.45" stroke-opacity="1.0" stroke-linejoin="round"/><path d="M137.2 328.1l0 -11.3 0.1 9.2 0.1 -2.3 0 3.2 0.1 -2.4 0 3.7 0.1 -4.5 0 -1.4 0.1 2.5 0 -0.7 0.1 -2.4 0 0 0.1 2.3 0 -0.3 0.1 -3.7 0 0 0.1 -4.6 0 10.1 0.1 -6 0 4.5 0.1 -3.1 0 4.6 0.1 -1.5 0 -4.3 0.1 3.6 0 -8.6 0.1 7.4 0 -10 0.1 6.2 0 2.3 0.1 -3.3 0 -2.5 0.1 -2 0 1.4 0.1 5.1 0 -0.9 0.1 -4.9 0 -4.3 0.1 7.5 0 -9.1 0.1 3.5 0 -1.2 0.1 6.1 0 -2.5 0.1 0.7 0 -1.2 0.1 -4.6 0 5.3 0.1 3.8 0 -7.1 0.1 2.9 0 -3.9 0.1 5.3 0 -2.1 0.1 0.8 0 -2.9 0.1 6.2 0 -10.4 0.1 -0.1 0 -1.6 0.1 5.9 0 -6.4 0.1 -0.2 0 6.8 0.1 2.1 0 -3.1 0.1 -16.8 0 8.7 0.1 -0.8 0 -0.8 0.1 4 0 11.4 0.1 -11.2 0 -2.3 0.1 7.3 0 -3.4 0.1 0.2 0 -4.4 0.1 3.5 0 2.1 0.1 -12.5 0 1.4 0.1 14.2 0 -1.4 0.1 -7.3 0 -2.9 0.1 4.3 0 -5.5 0.1 4.4 0 10.7 0.1 -8.4 0 5.5 0.1 -7.6 0 3.1 0.1 5.4 0 -15 0.1 5.2 0 1 0.1 2.3 0 6.9 0.1 -5 0 -12.2 0.1 6.7 0 -3.6 0.1 -0.3 0 16.4 0.1 -17.5 0 7.2 0.1 -5.5 0 8.8 0.1 -3 0 -1.4 0.1 -1.3 0 6.8 0.1 -11.9 0 1 0.1 -2.4 0 14 0.1 -9.5 0 -4.4 0.1 3.4 0 16.7 0.1 -15.3 0 5.4 0.1 -2.4 0 -3 0.1 -4.1 0 1.9 0.1 -0.3 0 -11.1 0.1 28.1 0 -10 0.1 -5 0 -2.1 0.1 -3.6 0 10.1 0.1 -6.9 0 3.8 0.1 -11.4 0 10.4 0.1 9.6 0 -14 0.1 6.4 0 -4.8 0.1 6.3 0 -0.4 0.1 -6.2 0 -4 0.1 5 0 -1.7 0.1 -4.2 0 6.4 0.1 -0.4 0 -8.3 0.1 4.6 0 17.3 0.1 -11.9 0 -4.6 0.1 14.7 0 -18.5 0.1 -12.8 0 3.4 0.1 2.2 0 10.9 0.1 4.2 0 -19.7 0.1 20.2 0 -14.7 0.1 9 0 1.1 0.1 -0.4 0 -2.8 0.1 0.8 0 -8.3 0.1 8.6 0 4.2 0.1 -0.5 0 10.2 0.1 -9.6 0 -2.4 0.1 5.6 0 -8.9 0.1 -9.7 0 -6 0.1 21.6 0 -4.5 0.1 1.6 0 -7.5 0.1 4.1 0 9.4 0.1 -9.8 0 -9.1 0.1 4.1 0 11.1 0.1 -15.5 0 -9.4 0.1 1.7 0 5.8 0.1 13.1 0 -4.6 0.1 -5.4 0 -3.4 0.1 7.1 0 -0.4 0.1 -2.6 0 1.8 0.1 -3.3 0 15.7 0.1 -26 0 15.3 0.1 -7.2 0 10.6 0.1 -6 0 3.6 0.1 0.8 0 -2.1 0.1 4.7 0 -14.9 0.1 14.4 0 -7.4 0.1 3.6 0 7.1 0.1 -2.8 0 5.2 0.1 -26.4 0 7.9 0.1 11.7 0 -13.1 0.1 5.7 0 11.6 0.1 -5.3 0 -11.5 0.1 8.6 0 1.1 0.1 -3.8 0 -1.1 0.1 1.3 0 -10.3 0.1 9.9 0 -6.9 0.1 8.3 0 0 0.1 -8.3 0 9.1 0.1 -1.7 0 -2.7 0.1 4.6 0 -6.6 0.1 0 0 2.1 0.1 -1 0 7.2 0.1 -21.9 0 12.6 0.1 -10.8 0 9.1 0.1 4.5 0 -1.7 0.1 5.8 0 -4.3 0.1 -18.6 0 9.3 0.1 16.4 0 -0.1 0.1 -9.3 0 -10.4 0.1 22.9 0 -26.7 0.1 14.8 0 -2.4 0.1 1.6 0 -9 0.1 4.6 0 9 0.1 -9.9 0 -5.7 0.1 8.2 0 0.5 0.1 -1.6 0 -4.2 0.1 8.1 0 -4.3 0.1 -6.7 0 8.5 0.1 -1.8 0 1 0.1 -11.7 0 5.6 0.1 7.5 0 2.8 0.1 -3.8 0 -1.3 0.1 3.4 0 1.4 0.1 4.7 0 -8.1 0.1 -6.6 0 6.3 0.1 -15.2 0 12.3 0.1 -3.2 0 2.5 0.1 3.1 0 -2.9 0.1 -9.4 0 6.6 0.1 -2.8 0 4.7 0.1 2.2 0 -8.3 0.1 10.4 0 3.4 0.1 -9.9 0 6 0.1 -13.8 0 5.7 0.1 9.2 0 -17.1 0.1 7.7 0 -2.5 0.1 12.5 0 -0.1 0.1 -11.2 0 4.5 0.1 -17.1 0 21.4 0.1 -3.2 0 6 0.1 -23.1 0 16.9 0.1 -4.5 0 -14.1 0.1 11.9 0 3.7 0.1 5.4 0 -3.9 0.1 -4.5 0 5.9 0.1 -3.5 0 -3.4 0.1 -2.4 0 7.2 0.1 0 0 10.3 0.1 -14.3 0 12.7 0.1 -7.8 0 5 0.1 -13 0 0.1 0.1 3.5 0 7.4 0.1 -4.6 0 3.5 0.1 -2.8 0 4.4 0.1 -5.2 0 -4.6 0.1 6.4 0 -2.7 0.1 10.1 0 -11.9 0.1 1.5 0 -2.7 0.1 9 0 -1.9 0.1 -1.5 0 -11.9 0.1 -1.8 0 11 0.1 2.7 0 4.6 0.1 -20.4 0 9.9 0.1 -9.5 0 4.4 0.1 4.4 0 7.3 0.1 -9.4 0 -1.3 0.1 2.4 0 9.6 0.1 7.1 0 -24.7 0.1 7.8 0 -1.1 0.1 9.8 0 -4.7 0.1 6.8 0 -16 0.1 6.3 0 -3.1 0.1 -4 0 5.7 0.1 -6.5 0 20.7 0.1 -11 0 -9 0.1 2.4 0 14.4 0.1 -13.8 0 7.1 0.1 -0.8 0 3.1 0.1 -3 0 -5.4 0.1 -2.4 0 -7.5 0.1 10.6 0 1 0.1 -3.2 0 1.3 0.1 -6.8 0 20.9 0.1 -16.7 0 -3.4 0.1 2.6 0 2.5 0.1 5.5 0 -19.7 0.1 18.1 0 -7.1 0.1 2.6 0 7.3 0.1 -1.7 0 -9.1 0.1 3.5 0 12.1 0.1 -3.3 0 -3.2 0.1 -5.4 0 5.8 0.1 -3.6 0 -6 0.1 -2.9 0 9.3 0.1 -1 0 5 0.1 -10.6 0 11.6 0.1 -11.1 0 10 0.1 -4.6 0 -7 0.1 -2.5 0 5.1 0.1 -1.1 0 7.4 0.1 -10.2 0 -5 0.1 8.9 0 11.9 0.1 -1.9 0 -14.1 0.1 2 0 3.6 0.1 -6.2 0 2.5 0.1 -0.3 0 -4.9 0.1 2.5 0 0.7 0.1 4.4 0 -8.9 0.1 7.8 0 -6.8 0.1 0.9 0 -2 0.1 23.5 0 -9 0.1 0.4 0 -3.4 0.1 -6.6 0 1.7 0.1 1.3 0 0.9 0.1 0.8 0 5.6 0.1 -26.3 0 13.2 0.1 7.5 0 -6.5 0.1 1.1 0 10.1 0.1 -8.2 0 9.8 0.1 -11.4 0 1.6 0.1 -8.2 0 -5.7 0.1 9.6 0 3 0.1 -2.6 0 -6.3 0.1 12.4 0 -3.7 0.1 -0.5 0 -4.9 0.1 15 0 -1.2 0.1 -7.3 0 -2.7 0.1 2.3 0 8.9 0.1 6.1 0 -16.7 0.1 -2.8 0 -8.6 0.1 27.9 0 -23.7 0.1 12.2 0 -2.3 0.1 5.1 0 -13.7 0.1 -4.8 0 10.9 0.1 1.6 0 4.5 0.1 -17.6 0 7.6 0.1 1.1 0 -6.8 0.1 7.3 0 5.9 0.1 -5.2 0 -8.8 0.1 11 0 3.1 0.1 -2 0 1.5 0.1 -15.3 0 13.1 0.1 0.8 0 -6.1 0.1 1.9 0 -4.5 0.1 12.4 0 -9.6 0.1 -4 0 6.9 0.1 -0.5 0 3.4 0.1 -9.3 0 0.9 0.1 6.6 0 11.4 0.1 -11 0 -11.4 0.1 9.5 0 -5.9 0.1 -6.7 0 7.2 0.1 0.6 0 6.2 0.1 5.5 0 -1.1 0.1 -2.1 0 -7.7 0.1 3.6 0 -1.3 0.1 9 0 -12.8 0.1 0.6 0 12.6 0.1 -5.7 0 -6.4 0.1 3.8 0 -0.2 0.1 0.2 0 3.8 0.1 -2.7 0 -3.5 0.1 -2 0 -7.6 0.1 8 0 9.7 0.1 -5.7 0 -5.5 0.1 2.5 0 -3.8 0.1 7.1 0 10.6 0.1 -1.3 0 -3.8 0.1 -2.6 0 -6.3 0.1 -6.3 0 7.7 0.1 -2.9 0 7.9 0.1 -4.2 0 -4.6 0.1 6.4 0 13.8 0.1 -22.3 0 12.6 0.1 -3.3 0 -4.4 0.1 -4.1 0 4.8 0.1 1.2 0 3.4 0.1 -0.5 0 -2.4 0.1 -6.3 0 6.1 0.1 -4.9 0 -3.6 0.1 12 0 -9.8 0.1 -3.3 0 7.9 0.1 -12.6 0 11.5 0.1 3.2 0 -5.5 0.1 4.1 0 11.8 0.1 -4.6 0 -3.1 0.1 -2.1 0 -7 0.1 2.3 0 -1 0.1 1.9 0 0.5 0.1 -5.8 0 15 0.1 -16.5 0 8.6 0.1 4.2 0 -6.7 0.1 -4 0 4.3 0.1 11.8 0 -8.2 0.1 -5.8 0 5.4 0.1 -4.9 0 -10.5 0.1 13.1 0 4.9 0.1 0.7 0 -7.6 0.1 -8.4 0 16.1 0.1 -8.4 0 5.4 0.1 2.4 0 -4.9 0.1 -2.6 0 -3.5 0.1 1.1 0 2.8 0.1 -3.1 0 5.1 0.1 -14.4 0 5.7 0.1 6.1 0 -4.2 0.1 0.9 0 -3.8 0.1 11.2 0 5.9 0.1 -16.4 0 13.3 0.1 -16.2 0 9.9 0.1 -13.4 0 15.4 0.1 -2.9 0 0.7 0.1 6.6 0 -3.9 0.1 -3.9 0 -5 0.1 5.4 0 -4.7 0.1 1.7 0 11.7 0.1 -3.8 0 -3.7 0.1 2.1 0 -12.9 0.1 9.6 0 -11.2 0.1 6.3 0 6.4 0.1 0 0 2 0.1 -3.5 0 -0.7 0.1 -0.4 0 8.7 0.1 -0.7 0 -17.1 0.1 9.8 0 7.1 0.1 -9.6 0 2.9 0.1 -5.2 0 -3.7 0.1 8.2 0 -3.4 0.1 1.4 0 -8 0.1 1.7 0 6.3 0.1 -2 0 6.1 0.1 -10 0 10.8 0.1 -0.9 0 -3 0.1 3.3 0 -4.5 0.1 -0.8 0 1 0.1 -7.7 0 7.5 0.1 5.1 0 -14.9 0.1 14.2 0 -8.3 0.1 1.7 0 2.8 0.1 0.9 0 6.9 0.1 -9.4 0 11.5 0.1 -10.4 0 2.7 0.1 1.2 0 -8.3 0.1 -2.8 0 7.6 0.1 3.6 0 1 0.1 -7.5 0 13.1 0.1 -11.6 0 -3.4 0.1 11.4 0 0.4 0.1 -13.4 0 11 0.1 -12.9 0 8.1 0.1 13.9 0 -6.1 0.1 -3.5 0 -0.4 0.1 -9.1 0 7.2 0.1 0.7 0 -9.1 0.1 7.6 0 2.1 0.1 -2 0 1.3 0.1 -4.1 0 -5.5 0.1 7.1 0 -12.1 0.1 7.4 0 11.2 0.1 4.3 0 -8.6 0.1 -17.4 0 23.2 0.1 -5 0 -4.5 0.1 5.8 0 -1.3 0.1 -10.8 0 -0.7 0.1 14.5 0 -20.7 0.1 17.9 0 -1.8 0.1 4.1 0 4.7 0.1 -2.5 0 1.3 0.1 -4.5 0 -2 0.1 3.5 0 -6.8 0.1 -5.6 0 5.2 0.1 -9.5 0 6.5 0.1 16.1 0 -9.6 0.1 -4.3 0 -2.7 0.1 -7.3 0 7.6 0.1 -1.5 0 4.7 0.1 0.5 0 -1 0.1 -11.4 0 20.8 0.1 -6.3 0 -2.8 0.1 -2.1 0 4.7 0.1 5 0 -4 0.1 -11 0 -0.7 0.1 -6.9 0 15.4 0.1 3.5 0 3.1 0.1 -6.8 0 4.2 0.1 -10.8 0 8.9 0.1 -4.1 0 -3.4 0.1 -6.3 0 17.5 0.1 -21.2 0 17.8 0.1 -8.8 0 8.6 0.1 -7.2 0 8.1 0.1 -6.1 0 -5.1 0.1 3.2 0 -6.8 0.1 11.6 0 4.7 0.1 -3.8 0 -2 0.1 7.3 0 -15.3 0.1 10.7 0 -3.5 0.1 -3 0 6.3 0.1 -10.5 0 6.2 0.1 2.9 0 -9.4 0.1 5.7 0 4.7 0.1 2.6 0 -11.8 0.1 11.4 0 -7.4 0.1 2.3 0 -4 0.1 8.2 0 -9.3 0.1 6.1 0 0.6 0.1 2.3 0 -11.2 0.1 11.2 0 -4.6 0.1 8.8 0 -11.2 0.1 -1.4 0 3.1 0.1 -1.6 0 0.9 0.1 -6.9 0 -5.1 0.1 3.8 0 5.4 0.1 6.3 0 -4.6 0.1 -4.1 0 5 0.1 1.3 0 16.4 0.1 -8.9 0 -6.8 0.1 -10.2 0 7.9 0.1 -0.8 0 5.3 0.1 9.6 0 -13.5 0.1 -11.9 0 11.5 0.1 -9.7 0 15.5 0.1 1.7 0 -4.8 0.1 -11.3 0 8 0.1 8.6 0 -13.7 0.1 2.5 0 5.2 0.1 1.5 0 -2.6 0.1 1.6 0 -0.9 0.1 -4.9 0 3.1 0.1 2.2 0 -8.5 0.1 7.9 0 -0.6 0.1 2.2 0 -0.7 0.1 -8.7 0 -1.3 0.1 9.3 0 -2.5 0.1 1.6 0 -4.2 0.1 -4.4 0 9.5 0.1 -2.5 0 4.6 0.1 3 0 -0.1 0.1 -0.6 0 -12.1 0.1 -7.2 0 9.2 0.1 -3.7 0 -0.7 0.1 12.2 0 -14 0.1 15.6 0 1.1 0.1 9.7 0 -10.1 0.1 6.5 0 -17 0.1 -0.3 0 10.3 0.1 -14.2 0 15.2 0.1 -8.8 0 -10.5 0.1 23.6 0 -18.4 0.1 22.4 0 -24.7" fill="none" stroke="#0072BD" stroke-width="0.5" stroke-opacity="0.6" stroke-linejoin="round"/><path d="M137.2 321.7l0 2.3 0 -0.4 0.1 -3.4 0 3.6 0 0.2 0.1 0.5 0 -4.4 0 2.2 0 1 0.1 2 0 -1.4 0 -1.1 0 -0.1 0.1 4 0 -4.9 0 2.4 0 -5.1 0.1 7.9 0 -2.9 0 -5 0 5 0.1 1.7 0 -1.5 0 -1.8 0 1.6 0.1 -3.8 0 1 0 -0.4 0 0.8 0.1 -2.8 0 5.7 0 -3.8 0 -2.6 0.1 2 0 1.3 0 -0.9 0 2.6 0.1 -4 0 -1.2 0 3.2 0 1.9 0.1 -6.2 0 -1.8 0 2.3 0 1.4 0.1 -2.8 0 3.2 0 -3.1 0 4.9 0.1 -6.1 0 0.6 0 2.7 0 1.6 0.1 0.6 0 -5 0 2 0 1.4 0.1 2.6 0 -7.3 0 -1.3 0 5.3 0.1 -2.5 0 4.9 0 -4.3 0 0.8 0.1 -3.8 0 3.3 0 3 0 -5 0.1 -3.3 0 6.8 0 -4.2 0 1.1 0.1 -2.8 0 5.5 0 -6 0 0.8 0.1 1.5 0 -0.9 0 -6.4 0 8.5 0.1 -6 0 5 0 -2.5 0 0.8 0.1 -2.4 0 -1.4 0 4.3 0 0.1 0.1 2.8 0 -1.9 0 -4.8 0 7 0.1 3.1 0 -5.1 0 -3.7 0 -3.2 0.1 4 0 -6.2 0 8.7 0 -4.9 0.1 -0.9 0 3.2 0 -6.3 0 -2.2 0.1 5.2 0 6.6 0 -8.7 0 7 0.1 -11.5 0 7.3 0 2.3 0 5.3 0.1 -15.3 0 7.1 0 -3.7 0 5 0.1 -3.8 0 2.6 0 -3.8 0 0.8 0.1 4 0 4.6 0 -5.5 0 -0.5 0.1 -2.6 0 8.8 0 -15.3 0 -0.2 0.1 5.1 0 5.2 0 2.1 0 -1.7 0.1 0.8 0 -2.7 0 -2.8 0 -2.6 0.1 6.5 0 -6.2 0 5.9 0 1.4 0.1 -6 0 0.6 0 -0.5 0 5.4 0.1 -2.4 0 -3.7 0 4.1 0 5.4 0.1 -5.5 0 -0.8 0 -2.4 0 -2.4 0.1 4.1 0 0.2 0 -1.7 0 6.6 0.1 -6.4 0 0.2 0 1.6 0 1.4 0.1 -10.5 0 9.2 0 4.4 0 -10.7 0.1 6.7 0 -4.1 0 -2.3 0 5.6 0.1 -1.7 0 -8.6 0 6.3 0 6.3 0.1 -6.5 0 -0.7 0 1.6 0 -0.4 0.1 5.3 0 -7.3 0 -1.5 0 7.2 0.1 2.5 0 -1.4 0 0.6 0 -6.9 0.1 -3.8 0 3.5 0 3 0 -7.7 0.1 6.3 0 4 0 -5.9 0 12.3 0.1 -5.8 0 -9.1 0 0.3 0 1.9 0.1 6.5 0 -1.2 0 -4.8 0 3.3 0.1 2.9 0 -1.4 0 -10 0 2.4 0.1 0.7 0 -3.9 0 12.1 0 -7.1 0.1 -0.1 0 -0.9 0 5.3 0 1.1 0.1 0.5 0 2.6 0 -10.3 0 12 0.1 1.9 0 -12.2 0 0.7 0 4.5 0.1 3 0 -7.2 0 -2.7 0 13.6 0.1 -12.2 0 -7.3 0 12.1 0 2.2 0.1 3.4 0 0.2 0 1.2 0 -12.5 0.1 -2.2 0 -2.3 0 15.3 0 -10.5 0.1 -6.1 0 -1.7 0 10.4 0 -2.9 0.1 3.6 0 -5.8 0 0.5 0 5.8 0.1 -3.4 0 3.7 0 -3.5 0 -0.9 0.1 3.1 0 -3.5 0 2.4 0 1.3 0.1 -4.9 0 1.9 0 1 0 2.7 0.1 -2.2 0 -0.1 0 1 0 -3.9 0.1 3.2 0 -5.5 0 -5.6 0 11.1 0.1 -11.9 0 8.9 0 8.4 0 -4.2 0.1 -8.8 0 8.7 0 -2.6 0 -5.5 0.1 3.6 0 -2.2 0 1 0 3.2 0.1 -9.7 0 12.1 0 5.8 0 -11.1 0.1 -4.2 0 2.8 0 8.2 0 -8.9 0.1 4.9 0 7.8 0 -14.1 0 4.1 0.1 -3.5 0 0.9 0 2.5 0 -4.6 0.1 6.1 0 -1.5 0 5 0 -2.5 0.1 -1.7 0 5.7 0 -8.9 0 4.2 0.1 -6.6 0 10.6 0 -11.2 0 8.7 0.1 -8.9 0 4.9 0 -6.8 0 1.5 0.1 -1 0 7.1 0 0.4 0 1.1 0.1 -1.9 0 -3.2 0 4.5 0 4.6 0.1 -10.2 0 -2 0 6.7 0 7.1 0.1 -10.6 0 -1.3 0 -3.7 0 1.4 0.1 -1.2 0 -0.2 0 10.5 0 1 0.1 -6.2 0 0 0 3.6 0 -4.2 0.1 0.4 0 2.4 0 -3.4 0 6.9 0.1 3.1 0 -10 0 1.4 0 -5.9 0.1 1.9 0 2.7 0 1.6 0 -3.2 0.1 -5.4 0 8.2 0 -4.9 0 4.8 0.1 -3.3 0 0.3 0 0.2 0 -10.8 0.1 17.5 0 -11.3 0 6.5 0 1 0.1 -6 0 -4.2 0 10 0 -8.1 0.1 4.5 0 2.7 0 -4.9 0 -6.6 0.1 5.3 0 6.1 0 -6.9 0 8.7 0.1 -12.7 0 2.9 0 -4.3 0 4.1 0.1 12.9 0 -5.1 0 -4.5 0 -1.9 0.1 9.1 0 -6.7 0 -4.6 0 13.2 0.1 -15.1 0 7.8 0 2.3 0 1.6 0.1 5.1 0 -5.9 0 -8.1 0 9.6 0.1 -4.6 0 -8 0 0.6 0 1.3 0.1 -6.5 0 12.9 0 0.6 0 -0.5 0.1 -7 0 4 0 6.5 0 -4.4 0.1 -2.8 0 -3.2 0 3.6 0 6.8 0.1 -6.6 0 10.2 0 -0.1 0 -6.7 0.1 -12.4 0 7.2 0 7.9 0 -9.7 0.1 -0.7 0 3.6 0 10.3 0 -13 0.1 -7.8 0 11.6 0 0.5 0 1.8 0.1 -3.6 0 1.3 0 -4.3 0 7.4 0.1 -5.2 0 2.8 0 -6.7 0 11.1 0.1 -6.1 0 -3.6 0 2.4 0 -6.1 0.1 2.6 0 7.4 0 -1.2 0 1.1 0.1 -0.7 0 -5.3 0 1.9 0 9.4 0.1 -10.6 0 -7.6 0 7.9 0 -2.2 0.1 1.5 0 0.6 0 -5.6 0 7.6 0.1 -3.2 0 3.9 0 -6.9 0 -1.6 0.1 2.8 0 10.9 0 -18.3 0 15.2 0.1 -6.1 0 6.2 0 -8.2 0 4.1 0.1 -0.2 0 8.8 0 -11.6 0 1.9 0.1 -5.4 0 5.5 0 -5.5 0 3.2 0.1 2.5 0 0.9 0 -7.8 0 0 0.1 10.8 0 -9 0 3.7 0 -2.6 0.1 -6.8 0 7.6 0 -0.1 0 9.8 0.1 -19.3 0 7.1 0 5.9 0 -6.1 0.1 -7.5 0 13.4 0 -2.5 0 -5.4 0.1 -0.9 0 1.6 0 4.5 0 -2.1 0.1 -2.6 0 5.2 0 3.6 0 -8.7 0.1 11.2 0 -8.1 0 2.9 0 -1.1 0.1 0.4 0 -1.5 0 -11.5 0 5.1 0.1 9.5 0 -10.2 0 5.9 0 -8.8 0.1 4.9 0 11.1 0 -6.8 0 -5.9 0.1 1.1 0 -5.7 0 11.2 0 -3.8 0.1 5 0 0.2 0 -5.8 0 -3.5 0.1 -1.5 0 4.1 0 2.1 0 7.1 0.1 -12.3 0 7.2 0 -7.9 0 2.3 0.1 7 0 -1.4 0 -5.6 0 -0.7 0.1 9.1 0 -6.8 0 -0.8 0 -4 0.1 16.8 0 -1.8 0 -6.9 0 8.4 0.1 -8.7 0 -4.4 0 4.6 0 4.5 0.1 -13.3 0 12.3 0 -0.4 0 1.6 0.1 -5.3 0 3.2 0 -15 0 8.7 0.1 5.7 0 -2.6 0 -1.5 0 -8.1 0.1 5.6 0 -8.3 0 7.8 0 2.9 0.1 -4.5 0 5.1 0 -2.6 0 4.6 0.1 -6.6 0 -6.6 0 1.7 0 2.5 0.1 3.9 0 0.5 0 -4.5 0 4.4 0.1 -4.1 0 6.7 0 -10.4 0 13 0.1 -4.7 0 -3.6 0 -3.6 0 8.5 0.1 -6.1 0 6.5 0 6.1 0 -8.8 0.1 0.4 0 1.5 0 -5.7 0 12.9 0.1 -11.3 0 4.7 0 -1.9 0 -4.9 0.1 10.2 0 -5.2 0 -5.5 0 0 0.1 -6.7 0 4.4 0 9.9 0 0.1 0.1 -9.4 0 8.1 0 1.8 0 -1.1 0.1 2.4 0 -16.6 0 11 0 -6.1 0.1 8.5 0 -7.5 0 4.3 0 4 0.1 -12.9 0 4.7 0 -0.4 0 3.4 0.1 -8.1 0 12.2 0 5.7 0 -11.5 0.1 4.1 0 -13.9 0 4.7 0 9.7 0.1 -2.1 0 1.9 0 3.4 0 -6.6 0.1 -1.9 0 -1.2 0 2.9 0 -11.5 0.1 18.5 0 -18.6 0 2.3 0 8.6 0.1 4.5 0 -2.1 0 4.9 0 -10.3 0.1 -1.2 0 6.2 0 -8.8 0 6.9 0.1 1.5 0 -1.2 0 -12.2 0 9.2 0.1 -9.4 0 15 0 -6.9 0 7.5 0.1 1.7 0 -14.1 0 11.9 0 -2.8 0.1 5.7 0 -14.5 0 -0.1 0 2.5 0.1 -5.6 0 10.4 0 -4.5 0 4.7 0.1 0.8 0 2.5 0 -11.4 0 10.8 0.1 -0.1 0 -9.1 0 1.9 0 -4.4 0.1 14 0 0.6 0 -11.6 0 3.9 0.1 2.6 0 1.5 0 -4.1 0 9 0.1 -13.6 0 9.4 0 -4.1 0 1 0.1 -5.4 0 -5.3 0 6.4 0 5.1 0.1 -6.9 0 -4.5 0 7.9 0 0.8 0.1 -5.2 0 4.6 0 2.7 0 -1.1 0.1 3.7 0 1.4 0 -6.5 0 -4.1 0.1 -4.9 0 14.3 0 -3.4 0 3.4 0.1 -9.6 0 4.9 0 -5 0 -0.5 0.1 -2.9 0 6.4 0 3.6 0 1.6 0.1 -2.9 0 -2.8 0 12 0 -2.5 0.1 -2.8 0 -4.6 0 5.9 0 -10.7 0.1 -2.8 0 9.9 0 -2.4 0 4.5 0.1 -9.7 0 5.7 0 -7.1 0 3.6 0.1 4.2 0 -2.9 0 -4.6 0 -2.8 0.1 5.6 0 -2.9 0 -2.8 0 8 0.1 -5.3 0 11.4 0 4 0 -4.9 0.1 4.8 0 -17.2 0 -2.7 0 8.2 0.1 -8.5 0 9.9 0 3.8 0 -0.5 0.1 0.9 0 -6.2 0 0.6 0 1.6 0.1 -1.6 0 5.1 0 -7.1 0 1.9 0.1 -3.5 0 8.6 0 -4.4 0 0 0.1 -3.4 0 -6.8 0 6.9 0 -8.1 0.1 10 0 -6.2 0 13.1 0 -10.1 0.1 3 0 -2.3 0 -3.5 0 -2.2 0.1 -2.3 0 6.9 0 -7 0 16.2 0.1 -12.8 0 3.6 0 2.9 0 -0.7 0.1 6.9 0 -6.6 0 -2.2 0 1.9 0.1 8.6 0 -4 0 -14.4 0 9.1 0.1 -3.8 0 4.9 0 3.1 0 -3.3 0.1 3.1 0 5.6 0 -18.1 0 8.9 0.1 0.5 0 2 0 -1.9 0 4.3 0.1 -5 0 2.3 0 -10.5 0 9.1 0.1 -7.4 0 9.3 0 6.2 0 -9.6 0.1 2.5 0 1.6 0 3.3 0 -3.2 0.1 2.3 0 -9.2 0 2.3 0 -7.3 0.1 18.1 0 -16.7 0 10.9 0 -4 0.1 -0.3 0 -6.8 0 5.9 0 0.6 0.1 1.6 0 -3.9 0 2.9 0 -6.3 0.1 11.3 0 -9.8 0 13.8 0 -12.1 0.1 -1.8 0 4.3 0 -1.7 0 6.3 0.1 0.7 0 -9.7 0 -0.3 0 -0.5 0.1 6.4 0 2.6 0 -1.7 0 -4.3 0.1 0.9 0 3.3 0 3 0 -6.8 0.1 6.3 0 -8 0 2.8 0 4.8 0.1 -10.5 0 -4.6 0 3.2 0 5 0.1 -4.7 0 4.6 0 7.8 0 -9.1 0.1 8.8 0 -2.5 0 -10.2 0 10.6 0.1 -0.6 0 0.5 0 -4 0 0.2 0.1 -4.4 0 -1.7 0 4.3 0 3.9 0.1 -6.9 0 11.6 0 -10.9 0 4 0.1 -8.7 0 15.1 0 -4.4 0 3 0.1 -13.2 0 13.9 0 -5.1 0 -5.8 0.1 1.1 0 -5.8 0 6.9 0 5.5 0.1 -9.2 0 6.4 0 -8.3 0 -4.9 0.1 10.1 0 8.6 0 -1.5 0 -9.9 0.1 10.1 0 -1.3 0 -3.5 0 -3.9 0.1 6.9 0 -5.7 0 -1.7 0 7.5 0.1 -9.2 0 7.1 0 4.2 0 -11.5 0.1 4.4 0 1.9 0 -12.2 0 6.6 0.1 -0.4 0 0 0 -1.8 0 11.2 0.1 -11.5 0 4.1 0 3.6 0 5 0.1 -16.7 0 1.5 0 1.2 0 3.9 0.1 6.5 0 -5.7 0 1.4 0 7.2 0.1 -9.8 0 2.6 0 9.4 0 -6.3 0.1 -7.4 0 -0.2 0 9.2 0 -11.9 0.1 1.3 0 8.8 0 2.8 0 1.7 0.1 -14 0 7.8 0 -13.5 0 6.2 0.1 14.8 0 -2.2 0 -4.5 0 -8.7 0.1 -1.7 0 12.4 0 -6.8 0 -3.4 0.1 8 0 -0.3 0 -7.3 0 1.3 0.1 12.5 0 -15.5 0 10.5 0 -9.1 0.1 -0.9 0 -1 0 4.8 0 0.5 0.1 3.9 0 -7.8 0 6 0 -5.2 0.1 -1 0 7.2 0 -1 0 -10.5 0.1 8.8 0 -10.6 0 4 0 14.1 0.1 -1.7 0 -8 0 4.2 0 3.4 0.1 2.4 0 -0.1 0 -13.1 0 3.7 0.1 0.8 0 -11.3 0 6.7 0 6 0.1 -3.3 0 -2.1 0 -3 0 3.1 0.1 2.8 0 -1.5 0 7.6 0 -1.7 0.1 -11.1 0 11.6 0 -4.8 0 3.9 0.1 -7.5 0 8.1 0 -8.5 0 9.1 0.1 -5.6 0 -1.2 0 -5.6 0 -1.6 0.1 13 0 -10.5 0 -0.3 0 8.3 0.1 -2 0 2.9 0 -10 0 -3.7 0.1 5.7 0 10 0 -5.4 0 2.4 0.1 0.4 0 -1.9 0 0 0 -2 0.1 2.2 0 0.6 0 -5.2 0 6.5 0.1 -3.1 0 -0.5 0 -0.4 0 5.4 0.1 -5.4 0 7 0 -11.6 0 8.3 0.1 -11.2 0 8.4 0 -3 0 0.2 0.1 -3.1 0 5.3 0 3 0 -12.5 0.1 8.9 0 1.6 0 2.2 0 -1.4 0.1 -7.5 0 10.8 0 -9.8 0 7.1 0.1 -1.6 0 -4.1 0 -1.7 0 3.6 0.1 8.6 0 -4.2 0 -6.4 0 6.8 0.1 4.9 0 1.8 0 -19.6 0 12.8 0.1 0.5 0 -8.6 0 -5.6 0 16.4 0.1 -9.1 0 -6.1 0 2.9 0 9.4 0.1 6.7 0 -5.7 0 -9.5 0 11.2 0.1 -16.5 0 15 0 -0.4 0 4.6 0.1 -4.3 0 0.8 0 -5.4 0 -2.4 0.1 2 0 9.9 0 -13.1 0 2.7 0.1 -2.2 0 6 0 -1 0 7.9 0.1 -0.1 0 -4.4 0 -1.3 0 -5.4 0.1 -7.2 0 8.7 0 -0.6 0 -6.2 0.1 7.1 0 3.9 0 -9.8 0 9.3 0.1 -2.5 0 -5 0 3.4 0 3.4 0.1 -5 0 0.6 0 7.3 0 -4 0.1 -0.1 0 -5.5 0 6.3 0 4.2 0.1 -12.9 0 -3.8 0 4.5 0 3.5 0.1 -4.6 0 -3.7 0 17.6 0 -10.9 0.1 -2.1 0 -6.4 0 15.5 0 -13.1 0.1 15.2 0 -4 0 -1.9 0 -2.3 0.1 6.2 0 -8.1 0 5 0 -4.7 0.1 1 0 10 0 -2.5 0 -10.8 0.1 0.3 0 4.8 0 -0.9 0 3.3 0.1 -4.7 0 -3.5 0 9.9 0 -5.6 0.1 4.8 0 -8.5 0 12.8 0 -6.5 0.1 -0.1 0 0.6 0 -10.4 0 12.1 0.1 -6.6 0 -3.2 0 8 0 7.1 0.1 -12.9 0 12 0 -18.9 0 12.2 0.1 -4.8 0 4.5 0 9.1 0 -6.9 0.1 -11.6 0 15.8 0 -13.5 0 2.6 0.1 -1.8 0 5.5 0 -1.3 0 9.3 0.1 -6.9 0 1.9 0 -4.6 0 6.8 0.1 -11.6 0 -2.1 0 12.4 0 -0.7 0.1 -3.8 0 10.1 0 -15.1 0 12.4 0.1 0.5 0 -14.8 0 9.6 0 1.2 0.1 -4.9 0 0 0 0.4 0 -4.4 0.1 -2.7 0 11.5 0 -3 0 -1 0.1 2.6 0 -7.2 0 0.9 0 7.7 0.1 -4.4 0 2.6 0 3.2 0 3.5 0.1 -14.2 0 1.8 0 -4.7 0 4 0.1 6.3 0 -5.6 0 13.2 0 -12.6 0.1 -7.3 0 4.7 0 15.1 0 -15.1 0.1 4.3 0 -4 0 -1.5 0 12 0.1 -12.6 0 -3.2 0 5.6 0 0.4 0.1 5.8 0 -1.7 0 5.9 0 -7.7 0.1 3.4 0 0.3 0 2.8 0 -12 0.1 4.7 0 -8.9 0 6.4 0 -2.3 0.1 1.8 0 12.9 0 -2.8 0 -13.6 0.1 17.6 0 -2.8 0 -5.8 0 -1.6 0.1 -0.2 0 0.5 0 3.6 0 -4.9 0.1 6.7 0 -7.1 0 -1.9 0 2.9 0.1 2.4 0 0.5 0 -2.4 0 -8 0.1 0.9 0 -2 0 7.6 0 5.1 0.1 -3.5 0 -0.5 0 -2.3 0 0.7 0.1 -1.7 0 9.1 0 -12.2 0 1.9 0.1 7.2 0 -4.5 0 5.4 0 -6 0.1 4.7 0 -1.1 0 -8 0 9.7 0.1 3.7 0 -10.2 0 2.8 0 4.1 0.1 4.7 0 -6.2 0 8.5 0 -12.6 0.1 12.3 0 -14.1 0 3.8 0 -4.8 0.1 10.1 0 -1.9 0 -12.6 0 -1.5 0.1 21.1 0 -12 0 -7.3 0 4 0.1 2.3 0 10.8 0 -6.1 0 -2.1 0.1 -5.3 0 8.5 0 -12.8 0 15.2 0.1 -0.8 0 -7.7 0 -5.5 0 4.7 0.1 2.6 0 11 0 -1.5 0 -12.4 0.1 -0.6 0 -3.3 0 9.2 0 -4.9 0.1 6.6 0 -3.4 0 -3.2 0 -2.5 0.1 -3.1 0 11.5 0 -10.1 0 10.7 0.1 -12.5 0 -1.9 0 10.6 0 -3.2 0.1 7.9 0 -4.8 0 -0.4 0 4.9 0.1 -8.1 0 6.9 0 7 0 -9.2 0.1 -6.1 0 4.7 0 -4.1 0 2.4 0.1 10.6 0 -14 0 -1.3 0 9.2 0.1 -4.9 0 1.2 0 -2.4 0 4.6 0.1 6.4 0 -4.4 0 -5.6 0 0.4 0.1 -3 0 0.2 0 9.5 0 -2.1 0.1 -0.4 0 0.2 0 -6 0 3.3 0.1 2.8 0 5.6 0 -7 0 -1 0.1 -4.6 0 9.6 0 -6.8 0 2.7 0.1 0.7 0 -6.2 0 5.6 0 4.4 0.1 -10.6 0 1.9 0 -1.5 0 4.8 0.1 9.6 0 -8.5 0 4.8 0 -5.3 0.1 -3.4 0 2.2 0 1.2 0 -2.3 0.1 0.6 0 0.8 0 -3.7 0 11.2 0.1 -5.7 0 -2.9 0 -2.4 0 4.9 0.1 -6 0 -2.5 0 4.6 0 8.4 0.1 -7.6 0 2 0 -6 0 7.7 0.1 -5.6 0 -0.1 0 -1.1 0 3.3 0.1 -4.8 0 3.3 0 1.1 0 -4 0.1 -5.2 0 12.4 0 -8.8 0 -3.7 0.1 10.2 0 -0.3 0 6 0 0.9 0.1 -17.4 0 7.7 0 4.4 0 -8.5 0.1 13 0 -4.2 0 -5.3 0 0.7 0.1 4.4 0 8.7 0 -0.3 0 -17.6 0.1 10.6 0 -10.8 0 7 0 -4.5 0.1 3.6 0 -0.8 0 4.2 0 -5.9 0.1 7.6 0 -4.3 0 -4.2 0 12.4 0.1 -5.9 0 -2.8 0 1.5 0 3.2 0.1 -4.4 0 -2.4 0 2.3 0 -2.1 0.1 0.1 0 11.2 0 -4.4 0 2.9 0.1 -9.6 0 -6.6 0 7.2 0 4.7 0.1 -5.3 0 3.5 0 -6 0 7.6 0.1 -4.9 0 2.3 0 3.5 0 -7.4 0.1 -1.7 0 1.3 0 7.2 0 -4.8 0.1 7.3 0 -2.8 0 3 0 -4.8 0.1 5.3 0 -2.5 0 -13.9 0 17.5 0.1 -2.9 0 -6.6 0 -4.2 0 -3.4 0.1 10.4 0 -5.2 0 -1.6 0 0.9 0.1 -3.4 0 13.4 0 -9.5 0 4.5 0.1 0.9 0 1.1 0 -2.8 0 5.1 0.1 -7.4 0 13.4 0 -18.6 0 11.9 0.1 6.7 0 -15.4 0 12.5 0 2.8 0.1 -12.7 0 10.4 0 -11 0 4.6 0.1 -2.8 0 -3.9 0 -0.7 0 2.7 0.1 -4.9 0 8.8 0 -0.2 0 5 0.1 -3.6 0 -3 0 -0.9 0 12 0.1 -18.4 0 1.1 0 17.3 0 -4.7 0.1 -4.7 0 1.9 0 2.4 0 -13 0.1 6.1 0 5.4 0 -0.3 0 2.4 0.1 -4.6 0 -3.1 0 -1.3 0 6.4 0.1 -3.4 0 2.6 0 4.9 0 -0.9 0.1 -13.1 0 12.7 0 -11.2 0 -3.5 0.1 18.7 0 -8.6 0 -4.6 0 0.9 0.1 7 0 5.2 0 -3.1 0 -8 0.1 -5 0 5.5 0 5.9 0 -2.6 0.1 -9.6 0 7.5 0 2.6 0 -8.1 0.1 9.5 0 3 0 -2.9 0 -9.3 0.1 3 0 1.1 0 -1.5 0 6.4 0.1 -4.1 0 -0.5 0 1.7 0 -4.1 0.1 -4.7 0 7.6 0 -2.4 0 5.3 0.1 -2.3 0 -2.6 0 7 0 -5.8 0.1 -6.6 0 14.8 0 -2.1 0 -6.2 0.1 -8.2 0 3 0 10.3 0 -5.5 0.1 -1.5 0 4.2 0 -5.4 0 0.4 0.1 8.9 0 -3.6 0 1.3 0 -0.9 0.1 2.4 0 -1.2 0 -8.5 0 3.1 0.1 9.6 0 -7.7 0 8.2 0 -10.7 0.1 -5.6 0 7.6 0 -3.1 0 -1 0.1 -0.3 0 -6.7 0 13.4 0 -3.6 0.1 -4.1 0 -3.6 0 11.8 0 -3.3 0.1 3.3 0 -1.5 0 1.9 0 -4.1 0.1 -7.5 0 8.5 0 3.7 0 -12 0.1 5 0 9.8 0 -13.9 0 13.3 0.1 -11.8 0 -3.7 0 5.7 0 -0.6 0.1 8.1 0 -15.8 0 5.8 0 0 0.1 -0.8 0 6 0 -3.4 0 2.7 0.1 -1.3 0 6.9 0 -9 0 3.5 0.1 4.2 0 -1.7 0 -2.6 0 4.2 0.1 -2.1 0 0.2 0 -1.9 0 4.7 0.1 0.5 0 -8.6 0 6 0 -0.6 0.1 1.3 0 -7.2 0 -2.5 0 5.2 0.1 6.7 0 -10.9 0 10.3 0 -4.9 0.1 0.7 0 0.1 0 -2.8 0 0.6 0.1 4.4 0 4.7 0 -7 0 1.3 0.1 -6.6 0 3.7 0 6.1 0 0.2 0.1 -7.2 0 1.2 0 -2 0 -2.2 0.1 7 0 -4.9 0 10 0 -18.9 0.1 1.6 0 2.6 0 6.7 0 -1.2 0.1 -3.2 0 -6.6 0 11.5 0 -9.4 0.1 15.7 0 -6.6 0 -4.6 0 2.5 0.1 9.7 0 -10.2 0 -4.2 0 -4.6 0.1 9.6 0 -3.1 0 9.9 0 -5.2 0.1 4.8 0 -7.8 0 -2.3 0 9.4 0.1 -5.8 0 -3 0 3.3 0 5.7 0.1 -8.6 0 13.5 0 -7.5 0 -8.9 0.1 0.5 0 5.4 0 -1.5 0 -0.2 0.1 1.2 0 2.1 0 -2.7 0 -1.5 0.1 -7.1 0 18.4 0 -7.9 0 2.3 0.1 -2 0 5.7 0 -6.6 0 6.4 0.1 -9.5 0 1.7 0 4 0 0.3 0.1 3.1 0 -9.2 0 5.4 0 -5.2 0.1 -4.7 0 12.6 0 -5.6 0 -4.7 0.1 1.1 0 6.7 0 -2.8 0 -0.6 0.1 4 0 -3.6 0 -9.2 0 13.7 0.1 -6.9 0 0.6 0 -8.6 0 0 0.1 10.6 0 -2.7 0 2.4 0 1.5 0.1 3.2 0 2.2 0 -0.5 0 -11.5 0.1 1 0 4.7 0 6.8 0 -1.5 0.1 -8.6 0 -3.5 0 7.7 0 -2.5 0.1 4.5 0 0.6 0 -2.4 0 -6.4 0.1 -1.7 0 4.9 0 3.9 0 -2.8 0.1 4 0 -5.8 0 7.8 0 -3.9 0.1 -3.5 0 -2.1 0 3 0 1.2 0.1 7.7 0 -7.7 0 3 0 -14.2 0.1 15.8 0 -5.5 0 -4.4 0 -5.9 0.1 6.2 0 12.9 0 -4.2 0 -0.2 0.1 -6.6 0 5.7 0 -0.1 0 -1.4 0.1 -6.6 0 1.6 0 1.6 0 12 0.1 -20.7 0 18.8 0 -1.3 0 -6.2 0.1 3.1 0 -2.3 0 1 0 -6 0.1 -7.2 0 20.7 0 -1.4 0 -16.4 0.1 13.2 0 -8.1 0 4.6 0 -7.9 0.1 -0.2 0 15.4 0 -12.2 0 1.9 0.1 4.1 0 4.1 0 -10.3 0 5.7 0.1 0.8 0 -7.1 0 0.1 0 6.2 0.1 -3.9 0 8.9 0 -17.7 0 12.2 0.1 -3.6 0 -6.5 0 6.7 0 -6.9 0.1 5.7 0 7.5 0 -9.5 0 6.9 0.1 -1.6 0 -4.2 0 1.1 0 2.6 0.1 0.6 0 -4.4 0 1.8 0 4.9 0.1 -9.3 0 -0.9 0 7.7 0 0.8 0.1 -13 0 11.1 0 6.7 0 -2.9 0.1 -6.2 0 3.8 0 -10.5 0 11.8 0.1 -1.8 0 3 0 -5.3 0 4.3 0.1 -5.8 0 7.9 0 -3.3 0 -11.7 0.1 0.7 0 11.4 0 2.3 0 1.6 0.1 -9.4 0 3.8 0 -2.7 0 -1.9 0.1 2.2 0 7.7 0 -8.8 0 11.7 0.1 -16.2 0 5.1 0 4.5 0 0 0.1 -2 0 -9.5 0 7.4" fill="none" stroke="#0072BD" stroke-width="0.45" stroke-opacity="1.0" stroke-linejoin="round"/></g>
<g clip-path="url(#cD)"><path d="M221.5 267.5l0.1 0.5 0.1 1.8 0.1 -1 0.1 -2.3 0.1 1.6 0.1 -0.6 0.1 0.8 0.1 -1.8 0.1 1.9 0.1 -0.1 0.1 1.4 0.1 -1.3 0.1 0.2 0.1 -2 0.1 3.7 0.1 -4.1 0.1 3 0.1 -1.5 0.1 -0.5 0.1 0.2 0.1 0 0.1 1 0.1 -0.5 0.1 1.6 0.1 -3.3 0.1 1.8 0.1 -0.9 0.1 1.7 0.1 -2.9 0.1 1.7 0.1 0.6 0.1 -1.7 0.1 2.4 0.1 -0.8 0.1 0.9 0.1 -0.1 0.1 -1.9 0.1 0.1 0.1 0.6 0.1 1 0.1 0.1 0.1 -1.6 0.1 0.1 0.1 -0.2 0.1 0.2 0.1 0.3 0.1 0.1 0.1 2.2 0.1 -2.6 0.1 0.3 0.1 0.7 0.1 -1.4 0.1 0.6 0.1 0.3 0.1 0.8 0.1 -2.1 0.1 2.7 0.1 -1.8 0.1 0.5 0.1 0.7 0.1 -0.2 0.1 0.4 0.1 -0.9 0.1 -0.2 0.1 0.3 0.1 -1.3 0.1 2.2 0.1 -2 0.1 -0.5 0.1 3.3 0.1 -2.2 0.1 -1 0.1 3 0.1 -2.2 0.1 1.4 0.1 -1.9 0.1 0.6 0.1 -1.5 0.1 -0.2 0.1 0.9 0.1 0.9 0.1 0.9 0.1 1.6 0.1 -3.4 0.1 2 0.1 -1.6 0.1 0.5 0.1 -1.4 0.1 0.1 0.1 0.7 0.1 -0.4 0.1 1.2 0.1 -0.7 0.1 1.9 0.1 -1 0.1 0 0.1 1 0.1 -0.6 0.1 -0.6 0.1 0 0.1 0 0.1 1.2 0.1 -0.3 0.1 -0.4 0.1 0.4 0.1 -1.3 0.1 1.1 0.1 -1.9 0.1 2.8 0.1 -1.3 0.1 0.1 0.1 0.5 0.1 -0.6 0.1 -0.3 0.1 1.5 0.1 -1.1 0.1 -1 0.1 1.4 0.1 -2.1 0.1 3.3 0.1 -1.8 0.1 0.3 0.1 2.2 0.1 -0.1 0.1 -2 0.1 0.5 0.1 0.5 0.1 0.6 0.1 -1.8 0.1 0.3 0.1 1.1 0.1 -0.9 0.1 0.5 0.1 -0.2 0.1 -1.7 0.1 0.3 0.1 -1.8 0.1 2.4 0.1 1.7 0.1 -2.5 0.1 2.4 0.1 -0.2 0.1 -1.1 0.1 0.1 0.1 0.1 0.1 -1 0.1 0.6 0.1 0.2 0.1 0.6 0.1 0.2 0.1 -1.6 0.1 1.6 0.1 -1.7 0.1 0.6 0.1 0.5 0.1 -0.4 0.1 -0.1 0.1 0.4 0.1 -0.9 0.1 -0.1 0.1 0.4 0.1 1.2 0.1 -1.1 0.1 1.9 0.1 -1.7 0.1 -3.2 0.1 2.5 0.1 2.1 0.1 -1.7 0.1 -0.4 0.1 -0.5 0.1 2.2 0.1 -0.4 0.1 -0.3 0.1 -0.3 0.1 1 0.1 -0.7 0.1 -2 0.1 1.9 0.1 -0.6 0.1 -0.3 0.1 0.9 0.1 -0.8 0.1 -3 0.1 4.5 0.1 -0.6 0.1 -1.1 0.1 -0.3 0.1 0.6 0.1 -1.6 0.1 1.6 0.1 -0.6 0.1 -0.1 0.1 -0.6 0.1 0.2 0.1 1.8 0.1 0.2 0.1 -0.9 0.1 -0.6 0.1 -0.8 0.1 1.6 0.1 0.8 0.1 -3.2 0.1 2.7 0.1 -3.3 0.1 1.8 0.1 0.7 0.1 -1.8 0.1 -0.2 0.1 1.7 0.1 0.7 0.1 -1.4 0.1 1.8 0.1 -2.2 0.1 2.5 0.1 -1.6 0.1 0.1 0.1 0.3 0.1 -0.3 0.1 1.5 0.1 0.3 0.1 -1.6 0.1 -0.8 0.1 -1 0.1 0.4 0.1 0.7 0.1 -0.1 0.1 0 0.1 0 0.1 0.5 0.1 -1.9 0.1 0.3 0.1 2.2 0.1 -0.4 0.1 -1.3 0.1 1.8 0.1 -2 0.1 0.4 0.1 -1.6 0.1 2.7 0.1 -0.8 0.1 1 0.1 -0.3 0.1 -0.6 0.1 0 0.1 1 0.1 -1.3 0.1 0 0.1 0.2 0.1 0.7 0.1 0.2 0.1 1 0.1 -2 0.1 1.3 0.1 -1.9 0.1 1.2 0.1 -0.4 0.1 1.6 0.1 -1.2 0.1 -1 0.1 1 0.1 -0.2 0.1 -0.7 0.1 0 0.1 -0.6 0.1 3.7 0.1 -2.6 0.1 0.8 0.1 -2.1 0.1 0 0.1 1 0.1 0 0.1 0.9 0.1 -1.8 0.1 1.5 0.1 1 0.1 -2.4 0.1 1.8 0.1 -1.9 0.1 1.3 0.1 0.1 0.1 1.3 0.1 -2.4 0.1 0.9 0.1 0.8 0.1 -2.2 0.1 1.2 0.1 -0.9 0.1 0.2 0.1 1.4 0.1 0 0.1 1.8 0.1 -1.2 0.1 0 0.1 -1.5 0.1 -0.1 0.1 0.4 0.1 -2.4 0.1 3.9 0.1 -2.3 0.1 -0.4 0.1 0.6 0.1 1.3 0.1 0.4 0.1 -1.6 0.1 0.8 0.1 -0.5 0.1 -1 0.1 1.2 0.1 -0.2 0.1 -1.5 0.1 2.6 0.1 -2.7 0.1 1.8 0.1 -1.3 0.1 0.3 0.1 0.1 0.1 1.4 0.1 -2 0.1 1.1 0.1 1.7 0.1 -2.2 0.1 0.6 0.1 0.7 0.1 -1.2 0.1 1 0.1 -1.1 0.1 1.3 0.1 -0.6 0.1 -1 0.1 2.3 0.1 -1.5 0.1 -0.2 0.1 -0.6 0.1 0.4 0.1 0.4 0.1 0.3 0.1 0.9 0.1 -2.4 0.1 0.9 0.1 1.6 0.1 -1.1 0.1 0.3 0.1 1.1 0.1 -1.2 0.1 0.1 0.1 -0.5 0.1 1.8 0.1 -0.7 0.1 -1.8 0.1 1.3 0.1 -1.7 0.1 2.2 0.1 -0.4 0.1 -0.9 0.1 -0.2 0.1 -1.4 0.1 2.5 0.1 -0.9 0.1 -0.2 0.1 1.1 0.1 -1.4 0.1 0 0.1 -0.1 0.1 -0.7 0.1 3.8 0.1 -2.6 0.1 -0.2 0.1 1.3 0.1 -4.1 0.1 3.1 0.1 0.1 0.1 -1 0.1 1.4 0.1 -2.5 0.1 2 0.1 0.9 0.1 -3.2 0.1 0.8 0.1 1.3 0.1 0.1 0.1 -0.7 0.1 1 0.1 -0.1 0.1 -1.6 0.1 1.2 0.1 -1.2 0.1 -0.8 0.1 -0.3 0.1 3.4 0.1 -1.2 0.1 2.1 0.1 -3.4 0.1 1.1 0.1 0.6 0.1 -0.4 0.1 0.6 0.1 -0.4 0.1 -0.7 0.1 -1.7 0.1 1.3 0.1 2.7 0.1 -1 0.1 0.6 0.1 -1.9 0.1 0.4 0.1 -0.7 0.1 1.3 0.1 -0.4 0.1 0.4 0.1 1.3 0.1 -2.6 0.1 1.6 0.1 -2.2 0.1 2.5 0.1 -1.5 0.1 0.4 0.1 0.2 0.1 1.5 0.1 -1.7 0.1 -0.5 0.1 -0.7 0.1 1.5 0.1 -1.2 0.1 0.4 0.1 0.5 0.1 0.7 0.1 -1.4 0.1 1.4 0.1 1 0.1 -3.2 0.1 2.8 0.1 0.8 0.1 -2.7 0.1 1.2 0.1 -2 0.1 1.7 0.1 -0.7 0.1 0.7 0.1 -1.3 0.1 0.1 0.1 0.4 0.1 -0.3 0.1 0.1 0.1 0.4 0.1 -0.9 0.1 1 0.1 0.6 0.1 -2.8 0.1 2.5 0.1 -1 0.1 -0.3 0.1 -0.3 0.1 0.5 0.1 0.1 0.1 1.1 0.1 -1.6 0.1 2.3 0.1 -1.9 0.1 1.5 0.1 0.4 0.1 -2.3 0.1 2.3 0.1 1.1 0.1 -2.6 0.1 1.1 0.1 -0.7 0.1 0.2 0.1 -0.3 0.1 -0.3 0.1 1.2 0.1 0.2 0.1 -0.9 0.1 1.5 0.1 -0.4 0.1 -0.4 0.1 -1.4 0.1 2.6 0.1 -0.6 0.1 -3.4 0.1 1 0.1 0.6 0.1 1.5 0.1 0.3 0.1 -1.6 0.1 0.6 0.1 0.4 0.1 -2 0.1 1.9 0.1 -0.9 0.1 0.5 0.1 -0.2 0.1 -1.2 0.1 0.2 0.1 1 0.1 0.1 0.1 -0.4 0.1 1.3 0.1 -1.4 0.1 -0.9 0.1 0.9 0.1 0.2 0.1 0 0.1 1.3 0.1 -0.7 0.1 0.6 0.1 -0.5 0.1 -0.8 0.1 1.2 0.1 -1.3 0.1 0.5 0.1 -1.2 0.1 1.1 0.1 -0.5 0.1 0.7 0.1 1.5 0.1 0.5 0.1 -1.3 0.1 -1.1 0.1 0.9 0.1 -0.6 0.1 -0.9 0.1 0.5 0.1 -0.1 0.1 -0.4 0.1 2 0.1 -2 0.1 0.1 0.1 1.2 0.1 -1.4 0.1 -0.5 0.1 0.3 0.1 1.3 0.1 -0.1 0.1 -0.1 0.1 -0.8 0.1 -0.4 0.1 1.8 0.1 -2.4 0.1 1.3 0.1 -1.2 0.1 0.9 0.1 0.3 0.1 1.4 0.1 -4.1 0.1 4.2 0.1 -2.3 0.1 1.2 0.1 0.5 0.1 -1.6 0.1 0.7 0.1 0.6 0.1 -0.7 0.1 -0.6 0.1 0.9 0.1 0 0.1 -1.7 0.1 2.9 0.1 -1.2 0.1 -2.6 0.1 1.6 0.1 2.5 0.1 -0.1 0.1 -1.3 0.1 -2 0.1 1.4 0.1 1.3 0.1 -0.6 0.1 -0.8 0.1 -0.4 0.1 1.6 0.1 -1.1 0.1 0.6 0.1 0.1 0.1 1.2 0.1 -1.5 0.1 0.1 0.1 -2.1 0.1 2.9 0.1 -0.2 0.1 -0.9 0.1 -2.3 0.1 1.7 0.1 0.7 0.1 2 0.1 -1.5 0.1 0.2 0.1 0 0.1 0.5 0.1 -2.4 0.1 0.3 0.1 -0.4 0.1 0.9 0.1 0 0.1 0.4 0.1 -1.1 0.1 1.1 0.1 -0.9 0.1 2.9 0.1 -2.6 0.1 3.1 0.1 -0.9 0.1 -2.8 0.1 2.1 0.1 -0.3 0.1 -2.2 0.1 2.2 0.1 -0.7 0.1 0.4 0.1 -1.2 0.1 0.8 0.1 0.5 0.1 -0.6 0.1 -0.4 0.1 0.5 0.1 -0.8 0.1 1.3 0.1 -2.9 0.1 4.1 0.1 -1.5 0.1 0.4 0.1 0.4 0.1 -2.1 0.1 3.6 0.1 -3.4 0.1 1.6 0.1 -0.2 0.1 1 0.1 -1.3 0.1 -1.4 0.1 1.8 0.1 -2.8 0.1 2.3 0.1 -0.3 0.1 2 0.1 -1.8 0.1 -0.2 0.1 -0.3 0.1 0 0.1 0.3 0.1 1.1 0.1 -1.9 0.1 1.1 0.1 -1.2 0.1 1.3 0.1 0.3 0.1 -1.4 0.1 0.7 0.1 0.7 0.1 0.7 0.1 0.2 0.1 -1.1 0.1 -0.9 0.1 -0.6 0.1 2.4 0.1 0.7 0.1 -1.1 0.1 1.2 0.1 -2 0.1 0.1 0.1 2 0.1 -2.6 0.1 1.6 0.1 -0.2 0.1 -0.2 0.1 1.6 0.1 -2.6 0.1 0.4 0.1 -1.6 0.1 1 0.1 0.6 0.1 0.1 0.1 0.2 0.1 0.5 0.1 -1 0.1 -1.3 0.1 2.2 0.1 0.3 0.1 -1.6 0.1 0.4 0.1 2.5 0.1 -0.7 0.1 0.1 0.1 -0.4 0.1 -0.6 0.1 -0.6 0.1 1.1 0.1 -0.8 0.1 -0.2 0.1 0.4 0.1 -0.1 0.1 1 0.1 -1.8 0.1 3.4 0.1 -3.5 0.1 0.6 0.1 1.4 0.1 -1.8 0.1 0.4 0.1 0.5 0.1 -3 0.1 2.5 0.1 -0.5 0.1 0.7 0.1 0.8 0.1 0.1 0.1 0.9 0.1 0 0.1 -0.5 0.1 -1 0.1 1.1 0.1 -2.1 0.1 0.9 0.1 1.6 0.1 -0.7 0.1 -2.2 0.1 0.8 0.1 1.6 0.1 -0.3 0.1 0.4 0.1 -2.8 0.1 0.5 0.1 1 0.1 -0.7 0.1 0.9 0.1 0.1 0.1 0.3 0.1 -0.5 0.1 0.7 0.1 0.3 0.1 -0.7 0.1 -1.3 0.1 2.5 0.1 -1.1 0.1 0.2 0.1 -0.2 0.1 -1.8 0.1 2.2 0.1 -1.3 0.1 -0.5 0.1 2.5 0.1 -1.6 0.1 0.6 0.1 0.6 0.1 0.7 0.1 -3.4 0.1 1.1 0.1 1.4 0.1 -1.4 0.1 -2.6 0.1 3.4 0.1 0.1 0.1 0.6 0.1 -0.6 0.1 -0.6 0.1 0.6 0.1 -0.2 0.1 -0.5 0.1 0.8 0.1 0.1 0.1 -1.4 0.1 2 0.1 -0.2" fill="none" stroke="#0072BD" stroke-width="1.3" stroke-opacity="1.0" stroke-linejoin="round"/><path d="M297.6 264.8 L298.6 272 L300.4 305.2" fill="none" stroke="#0072BD" stroke-width="0.9" stroke-opacity="0.75" stroke-linejoin="round" stroke-linecap="round"/><path d="M300.4 305.2 L302.1 315.6" fill="none" stroke="#0072BD" stroke-width="2.0" stroke-opacity="1.0" stroke-linejoin="round" stroke-linecap="round"/><path d="M302.1 312.2l0.1 -0.1 0.1 -0.5 0.1 -0.2 0.1 -0.7 0.1 0.3 0.1 -0.4 0.1 -0.4 0.1 -0.2 0.1 -0.2 0.1 0 0.1 0.2 0.1 -0.2 0.1 -0.5 0.1 -0.2 0.1 0.2 0.1 -0.5 0.1 -0.8 0.1 -0.2 0.1 -0.5 0.1 -0.4 0.1 -0.3 0.1 -0.8 0.1 -0.4 0.1 -0.5 0.1 -0.5 0.1 -0.9 0.1 -0.4 0.1 0 0.1 -1 0.1 -0.4 0.1 -0.4 0.1 -0.6 0.1 -0.4 0.1 0 0.1 -0.5 0.1 -0.9 0.1 -0.2 0.1 -0.6 0.1 -0.4 0.1 0 0.1 0 0.1 -0.6 0.1 0.1 0.1 -0.8 0.1 0 0.1 -0.2 0.1 -0.1 0.1 0.1 0.1 -0.2 0.1 -0.4 0.1 -0.2 0.1 0.1 0.1 0 0.1 -0.2 0.1 -0.3 0.1 -0.1 0.1 0.5 0.1 -0.2 0.1 -0.3 0.1 0.1 0.1 -0.2 0.1 -0.4 0.1 -0.2 0.1 0.1 0.1 -0.4 0.1 -0.1 0.1 -0.4 0.1 -0.6 0.1 -0.5 0.1 -0.4 0.1 -0.4 0.1 -0.3 0.1 -0.4 0.1 -0.2 0.1 -0.4 0.1 -0.7 0.1 -0.4 0.1 -0.8 0.1 -0.2 0.1 -0.5 0.1 -0.1 0.1 -0.5 0.1 -0.3 0.1 -0.2 0.1 -0.7 0.1 0.2 0.1 0 0.1 0 0.1 -0.8 0.1 0 0.1 -0.5 0.1 0.7 0.1 -0.4 0.1 0 0.1 -0.5 0.1 0.3 0.1 -0.2 0.1 -0.2 0.1 -0.1 0.1 0 0.1 0 0.1 -0.3 0.1 0.6 0.1 -0.4 0.1 -0.1 0.1 -0.2 0.1 -0.3 0.1 -0.1 0.1 -0.1 0.1 -0.5 0.1 0.1 0.1 -0.7 0.1 0.1 0.1 -0.9 0.1 -0.1 0.1 -0.2 0.1 -0.2 0.1 -0.4 0.1 -1 0.1 -0.3 0.1 0.2 0.1 -0.9 0.1 -0.7 0.1 0.4 0.1 -0.5 0.1 -0.8 0.1 -0.1 0.1 0.2 0.1 -0.7 0.1 -0.3 0.1 -0.2 0.1 0.3 0.1 -1 0.1 0.4 0.1 -0.2 0.1 0 0.1 0 0.1 -0.3 0.1 0.1 0.1 -0.1 0.1 0.2 0.1 -1 0.1 0.5 0.1 0 0.1 -0.5 0.1 0.7 0.1 -0.4 0.1 -0.7 0.1 0.3 0.1 0.1 0.1 -0.4 0.1 -0.4 0.1 0.1 0.1 -0.4 0.1 -0.6 0.1 -0.1 0.1 0 0.1 -0.4 0.1 -1 0.1 -0.3 0.1 0.1 0.1 -0.6 0.1 -0.6 0.1 -0.6 0.1 -0.3 0.1 -0.2 0.1 -1.4 0.1 0.5 0.1 -0.9 0.1 -0.5 0.1 -0.1 0.1 -0.5 0.1 -0.2 0.1 0 0.1 -0.4 0.1 0.2 0.1 -0.9 0.1 0.5 0.1 -0.7 0.1 0.3 0.1 -0.3 0.1 0.3 0.1 -0.7 0.1 0.3 0.1 0.4 0.1 -0.1 0.1 -0.6 0.1 0.3 0.1 0 0.1 -0.3 0.1 0.1 0.1 -0.2 0.1 -1.2 0.1 0.7 0.1 0.7 0.1 -1.4 0.1 -0.3 0.1 -0.2 0.1 -0.6 0.1 -0.2 0.1 -0.3 0.1 0.2 0.1 -1.1 0.1 -0.1 0.1 -0.7 0.1 -0.7 0.1 -0.3 0.1 -0.5 0.1 0.4 0.1 -0.9 0.1 -0.8 0.1 0.2 0.1 0.3 0.1 -0.9 0.1 -0.3 0.1 -0.2 0.1 -0.4 0.1 -0.5 0.1 0.6 0.1 -1.7 0.1 0.8 0.1 -0.2 0.1 0.1 0.1 -0.3 0.1 0.6 0.1 0 0.1 -0.5 0.1 -0.5 0.1 0.1 0.1 0.1 0.1 -0.3 0.1 -0.1 0.1 0.9 0.1 -0.3 0.1 -0.8 0.1 0 0.1 0.1 0.1 -0.3 0.1 0.2 0.1 -0.1 0.1 -0.4 0.1 -0.6 0.1 0 0.1 -0.7 0.1 0.2 0.1 0.5 0.1 -1.2 0.1 0.2 0.1 -0.1 0.1 -0.2 0.1 -1.3 0.1 0.1 0.1 -0.4 0.1 0.4 0.1 -0.4 0.1 -1 0.1 -0.1 0.1 0.1 0.1 0.4 0.1 -1.1 0.1 0.4 0.1 -0.9 0.1 -0.3 0.1 0.6 0.1 -0.7 0.1 -0.4 0.1 1 0.1 -0.3 0.1 -0.8 0.1 0.8 0.1 -0.2 0.1 0 0.1 -0.7 0.1 0.2 0.1 -0.7 0.1 -0.1 0.1 1.1 0.1 -0.5 0.1 0.1 0.1 -0.2 0.1 -0.2 0.1 -0.1 0.1 0.2 0.1 -0.4 0.1 -0.7 0.1 0.9 0.1 0 0.1 -0.5 0.1 0.1 0.1 -0.7 0.1 -0.3 0.1 0.2 0.1 -0.4 0.1 -1 0.1 0.2 0.1 -0.1 0.1 0.7 0.1 -1.1 0.1 -0.5 0.1 -0.4 0.1 0.2 0.1 -0.3 0.1 0 0.1 -0.5 0.1 -0.3 0.1 0.4 0.1 0.2 0.1 -0.2 0.1 -0.8 0.1 0.5 0.1 0.4 0.1 -0.3 0.1 -0.4 0.1 0 0.1 0 0.1 0.2 0.1 -0.2 0.1 0.3 0.1 -0.2 0.1 0 0.1 0.2 0.1 0 0.1 -0.6 0.1 0 0.1 0.5 0.1 -0.6 0.1 -0.5 0.1 0.2 0.1 -0.3 0.1 0.4 0.1 -0.1 0.1 0.4 0.1 -0.5 0.1 0 0.1 0.2 0.1 -0.4 0.1 -0.8 0.1 0.2 0.1 -0.4 0.1 0.1 0.1 0.5 0.1 0.6 0.1 -1 0.1 -0.3 0.1 -0.5 0.1 0.3 0.1 0.5 0.1 -1.1 0.1 0.5 0.1 0.1 0.1 0 0.1 0.6 0.1 -1.1 0.1 0.1 0.1 -0.6 0.1 0.2 0.1 -0.2 0.1 0.4 0.1 0.2 0.1 0 0.1 0.1 0.1 -0.6 0.1 -0.3 0.1 0 0.1 0.3 0.1 -0.1 0.1 -0.3 0.1 0.7 0.1 -0.8 0.1 0.5 0.1 -0.3 0.1 0.4 0.1 0 0.1 -0.7 0.1 0.6 0.1 0.7 0.1 -0.8 0.1 -0.8 0.1 1.5 0.1 -1.5 0.1 0.7 0.1 -0.9 0.1 0.8 0.1 -0.5 0.1 0.3 0.1 -0.2 0.1 -0.9 0.1 -0.1 0.1 0.3 0.1 0.8 0.1 -0.3 0.1 0.4 0.1 0 0.1 0.2 0.1 -1.3 0.1 -0.1 0.1 0 0.1 1.1 0.1 -0.8 0.1 0.3 0.1 0.8 0.1 -1.2 0.1 -0.1 0.1 -0.2 0.1 1 0.1 0 0.1 -0.5 0.1 -0.2 0.1 0.1 0.1 0.2 0.1 0.4 0.1 -1.1 0.1 0.1 0.1 0.8 0.1 0 0.1 -0.4 0.1 -0.1 0.1 0.5 0.1 -0.4 0.1 -1 0.1 0.3 0.1 0.9 0.1 -0.4 0.1 0.2 0.1 -1.1 0.1 1.5 0.1 -0.5 0.1 -0.2 0.1 0.1 0.1 -0.2 0.1 0.1 0.1 -1.1 0.1 0.6 0.1 1.1 0.1 -0.6 0.1 -0.4 0.1 0.7 0.1 0.5 0.1 -0.8 0.1 0.5 0.1 -0.8 0.1 -0.6 0.1 1.8 0.1 -1.2 0.1 0.8 0.1 0.1 0.1 0.3 0.1 -1.1 0.1 0.8 0.1 -1.1 0.1 -0.2 0.1 -0.1 0.1 1 0.1 -1 0.1 2.3 0.1 -0.9 0.1 0 0.1 -0.4 0.1 0.4 0.1 -0.8 0.1 -0.3 0.1 0.1 0.1 0.8 0.1 -0.3" fill="none" stroke="#0072BD" stroke-width="2.1" stroke-opacity="1.0" stroke-linejoin="round"/></g>
<g clip-path="url(#cF)"><path d="M385.5 268.9 L400 267.8 L420 266.5 L440 265.3 L455 264.6 L461.9 264.5" fill="none" stroke="#0072BD" stroke-width="1.9" stroke-opacity="1.0" stroke-linejoin="round" stroke-linecap="round"/><path d="M461.9 264.7 L462.8 275 L464.5 310.4 L464.6 317.3 L467.1 317.3 L467.3 308" fill="none" stroke="#0072BD" stroke-width="0.8" stroke-opacity="0.6" stroke-linejoin="round" stroke-linecap="round"/><path d="M467.3 307.89 L467.5 307.57 L467.7 307.04 L467.9 306.49 L468.1 306.01 L468.3 305.64 L468.5 305.37 L468.7 305.19 L468.9 305.07 L469.1 304.96 L469.3 304.84 L469.5 304.66 L469.7 304.38 L469.9 303.99 L470.1 303.46 L470.3 302.8 L470.5 302.02 L470.7 301.14 L470.9 300.19 L471.1 299.22 L471.3 298.27 L471.5 297.38 L471.7 296.58 L471.9 295.91 L472.1 295.36 L472.3 294.95 L472.5 294.66 L472.7 294.47 L472.9 294.33 L473.1 294.22 L473.3 294.09 L473.5 293.89 L473.7 293.6 L473.9 293.19 L474.1 292.64 L474.3 291.95 L474.5 291.14 L474.7 290.23 L474.9 289.26 L475.1 288.26 L475.3 287.29 L475.5 286.39 L475.7 285.58 L475.9 284.89 L476.1 284.33 L476.3 283.91 L476.5 283.62 L476.7 283.42 L476.9 283.28 L477.1 283.17 L477.3 283.03 L477.5 282.84 L477.7 282.54 L477.9 282.12 L478.1 281.56 L478.3 280.87 L478.5 280.05 L478.7 279.14 L478.9 278.17 L479.1 277.19 L479.3 276.24 L479.5 275.37 L479.7 274.6 L479.9 273.95 L480.1 273.43 L480.3 273.04 L480.5 272.77 L480.7 272.59 L480.9 272.47 L481.1 272.36 L481.3 272.24 L481.5 272.06 L481.7 271.79 L481.9 271.41 L482.1 270.9 L482.3 270.28 L482.5 269.54 L482.7 268.73 L482.9 267.86 L483.1 266.98 L483.3 266.13 L483.5 265.34 L483.7 264.63 L483.9 264.04 L484.1 263.57 L484.3 263.21 L484.5 262.96 L484.7 262.79 L484.9 262.68 L485.1 262.59 L485.3 262.47 L485.5 262.31 L485.7 262.06 L485.9 261.72 L486.1 261.26 L486.3 260.69 L486.5 260.03 L486.7 259.31 L486.9 258.54 L487.1 257.76 L487.3 257 L487.5 256.3 L487.7 255.67 L487.9 255.13 L488.1 254.71 L488.3 254.39 L488.5 254.17 L488.7 254.02 L488.9 253.92 L489.1 253.83 L489.3 253.73 L489.5 253.58 L489.7 253.36 L489.9 253.05 L490.1 252.65 L490.3 252.15 L490.5 251.58 L490.7 250.96 L490.9 250.32 L491.1 249.7 L491.3 249.11 L491.5 248.58 L491.7 248.13 L491.9 247.76 L492.1 247.46 L492.3 247.24 L492.5 247.09 L492.7 246.99 L492.9 246.92 L493.1 246.86 L493.3 246.8 L493.5 246.7 L493.7 246.55 L493.9 246.34 L494.1 246.07 L494.3 245.74 L494.5 245.35 L494.7 244.92 L494.9 244.47 L495.1 244.02 L495.3 243.59 L495.5 243.2 L495.7 242.86 L495.9 242.58 L496.1 242.35 L496.3 242.19 L496.5 242.08 L496.7 242 L496.9 241.95 L497.1 241.9 L497.3 241.85 L497.5 241.78 L497.7 241.67 L497.9 241.52 L498.1 241.32 L498.3 241.08 L498.5 240.81 L498.7 240.53 L498.9 240.24 L499.1 239.97 L499.3 239.72 L499.5 239.51 L499.7 239.34 L499.9 239.19 L500.1 239.08 L500.3 239 L500.5 238.95 L500.7 238.91 L500.9 238.89 L501.1 238.86 L501.3 238.84 L501.5 238.81 L501.7 238.75 L501.9 238.68 L502.1 238.58 L502.3 238.47 L502.5 238.33 L502.7 238.18 L502.9 238.02 L503.1 237.86 L503.3 237.71 L503.5 237.58 L503.7 237.46 L503.9 237.37 L504.1 237.29 L504.3 237.24 L504.5 237.2 L504.7 237.18 L504.9 237.16 L505.1 237.15 L505.3 237.13 L505.5 237.11 L505.7 237.07 L505.9 237.02 L506.1 236.96 L506.3 236.88 L506.5 236.8 L506.7 236.71 L506.9 236.62 L507.1 236.54 L507.3 236.47 L507.5 236.41 L507.7 236.36 L507.9 236.32 L508.1 236.29 L508.3 236.27 L508.5 236.26 L508.7 236.25 L508.9 236.24 L509.1 236.23 L509.3 236.23 L509.5 236.22 L509.7 236.2 L509.9 236.18 L510.1 236.16 L510.3 236.13 L510.5 236.09 L510.7 236.06 L510.9 236.02 L511.1 235.98 L511.3 235.94 L511.5 235.91 L511.7 235.88 L511.9 235.85 L512.1 235.82 L512.3 235.81 L512.5 235.8 L512.7 235.8" fill="none" stroke="#0072BD" stroke-width="1.0" stroke-opacity="1.0" stroke-linejoin="round" stroke-linecap="round"/></g>
<rect x="60.7" y="4.6" width="126.9" height="151.4" fill="none" stroke="#c8c8c8" stroke-width="1.15"/>
<path d="M76.5 156v-1.6M76.5 4.6v1.6M96.5 156v-1.6M96.5 4.6v1.6M116.2 156v-1.6M116.2 4.6v1.6M136 156v-1.6M136 4.6v1.6M155.9 156v-1.6M155.9 4.6v1.6M175.6 156v-1.6M175.6 4.6v1.6M60.7 29.83h1.6M187.6 29.83h-1.6M60.7 55.07h1.6M187.6 55.07h-1.6M60.7 80.3h1.6M187.6 80.3h-1.6M60.7 105.53h1.6M187.6 105.53h-1.6M60.7 130.77h1.6M187.6 130.77h-1.6" stroke="#a6a6a6" stroke-width="1" fill="none"/>
<rect x="222.2" y="4.6" width="126.8" height="151.4" fill="none" stroke="#c8c8c8" stroke-width="1.15"/>
<path d="M237.5 156v-1.6M237.5 4.6v1.6M257.7 156v-1.6M257.7 4.6v1.6M277.4 156v-1.6M277.4 4.6v1.6M297.5 156v-1.6M297.5 4.6v1.6M317.2 156v-1.6M317.2 4.6v1.6M337.3 156v-1.6M337.3 4.6v1.6M222.2 29.83h1.6M349 29.83h-1.6M222.2 55.07h1.6M349 55.07h-1.6M222.2 80.3h1.6M349 80.3h-1.6M222.2 105.53h1.6M349 105.53h-1.6M222.2 130.77h1.6M349 130.77h-1.6" stroke="#a6a6a6" stroke-width="1" fill="none"/>
<rect x="385.4" y="6.8" width="127" height="151.2" fill="none" stroke="#c8c8c8" stroke-width="1.15"/>
<path d="M401.7 158v-1.6M401.7 6.8v1.6M421.3 158v-1.6M421.3 6.8v1.6M441.2 158v-1.6M441.2 6.8v1.6M460.7 158v-1.6M460.7 6.8v1.6M480.8 158v-1.6M480.8 6.8v1.6M500.9 158v-1.6M500.9 6.8v1.6M385.4 32h1.6M512.4 32h-1.6M385.4 57.2h1.6M512.4 57.2h-1.6M385.4 82.4h1.6M512.4 82.4h-1.6M385.4 107.6h1.6M512.4 107.6h-1.6M385.4 132.8h1.6M512.4 132.8h-1.6" stroke="#a6a6a6" stroke-width="1" fill="none"/>
<rect x="57.5" y="190.5" width="127" height="148.6" fill="none" stroke="#c8c8c8" stroke-width="1.15"/>
<path d="M67.6 339.1v-1.6M67.6 190.5v1.6M87.5 339.1v-1.6M87.5 190.5v1.6M107.4 339.1v-1.6M107.4 190.5v1.6M127.3 339.1v-1.6M127.3 190.5v1.6M147.2 339.1v-1.6M147.2 190.5v1.6M167.1 339.1v-1.6M167.1 190.5v1.6M57.5 215.27h1.6M184.5 215.27h-1.6M57.5 240.03h1.6M184.5 240.03h-1.6M57.5 264.8h1.6M184.5 264.8h-1.6M57.5 289.57h1.6M184.5 289.57h-1.6M57.5 314.33h1.6M184.5 314.33h-1.6" stroke="#a6a6a6" stroke-width="1" fill="none"/>
<rect x="221.5" y="193.1" width="126.9" height="151.2" fill="none" stroke="#c8c8c8" stroke-width="1.15"/>
<path d="M231.5 344.3v-1.6M231.5 193.1v1.6M251.5 344.3v-1.6M251.5 193.1v1.6M271.2 344.3v-1.6M271.2 193.1v1.6M291.2 344.3v-1.6M291.2 193.1v1.6M310.8 344.3v-1.6M310.8 193.1v1.6M330.8 344.3v-1.6M330.8 193.1v1.6M221.5 218.3h1.6M348.4 218.3h-1.6M221.5 243.5h1.6M348.4 243.5h-1.6M221.5 268.7h1.6M348.4 268.7h-1.6M221.5 293.9h1.6M348.4 293.9h-1.6M221.5 319.1h1.6M348.4 319.1h-1.6" stroke="#a6a6a6" stroke-width="1" fill="none"/>
<rect x="385.5" y="193.1" width="127.1" height="153.4" fill="none" stroke="#c8c8c8" stroke-width="1.15"/>
<path d="M396.2 346.5v-1.6M396.2 193.1v1.6M416.2 346.5v-1.6M416.2 193.1v1.6M436 346.5v-1.6M436 193.1v1.6M455.2 346.5v-1.6M455.2 193.1v1.6M475.1 346.5v-1.6M475.1 193.1v1.6M495.1 346.5v-1.6M495.1 193.1v1.6M385.5 218.67h1.6M512.6 218.67h-1.6M385.5 244.23h1.6M512.6 244.23h-1.6M385.5 269.8h1.6M512.6 269.8h-1.6M385.5 295.37h1.6M512.6 295.37h-1.6M385.5 320.93h1.6M512.6 320.93h-1.6" stroke="#a6a6a6" stroke-width="1" fill="none"/>
<g font-family="Liberation Sans, Arial, sans-serif" font-weight="bold" fill="#000" stroke="#000" stroke-width="0.35" stroke-linejoin="round">
<text x="75.6" y="167.6" font-size="11.7" text-anchor="middle">4</text>
<text x="97.8" y="167.6" font-size="11.7" text-anchor="middle">6</text>
<text x="117.5" y="167.6" font-size="11.7" text-anchor="middle">8</text>
<text x="137.2" y="167.6" font-size="11.7" text-anchor="middle">10</text>
<text x="157.3" y="167.6" font-size="11.7" text-anchor="middle">12</text>
<text x="177.4" y="167.6" font-size="11.7" text-anchor="middle">14</text>
<text x="57.1" y="9.38" font-size="11.7" text-anchor="end">4.5</text>
<text x="57.1" y="34.48" font-size="11.7" text-anchor="end">3</text>
<text x="57.1" y="59.58" font-size="11.7" text-anchor="end">1.5</text>
<text x="57.1" y="84.68" font-size="11.7" text-anchor="end">0</text>
<text x="57.1" y="109.78" font-size="11.7" text-anchor="end">-1.5</text>
<text x="57.1" y="134.88" font-size="11.7" text-anchor="end">-3</text>
<text x="57.1" y="159.98" font-size="11.7" text-anchor="end">-4.5</text>
<text x="238.2" y="168" font-size="11.7" text-anchor="middle">4</text>
<text x="261" y="168" font-size="11.7" text-anchor="middle">6</text>
<text x="280" y="168" font-size="11.7" text-anchor="middle">8</text>
<text x="300.1" y="168" font-size="11.7" text-anchor="middle">10</text>
<text x="320" y="168" font-size="11.7" text-anchor="middle">12</text>
<text x="340.8" y="168" font-size="11.7" text-anchor="middle">14</text>
<text x="219.8" y="9.33" font-size="11.7" text-anchor="end">4.5</text>
<text x="219.8" y="34.44" font-size="11.7" text-anchor="end">3</text>
<text x="219.8" y="59.54" font-size="11.7" text-anchor="end">1.5</text>
<text x="219.8" y="84.65" font-size="11.7" text-anchor="end">0</text>
<text x="219.8" y="109.76" font-size="11.7" text-anchor="end">-1.5</text>
<text x="219.8" y="134.87" font-size="11.7" text-anchor="end">-3</text>
<text x="219.8" y="159.98" font-size="11.7" text-anchor="end">-4.5</text>
<text x="401.5" y="169" font-size="11.7" text-anchor="middle">4</text>
<text x="424.5" y="169" font-size="11.7" text-anchor="middle">6</text>
<text x="444" y="169" font-size="11.7" text-anchor="middle">8</text>
<text x="463.4" y="169" font-size="11.7" text-anchor="middle">10</text>
<text x="483.6" y="169" font-size="11.7" text-anchor="middle">12</text>
<text x="503.8" y="169" font-size="11.7" text-anchor="middle">14</text>
<text x="381.7" y="11.48" font-size="11.7" text-anchor="end">4.5</text>
<text x="381.7" y="36.58" font-size="11.7" text-anchor="end">3</text>
<text x="381.7" y="61.68" font-size="11.7" text-anchor="end">1.5</text>
<text x="381.7" y="86.78" font-size="11.7" text-anchor="end">0</text>
<text x="381.7" y="111.88" font-size="11.7" text-anchor="end">-1.5</text>
<text x="381.7" y="136.98" font-size="11.7" text-anchor="end">-3</text>
<text x="381.7" y="162.08" font-size="11.7" text-anchor="end">-4.5</text>
<text x="70.4" y="350.5" font-size="11.7" text-anchor="middle">10</text>
<text x="90.5" y="350.5" font-size="11.7" text-anchor="middle">12</text>
<text x="108" y="350.5" font-size="11.7" text-anchor="middle">14</text>
<text x="128.6" y="350.5" font-size="11.7" text-anchor="middle">16</text>
<text x="148.5" y="350.5" font-size="11.7" text-anchor="middle">18</text>
<text x="168.4" y="350.5" font-size="11.7" text-anchor="middle">20</text>
<text x="55" y="194.98" font-size="11.7" text-anchor="end">4.5</text>
<text x="55" y="220.01" font-size="11.7" text-anchor="end">3</text>
<text x="55" y="245.04" font-size="11.7" text-anchor="end">1.5</text>
<text x="55" y="270.08" font-size="11.7" text-anchor="end">0</text>
<text x="55" y="295.11" font-size="11.7" text-anchor="end">-1.5</text>
<text x="55" y="320.14" font-size="11.7" text-anchor="end">-3</text>
<text x="55" y="345.18" font-size="11.7" text-anchor="end">-4.5</text>
<text x="233.4" y="355.3" font-size="11.7" text-anchor="middle">10</text>
<text x="253.6" y="355.3" font-size="11.7" text-anchor="middle">12</text>
<text x="270.2" y="355.3" font-size="11.7" text-anchor="middle">14</text>
<text x="290.8" y="355.3" font-size="11.7" text-anchor="middle">16</text>
<text x="311.5" y="355.3" font-size="11.7" text-anchor="middle">18</text>
<text x="331" y="355.3" font-size="11.7" text-anchor="middle">20</text>
<text x="219.1" y="196.58" font-size="11.7" text-anchor="end">4.5</text>
<text x="219.1" y="221.68" font-size="11.7" text-anchor="end">3</text>
<text x="219.1" y="246.78" font-size="11.7" text-anchor="end">1.5</text>
<text x="219.1" y="271.88" font-size="11.7" text-anchor="end">0</text>
<text x="219.1" y="296.98" font-size="11.7" text-anchor="end">-1.5</text>
<text x="219.1" y="322.08" font-size="11.7" text-anchor="end">-3</text>
<text x="219.1" y="347.18" font-size="11.7" text-anchor="end">-4.5</text>
<text x="398.4" y="359.1" font-size="11.7" text-anchor="middle">10</text>
<text x="418.6" y="359.1" font-size="11.7" text-anchor="middle">12</text>
<text x="435.3" y="359.1" font-size="11.7" text-anchor="middle">14</text>
<text x="456.2" y="359.1" font-size="11.7" text-anchor="middle">16</text>
<text x="476" y="359.1" font-size="11.7" text-anchor="middle">18</text>
<text x="496" y="359.1" font-size="11.7" text-anchor="middle">20</text>
<text x="378.1" y="197.38" font-size="11.7" text-anchor="end">4.5</text>
<text x="378.1" y="222.48" font-size="11.7" text-anchor="end">3</text>
<text x="378.1" y="247.58" font-size="11.7" text-anchor="end">1.5</text>
<text x="378.1" y="272.68" font-size="11.7" text-anchor="end">0</text>
<text x="378.1" y="297.78" font-size="11.7" text-anchor="end">-1.5</text>
<text x="378.1" y="322.88" font-size="11.7" text-anchor="end">-3</text>
<text x="378.1" y="347.98" font-size="11.7" text-anchor="end">-4.5</text>
<text transform="matrix(1.0143 0 0 1 92.04 180.55)" font-size="11.30">Time(s)</text>
<text transform="matrix(0.9767 0 0 1 252.94 180.95)" font-size="11.74">Time(s)</text>
<text transform="matrix(0.9596 0 0 1 414.14 182.65)" font-size="11.74">Time(s)</text>
<text transform="matrix(1.0390 0 0 1 91.64 363.75)" font-size="10.87">Time(s)</text>
<text transform="matrix(1.0014 0 0 1 256.94 368.15)" font-size="11.45">Time(s)</text>
<text transform="matrix(0.9713 0 0 1 418.14 372.15)" font-size="11.45">Time(s)</text>
<text transform="matrix(1.0148 0 0 1 164.92 180.43)" font-size="11.69">×10</text>
<text transform="matrix(0.7964 0 0 1 185.95 177.27)" font-size="10.83" stroke-width="0.2">-</text>
<text transform="matrix(1.0182 0 0 1 188.76 176.12)" font-size="7.86" stroke-width="0.25">5</text>
<text transform="matrix(1.0308 0 0 1 326.61 181.13)" font-size="11.69">×10</text>
<text transform="matrix(0.7964 0 0 1 348.05 178.27)" font-size="10.83" stroke-width="0.2">-</text>
<text transform="matrix(0.9927 0 0 1 350.87 177.12)" font-size="7.86" stroke-width="0.25">5</text>
<text transform="matrix(1.0308 0 0 1 487.33 182.44)" font-size="11.27">×10</text>
<text transform="matrix(0.7964 0 0 1 508.35 179.57)" font-size="10.83" stroke-width="0.2">-</text>
<text transform="matrix(1.1804 0 0 1 511.14 178.43)" font-size="7.29" stroke-width="0.25">5</text>
<text transform="matrix(1.0148 0 0 1 164.92 364.43)" font-size="11.69">×10</text>
<text transform="matrix(0.7964 0 0 1 185.65 361.27)" font-size="10.83" stroke-width="0.2">-</text>
<text transform="matrix(1.2133 0 0 1 188.47 360.14)" font-size="6.43" stroke-width="0.25">5</text>
<text transform="matrix(1.0474 0 0 1 330.62 367.74)" font-size="11.27">×10</text>
<text transform="matrix(0.7964 0 0 1 351.65 364.57)" font-size="10.83" stroke-width="0.2">-</text>
<text transform="matrix(1.2542 0 0 1 354.44 363.43)" font-size="6.86" stroke-width="0.25">5</text>
<text transform="matrix(1.0694 0 0 1 490.71 371.84)" font-size="11.27">×10</text>
<text transform="matrix(0.7964 0 0 1 512.15 368.97)" font-size="10.83" stroke-width="0.2">-</text>
<text transform="matrix(0.9882 0 0 1 514.98 367.83)" font-size="7.29" stroke-width="0.25">5</text>
<text transform="translate(34.90 111.30) rotate(-90) matrix(1.0166 0 0 1 -0.76 0)" font-size="11.45">Distance(nm)</text>
<text transform="translate(34.40 307.10) rotate(-90) matrix(1.0223 0 0 1 -0.76 0)" font-size="11.45">Distance(nm)</text>
<text transform="matrix(0.8415 0 0 1 0.87 86.30)" font-size="13.33">PE</text>
<text transform="matrix(0.7728 0 0 1 1.49 266.80)" font-size="14.20">PS</text>
</g>
<g font-family="Liberation Sans, Arial, sans-serif" fill="#1a1a1a" stroke="#1a1a1a" stroke-width="0.3">
<text transform="matrix(0.5881 0 0 1 65.36 22.20)" font-size="13.14">A</text>
<text transform="matrix(0.5350 0 0 1 225.73 22.26)" font-size="13.94">C</text>
<text transform="matrix(0.4484 0 0 1 389.80 24.60)" font-size="13.91">E</text>
<text transform="matrix(0.6518 0 0 1 61.60 208.50)" font-size="13.48">B</text>
<text transform="matrix(0.5732 0 0 1 226.72 210.20)" font-size="12.61">D</text>
<text transform="matrix(0.4694 0 0 1 390.78 211.60)" font-size="13.91">F</text>
</g>
</svg>
</body></html>
